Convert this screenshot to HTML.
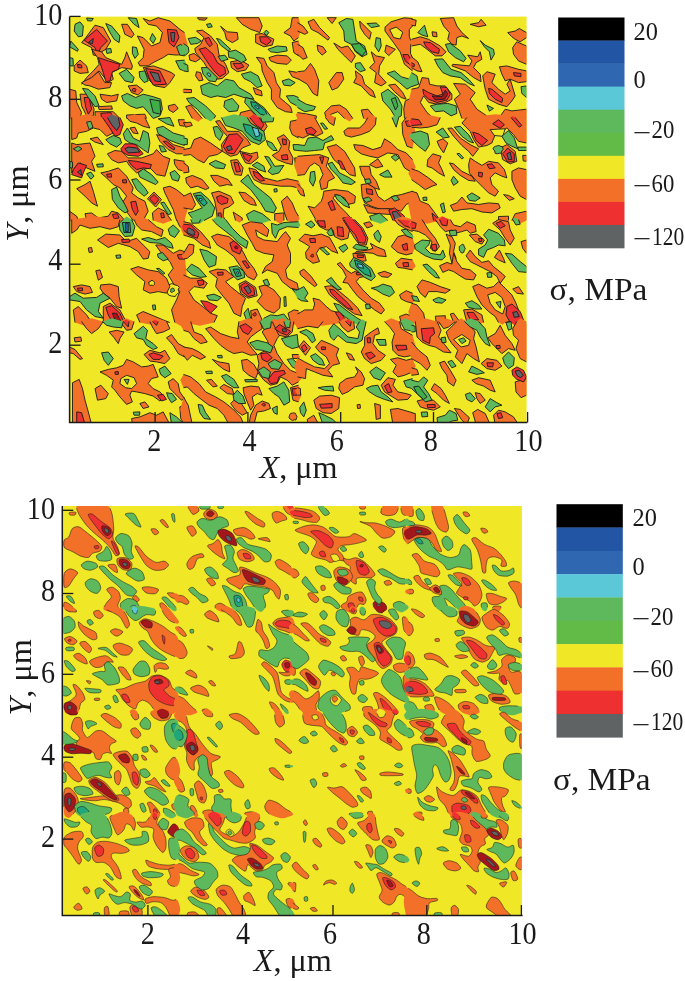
<!DOCTYPE html>
<html><head><meta charset="utf-8"><title>Stress maps</title>
<style>html,body{margin:0;padding:0;background:#fff}</style></head>
<body>
<svg width="685" height="981" viewBox="0 0 685 981" style="display:block">
<rect width="685" height="981" fill="#fff"/>
<clipPath id="c1"><rect x="69.6" y="16.6" width="457.0" height="405.9"/></clipPath>
<rect x="69.6" y="16.6" width="457.0" height="405.9" fill="#f0e826"/>
<g clip-path="url(#c1)" stroke="#1a1a1a" stroke-width="0.90" stroke-linejoin="round">
<path d="M85.8 37.6 95 25.2 103.3 27.6 110.8 41 105.8 49.3 101.6 51.8 99.1 55.9 93.3 55.1 91.6 47.6 81.6 42.6Z" fill="#f37028"/>
<path d="M84.1 40.1 96.6 29.3 107.4 41 100.8 47.6 97.5 54.3 95 47.6Z" fill="#ee3030"/>
<path d="M88.3 42.6 93.3 38.5 92.5 43.5Z" fill="#5f6364"/>
<path d="M91.6 49.3 101.6 51.8 105.8 57.6 121.6 64.3 124.9 57.6 126.6 51.8 132.4 65.9 131.6 69.3 121.6 67.6 111.6 72.6 113.3 79.2 108.3 82.6 99.1 70.9 91.6 77.6 85 81.7 81.6 84.2 86.6 77.6 93.3 70.9 99.1 64.3 97.5 57.6Z" fill="#f37028"/>
<path d="M98.3 57.6 108.3 60.9 119.9 64.3 118.3 69.3 112.4 71.7 109.9 80.9 105.8 81.7 103.3 72.6Z" fill="#ee3030"/>
<path d="M74.2 65.9 80 60.1 86.6 65.9 88.3 72.6 80 73.4 74.2 70.9Z" fill="#f37028"/>
<path d="M77.5 64.3 81.6 65.1 82 67.9 78 67.6Z" fill="#ee3030"/>
<path d="M81.6 82.6 91.6 77.6 98.3 71.7 104.9 82.6 111.6 82.6 109.9 87.6 98.3 89.2 90 85.9 85 85.1Z" fill="#f37028"/>
<path d="M121.6 24.3 127.4 24.3 134.1 34.3 131.6 37.6 124.9 34.3Z" fill="#f37028"/>
<path d="M143.2 18.5 149.9 21 158.2 17.7 169.9 21 179.8 29.3 184.5 32.6 187.7 44.4 184.5 54.3 176.5 55.1 168.2 54.3 163.2 57.6 153.2 62.6 148.2 65.9 139.9 65.9 138.2 62.6 143.2 57.6 144.1 49.3 139.9 41 137.4 36 143.2 37.6 151.5 46 159.9 42.6 162.4 32.6 156.5 26 148.2 24.3Z" fill="#f37028" stroke="none"/>
<path d="M184.5 54.3L176.5 55.1L168.2 54.3L163.2 57.6L153.2 62.6L148.2 65.9L139.9 65.9L138.2 62.6L143.2 57.6L144.1 49.3L139.9 41L137.4 36L143.2 37.6L151.5 46L159.9 42.6L162.4 32.6L156.5 26L148.2 24.3L143.2 18.5L149.9 21L158.2 17.7L169.9 21L179.8 29.3L184.5 32.6" fill="none"/>
<path d="M167.4 29.3 176.5 30.1 179 37.6 174 46.8 169 42.6Z" fill="#ee3030"/>
<path d="M170.7 32.6 174.8 32.6 174 41.8 171.5 41Z" fill="#5f6364"/>
<path d="M143.2 67.6 153.2 65.9 163.2 69.3 171.5 72.6 174.8 75.1 169.9 82.6 164.9 87.6 154.9 85.9 149.9 80.9Z" fill="#f37028"/>
<path d="M145.7 68.4 159.9 70.9 166.5 84.2 153.2 85.1 149 77.6Z" fill="#ee3030"/>
<path d="M149.9 71.7 158.2 73.4 160.7 81.7 154.9 80.9Z" fill="#5f6364"/>
<path d="M128.2 85.9 136.6 85.1 143.2 90.1 138.2 95 131.6 92.6Z" fill="#f37028"/>
<path d="M136 89.9 135.5 90.8 135.3 91.8 133.8 91.6 133.4 91.3 132.2 90.8 131.9 89.9 132.7 89.3 133.1 88.4 134.2 88.7 135.1 88.3 135.8 89.3Z" fill="#ee3030"/>
<path d="M80 94.2 88.3 94.2 94.1 109.2 93.3 115.9 86.6 115.9 81.6 105.9Z" fill="#f37028"/>
<path d="M84.1 97.5 89.1 97.5 91.6 109.2 88.3 114.2 85.8 107.5Z" fill="#ee3030"/>
<path d="M69.5 89.2 75.8 90.9 76.7 102.5 81.6 112.5 80 118.5 76 121.7 69.5 118.5 66.3 102.7Z" fill="#f37028" stroke="none"/>
<path d="M69.5 89.2L75.8 90.9L76.7 102.5L81.6 112.5L80 118.5" fill="none"/>
<path d="M100 94.2 111.6 95.9 118.3 94.2 116.6 100.9 106.6 102.5 101.6 99.2Z" fill="#f37028"/>
<path d="M98.3 106.7 111.6 105.9 112.4 109.2 99.1 109.5Z" fill="#f37028"/>
<path d="M95 111.7 113.3 111.7 119.9 118.5 108.4 121.7 95 118.5Z" fill="#f37028" stroke="none"/>
<path d="M95 118.5L95 111.7L113.3 111.7L119.9 118.5" fill="none"/>
<path d="M100.8 113.4 110.8 112.5 113.3 118.5 108.4 121.7 101.6 118.5Z" fill="#ee3030" stroke="none"/>
<path d="M101.6 118.5L100.8 113.4L110.8 112.5L113.3 118.5" fill="none"/>
<path d="M168.2 105.9 174.8 104.2 178.2 108.4 173.2 112.5 169 110Z" fill="#f37028"/>
<path d="M126.6 115 144.9 114.2 146.6 118.5 137.5 121.7 126.6 118.5Z" fill="#f37028" stroke="none"/>
<path d="M126.6 118.5L126.6 115L144.9 114.2L146.6 118.5" fill="none"/>
<path d="M75 24.3 80 21.8 83.3 26 82.5 36 78.3 36.8 74.2 31Z" fill="#5eb95c"/>
<path d="M86.6 18 93.3 18.5 91.6 21 87.5 20.7Z" fill="#5eb95c"/>
<path d="M105.8 23.5 111.6 26 119.9 36 119.1 42.6 114.1 39.3 109.1 31Z" fill="#5eb95c"/>
<path d="M128.2 17.7 136.6 18.5 139.1 27.6 134.1 24.3Z" fill="#5eb95c"/>
<path d="M152.4 33.5 155.7 38.5 153.2 43.5 149.9 39.3Z" fill="#5eb95c"/>
<path d="M132.4 46.8 136.6 47.6 138.2 54.3 134.9 58.4 132.4 53.4Z" fill="#5eb95c"/>
<path d="M105.8 49 110.8 48.5 111.6 52.6 106.9 53.4Z" fill="#5eb95c"/>
<path d="M70.8 41 78.3 49.3 77.5 51.3 69.5 46.8Z" fill="#5eb95c"/>
<path d="M119.1 73.4 126.6 69.3 134.1 77.6 132.4 82.6 124.9 80.9Z" fill="#5eb95c"/>
<path d="M139.1 71.7 144.9 70.9 148.2 80.9 144.1 82.6 139.9 77.6Z" fill="#5eb95c"/>
<path d="M121.6 95.9 127.4 93.4 135.7 97.5 143.2 94.2 153.2 96.7 160.7 99.2 162.4 109.2 159.9 115.9 153.2 118.5 148.2 112.5 143.2 106.7 136.6 108.4 129.9 105.9 123.3 100.9Z" fill="#5eb95c"/>
<path d="M149.9 99.2 159.9 100.9 160.7 114.2 153.2 112.5Z" fill="#3fae49"/>
<path d="M82.5 88.4 88.3 89.2 95 95.9 99.1 105.9 95 106.7 88.3 97.5Z" fill="#5eb95c"/>
<path d="M175.7 60.9 184.5 60.1 187.7 66.5 184.5 70.9 179.8 69.3Z" fill="#5eb95c" stroke="none"/>
<path d="M184.5 70.9L179.8 69.3L175.7 60.9L184.5 60.1" fill="none"/>
<path d="M176.5 46.8 180.7 44.3 184.5 47.6 187.4 52.7 184.5 55.9 179.8 55.1Z" fill="#5eb95c" stroke="none"/>
<path d="M184.5 55.9L179.8 55.1L176.5 46.8L180.7 44.3L184.5 47.6" fill="none"/>
<path d="M183.7 50 183.6 50.8 182.9 51.1 182.3 51 182 50.5 181.8 49.7 182.4 49.1 183.2 49 183.4 49.5Z" fill="#5bc8d8"/>
<path d="M69.5 57.6 73 58.4 73.3 65.9 69.5 65.9 66.6 60.9Z" fill="#5eb95c" stroke="none"/>
<path d="M69.5 57.6L73 58.4L73.3 65.9L69.5 65.9" fill="none"/>
<path d="M236.4 17.7 258.9 17.7 262.2 26 259.7 32.6 255.6 31 250.6 29.3 242.2 24.3Z" fill="#f37028"/>
<path d="M255.6 34.3 262.2 33.5 273.9 39.3 272.2 45.1 263.9 46.8 255.6 42.6Z" fill="#f37028"/>
<path d="M259.7 36.8 267.2 36.8 271.4 41 266.4 45.1 260.6 41.8Z" fill="#ee3030"/>
<path d="M220.6 26.3 227.3 31.8 237.3 32.6 238.1 39.3 232.3 42.6 226.4 39.3 224.8 32.6Z" fill="#f37028"/>
<path d="M196.5 31 202.3 30.1 210.6 36 217.3 44.3 218.9 54.3 225.6 64.3 228.9 72.6 222.3 78.4 217.3 79.2 209 70.9 204 62.6 195.6 52.6 194.8 48.5 200.6 44.3 204 37.6Z" fill="#f37028"/>
<path d="M199 49.3 205.6 47.6 213.1 54.3 217.3 62.6 224.8 67.6 225.6 73.4 219.8 76.7 214 70.9 209 64.3 205.6 59.3Z" fill="#ee3030"/>
<path d="M204.8 38.5 209 37.6 212.3 44.3 209.8 46.8 206.5 42.6Z" fill="#ee3030"/>
<path d="M189 55.1 194 53.4 200.6 58.4 195.6 61.8 189.8 60.1Z" fill="#f37028"/>
<path d="M196.5 71.7 200.6 72.6 203.1 80.1 199 80.9 195.6 75.9Z" fill="#f37028"/>
<path d="M230.6 61.8 240.6 60.1 248.9 65.1 245.6 70.1 237.3 71.7 231.4 67.6Z" fill="#f37028"/>
<path d="M233.1 63.4 241.4 63.4 243.9 66.8 237.3 69.3Z" fill="#ee3030"/>
<path d="M256.4 57.3 263.9 58.4 267.2 65.9 273.9 72.6 276.4 82.6 280.5 89.2 279.7 97.5 285.5 102.5 290.5 106.7 292.2 112.5 285.5 111.7 277.2 107.5 271.4 99.2 271.4 89.2 267.2 82.6 262.2 70.9 261.4 64.3Z" fill="#f37028"/>
<path d="M268.9 57.6 277.2 55.1 287.2 55.9 291.3 60.1 287.2 64.3 277.2 63.4 270.5 60.9Z" fill="#f37028"/>
<path d="M292.2 17.7 298.5 17.7 301.7 28.6 298.5 37.6 293.8 41 290.5 36 283.9 32.6 290.5 27.6Z" fill="#f37028" stroke="none"/>
<path d="M298.5 37.6L293.8 41L290.5 36L283.9 32.6L290.5 27.6L292.2 17.7L298.5 17.7" fill="none"/>
<path d="M292.2 42.6 298.5 41 301.7 49.4 298.5 55.9 293.8 52.6Z" fill="#f37028" stroke="none"/>
<path d="M298.5 55.9L293.8 52.6L292.2 42.6L298.5 41" fill="none"/>
<path d="M288.8 70.9 298.5 72.6 300.8 76.6 298.5 79.2 292.2 76.7Z" fill="#f37028" stroke="none"/>
<path d="M298.5 79.2L292.2 76.7L288.8 70.9L298.5 72.6" fill="none"/>
<path d="M253.1 87.6 261.4 90.9 262.2 95.9 255.6 94.2Z" fill="#f37028"/>
<path d="M185.7 106.7 190.7 105 202.3 118.5 198.3 121.7 192.3 118.5Z" fill="#f37028" stroke="none"/>
<path d="M192.3 118.5L185.7 106.7L190.7 105L202.3 118.5" fill="none"/>
<path d="M240.6 112.5 250.6 110 258.9 118.5 249.9 121.7 238.9 118.5Z" fill="#f37028" stroke="none"/>
<path d="M238.9 118.5L240.6 112.5L250.6 110L258.9 118.5" fill="none"/>
<path d="M197.3 17.7 207.3 18 204.8 20.2 199 19.7Z" fill="#f37028"/>
<path d="M183.5 89.2 191.5 89.6 191.5 92.6 183.5 92.6 182.3 90.5Z" fill="#f37028" stroke="none"/>
<path d="M183.5 89.2L191.5 89.6L191.5 92.6L183.5 92.6" fill="none"/>
<path d="M206.5 24.3 210.6 23.5 212.3 26.8 208.1 27.6Z" fill="#5eb95c"/>
<path d="M188.2 38.5 195.6 37.3 201.5 41 197.3 43.5 190.7 44.3Z" fill="#5eb95c"/>
<path d="M183.5 43.5 188.2 46.8 189 51.8 185.7 55.1 183.5 55.1 180.3 48.3Z" fill="#5eb95c" stroke="none"/>
<path d="M183.5 43.5L188.2 46.8L189 51.8L185.7 55.1L183.5 55.1" fill="none"/>
<path d="M183.5 63.4 187.7 65.1 188.2 71.7 183.5 70.9 180.9 66.4Z" fill="#5eb95c" stroke="none"/>
<path d="M183.5 63.4L187.7 65.1L188.2 71.7L183.5 70.9" fill="none"/>
<path d="M216.5 38.5 219.8 39.3 230.6 49.3 228.1 50.9 220.6 45.1Z" fill="#5eb95c"/>
<path d="M228.1 51.8 235.6 50.1 243.9 55.1 246.4 60.1 241.4 62.6 233.9 58.4 228.9 57.6Z" fill="#5eb95c"/>
<path d="M218.1 56.3 224.8 55.1 228.1 59.3 221.4 61.3Z" fill="#5eb95c"/>
<path d="M266.4 30.1 268.9 32.6 266.4 35.6 263.9 32.6Z" fill="#5eb95c"/>
<path d="M268 49.3 277.2 46 286.3 46.8 287.2 50.9 277.2 52.6 270.5 51.8Z" fill="#5eb95c"/>
<path d="M241.4 74.2 250.6 71.7 258.1 75.9 262.2 85.9 257.2 87.6 250.6 81.7 243.9 78.4Z" fill="#5eb95c"/>
<path d="M282.2 80.9 288.8 78.9 295.2 82.6 290.5 85.9 283.9 85.1Z" fill="#5eb95c"/>
<path d="M286.3 95.9 293.8 95.5 298.5 97.5 301.7 103.1 298.5 106.7 290.5 102.5Z" fill="#5eb95c" stroke="none"/>
<path d="M298.5 106.7L290.5 102.5L286.3 95.9L293.8 95.5L298.5 97.5" fill="none"/>
<path d="M200.6 85.9 209 82.6 217.3 85.9 225.6 79.2 233.9 80.9 238.9 87.6 250.6 94.2 253.9 99.2 243.9 97.5 233.9 94.2 225.6 97.5 217.3 95.9 210.6 97.5 202.3 94.2Z" fill="#5eb95c"/>
<path d="M201.5 67.6 207.3 67.6 217.3 77.6 215.6 81.7 209 80.9 203.1 74.2Z" fill="#5eb95c"/>
<path d="M210.8 76 210.2 76.3 209 76.2 208 75.5 207.1 74.2 207.2 73.7 207.7 72.8 208.7 73 209.3 73.1 210.6 74.5 210.5 75.2Z" fill="#5bc8d8"/>
<path d="M186.5 98.4 194 97.5 205.6 105.9 215.6 115.9 214 118.5 210.7 121.4 205.6 118.5 197.3 109.2 189 102.5Z" fill="#5eb95c" stroke="none"/>
<path d="M205.6 118.5L197.3 109.2L189 102.5L186.5 98.4L194 97.5L205.6 105.9L215.6 115.9L214 118.5" fill="none"/>
<path d="M224.8 100.9 232.3 98.4 238.9 105.9 237.3 110.9 228.9 111.7 223.9 106.7Z" fill="#5eb95c"/>
<path d="M245.6 97.5 252.2 99.2 263.9 107.5 270.5 115.9 268.9 118.5 264.8 121.7 258.9 118.5 250.6 109.2 244.7 102.5Z" fill="#5eb95c" stroke="none"/>
<path d="M258.9 118.5L250.6 109.2L244.7 102.5L245.6 97.5L252.2 99.2L263.9 107.5L270.5 115.9L268.9 118.5" fill="none"/>
<path d="M250.6 101.7 255.6 102.5 265.5 110.9 267.2 115.9 260.6 114.2 252.2 106.7Z" fill="#1fa77a"/>
<path d="M259.1 108.7 258.6 108.8 257.5 108.6 256.4 107.9 255.4 106.8 254.8 106.1 255.3 105.4 255.5 105.1 256.7 105.9 257.8 106.4 258.8 107.2 259.2 108.2Z" fill="#5bc8d8"/>
<path d="M297.5 22.7 303 26 308 32.6 304.7 34.3 297.5 31 294.6 25.9Z" fill="#f37028" stroke="none"/>
<path d="M297.5 22.7L303 26L308 32.6L304.7 34.3L297.5 31" fill="none"/>
<path d="M308 21.8 313.8 19.3 319.6 27.6 329.6 37.6 328 40.1 318 32.6 311.3 29.3Z" fill="#f37028"/>
<path d="M327.1 17.7 336.3 17.7 332.1 23.5Z" fill="#f37028"/>
<path d="M297.5 44.3 303 47.6 307.2 57.6 303 59.3 297.5 54.3 294.3 48.3Z" fill="#f37028" stroke="none"/>
<path d="M297.5 44.3L303 47.6L307.2 57.6L303 59.3L297.5 54.3" fill="none"/>
<path d="M317.1 45.1 323 46.8 326.3 51.8 322.1 55.1 318 50.9Z" fill="#f37028"/>
<path d="M333.8 43 341.3 47.6 347.9 46 355.4 55.9 351.3 62.6 344.6 55.9 337.9 49.3Z" fill="#f37028"/>
<path d="M297.5 71.7 304.7 70.9 310.5 63.4 314.6 69.3 318.8 80.9 317.6 95.9 313 93.4 307.2 84.2 297.5 78.4 295.2 74.4Z" fill="#f37028" stroke="none"/>
<path d="M297.5 71.7L304.7 70.9L310.5 63.4L314.6 69.3L318.8 80.9L317.6 95.9L313 93.4L307.2 84.2L297.5 78.4" fill="none"/>
<path d="M328.8 82.6 336.3 72.6 342.1 72.6 343.8 79.2 337.9 87.6 332.1 90.1Z" fill="#f37028"/>
<path d="M355.4 70.9 362.1 75.9 364.6 84.2 372.9 90.9 375.4 97.5 369.6 95 361.2 85.9 353.7 82.6 356.2 77.6Z" fill="#f37028"/>
<path d="M371.2 51.8 376.2 55.9 384.5 57.6 379.5 65.9 378.7 74.2 386.2 82.6 381.2 85.9 374.6 82.6 376.2 72.6 369.6 67.6 374.6 62.6Z" fill="#f37028"/>
<path d="M359.6 21 364.6 26 371.2 32.6 369.6 39.3 364.6 34.3 360.4 27.6Z" fill="#f37028"/>
<path d="M386.2 45.1 395.4 49.3 388.7 55.6 384.9 51.8Z" fill="#f37028"/>
<path d="M385 27.1 391 21.8 404.2 17.8 412.5 18.5 415.1 23 412.5 26 409.3 29.6 409.3 36.3 410.8 41 410.5 53.4 412.5 57.6 415.7 65.2 412.5 70.9 404.5 64.3 400.2 52.1 393.7 42.8 385 31Z" fill="#f37028" stroke="none"/>
<path d="M412.5 26L409.3 29.6L409.3 36.3L410.8 41L410.5 53.4L412.5 57.6M412.5 70.9L404.5 64.3L400.2 52.1L393.7 42.8L385 31L385 27.1L391 21.8L404.2 17.8L412.5 18.5" fill="none"/>
<path d="M389.7 29.6 396.2 27.1 402.8 32.3 400.2 39 393.7 37.6Z" fill="#f0e826"/>
<path d="M402.8 54.6 408 54.6 412.5 61.8 414.1 64.6 412.5 66.4 405.5 61.3Z" fill="#ee3030" stroke="none"/>
<path d="M412.5 66.4L405.5 61.3L402.8 54.6L408 54.6L412.5 61.8" fill="none"/>
<path d="M388.7 85.1 395.4 84.2 402.8 92.6 406.2 99.2 401.2 97.5 394.5 91.7Z" fill="#f37028"/>
<path d="M405.3 100.9 412.5 97.5 415.7 108.7 412.5 118.5 409 121.1 404.5 118.5 403.7 109.2Z" fill="#f37028" stroke="none"/>
<path d="M404.5 118.5L403.7 109.2L405.3 100.9L412.5 97.5" fill="none"/>
<path d="M324.6 112.5 331.3 105.9 339.6 105 346.3 109.2 352.9 118.5 349.6 121.4 344.6 118.5 337.9 111.7 331.3 114.2 326.3 118.5Z" fill="#f37028" stroke="none"/>
<path d="M344.6 118.5L337.9 111.7L331.3 114.2L326.3 118.5L324.6 112.5L331.3 105.9L339.6 105L346.3 109.2L352.9 118.5" fill="none"/>
<path d="M361.2 110 367.9 109.2 375.4 118.5 370.5 121.7 363.7 118.5Z" fill="#f37028" stroke="none"/>
<path d="M363.7 118.5L361.2 110L367.9 109.2L375.4 118.5" fill="none"/>
<path d="M297.5 112.5 308 114.2 316.3 115.9 316.3 118.5 308.1 121.7 297.5 118.5 295.6 114.7Z" fill="#f37028" stroke="none"/>
<path d="M297.5 112.5L308 114.2L316.3 115.9L316.3 118.5" fill="none"/>
<path d="M338.8 22.7 346.3 18.5 352.9 19.3 356.2 41 364.6 46 367.1 54.3 362.1 56.8 355.4 51.8 351.3 44.3 344.6 41 343.8 31Z" fill="#5eb95c"/>
<path d="M351.3 44.3 359.6 43.5 366.2 50.9 362.1 55.9 355.4 50.9Z" fill="#3fae49"/>
<path d="M367.1 23.5 376.2 23 379.5 26 371.2 27.6Z" fill="#5eb95c"/>
<path d="M376.2 37.6 380.4 38.5 381.2 46 378.7 51.8 374.9 46Z" fill="#5eb95c"/>
<path d="M355.4 63.4 360.4 62.6 365.4 70.1 360.4 71.7 355.4 67.6Z" fill="#5eb95c"/>
<path d="M387 73.4 394.5 70.9 401.2 76.7 412.5 80.1 414.5 83.6 412.5 85.9 407 89.2 399.5 82.6 392.9 77.6Z" fill="#5eb95c" stroke="none"/>
<path d="M412.5 85.9L407 89.2L399.5 82.6L392.9 77.6L387 73.4L394.5 70.9L401.2 76.7L412.5 80.1" fill="none"/>
<path d="M381.2 93.4 387.9 89.2 397.9 97.5 402 105.9 401.2 115.9 396.2 118.5 390.4 109.2 382.9 100.9Z" fill="#5eb95c"/>
<path d="M391.2 99.2 395.4 97.5 397.9 105.9 395.4 110Z" fill="#3fae49"/>
<path d="M297.5 99.2 306.3 104.2 315.5 106.7 313.8 110 304.7 111.7 297.5 107.5 294.6 102.5Z" fill="#5eb95c" stroke="none"/>
<path d="M297.5 99.2L306.3 104.2L315.5 106.7L313.8 110L304.7 111.7L297.5 107.5" fill="none"/>
<path d="M411.5 19.3 416.2 20.2 415.3 26 411.5 25.2 409.5 21.6Z" fill="#f37028" stroke="none"/>
<path d="M411.5 19.3L416.2 20.2L415.3 26L411.5 25.2" fill="none"/>
<path d="M440.3 18.5 453.6 17.7 456.9 26 461.9 32.6 468.6 38.5 461.9 36 456.9 37.6 456.1 45.1 451.9 44.3 447.8 39.3 449.4 32.6 443.6 26Z" fill="#f37028"/>
<path d="M470.2 24.3 478.6 22.7 481.1 19.3 486.1 25.2 478.6 26.8Z" fill="#f37028"/>
<path d="M432 31.8 436.6 32.3 437 36.8 432.8 36.3Z" fill="#f37028"/>
<path d="M507.7 32.6 515.2 31 519.3 28.5 526.5 32.6 528.2 35.7 526.5 37.6 520.2 41.8 515.2 39.3 511.9 36.8Z" fill="#f37028" stroke="none"/>
<path d="M526.5 37.6L520.2 41.8L515.2 39.3L511.9 36.8L507.7 32.6L515.2 31L519.3 28.5L526.5 32.6" fill="none"/>
<path d="M512.7 47.6 516.8 41.8 526.5 46 529.7 56.1 526.5 64.3 518.5 60.9 513.5 54.3Z" fill="#f37028" stroke="none"/>
<path d="M526.5 64.3L518.5 60.9L513.5 54.3L512.7 47.6L516.8 41.8L526.5 46" fill="none"/>
<path d="M411.5 39.3 420.3 36.8 428.6 39.3 440.3 46 446.1 51.8 442 55.9 435.3 55.9 427 49.3 420.3 44.3 411.5 46 409.2 41.9Z" fill="#f37028" stroke="none"/>
<path d="M411.5 39.3L420.3 36.8L428.6 39.3L440.3 46L446.1 51.8L442 55.9L435.3 55.9L427 49.3L420.3 44.3L411.5 46" fill="none"/>
<path d="M423.6 41.8 430.3 42.6 439.5 49.3 438.6 53.4 432 51.8 426.1 46.8Z" fill="#ee3030"/>
<path d="M411.5 56.8 417.8 61.8 422 71.7 417 70.9 411.5 67.6 408.3 61.2Z" fill="#f37028" stroke="none"/>
<path d="M411.5 56.8L417.8 61.8L422 71.7L417 70.9L411.5 67.6" fill="none"/>
<path d="M411.5 62.6 414.5 64.3 414 66.8 411.5 65.9 410.3 63.9Z" fill="#ee3030" stroke="none"/>
<path d="M411.5 62.6L414.5 64.3L414 66.8L411.5 65.9" fill="none"/>
<path d="M467.7 55.1 477.7 56.8 480.2 51.8 481.9 59.3 476.1 62.6 473.6 67.6 480.2 74.2 481.1 81.7 473.6 77.6 465.3 70.9 451.9 65.9 452.8 64.3 469.4 65.9 471.9 60.9Z" fill="#f37028"/>
<path d="M482.7 75.9 486.9 71.7 495.2 74.2 491.9 82.6 498.5 89.2 505.2 94.2 510.2 90.9 506.9 84.2 510.2 79.2 515.2 95.9 511.9 100.9 506.9 106.7 498.5 104.2 488.6 99.2 485.2 89.2Z" fill="#f37028"/>
<path d="M488.6 88.4 491.9 89.2 502.7 98.4 501.9 102.5 495.2 99.2 489.4 93.4Z" fill="#ee3030"/>
<path d="M499.4 66.8 506.9 65.9 518.5 69.3 526.5 70.9 529.7 77.3 526.5 81.7 518.5 82.6 510.2 79.2 505.2 80.9 501.9 74.2Z" fill="#f37028" stroke="none"/>
<path d="M526.5 81.7L518.5 82.6L510.2 79.2L505.2 80.9L501.9 74.2L499.4 66.8L506.9 65.9L518.5 69.3L526.5 70.9" fill="none"/>
<path d="M513.5 72.6 521 73.4 521 76.7 514.3 75.9Z" fill="#ee3030"/>
<path d="M411.5 89.2 418.7 87.6 422 77.6 428.6 78.4 429.5 84.2 437 85.9 445.3 85.9 451.9 94.2 451.9 99.2 445.3 102.5 437 104.2 428.6 102.5 423.6 95.9 420.3 102.5 427 112.5 433.6 118.5 423.8 121.7 411.5 118.5 408.3 102.7Z" fill="#f37028" stroke="none"/>
<path d="M411.5 89.2L418.7 87.6L422 77.6L428.6 78.4L429.5 84.2L437 85.9L445.3 85.9L451.9 94.2L451.9 99.2L445.3 102.5L437 104.2L428.6 102.5L423.6 95.9L420.3 102.5L427 112.5L433.6 118.5" fill="none"/>
<path d="M422.8 89.2 428.6 92.6 437 95.9 442.8 94.2 440.3 86.7 446.9 87.6 450.3 94.2 446.9 100 437 102.5 428.6 99.2 423.6 94.2Z" fill="#ee3030"/>
<path d="M432 95.9 442 96.7 445.3 90.1 447.8 94.2 444.5 99.2 435.3 100Z" fill="#a3161b"/>
<path d="M453.6 83.4 465.3 84.2 475.2 92.6 470.2 99.2 476.9 109.2 486.9 115.9 486.9 118.5 475.4 121.7 461.9 118.5 458.6 109.2 454.4 99.2 460.3 94.2Z" fill="#f37028" stroke="none"/>
<path d="M461.9 118.5L458.6 109.2L454.4 99.2L460.3 94.2L453.6 83.4L465.3 84.2L475.2 92.6L470.2 99.2L476.9 109.2L486.9 115.9L486.9 118.5" fill="none"/>
<path d="M498.5 118.5 505.2 109.2 511.9 110.9 526.5 109.2 529.6 114.5 526.5 118.5 513.2 121.7Z" fill="#f37028" stroke="none"/>
<path d="M498.5 118.5L505.2 109.2L511.9 110.9L526.5 109.2" fill="none"/>
<path d="M417.8 32.6 424.5 25.2 427.8 36.8 422 35.1Z" fill="#5eb95c"/>
<path d="M445.3 44.3 450.3 43.5 460.3 50.9 466.1 58.4 463.6 61.8 455.3 57.6 448.6 51.8Z" fill="#5eb95c"/>
<path d="M480.2 40.6 485.2 45.1 493.5 49.3 494.4 54.3 491 60.1 489.4 51.8 484.4 46.8Z" fill="#5eb95c"/>
<path d="M434.5 59.3 442.8 58.9 451.1 69.3 461.1 72.6 469.4 80.1 474.4 85.9 468.6 83.4 460.3 77.6 450.3 75.9 442.8 72.6 437.8 65.9Z" fill="#5eb95c"/>
<path d="M411.5 72.6 417 75.9 418.7 84.2 411.5 86.7 408.3 78.7Z" fill="#5eb95c" stroke="none"/>
<path d="M411.5 72.6L417 75.9L418.7 84.2L411.5 86.7" fill="none"/>
<path d="M430.3 105.9 437 104.2 447.8 103.4 456.1 105.9 456.9 113.4 451.1 115.9 443.6 110.9 435.3 111.7Z" fill="#5eb95c"/>
<path d="M521 86.7 526.5 85.9 529.7 92.7 526.5 97.5 521.8 93.4Z" fill="#5eb95c" stroke="none"/>
<path d="M526.5 97.5L521.8 93.4L521 86.7L526.5 85.9" fill="none"/>
<path d="M486.9 105 493.5 108.4 489.4 111.2Z" fill="#5eb95c"/>
<path d="M71.7 117.5 86.5 114.3 103.3 117.5 113.3 133 106.6 136.3 100 129.6 93.3 128 86.6 131.3 78.3 133 76.7 138 71.7 139.6Z" fill="#f37028" stroke="none"/>
<path d="M103.3 117.5L113.3 133L106.6 136.3L100 129.6L93.3 128L86.6 131.3L78.3 133L76.7 138L71.7 139.6L71.7 117.5" fill="none"/>
<path d="M90 138.8 97.5 137.1 103.3 144.6 95 142.1Z" fill="#f37028"/>
<path d="M102.5 117.5 110.2 114.3 119.9 117.5 123.3 124.7 119.9 134.6 114.9 136.3 109.9 128Z" fill="#ee3030" stroke="none"/>
<path d="M119.9 117.5L123.3 124.7L119.9 134.6L114.9 136.3L109.9 128L102.5 117.5" fill="none"/>
<path d="M107.4 117.5 111.9 114.3 118.3 117.5 119.9 125.5 116.6 130.5 111.6 124.7Z" fill="#5f6364" stroke="none"/>
<path d="M118.3 117.5L119.9 125.5L116.6 130.5L111.6 124.7L107.4 117.5" fill="none"/>
<path d="M71.7 143 76.7 144.6 90 143 95 156.3 91.6 161.3 95 171.3 86.6 167.9 80 162.9 75 167.9 71.7 172.9Z" fill="#f37028"/>
<path d="M73.3 169.6 78.3 162.9 86.6 165.4 83.3 172.9 81.6 177.9 71.7 174.6Z" fill="#ee3030"/>
<path d="M77.5 172.1 80.8 169.6 81.6 175.4Z" fill="#5f6364"/>
<path d="M107.4 153.8 114.9 150.5 121.6 151.3 128.2 157.9 141.6 157.9 153.2 153.8 156.5 149.6 163.2 156.3 169.9 158.8 167.4 167.9 164.9 176.2 156.5 174.6 149.9 167.9 143.2 169.6 136.6 172.9 129.9 166.3 126.6 161.3 118.3 162.9 111.6 159.6Z" fill="#f37028"/>
<path d="M128.2 160.4 136.6 161.3 151.5 164.6 149.9 168.8 143.2 167.9 136.6 169.6 131.6 165.4Z" fill="#ee3030"/>
<path d="M120.8 148.8 124.9 143.8 134.9 143.8 143.2 153.8 138.2 156.3 128.2 155.4 122.4 152.1Z" fill="#ee3030"/>
<path d="M124.9 148.8 128.2 147.1 136.6 148 139.9 152.1 128.2 152.9Z" fill="#5f6364"/>
<path d="M100.8 172.9 108.3 171.3 118.3 167.9 126.6 176.2 133.2 187.9 131.6 192.9 138.2 197.9 144.9 201.2 148.2 211.2 143.2 220.5 139.2 223.7 133.2 220.5 124.9 209.5 123.3 201.2 126.6 196.2 119.9 187.9 113.3 184.6 106.6 177.9Z" fill="#f37028" stroke="none"/>
<path d="M133.2 220.5L124.9 209.5L123.3 201.2L126.6 196.2L119.9 187.9L113.3 184.6L106.6 177.9L100.8 172.9L108.3 171.3L118.3 167.9L126.6 176.2L133.2 187.9L131.6 192.9L138.2 197.9L144.9 201.2L148.2 211.2L143.2 220.5" fill="none"/>
<path d="M106.6 174.2 111.3 173.7 111.6 177.1 107.4 177.1Z" fill="#ee3030"/>
<path d="M122.4 179.9 126.2 179.6 126.6 182.9 122.9 182.9Z" fill="#ee3030"/>
<path d="M130.7 202 135.7 201.2 138.2 211.2 135.7 215.4 132.4 209.5Z" fill="#ee3030"/>
<path d="M76.7 188.7 85 184.6 90 181.2 93.3 191.2 97.5 206.2 91.6 202.9 85 196.2Z" fill="#f37028"/>
<path d="M174 159.6 184.5 161.3 187.7 167.2 184.5 171.3 178.2 169.6 174.8 164.6Z" fill="#f37028" stroke="none"/>
<path d="M184.5 171.3L178.2 169.6L174.8 164.6L174 159.6L184.5 161.3" fill="none"/>
<path d="M163.2 187.9 169.9 186.2 176.5 189.6 184.5 196.2 187.7 209.1 184.5 220.5 181 223.1 176.5 220.5 173.2 209.5 168.2 199.5 164.9 192.9Z" fill="#f37028" stroke="none"/>
<path d="M176.5 220.5L173.2 209.5L168.2 199.5L164.9 192.9L163.2 187.9L169.9 186.2L176.5 189.6L184.5 196.2" fill="none"/>
<path d="M156.5 134.6 163.2 136.3 173.2 144.6 184.5 148 186.5 151.5 184.5 153.8 176.5 153.8 168.2 149.6 159.9 141.3Z" fill="#f37028" stroke="none"/>
<path d="M184.5 153.8L176.5 153.8L168.2 149.6L159.9 141.3L156.5 134.6L163.2 136.3L173.2 144.6L184.5 148" fill="none"/>
<path d="M163.2 141.3 166.5 141.3 174.8 148 174 150 168.2 146.3Z" fill="#ee3030"/>
<path d="M126.6 117.5 134.8 114.3 144.9 117.5 149.9 128 143.2 126.3 136.6 123 129.9 121.3Z" fill="#f37028" stroke="none"/>
<path d="M144.9 117.5L149.9 128L143.2 126.3L136.6 123L129.9 121.3L126.6 117.5" fill="none"/>
<path d="M129.9 128 134.9 127.2 138.2 133.8 133.2 133Z" fill="#f37028"/>
<path d="M178.2 119.7 184.5 119.7 186.8 123.7 184.5 126.3 179.8 125.5Z" fill="#f37028" stroke="none"/>
<path d="M184.5 126.3L179.8 125.5L178.2 119.7L184.5 119.7" fill="none"/>
<path d="M147.4 198.7 154 192.1 161.5 199.5 155.7 207Z" fill="#f37028"/>
<path d="M149.5 198.7 154 194.6 159 199.5 154.9 204.5Z" fill="#ee3030"/>
<path d="M152.4 212.9 158.2 207.9 164.9 211.2 171.5 220.5 163.3 223.7 153.2 220.5Z" fill="#f37028" stroke="none"/>
<path d="M153.2 220.5L152.4 212.9L158.2 207.9L164.9 211.2L171.5 220.5" fill="none"/>
<path d="M160.7 213.2 163.5 212.9 164.5 217.5 161.5 217.9Z" fill="#ee3030"/>
<path d="M85 213.7 91.6 212.9 98.3 217.9 108.3 216.2 111.6 211.2 118.3 212.9 124.9 220.5 106.7 223.7 86.6 220.5Z" fill="#f37028" stroke="none"/>
<path d="M86.6 220.5L85 213.7L91.6 212.9L98.3 217.9L108.3 216.2L111.6 211.2L118.3 212.9L124.9 220.5" fill="none"/>
<path d="M112.4 214.5 117.4 213.7 119.1 217.9 114.1 218.8Z" fill="#ee3030"/>
<path d="M69.5 211.2 76.7 216.2 78.3 220.5 75 223.4 69.5 220.5 66.4 214.7Z" fill="#f37028" stroke="none"/>
<path d="M69.5 211.2L76.7 216.2L78.3 220.5" fill="none"/>
<path d="M86.6 122.2 90.8 121.3 93 127.2 89.1 129.6Z" fill="#5eb95c"/>
<path d="M73.3 148.8 78.3 146.3 82 148.8 77.5 151.6Z" fill="#5eb95c"/>
<path d="M105.8 139.6 113.3 135.5 119.9 138 121.6 143 116.6 147.1 109.9 143.8Z" fill="#5eb95c"/>
<path d="M123.3 133.8 127.4 128 133.2 138 139.9 141.3 143.2 130.5 148.2 133 149.9 143 148.2 152.9 143.2 149.6 136.6 144.6 129.9 143 124.9 139.6Z" fill="#5eb95c"/>
<path d="M156.5 128 163.2 126.3 173.2 133 184.5 136.3 187.7 141.8 184.5 145.5 176.5 143 168.2 139.6 158.2 133.8Z" fill="#5eb95c" stroke="none"/>
<path d="M184.5 145.5L176.5 143L168.2 139.6L158.2 133.8L156.5 128L163.2 126.3L173.2 133L184.5 136.3" fill="none"/>
<path d="M158.2 118.8 169.9 117.5 174 126.3 166.5 123.8Z" fill="#5eb95c"/>
<path d="M159 145.5 163.2 146.3 166.5 151.3 161.5 152.1Z" fill="#5eb95c"/>
<path d="M138.2 172.9 143.2 168.8 151.5 174.6 158.2 182.1 155.7 184.6 146.6 180.4 139.9 177.1Z" fill="#5eb95c"/>
<path d="M131.6 179.6 136.6 178.7 144.9 187.9 148.2 192.9 144.1 196.2 136.6 189.6Z" fill="#5eb95c"/>
<path d="M169.9 172.9 174.8 170.4 179.8 176.2 178.2 181.2 172.3 179.6Z" fill="#5eb95c"/>
<path d="M86.6 173.7 90.8 172.1 94.1 176.2 90.8 179.2Z" fill="#5eb95c"/>
<path d="M96.6 164.3 103 163.8 103.3 166.8 97.5 167.1Z" fill="#5eb95c"/>
<path d="M111.6 189.6 116.6 187.1 119.9 196.2 124.9 204.5 128.2 211.2 124.9 212.9 118.3 207.9 112.4 199.5Z" fill="#5eb95c"/>
<path d="M160.7 202.9 164 202 171.5 213.7 168.2 214.5Z" fill="#5eb95c"/>
<path d="M69.5 161.3 72.5 162.1 72.5 167.9 69.5 167.9 67.2 163.9Z" fill="#5eb95c" stroke="none"/>
<path d="M69.5 161.3L72.5 162.1L72.5 167.9L69.5 167.9" fill="none"/>
<path d="M183.5 149.6 190.7 148 194 139.6 200.6 137.1 210.6 143 222.3 151.3 217.3 154.6 209 156.3 204 162.9 197.3 159.6 190.7 154.6 183.5 155.4 181.5 151.9Z" fill="#f37028" stroke="none"/>
<path d="M183.5 149.6L190.7 148L194 139.6L200.6 137.1L210.6 143L222.3 151.3L217.3 154.6L209 156.3L204 162.9L197.3 159.6L190.7 154.6L183.5 155.4" fill="none"/>
<path d="M183.5 122.7 190.7 122.2 192.3 125.5 185.7 127.2Z" fill="#f37028"/>
<path d="M221.4 117.5 234.2 114.3 248.9 117.5 253.9 124.7 263.9 131.3 265.5 139.6 258.9 144.6 250.6 141.3 242.2 131.3 233.9 128 225.6 125.5Z" fill="#5eb95c" stroke="none"/>
<path d="M248.9 117.5L253.9 124.7L263.9 131.3L265.5 139.6L258.9 144.6L250.6 141.3L242.2 131.3L233.9 128L225.6 125.5L221.4 117.5" fill="none"/>
<path d="M243.1 123.8 250.6 125.5 262.2 134.6 260.6 141.3 253.9 138.8 245.6 131.3Z" fill="#1fa77a"/>
<path d="M252.2 127.2 258.1 128.8 259.7 135.5 255.6 137.1Z" fill="#5bc8d8"/>
<path d="M215.6 121.3 219.8 120.5 227.3 131.3 238.9 131.3 247.2 139.6 250.6 144.6 242.2 148 237.3 154.6 230.6 156.3 222.3 151.3 221.4 144.6 227.3 136.3 221.4 129.6Z" fill="#f37028"/>
<path d="M223.1 146.3 228.9 134.6 237.3 133.8 243.1 139.6 238.9 146.3 233.9 153.8 227.3 152.9Z" fill="#ee3030"/>
<path d="M226.4 147.1 230.6 145.5 232.3 149.6 228.1 150.5Z" fill="#5f6364"/>
<path d="M247.2 117.5 253.8 114.3 262.2 117.5 267.2 126.3 263.9 131.3 257.2 127.2 250.6 123Z" fill="#f37028" stroke="none"/>
<path d="M262.2 117.5L267.2 126.3L263.9 131.3L257.2 127.2L250.6 123L247.2 117.5" fill="none"/>
<path d="M249.7 117.5 253.4 114.3 258.9 117.5 263.9 124.7 261.4 128.8 255.6 124.7Z" fill="#ee3030" stroke="none"/>
<path d="M258.9 117.5L263.9 124.7L261.4 128.8L255.6 124.7L249.7 117.5" fill="none"/>
<path d="M239.7 151.3 250.6 153.8 257.2 152.1 258.1 157.9 250.6 163.8 245.6 162.9 242.2 157.1Z" fill="#f37028"/>
<path d="M242.2 152.9 252.2 156.3 248.9 161.6 244.7 158.8Z" fill="#ee3030"/>
<path d="M230.6 160.4 237.3 159.6 243.1 167.9 241.4 175.4 234.8 174.6 232.3 167.9Z" fill="#f37028"/>
<path d="M233.9 162.1 238.1 162.9 240.6 171.3 236.4 172.1Z" fill="#ee3030"/>
<path d="M248.9 167.9 255.6 169.6 263.9 177.9 277.2 181.2 287.2 178.7 298.5 181.2 300.8 185.3 298.5 187.9 290.5 186.2 280.5 186.2 270.5 184.6 262.2 183.7 253.9 179.6 250.6 173.7Z" fill="#f37028" stroke="none"/>
<path d="M298.5 187.9L290.5 186.2L280.5 186.2L270.5 184.6L262.2 183.7L253.9 179.6L250.6 173.7L248.9 167.9L255.6 169.6L263.9 177.9L277.2 181.2L287.2 178.7L298.5 181.2" fill="none"/>
<path d="M253.1 171.3 258.1 172.9 264.7 180.4 260.6 181.2 254.7 176.2Z" fill="#ee3030"/>
<path d="M277.2 138 283.9 134.6 289.7 141.3 288.8 149.6 293 157.9 292.2 164.6 285.5 162.9 277.2 159.6 272.2 155.4 278.9 151.3 281.4 146.3Z" fill="#f37028"/>
<path d="M282.2 138.8 286.3 139.6 286.3 144.6 283 144.6Z" fill="#ee3030"/>
<path d="M281.4 155.4 287.2 154.6 288 159.6 282.2 159.6Z" fill="#ee3030"/>
<path d="M290.5 121.3 298.5 119.7 301.7 129.8 298.5 138 292.2 134.6 289.7 128Z" fill="#f37028" stroke="none"/>
<path d="M298.5 138L292.2 134.6L289.7 128L290.5 121.3L298.5 119.7" fill="none"/>
<path d="M294.7 157.9 298.5 157.9 301.7 164.7 298.5 169.6 295.5 167.9Z" fill="#f37028" stroke="none"/>
<path d="M298.5 169.6L295.5 167.9L294.7 157.9L298.5 157.9" fill="none"/>
<path d="M183.5 162.9 188.2 166.3 189 172.1 183.5 172.9 180.3 167Z" fill="#f37028" stroke="none"/>
<path d="M183.5 162.9L188.2 166.3L189 172.1L183.5 172.9" fill="none"/>
<path d="M185.7 177.9 192.3 175.4 202.3 179.6 209 187.9 205.6 189.6 197.3 186.2 190.7 187.9 186.5 182.9Z" fill="#f37028"/>
<path d="M210.6 175.4 217.3 175.4 228.1 179.6 232.3 185.4 227.3 184.6 219.8 186.2 214 181.2Z" fill="#f37028"/>
<path d="M211.5 192.9 218.9 191.2 230.6 196.2 233.9 202.9 228.9 207 223.9 208.7 223.1 216.2 225.6 220.5 222.3 223.4 217.3 220.5 216.5 211.2 214.8 201.2Z" fill="#f37028" stroke="none"/>
<path d="M217.3 220.5L216.5 211.2L214.8 201.2L211.5 192.9L218.9 191.2L230.6 196.2L233.9 202.9L228.9 207L223.9 208.7L223.1 216.2L225.6 220.5" fill="none"/>
<path d="M216.5 197 220.6 195.4 228.1 198.7 227.3 202.9 221.4 204.5 218.1 202Z" fill="#ee3030"/>
<path d="M218.1 213.2 220.9 212.9 221.6 217.5 218.9 217.9Z" fill="#ee3030"/>
<path d="M238.9 192.1 245.6 192.9 253.9 199.5 256.4 205.4 250.6 204.5 243.9 200.4Z" fill="#f37028"/>
<path d="M183.5 196.2 190.7 192.9 195.6 204.5 192.3 209.5 183.5 207.9 180.3 201.1Z" fill="#f37028" stroke="none"/>
<path d="M183.5 196.2L190.7 192.9L195.6 204.5L192.3 209.5L183.5 207.9" fill="none"/>
<path d="M281.4 201.2 287.2 196.2 292.2 202.9 295.5 211.2 298.5 216.2 299.8 218.5 298.5 220.5 293.5 223.7 287.2 220.5 283.9 211.2Z" fill="#f37028" stroke="none"/>
<path d="M287.2 220.5L283.9 211.2L281.4 201.2L287.2 196.2L292.2 202.9L295.5 211.2L298.5 216.2" fill="none"/>
<path d="M233.1 212 242.2 217.9 242.2 220.5 239.6 222.8 235.6 220.5Z" fill="#f37028" stroke="none"/>
<path d="M235.6 220.5L233.1 212L242.2 217.9L242.2 220.5" fill="none"/>
<path d="M274.7 213.7 283.9 212.9 283.9 220.5 280.2 223.7 274.7 220.5Z" fill="#f37028" stroke="none"/>
<path d="M274.7 220.5L274.7 213.7L283.9 212.9L283.9 220.5" fill="none"/>
<path d="M213.1 127.2 217.3 126.3 223.1 133.8 219.8 140.5 215.6 136.3Z" fill="#5eb95c"/>
<path d="M266.4 140.5 272.2 143 277.2 150.5 273 150.5 268 145.5Z" fill="#5eb95c"/>
<path d="M260.6 117.5 266.2 114.3 273.9 117.5 273 121.7 262.2 122.2Z" fill="#5eb95c" stroke="none"/>
<path d="M273.9 117.5L273 121.7L262.2 122.2L260.6 117.5" fill="none"/>
<path d="M183.5 138 187.3 138.8 187.3 144.6 183.5 144.6 181.2 140.6Z" fill="#5eb95c" stroke="none"/>
<path d="M183.5 138L187.3 138.8L187.3 144.6L183.5 144.6" fill="none"/>
<path d="M209 163.8 215.6 160.4 225.6 164.6 223.9 168.8 215.6 167.9Z" fill="#5eb95c"/>
<path d="M264.7 156.3 268.9 157.1 274.7 166.3 283.9 165.4 278.9 172.9 272.2 174.6 268 171.3 271.4 167.1Z" fill="#5eb95c"/>
<path d="M252.2 165.4 257.2 162.1 263.9 166.3 265.5 172.1 258.9 169.6Z" fill="#5eb95c"/>
<path d="M240.6 181.2 248.1 174.6 253.9 184.6 262.2 191.2 270.5 197.9 276.4 207.9 273.9 212.9 265.5 211.2 260.6 202.9 255.6 196.2 250.6 189.6 244.7 184.6Z" fill="#5eb95c"/>
<path d="M193.2 193.7 200.6 192.1 209 199.5 214.8 207.9 212.3 216.2 204 220.5 199.9 223.7 194 220.5 188.2 212.9 194 211.2 202.3 207.9 197.3 201.2Z" fill="#5eb95c" stroke="none"/>
<path d="M194 220.5L188.2 212.9L194 211.2L202.3 207.9L197.3 201.2L193.2 193.7L200.6 192.1L209 199.5L214.8 207.9L212.3 216.2L204 220.5" fill="none"/>
<path d="M195.6 195.4 201.5 195.4 207.3 202.9 204 206.2 199 201.2Z" fill="#1fa77a"/>
<path d="M201.8 200.5 201.1 200.8 200.2 200.9 199.4 200.2 199.4 199.2 199.3 198.3 200.1 198.3 201.1 198.6 202 198.9 202.2 199.8Z" fill="#5bc8d8"/>
<path d="M246.4 214.5 253.9 210.4 262.2 213.7 270.5 220.5 260.7 223.7 248.9 220.5Z" fill="#5eb95c" stroke="none"/>
<path d="M248.9 220.5L246.4 214.5L253.9 210.4L262.2 213.7L270.5 220.5" fill="none"/>
<path d="M273.9 189.1 276.9 188.7 277.2 191.7 274.4 192.1Z" fill="#5eb95c"/>
<path d="M293 144.6 298.5 144.6 300.5 148.2 298.5 150.5 293.8 150Z" fill="#5eb95c" stroke="none"/>
<path d="M298.5 150.5L293.8 150L293 144.6L298.5 144.6" fill="none"/>
<path d="M297.5 117.5 305.4 114.3 314.6 117.5 319.6 126.3 323 133 316.3 136.3 309.6 134.6 303 138 297.5 136.3 294.3 126.2Z" fill="#f37028" stroke="none"/>
<path d="M314.6 117.5L319.6 126.3L323 133L316.3 136.3L309.6 134.6L303 138L297.5 136.3" fill="none"/>
<path d="M305.5 128.8 311.3 127.2 316.3 131.3 313.8 134.6 307.2 133.8Z" fill="#ee3030"/>
<path d="M325.5 117.5 329.5 114.3 335.4 117.5 333.8 125.5 329.6 123Z" fill="#f37028" stroke="none"/>
<path d="M335.4 117.5L333.8 125.5L329.6 123L325.5 117.5" fill="none"/>
<path d="M343.8 131.3 347.9 128 359.6 128 364.6 123 367.9 117.5 371.2 114.6 376.2 117.5 375.4 124.7 369.6 131.3 361.2 134.6 351.3 137.1 345.4 135.5Z" fill="#f37028" stroke="none"/>
<path d="M376.2 117.5L375.4 124.7L369.6 131.3L361.2 134.6L351.3 137.1L345.4 135.5L343.8 131.3L347.9 128L359.6 128L364.6 123L367.9 117.5" fill="none"/>
<path d="M402 123 406.2 117.5 408.5 115.5 412.5 117.5 415.7 133.9 412.5 148 407 146.3 402.8 134.6Z" fill="#f37028" stroke="none"/>
<path d="M412.5 148L407 146.3L402.8 134.6L402 123L406.2 117.5" fill="none"/>
<path d="M405.3 121.3 412.5 120.5 414.5 124 412.5 126.3 407 126.3Z" fill="#ee3030" stroke="none"/>
<path d="M412.5 126.3L407 126.3L405.3 121.3L412.5 120.5" fill="none"/>
<path d="M353.7 144.6 362.9 145.5 372.9 149.6 381.2 147.1 384.5 138.8 391.2 143 397.9 149.6 406.2 152.9 412.5 159.6 415.7 167.2 412.5 172.9 404.5 167.9 401.2 161.3 397.9 154.6 387.9 152.9 377.9 157.9 369.6 156.3 361.2 153.8 355.4 149.6Z" fill="#f37028" stroke="none"/>
<path d="M412.5 172.9L404.5 167.9L401.2 161.3L397.9 154.6L387.9 152.9L377.9 157.9L369.6 156.3L361.2 153.8L355.4 149.6L353.7 144.6L362.9 145.5L372.9 149.6L381.2 147.1L384.5 138.8L391.2 143L397.9 149.6L406.2 152.9L412.5 159.6" fill="none"/>
<path d="M369.6 164.6 377.9 158.8 382.9 166.3 376.2 167.9Z" fill="#f37028"/>
<path d="M327.1 147.1 336.3 144.6 344.6 151.3 349.6 159.6 354.6 167.9 355.4 176.2 349.6 174.6 344.6 169.6 339.6 164.6 333.8 159.6 330.5 153.8Z" fill="#f37028"/>
<path d="M337.9 160.4 341.3 161.3 345.4 169.6 341.3 168.8Z" fill="#ee3030"/>
<path d="M297.5 156.3 308 155.4 319.6 154.6 328.8 157.9 326.3 166.3 331.3 172.9 334.6 177.9 328 181.2 327.1 187.9 321.3 189.6 319.6 181.2 323 174.6 319.6 166.3 314.6 162.9 309.6 166.3 304.7 174.6 297.5 175.4 294.3 164.9Z" fill="#f37028" stroke="none"/>
<path d="M297.5 156.3L308 155.4L319.6 154.6L328.8 157.9L326.3 166.3L331.3 172.9L334.6 177.9L328 181.2L327.1 187.9L321.3 189.6L319.6 181.2L323 174.6L319.6 166.3L314.6 162.9L309.6 166.3L304.7 174.6L297.5 175.4" fill="none"/>
<path d="M319.6 157.1 323.8 157.1 322.1 163.8Z" fill="#ee3030"/>
<path d="M297.5 183.7 303 189.6 304.7 196.2 300.5 194.6 297.5 189.6 295.5 186Z" fill="#f37028" stroke="none"/>
<path d="M297.5 183.7L303 189.6L304.7 196.2L300.5 194.6L297.5 189.6" fill="none"/>
<path d="M323.8 191.2 334.6 189.6 347.9 191.2 355.4 196.2 354.6 202.9 347.9 204.5 344.6 197.9 336.3 194.6 332.9 197.9 339.6 206.2 346.3 212.9 352.9 220.5 335.6 223.7 316.3 220.5 308 206.2 314.6 207.9 321.3 201.2 323 196.2Z" fill="#f37028" stroke="none"/>
<path d="M316.3 220.5L308 206.2L314.6 207.9L321.3 201.2L323 196.2L323.8 191.2L334.6 189.6L347.9 191.2L355.4 196.2L354.6 202.9L347.9 204.5L344.6 197.9L336.3 194.6L332.9 197.9L339.6 206.2L346.3 212.9L352.9 220.5" fill="none"/>
<path d="M328 202.9 332.1 200.4 335.4 209.5 331.3 210.4Z" fill="#ee3030"/>
<path d="M342.9 217.9 351.3 217.5 352.1 220.5 348.5 223.7 342.9 220.5Z" fill="#ee3030" stroke="none"/>
<path d="M342.9 220.5L342.9 217.9L351.3 217.5L352.1 220.5" fill="none"/>
<path d="M361.2 184.6 367.9 183.7 374.6 187.9 377.9 196.2 384.5 201.2 392.9 196.2 401.2 194.6 412.5 191.2 415.7 197.2 412.5 201.2 406.2 204.5 401.2 211.2 391.2 208.7 381.2 209.5 371.2 206.2 364.6 202.9 362.1 196.2Z" fill="#f37028" stroke="none"/>
<path d="M412.5 201.2L406.2 204.5L401.2 211.2L391.2 208.7L381.2 209.5L371.2 206.2L364.6 202.9L362.1 196.2L361.2 184.6L367.9 183.7L374.6 187.9L377.9 196.2L384.5 201.2L392.9 196.2L401.2 194.6L412.5 191.2" fill="none"/>
<path d="M366.2 188.7 372.1 189.6 372.9 194.6 367.1 193.7Z" fill="#ee3030"/>
<path d="M363.7 204.5 376.2 208.7 389.5 208.7 391.2 214.5 377.9 213.7 367.9 212.9Z" fill="#f37028"/>
<path d="M388.7 210.4 394.5 207.9 404.5 216.2 404.5 220.5 399.6 223.7 392.9 220.5Z" fill="#ee3030" stroke="none"/>
<path d="M392.9 220.5L388.7 210.4L394.5 207.9L404.5 216.2L404.5 220.5" fill="none"/>
<path d="M392 212 396.2 211.2 402 217.9 401.2 220.5 398.9 222.6 395.4 220.5Z" fill="#5f6364" stroke="none"/>
<path d="M395.4 220.5L392 212L396.2 211.2L402 217.9L401.2 220.5" fill="none"/>
<path d="M359.6 166.3 369.6 166.3 371.2 174.6 376.2 181.2 379.5 189.6 374.6 187.9 367.9 183.7 362.1 174.6Z" fill="#f37028"/>
<path d="M297.5 144.6 304.7 145.5 308 138 316.3 137.1 323 140.5 331.3 135.5 333.8 139.6 324.6 143 323 149.6 314.6 150.5 306.3 151.3 297.5 150.5 295.5 146.9Z" fill="#5eb95c" stroke="none"/>
<path d="M297.5 144.6L304.7 145.5L308 138L316.3 137.1L323 140.5L331.3 135.5L333.8 139.6L324.6 143L323 149.6L314.6 150.5L306.3 151.3L297.5 150.5" fill="none"/>
<path d="M320.5 123.3 323 123 327.6 128.8 324.6 129.3Z" fill="#5eb95c"/>
<path d="M392 117.5 394.7 115.2 398.7 117.5 396.2 127.2Z" fill="#5eb95c" stroke="none"/>
<path d="M398.7 117.5L396.2 127.2L392 117.5" fill="none"/>
<path d="M328 163.8 332.1 162.1 339.6 172.9 349.6 177.9 355.4 182.1 351.3 184.6 342.9 182.9 337.9 176.2 331.3 169.6Z" fill="#5eb95c"/>
<path d="M310.5 172.1 314.6 171.3 315.5 179.6 313 186.2 309.6 181.2Z" fill="#5eb95c"/>
<path d="M391.2 157.1 395.4 154.6 399.5 157.9 395.4 160.9Z" fill="#5eb95c"/>
<path d="M379.5 174.6 387.9 169.9 392 177.1 384.5 177.1Z" fill="#5eb95c"/>
<path d="M364.6 179.6 369.6 178.7 371.2 182.9 366.2 183.7Z" fill="#5eb95c"/>
<path d="M334.6 194.6 340.4 195.4 347.9 202.9 349.6 207.9 343.8 205.4 337.1 199.5Z" fill="#5eb95c"/>
<path d="M362.9 198.7 368.7 197 372.1 200.4 366.2 202.4Z" fill="#5eb95c"/>
<path d="M391.2 197 396.2 195.4 399.5 199.5 394.5 201.2Z" fill="#5eb95c"/>
<path d="M369.6 216.2 379.5 213.2 387.9 220.5 380.5 223.7 371.2 220.5Z" fill="#5eb95c" stroke="none"/>
<path d="M371.2 220.5L369.6 216.2L379.5 213.2L387.9 220.5" fill="none"/>
<path d="M411.5 117.5 425.2 114.3 440.3 117.5 437 124.7 428.6 127.2 420.3 128 411.5 127.2 408.3 121.6Z" fill="#f37028" stroke="none"/>
<path d="M440.3 117.5L437 124.7L428.6 127.2L420.3 128L411.5 127.2" fill="none"/>
<path d="M411.5 118.8 418.7 119.7 422 124.7 411.5 125.5 409.2 121.5Z" fill="#ee3030" stroke="none"/>
<path d="M411.5 118.8L418.7 119.7L422 124.7L411.5 125.5" fill="none"/>
<path d="M461.9 123 466.9 117.5 495.5 114.3 526.5 117.5 529.7 131.4 526.5 143 518.5 141.3 513.5 134.6 506.9 128 501.9 131.3 495.2 134.6 491.9 143 486.9 145.5 478.6 147.1 473.6 139.6 470.2 131.3Z" fill="#f37028" stroke="none"/>
<path d="M526.5 143L518.5 141.3L513.5 134.6L506.9 128L501.9 131.3L495.2 134.6L491.9 143L486.9 145.5L478.6 147.1L473.6 139.6L470.2 131.3L461.9 123L466.9 117.5" fill="none"/>
<path d="M490.2 129.6 505.2 128.8 502.7 136.3 494.4 135.5Z" fill="#f0e826"/>
<path d="M472.7 132.1 478.6 133.8 487.7 140.5 481.9 145.5 476.1 140.5Z" fill="#ee3030"/>
<path d="M492.7 123.8 498.5 119.7 504.4 124.7 500.2 128.3Z" fill="#ee3030"/>
<path d="M511 117.5 512.7 116 515.2 117.5 521.8 125.5 519.3 127.2Z" fill="#ee3030" stroke="none"/>
<path d="M515.2 117.5L521.8 125.5L519.3 127.2L511 117.5" fill="none"/>
<path d="M447.8 128.3 451.9 128 460.3 138 470.2 144.6 478.6 148.8 472.7 156.3 468.6 151.3 461.9 145.5 453.6 136.3Z" fill="#f37028"/>
<path d="M437 141.3 442.8 138.8 447.8 143 443.6 152.9 439.5 147.1Z" fill="#f37028"/>
<path d="M500.2 148 506.9 144.6 515.2 151.3 516.8 161.3 510.2 163.8 502.7 159.6Z" fill="#f37028"/>
<path d="M502.7 153.8 507.7 148 514.3 153.8 514.3 161.3 507.7 162.1Z" fill="#ee3030"/>
<path d="M506.9 153.8 510.2 152.1 511.9 159.6 508.5 159.6Z" fill="#5f6364"/>
<path d="M522.7 155.4 526.5 155.4 528.5 159 526.5 161.3 523.2 160.9Z" fill="#f37028" stroke="none"/>
<path d="M526.5 161.3L523.2 160.9L522.7 155.4L526.5 155.4" fill="none"/>
<path d="M511.9 171.3 518.5 167.9 526.5 169.6 529.7 185.5 526.5 199.5 520.2 196.2 515.2 187.9 511.9 179.6Z" fill="#f37028" stroke="none"/>
<path d="M526.5 199.5L520.2 196.2L515.2 187.9L511.9 179.6L511.9 171.3L518.5 167.9L526.5 169.6" fill="none"/>
<path d="M470.2 157.9 475.2 161.3 481.9 165.4 488.6 161.3 498.5 162.9 504.4 169.6 506.9 177.9 501.9 176.2 495.2 172.9 490.2 177.9 491.9 184.6 498.5 191.2 495.2 196.2 488.6 192.9 481.9 186.2 475.2 179.6 469.4 172.9 468.6 164.6Z" fill="#f37028"/>
<path d="M486.9 164.6 491.9 163.8 495.2 167.9 489.4 168.8Z" fill="#ee3030"/>
<path d="M478.6 172.1 482.7 172.9 481.9 177.1 478.6 176.2Z" fill="#ee3030"/>
<path d="M449.4 162.9 453.6 163.8 461.9 171.3 471.9 176.2 475.2 181.2 468.6 180.4 460.3 175.4 453.6 169.6Z" fill="#f37028"/>
<path d="M427.8 159.6 432.8 153.8 441.1 156.3 438.6 162.9 442 169.6 444.5 176.2 438.6 172.9 432 167.9 427 166.3Z" fill="#f37028"/>
<path d="M411.5 168.8 418.7 171.3 428.6 177.9 437 184.6 432 186.2 425.3 189.6 418.7 184.6 411.5 179.6 408.3 173.2Z" fill="#f37028" stroke="none"/>
<path d="M411.5 168.8L418.7 171.3L428.6 177.9L437 184.6L432 186.2L425.3 189.6L418.7 184.6L411.5 179.6" fill="none"/>
<path d="M411.5 191.2 417 192.9 420.3 201.2 428.6 204.5 433.6 211.2 440.3 220.5 427.1 223.7 411.5 220.5 408.3 204.7Z" fill="#f37028" stroke="none"/>
<path d="M411.5 191.2L417 192.9L420.3 201.2L428.6 204.5L433.6 211.2L440.3 220.5" fill="none"/>
<path d="M432 213.2 440.3 220.5 437.7 222.8 433.6 220.5Z" fill="#ee3030" stroke="none"/>
<path d="M433.6 220.5L432 213.2L440.3 220.5" fill="none"/>
<path d="M450.3 205.4 456.9 202.9 461.9 197 466.9 202.9 478.6 204.5 488.6 202.9 498.5 203.7 500.2 207.9 491.9 212.9 481.9 212 471.9 208.7 461.9 209.5 453.6 211.2Z" fill="#f37028"/>
<path d="M503.5 194.6 508.5 195.4 514.3 198.7 509.4 200.4Z" fill="#f37028"/>
<path d="M515.2 213.7 526.5 211.2 529.6 216.5 526.5 220.5 519.9 223.7 511.9 220.5Z" fill="#f37028" stroke="none"/>
<path d="M511.9 220.5L515.2 213.7L526.5 211.2" fill="none"/>
<path d="M498.5 216.5 508.5 216.2 508.5 220.5 504.5 223.7 498.5 220.5Z" fill="#f37028" stroke="none"/>
<path d="M498.5 220.5L498.5 216.5L508.5 216.2L508.5 220.5" fill="none"/>
<path d="M411.5 133 420.3 131 427.8 133.8 429.5 144.6 425.3 151.3 418.7 146.3 411.5 139.6 409.2 135.6Z" fill="#5eb95c" stroke="none"/>
<path d="M411.5 133L420.3 131L427.8 133.8L429.5 144.6L425.3 151.3L418.7 146.3L411.5 139.6" fill="none"/>
<path d="M436.1 132.1 442.8 128 449.4 137.1 443.6 138Z" fill="#5eb95c"/>
<path d="M454.4 127.2 460.3 126.3 468.6 134.6 473.6 143 468.6 141.3 461.9 136.3Z" fill="#5eb95c"/>
<path d="M501.9 136.3 508.5 130.5 514.3 138 517.7 148.8 511.9 146.3 506 143Z" fill="#5eb95c"/>
<path d="M503.2 149.2 502.1 150.7 500.6 153.4 499.4 153.3 497.3 153.8 495.2 153.4 494.7 150.9 492.9 148.8 493.7 147.3 495.4 146.4 497.5 145.7 499.5 145.5 499.9 146.2 502.4 146.6Z" fill="#5eb95c"/>
<path d="M517.7 147.1 526.5 147.1 527.7 149.1 526.5 150.5 518.5 150.5Z" fill="#5eb95c" stroke="none"/>
<path d="M526.5 150.5L518.5 150.5L517.7 147.1L526.5 147.1" fill="none"/>
<path d="M451.1 180.4 453.6 176.2 458.3 182.1 453.6 185.4Z" fill="#5eb95c"/>
<path d="M466.9 196.2 471.9 192.9 480.2 197.9 475.2 201.2 469.4 200.4Z" fill="#5eb95c"/>
<path d="M440.3 204.5 443.6 202.9 445.3 212 442.8 212.9Z" fill="#5eb95c"/>
<path d="M456.9 153.8 459.4 153.4 463.6 157.9 461.6 158.8Z" fill="#5eb95c"/>
<path d="M422.8 197.5 426.6 197 427 200.4 423.3 200.4Z" fill="#5eb95c"/>
<path d="M71.7 219.5 94.8 216.3 119.9 219.5 118.3 226.7 109.9 229.2 100 226.7 90 228.3 80 225 76.7 230 71.7 233.3Z" fill="#f37028" stroke="none"/>
<path d="M119.9 219.5L118.3 226.7L109.9 229.2L100 226.7L90 228.3L80 225L76.7 230L71.7 233.3L71.7 219.5" fill="none"/>
<path d="M97.5 240 105.8 234.1 119.9 235 126.6 241.6 136.6 238.3 143.2 245 149.9 251.6 148.2 258.3 143.2 259.1 138.2 251.6 129.9 246.6 118.3 243.3 108.3 247.5Z" fill="#f37028"/>
<path d="M121.6 239.6 129.1 239.1 129.9 242 122.4 242.5Z" fill="#ee3030"/>
<path d="M134.1 219.5 140.2 216.3 148.2 219.5 156.5 226.7 163.2 230 161.5 236.6 151.5 231.6 141.6 230 136.6 225Z" fill="#f37028" stroke="none"/>
<path d="M148.2 219.5L156.5 226.7L163.2 230L161.5 236.6L151.5 231.6L141.6 230L136.6 225L134.1 219.5" fill="none"/>
<path d="M155.7 245 163.2 245 173.2 253.3 179.8 250 184.5 251.6 187.7 287.8 184.5 322.5 180.4 325.7 174.8 322.5 171.5 309.9 176.5 299.9 179.8 291.6 173.2 283.2 168.2 274.9 173.2 268.3 169.9 261.6 161.5 253.3Z" fill="#f37028" stroke="none"/>
<path d="M174.8 322.5L171.5 309.9L176.5 299.9L179.8 291.6L173.2 283.2L168.2 274.9L173.2 268.3L169.9 261.6L161.5 253.3L155.7 245L163.2 245L173.2 253.3L179.8 250L184.5 251.6" fill="none"/>
<path d="M178.2 289.3 179.2 292.5 176.3 294.6 175.3 296.5 171.3 296 168.5 295 166.9 291.9 167.4 290.5 167.1 286.7 168.1 285.1 172 283.6 174.3 284.7 177.6 285.6 179.4 287.4Z" fill="#f0e826"/>
<path d="M174.4 290.3 174.5 291.1 173.3 291.5 172.3 292.2 171.8 292.4 170.5 291.7 170.8 290.7 170.7 290 171 288.7 171.7 288.7 172.8 288 173.8 288.5 174.2 289.5Z" fill="#5eb95c"/>
<path d="M177.3 254.9 184.5 254.1 186.2 257.1 184.5 259.1 179 259.1Z" fill="#ee3030" stroke="none"/>
<path d="M184.5 259.1L179 259.1L177.3 254.9L184.5 254.1" fill="none"/>
<path d="M130.7 269.1 138.2 266.6 148.2 269.9 158.2 271.6 166.5 278.2 169.9 286.6 166.5 293.2 158.2 291.6 149.9 293.2 143.2 289.9 144.9 281.6 136.6 274.9Z" fill="#f37028"/>
<path d="M154.3 283.5 154.5 284.4 153.5 285.4 152.6 285.3 151 285.1 150.2 285.5 148.7 284.3 149.1 283.2 148.6 282.2 150.2 281.8 150.9 280.6 152.9 280.6 153.6 281.5 154.5 282.2Z" fill="#f0e826"/>
<path d="M95.8 270.8 100 269.9 102.5 277.4 98.3 280.2Z" fill="#f37028"/>
<path d="M73.3 286.6 81.6 284.9 90 286.6 92.5 292.4 85 294.1 76.7 291.6Z" fill="#f37028"/>
<path d="M77.5 288.2 82.5 287.9 82.5 290.7 78 290.7Z" fill="#ee3030"/>
<path d="M100.8 284.9 109.9 284.1 118.3 286.6 119.1 296.6 121.6 308.2 116.6 306.5 109.9 298.2 103.3 293.2 100 288.2Z" fill="#f37028"/>
<path d="M103.3 306.5 109.9 303.2 119.9 309.9 126.6 322.5 115.9 325.7 103.3 322.5Z" fill="#f37028" stroke="none"/>
<path d="M103.3 322.5L103.3 306.5L109.9 303.2L119.9 309.9L126.6 322.5" fill="none"/>
<path d="M105.8 307.4 111.6 305.7 119.9 313.2 124.1 322.5 119.2 325.7 112.4 322.5 108.3 314.9Z" fill="#ee3030" stroke="none"/>
<path d="M112.4 322.5L108.3 314.9L105.8 307.4L111.6 305.7L119.9 313.2L124.1 322.5" fill="none"/>
<path d="M112.4 313.2 116.6 313.2 121.6 322.5 119.3 324.6 115.8 322.5Z" fill="#a3161b" stroke="none"/>
<path d="M115.8 322.5L112.4 313.2L116.6 313.2L121.6 322.5" fill="none"/>
<path d="M73.3 309.9 78.3 306.5 86.6 314.9 91.6 322.5 84.3 325.7 75 322.5Z" fill="#f37028" stroke="none"/>
<path d="M75 322.5L73.3 309.9L78.3 306.5L86.6 314.9L91.6 322.5" fill="none"/>
<path d="M136.6 314.9 143.2 311.5 153.2 315.7 163.2 319.9 169.9 322.5 155.8 325.7 139.9 322.5Z" fill="#f37028" stroke="none"/>
<path d="M139.9 322.5L136.6 314.9L143.2 311.5L153.2 315.7L163.2 319.9L169.9 322.5" fill="none"/>
<path d="M176.5 219.5 179.5 216.9 184.5 219.5 187.7 226 184.5 230 179.8 226.7Z" fill="#f37028" stroke="none"/>
<path d="M184.5 230L179.8 226.7L176.5 219.5" fill="none"/>
<path d="M88.3 248 91.6 247.5 92.5 252 89.1 252.5Z" fill="#f37028"/>
<path d="M119.1 223.3 123.3 219.5 126.5 216.6 131.6 219.5 134.9 226.7 132.4 235.8 124.9 236.6 119.9 230Z" fill="#5eb95c" stroke="none"/>
<path d="M131.6 219.5L134.9 226.7L132.4 235.8L124.9 236.6L119.9 230L119.1 223.3L123.3 219.5" fill="none"/>
<path d="M122.4 222.5 129.9 222.5 130.7 232.5 124.1 232.5Z" fill="#1fa77a"/>
<path d="M125.7 223.3 128.2 223.3 128.2 231.6 125.7 231.6Z" fill="#2f67b1"/>
<path d="M168.2 229.2 173.2 225 179.5 230.8 174.8 237.5 169.9 235Z" fill="#5eb95c"/>
<path d="M141.6 239.1 148.2 237.5 156.5 240 164.9 237.5 171.5 243.3 173.2 248.3 166.5 246.6 159.9 243.3 149.9 242.5Z" fill="#5eb95c"/>
<path d="M157.4 254.1 162.4 252.5 168.2 259.1 163.2 260.8 158.2 257.4Z" fill="#5eb95c"/>
<path d="M115.8 255.3 120.4 254.9 120.8 257.9 116.6 258.3Z" fill="#5eb95c"/>
<path d="M156.5 268.6 159 268.3 164.9 273.3 163.2 274.3Z" fill="#5eb95c"/>
<path d="M69.5 296.6 75 293.2 83.3 298.2 96.6 297.4 103.3 293.2 109.9 298.2 100 303.2 98.3 311.5 103.3 318.2 95 316.5 86.6 309.9 80 301.5 69.5 299.9 68.3 297.9Z" fill="#5eb95c" stroke="none"/>
<path d="M69.5 296.6L75 293.2L83.3 298.2L96.6 297.4L103.3 293.2L109.9 298.2L100 303.2L98.3 311.5L103.3 318.2L95 316.5L86.6 309.9L80 301.5L69.5 299.9" fill="none"/>
<path d="M152.4 305.2 155.2 304.9 155.7 309.5 153.2 309.9Z" fill="#5eb95c"/>
<path d="M183.5 221.7 190.7 223.3 200.6 231.6 209 241.6 210.6 248.3 202.3 245 194 238.3 183.5 235 180.3 227.4Z" fill="#f37028" stroke="none"/>
<path d="M183.5 221.7L190.7 223.3L200.6 231.6L209 241.6L210.6 248.3L202.3 245L194 238.3L183.5 235" fill="none"/>
<path d="M183.5 224.2 190.7 225 199 233.3 197.3 238.3 189 235 183.5 230 181.5 226.5Z" fill="#ee3030" stroke="none"/>
<path d="M183.5 224.2L190.7 225L199 233.3L197.3 238.3L189 235L183.5 230" fill="none"/>
<path d="M194.9 234.9 193.2 235.1 192.1 235.2 189.8 233.7 188.2 233.5 186.9 231.1 187.1 229.8 187.7 228.8 188.3 228 190 228.1 191.6 229.7 192.9 229.6 194.9 232.5 194.1 233.3Z" fill="#5f6364"/>
<path d="M183.5 253.3 189 244.1 194 245 193.2 253.3 187.3 258.3 183.5 259.1 181.5 255.6Z" fill="#f37028" stroke="none"/>
<path d="M183.5 253.3L189 244.1L194 245L193.2 253.3L187.3 258.3L183.5 259.1" fill="none"/>
<path d="M211.5 236.6 217.3 234.1 228.9 236.6 238.9 245 243.9 253.3 247.2 259.9 253.9 268.3 257.2 274.9 253.9 279.9 247.2 276.6 240.6 266.6 233.9 256.6 225.6 250 217.3 245Z" fill="#f37028"/>
<path d="M229.8 243.3 233.9 240.8 242.2 248.3 239.7 254.1 232.3 250.8Z" fill="#ee3030"/>
<path d="M237.6 248.3 237.2 248.9 236.5 248.6 235.3 248.6 235.1 247.9 234.5 246.9 235.1 246.3 236.2 245.9 236.7 246.2 237.5 247 237.9 247.5Z" fill="#a3161b"/>
<path d="M242.2 261.3 245.6 260.8 249.7 267.4 246.9 268.3Z" fill="#ee3030"/>
<path d="M242.2 225 250.6 221.7 262.2 223.3 268.9 230 267.2 236.6 260.6 233.3 255.6 230 257.2 236.6 263.9 240 277.2 241.6 282.2 235 285.5 231.6 290.5 238.3 287.2 245 290.5 253.3 290.5 263.3 285.5 269.9 287.2 278.2 297.2 283.2 298.5 289.9 290.5 288.2 282.2 281.6 277.2 273.3 267.2 269.9 262.2 273.3 265.5 266.6 272.2 261.6 273.9 254.9 263.9 253.3 255.6 250 252.2 243.3 247.2 235Z" fill="#f37028"/>
<path d="M209 271.6 217.3 269.1 225.6 269.9 233.9 276.6 225.6 281.6 230.6 286.6 238.9 293.2 245.6 298.2 242.2 306.5 240.6 316.5 233.9 313.2 228.9 303.2 220.6 293.2 215.6 286.6 217.3 278.2Z" fill="#f37028"/>
<path d="M217.3 272.4 223.1 272.1 223.1 274.9 218.1 275.3Z" fill="#ee3030"/>
<path d="M183.5 274.9 190.7 278.2 200.6 278.2 207.3 283.2 204 288.2 194 286.6 189 291.6 194 299.9 200.6 304.9 210.6 313.2 217.3 315.7 214 322.5 199.9 325.7 183.5 322.5 180.3 297.5Z" fill="#f37028" stroke="none"/>
<path d="M183.5 274.9L190.7 278.2L200.6 278.2L207.3 283.2L204 288.2L194 286.6L189 291.6L194 299.9L200.6 304.9L210.6 313.2L217.3 315.7L214 322.5" fill="none"/>
<path d="M197.3 280.7 203.1 279.9 204 284.1 199 285.7Z" fill="#ee3030"/>
<path d="M200.6 300.7 207.3 301.5 217.3 306.5 210.6 313.2 205.6 308.2Z" fill="#ee3030"/>
<path d="M238.9 284.1 245.6 280.7 255.6 287.4 257.2 295.7 248.1 298.2 240.6 293.2Z" fill="#f37028"/>
<path d="M240.6 285.7 245.6 282.4 253.9 288.2 254.7 294.9 248.1 296.6 242.2 291.6Z" fill="#ee3030"/>
<path d="M243.9 287.4 248.1 285.7 251.4 291.6 248.1 294.1Z" fill="#5f6364"/>
<path d="M258.9 286.6 265.5 284.9 273.9 289.9 280.5 298.2 279.7 308.2 273.9 313.2 265.5 309.9 257.2 301.5 262.2 294.9Z" fill="#f37028"/>
<path d="M250.6 310.7 257.2 309 262.2 319.9 258.9 322.5 256.3 324.8 252.2 322.5Z" fill="#f37028" stroke="none"/>
<path d="M252.2 322.5L250.6 310.7L257.2 309L262.2 319.9L258.9 322.5" fill="none"/>
<path d="M256.3 314.7 256.1 315.2 255.4 315.9 254.7 315.9 253.8 315.8 253 315.1 252.8 314.2 253.8 313.4 254.6 312.8 255.5 312.6 256 313.9Z" fill="#ee3030"/>
<path d="M288 313.2 293.8 309.9 298.5 310.7 301.7 317.3 298.5 322.5 295 325.1 290.5 322.5Z" fill="#f37028" stroke="none"/>
<path d="M290.5 322.5L288 313.2L293.8 309.9L298.5 310.7" fill="none"/>
<path d="M212.3 219.5 218 216.3 225.6 219.5 232.3 228.3 240.6 236.6 248.1 241.6 246.4 248.3 238.9 243.3 232.3 236.6 223.9 230 217.3 225Z" fill="#5eb95c" stroke="none"/>
<path d="M225.6 219.5L232.3 228.3L240.6 236.6L248.1 241.6L246.4 248.3L238.9 243.3L232.3 236.6L223.9 230L217.3 225L212.3 219.5" fill="none"/>
<path d="M190.7 219.5 194.7 216.3 200.6 219.5 199 223 192.3 223.3Z" fill="#5eb95c" stroke="none"/>
<path d="M200.6 219.5L199 223L192.3 223.3L190.7 219.5" fill="none"/>
<path d="M271.4 223.3 277.2 225 283.9 222.5 298.5 221.7 300.5 225.2 298.5 227.5 287.2 226.7 278.9 230 275.5 238.3 272.2 233.3Z" fill="#5eb95c" stroke="none"/>
<path d="M298.5 227.5L287.2 226.7L278.9 230L275.5 238.3L272.2 233.3L271.4 223.3L277.2 225L283.9 222.5L298.5 221.7" fill="none"/>
<path d="M199.8 249.1 207.3 250.8 216.5 256.6 215.6 264.9 209 267.4 204 259.9Z" fill="#5eb95c"/>
<path d="M186.5 269.9 191.5 264.1 199 268.3 206.5 276.6 200.6 277.4 192.3 274.9Z" fill="#5eb95c"/>
<path d="M228.9 267.4 237.3 265.8 243.9 271.6 244.7 277.4 237.3 279.9 232.3 274.9Z" fill="#5eb95c"/>
<path d="M233.1 269.1 238.9 269.1 241.4 275.7 236.4 276.6Z" fill="#1fa77a"/>
<path d="M238.8 273.1 238.4 273.6 237.8 274.2 237.1 273.7 236.6 273.2 236.5 272.5 236.9 271.7 237.7 271.9 238.4 272.2Z" fill="#5bc8d8"/>
<path d="M263 280.7 267.2 279.1 269.7 284.9 265.5 285.7Z" fill="#5eb95c"/>
<path d="M206.5 295.7 214 294.1 221.4 297.4 217.3 300.7 209 299.9Z" fill="#5eb95c"/>
<path d="M292.2 289.1 298.5 290.7 300.5 294.3 298.5 296.6Z" fill="#5eb95c" stroke="none"/>
<path d="M298.5 296.6L292.2 289.1L298.5 290.7" fill="none"/>
<path d="M243.9 313.2 248.1 308.2 250.6 318.2 246.4 319.9Z" fill="#5eb95c"/>
<path d="M263.9 318.2 270.5 314.9 277.2 315.7 283.9 314 290.5 322.5 278.2 325.7 263.9 322.5Z" fill="#5eb95c" stroke="none"/>
<path d="M263.9 322.5L263.9 318.2L270.5 314.9L277.2 315.7L283.9 314L290.5 322.5" fill="none"/>
<path d="M283.9 296.9 285.8 296.6 286.3 306.2 284.3 306.5Z" fill="#5eb95c"/>
<path d="M314.6 219.5 328.7 216.3 344.6 219.5 349.6 230 347.9 238.3 341.3 240 334.6 236.6 332.9 230 326.3 230 319.6 226.7Z" fill="#f37028" stroke="none"/>
<path d="M344.6 219.5L349.6 230L347.9 238.3L341.3 240L334.6 236.6L332.9 230L326.3 230L319.6 226.7L314.6 219.5" fill="none"/>
<path d="M317.1 220.8 324.6 220.8 325.5 227.5 319.6 225.8Z" fill="#ee3030"/>
<path d="M337.1 226.7 342.9 227.5 343.8 236.6 337.9 235.8Z" fill="#ee3030"/>
<path d="M342.9 219.5 347.8 216.3 354.6 219.5 362.9 228.3 367.9 238.3 366.2 245 359.6 245 354.6 238.3 349.6 230Z" fill="#f37028" stroke="none"/>
<path d="M354.6 219.5L362.9 228.3L367.9 238.3L366.2 245L359.6 245L354.6 238.3L349.6 230L342.9 219.5" fill="none"/>
<path d="M343.8 219.5 347.4 216.3 352.9 219.5 361.2 228.3 366.2 238.3 364.6 243.3 358.7 242.5 355.4 235 349.6 228.3Z" fill="#ee3030" stroke="none"/>
<path d="M352.9 219.5L361.2 228.3L366.2 238.3L364.6 243.3L358.7 242.5L355.4 235L349.6 228.3L343.8 219.5" fill="none"/>
<path d="M363.7 223.3 369.6 221.7 372.9 225.8 367.1 228Z" fill="#f37028"/>
<path d="M394.5 219.5 402.3 216.3 412.5 219.5 415.7 226.8 412.5 231.6 404.5 228.3 397.9 224.2Z" fill="#f37028" stroke="none"/>
<path d="M412.5 231.6L404.5 228.3L397.9 224.2L394.5 219.5" fill="none"/>
<path d="M397.9 219.5 412.5 220.8 415.1 225.4 412.5 228.3 404.5 225.8Z" fill="#ee3030" stroke="none"/>
<path d="M412.5 228.3L404.5 225.8L397.9 219.5" fill="none"/>
<path d="M391.2 246.6 397.9 236.6 404.5 235 412.5 238.3 415.7 246.8 412.5 253.3 406.2 254.9 397.9 252.5Z" fill="#f37028" stroke="none"/>
<path d="M412.5 253.3L406.2 254.9L397.9 252.5L391.2 246.6L397.9 236.6L404.5 235L412.5 238.3" fill="none"/>
<path d="M402 245 407 243.3 407.8 250 403.7 250Z" fill="#ee3030"/>
<path d="M395.4 263.3 401.2 258.3 412.5 259.9 415.7 265.9 412.5 269.9 404.5 268.3 397.9 267.4Z" fill="#f37028" stroke="none"/>
<path d="M412.5 269.9L404.5 268.3L397.9 267.4L395.4 263.3L401.2 258.3L412.5 259.9" fill="none"/>
<path d="M402.8 262.9 408.2 262.4 408.7 266.6 403.7 266.6Z" fill="#ee3030"/>
<path d="M298.8 240 304.7 234.1 313 235.8 321.3 234.1 329.6 237.5 333.8 245 337.9 253.3 331.3 250.8 326.3 246.6 319.6 248.3 316.3 253.3 319.6 261.6 313 263.3 306.3 258.3 305.5 252.5 309.6 246.6 304.7 243.3Z" fill="#f37028"/>
<path d="M309.6 238.6 315.1 238.3 315.5 242.5 310.5 242.5Z" fill="#ee3030"/>
<path d="M313.4 255.6 313.5 256.6 312.7 256.9 311.8 256.9 310.8 256.5 310.8 255.8 311.2 255.2 311.6 254.5 312.5 254.3 313.4 254.7Z" fill="#ee3030"/>
<path d="M370.4 243.3 376.2 246.6 384.5 250 386.2 256.6 377.9 255.8 372.9 253.3 364.6 252.5 354.6 253.3 356.2 251.6 367.9 250 372.9 248.3Z" fill="#f37028"/>
<path d="M352.9 253.3 364.6 254.1 366.2 260.8 359.6 261.6 353.7 258.3Z" fill="#f37028"/>
<path d="M357.1 254.9 363.7 255.3 363.4 257.6 357.6 257.4Z" fill="#ee3030"/>
<path d="M337.1 264.1 340.4 262.4 346.3 269.9 351.3 273.3 356.2 270.8 363.7 272.4 364.6 276.6 359.6 277.4 356.2 281.6 362.9 289.9 371.2 298.2 379.5 303.2 384.5 309.9 381.2 314 374.6 309.9 366.2 303.2 357.9 296.6 351.3 288.2 347.9 283.2 342.9 282.4 346.3 276.6 342.9 269.9Z" fill="#f37028"/>
<path d="M356.2 272.6 361.2 272.4 361.2 274.9 356.6 274.9Z" fill="#ee3030"/>
<path d="M377.9 273.3 384.5 271.3 392 274.1 387.9 277.4 381.2 276.6Z" fill="#f37028"/>
<path d="M299.7 271.6 303.8 269.1 311.3 276.6 317.1 284.9 314.6 286.6 306.3 279.9 300.5 274.9Z" fill="#f37028"/>
<path d="M324.6 286.6 331.3 285.7 339.6 291.6 349.6 299.9 357.9 308.2 362.1 315.7 354.6 314 346.3 308.2 337.9 301.5 329.6 294.9Z" fill="#f37028"/>
<path d="M329.6 289.1 333.8 289.9 347.9 303.2 352.9 309.9 347.9 308.2 337.9 299.9 331.3 293.2Z" fill="#ee3030"/>
<path d="M313 298.2 319.6 299.9 326.3 306.5 331.3 310.7 337.9 312.4 344.6 322.5 322.3 325.7 297.5 322.5 294.7 317.2 297.5 314 304.7 309.9 313 309.9 314.6 304Z" fill="#f37028" stroke="none"/>
<path d="M297.5 314L304.7 309.9L313 309.9L314.6 304L313 298.2L319.6 299.9L326.3 306.5L331.3 310.7L337.9 312.4L344.6 322.5" fill="none"/>
<path d="M335.4 312.4 339.6 311.5 347.9 322.5 345.3 324.8 341.3 322.5Z" fill="#ee3030" stroke="none"/>
<path d="M341.3 322.5L335.4 312.4L339.6 311.5L347.9 322.5" fill="none"/>
<path d="M399.5 294.9 406.2 290.7 412.5 293.2 415.7 299.2 412.5 303.2 406.2 301.5 401.2 299Z" fill="#f37028" stroke="none"/>
<path d="M412.5 303.2L406.2 301.5L401.2 299L399.5 294.9L406.2 290.7L412.5 293.2" fill="none"/>
<path d="M399.5 316.5 406.2 314 412.5 316.5 414.4 319.8 412.5 322.5 407.5 325.7 401.2 322.5Z" fill="#f37028" stroke="none"/>
<path d="M401.2 322.5L399.5 316.5L406.2 314L412.5 316.5" fill="none"/>
<path d="M305.5 224.2 311.3 220.8 315 225 311.3 228Z" fill="#5eb95c"/>
<path d="M327.1 232.5 331.3 227.5 333.8 235 329.6 235.8Z" fill="#5eb95c"/>
<path d="M373.7 234.1 377.9 230 381.2 236.6 379.5 242.5 375.4 239.1Z" fill="#5eb95c"/>
<path d="M401.2 230 406.2 229.2 412.5 235 413.7 237 412.5 238.3 406.2 235.8Z" fill="#5eb95c" stroke="none"/>
<path d="M412.5 238.3L406.2 235.8L401.2 230L406.2 229.2L412.5 235" fill="none"/>
<path d="M338.8 247.5 345.4 244.1 347.9 248.3 342.9 252.5Z" fill="#5eb95c"/>
<path d="M352.9 247.5 356.2 244.1 367.9 247.5 367.1 249.6 357.9 250Z" fill="#5eb95c"/>
<path d="M319.6 248.3 323 247.5 329.6 254.1 327.1 254.9Z" fill="#5eb95c"/>
<path d="M349.6 263.3 353.7 257.4 361.2 260.8 371.2 268.3 375.4 276.6 371.2 280.7 364.6 277.4 356.2 269.9 350.4 266.6Z" fill="#5eb95c"/>
<path d="M354.6 259.9 361.2 262.4 369.6 269.9 371.2 276.6 364.6 274.1 356.2 266.6Z" fill="#1fa77a"/>
<path d="M357.1 263.6 362.1 264.6 363.7 268.3 358.7 267.4Z" fill="#5bc8d8"/>
<path d="M371.2 288.2 377.9 286.6 382.9 284.1 391.2 286.6 394.5 292.4 389.5 296.6 382.9 294.1 376.2 289.9Z" fill="#5eb95c"/>
<path d="M297.5 289.9 303.8 286.6 308 293.2 304.7 298.2 308 301.5 301.3 300.7 297.5 298.2 294.6 293.2Z" fill="#5eb95c" stroke="none"/>
<path d="M297.5 289.9L303.8 286.6L308 293.2L304.7 298.2L308 301.5L301.3 300.7L297.5 298.2" fill="none"/>
<path d="M326.3 280.7 331.3 277.4 336.3 284.1 341.6 289.1 337.9 289.9 331.3 284.9Z" fill="#5eb95c"/>
<path d="M333.8 303.2 339.6 304.9 347.9 311.5 356.2 317.4 364.6 322.5 359.7 325.7 352.9 322.5 344.6 316.5 337.9 310.7Z" fill="#5eb95c" stroke="none"/>
<path d="M352.9 322.5L344.6 316.5L337.9 310.7L333.8 303.2L339.6 304.9L347.9 311.5L356.2 317.4L364.6 322.5" fill="none"/>
<path d="M365.4 304.5 369.6 304 370.4 308.5 366.2 309Z" fill="#5eb95c"/>
<path d="M411.5 219.5 416 216.3 422 219.5 428.6 230 435.3 238.3 439.5 246.6 435.3 251.6 430.3 248.3 432 241.6 425.3 235 418.7 231.6 411.5 230 408.3 224Z" fill="#f37028" stroke="none"/>
<path d="M422 219.5L428.6 230L435.3 238.3L439.5 246.6L435.3 251.6L430.3 248.3L432 241.6L425.3 235L418.7 231.6L411.5 230" fill="none"/>
<path d="M411.5 221.7 416.2 223.3 415.3 228.3 411.5 228.3 409.2 224.3Z" fill="#ee3030" stroke="none"/>
<path d="M411.5 221.7L416.2 223.3L415.3 228.3L411.5 228.3" fill="none"/>
<path d="M435.3 219.5 441.8 216.3 450.3 219.5 453.6 225 460.3 226.7 466.9 221.7 475.2 225 476.1 231.6 470.2 233.3 466.9 230 461.9 231.6 455.3 233.3 451.9 230 445.3 231.6 440.3 226.7Z" fill="#f37028" stroke="none"/>
<path d="M450.3 219.5L453.6 225L460.3 226.7L466.9 221.7L475.2 225L476.1 231.6L470.2 233.3L466.9 230L461.9 231.6L455.3 233.3L451.9 230L445.3 231.6L440.3 226.7L435.3 219.5" fill="none"/>
<path d="M439.5 219.5 442.7 216.6 447.8 219.5 446.9 225.8 442 225Z" fill="#ee3030" stroke="none"/>
<path d="M447.8 219.5L446.9 225.8L442 225L439.5 219.5" fill="none"/>
<path d="M469.4 235 476.9 234.1 484.4 240 481.9 244.1 475.2 241.6Z" fill="#f37028"/>
<path d="M478.6 238.3 481.9 238.6 481.9 241.6 479.1 241.3Z" fill="#ee3030"/>
<path d="M446.1 234.1 451.9 236.6 455.3 243.3 453.6 251.6 456.1 258.3 451.9 263.3 449.4 253.3 450.3 245Z" fill="#f37028"/>
<path d="M492.7 223.3 498.5 219.5 508.5 221.7 510.2 230 514.3 238.3 510.2 245 505.2 238.3 500.2 230Z" fill="#f37028"/>
<path d="M496 223.3 501 221.3 505.2 225.8 500.2 228.3Z" fill="#ee3030"/>
<path d="M521 241.6 526.5 240 529.7 247.6 526.5 253.3 522.7 248.3Z" fill="#f37028" stroke="none"/>
<path d="M526.5 253.3L522.7 248.3L521 241.6L526.5 240" fill="none"/>
<path d="M439.5 265.8 446.9 262.4 451.9 264.1 453.6 253.3 456.9 261.6 461.9 268.3 470.2 269.9 476.1 274.9 473.6 279.9 465.3 279.1 458.6 274.9 453.6 271.6 448.6 269.9 442.8 272.4Z" fill="#f37028"/>
<path d="M466.1 255.8 470.2 250 475.2 256.6 481.9 262.4 488.6 260.8 493.5 266.6 501.9 273.3 505.2 276.6 500.2 283.2 496.9 276.6 490.2 271.6 483.6 268.3 476.9 264.9 470.2 261.6Z" fill="#f37028"/>
<path d="M494.4 257.4 499.4 250 503.5 258.3 505.2 262.9 498.5 259.9Z" fill="#f37028"/>
<path d="M417 286.6 422 279.9 430.3 282.4 440.3 286.6 450.3 289.9 445.3 293.2 437 291.6 428.6 291.6 425.3 297.4 420.3 293.2Z" fill="#f37028"/>
<path d="M472.7 286.6 478.6 284.1 486.9 288.2 493.5 286.6 498.5 281.6 505.2 288.2 511.9 294.9 516 303.2 518.5 309.9 515.2 319.9 505.2 322.5 502.6 324.8 498.5 322.5 495.2 316.5 488.6 311.5 481.9 304.9 476.9 296.6Z" fill="#f37028" stroke="none"/>
<path d="M498.5 322.5L495.2 316.5L488.6 311.5L481.9 304.9L476.9 296.6L472.7 286.6L478.6 284.1L486.9 288.2L493.5 286.6L498.5 281.6L505.2 288.2L511.9 294.9L516 303.2L518.5 309.9L515.2 319.9L505.2 322.5" fill="none"/>
<path d="M487.7 294.9 495.2 292.4 501.9 297.4 505.2 306.5 502.7 314 495.2 309.9 490.2 303.2Z" fill="#f0e826"/>
<path d="M496 302.4 501 301.5 500.2 308.2Z" fill="#5eb95c"/>
<path d="M506.9 306.5 511.9 304 520.2 311.5 523.5 319.9 518.5 322.5 515.2 325.4 510.2 322.5 506 314.9Z" fill="#ee3030" stroke="none"/>
<path d="M510.2 322.5L506 314.9L506.9 306.5L511.9 304L520.2 311.5L523.5 319.9L518.5 322.5" fill="none"/>
<path d="M512.7 312.4 516.8 311.5 519.3 316.5 514.3 317.4Z" fill="#5f6364"/>
<path d="M411.5 303.2 417 304.9 423.6 313.2 425.3 322.5 419.6 325.7 411.5 322.5 408.3 311.7Z" fill="#f37028" stroke="none"/>
<path d="M411.5 303.2L417 304.9L423.6 313.2L425.3 322.5" fill="none"/>
<path d="M435.3 316.2 445.3 315.7 445.3 322.5 441.7 325.7 436.1 322.5Z" fill="#f37028" stroke="none"/>
<path d="M436.1 322.5L435.3 316.2L445.3 315.7L445.3 322.5" fill="none"/>
<path d="M450.3 314 453.6 313.2 460.3 322.5 457.6 324.8 453.6 322.5Z" fill="#f37028" stroke="none"/>
<path d="M453.6 322.5L450.3 314L453.6 313.2L460.3 322.5" fill="none"/>
<path d="M463.6 309.9 471.9 309 481.9 314.9 483.6 322.5 476.2 325.7 466.9 322.5Z" fill="#f37028" stroke="none"/>
<path d="M466.9 322.5L463.6 309.9L471.9 309L481.9 314.9L483.6 322.5" fill="none"/>
<path d="M466.9 312.4 473.6 312.4 478.6 319.9 470.2 319.9Z" fill="#ee3030"/>
<path d="M512.7 289.1 518.5 286.6 523.5 294.1 516.8 293.2Z" fill="#f37028"/>
<path d="M414.5 245 422 240 430.3 240.8 428.6 245 425.3 248.3 430.3 253.3 440.3 254.9 442.8 250 445.3 256.6 442 259.9 433.6 259.1 425.3 255.8 418.7 251.6 415.3 249.1Z" fill="#5eb95c"/>
<path d="M431.1 245 436.1 244.1 437 250 432.8 250.8Z" fill="#ee3030"/>
<path d="M449.4 230.8 456.1 230 456.9 235.3 450.3 235.8Z" fill="#5eb95c"/>
<path d="M465.4 248.8 464.4 249.9 463.8 252.3 462.3 253 460.8 252.5 460.4 251.5 459.3 250 459.3 248.3 459.2 246.6 460.4 245.7 461.7 244.7 462.9 244.2 463.9 245.1 464.3 246.8Z" fill="#5eb95c"/>
<path d="M483.6 235 488.6 229.2 498.5 233.3 504.4 240 505.2 245.8 498.5 245 493.5 247.5 486.9 250 483.6 257.4 478.6 254.9 478.6 249.1 485.2 245 487.7 240Z" fill="#5eb95c"/>
<path d="M505.2 253.3 511.9 254.1 520.2 261.6 526.5 266.6 528.5 270.1 526.5 272.4 518.5 271.6 511.9 263.3Z" fill="#5eb95c" stroke="none"/>
<path d="M526.5 272.4L518.5 271.6L511.9 263.3L505.2 253.3L511.9 254.1L520.2 261.6L526.5 266.6" fill="none"/>
<path d="M422.8 264.9 427 264.1 435.3 271.6 439.5 278.2 435.3 277.4 428.6 271.6Z" fill="#5eb95c"/>
<path d="M486.9 272.9 491.5 272.4 491.9 277.1 487.7 277.4Z" fill="#5eb95c"/>
<path d="M432.8 299.9 438.6 297.4 446.1 299.9 442 303.2 435.3 302.4Z" fill="#5eb95c"/>
<path d="M411.5 295.7 417 296.6 419.5 301.5 413.7 300.7Z" fill="#5eb95c"/>
<path d="M465.3 303.2 471.9 300.7 478.6 304.9 481.9 309 475.2 309 468.6 307.4Z" fill="#5eb95c"/>
<path d="M512.7 219.5 515 217.5 518.5 219.5 520.2 224.2 516 225Z" fill="#5eb95c" stroke="none"/>
<path d="M518.5 219.5L520.2 224.2L516 225L512.7 219.5" fill="none"/>
<path d="M81.6 321.5 91.5 318.3 103.3 321.5 98.3 328.7 91.6 333.6 86.6 328.7Z" fill="#f37028" stroke="none"/>
<path d="M103.3 321.5L98.3 328.7L91.6 333.6L86.6 328.7L81.6 321.5" fill="none"/>
<path d="M119.9 321.5 126 318.3 134.1 321.5 131.6 329.5 126.6 330.3Z" fill="#f37028" stroke="none"/>
<path d="M134.1 321.5L131.6 329.5L126.6 330.3L119.9 321.5" fill="none"/>
<path d="M123.3 321.5 125.6 319.5 129.1 321.5 128.2 327Z" fill="#ee3030" stroke="none"/>
<path d="M129.1 321.5L128.2 327L123.3 321.5" fill="none"/>
<path d="M109.1 332 116.6 330.3 124.1 332 119.9 338.6 118.3 343.6 114.1 337.8Z" fill="#f37028"/>
<path d="M149.9 321.5 157.2 318.3 166.5 321.5 169.9 328.7 163.2 332 156.5 333.6 152.4 327Z" fill="#f37028" stroke="none"/>
<path d="M166.5 321.5L169.9 328.7L163.2 332L156.5 333.6L152.4 327L149.9 321.5" fill="none"/>
<path d="M152.4 321.5 154.7 319.5 158.2 321.5 156.5 325.3Z" fill="#ee3030" stroke="none"/>
<path d="M158.2 321.5L156.5 325.3L152.4 321.5" fill="none"/>
<path d="M178.2 321.5 180.5 319.5 184.5 321.5 186.8 326 184.5 328.7Z" fill="#f37028" stroke="none"/>
<path d="M166.5 337.8 171.5 334.5 178.2 343.6 184.5 347 187.7 352.9 184.5 356.9 178.2 353.6 173.2 345.3Z" fill="#f37028" stroke="none"/>
<path d="M184.5 356.9L178.2 353.6L173.2 345.3L166.5 337.8L171.5 334.5L178.2 343.6L184.5 347" fill="none"/>
<path d="M144.1 354.5 149.9 350.3 159.9 352.8 164.9 350.3 169.9 358.6 164.9 363.6 156.5 361.9 149.9 361.1Z" fill="#f37028"/>
<path d="M149 354.5 153.2 352.8 163.2 356.1 159.9 359.4 153.2 359.4Z" fill="#ee3030"/>
<path d="M69.5 347 75 349.5 82.5 358.6 80 359.4 73.3 353.6 69.5 352.8 67.5 349.3Z" fill="#f37028" stroke="none"/>
<path d="M69.5 347L75 349.5L82.5 358.6L80 359.4L73.3 353.6L69.5 352.8" fill="none"/>
<path d="M74.2 337.8 80.8 337 81.6 341.1 75 342Z" fill="#f37028"/>
<path d="M100 371.9 108.3 369.4 116.6 367.8 123.3 365.3 126.6 359.4 133.2 361.9 141.6 366.9 148.2 366.1 153.2 364.4 158.2 376.9 151.5 378.6 148.2 383.6 153.2 388.6 159.9 391.9 164.9 396.9 159.9 401 153.2 396.1 144.9 393.6 136.6 391.9 131.6 391.1 129.9 395.2 132.4 401.9 126.6 404.4 119.9 396.9 114.9 390.2 111.6 386.9 113.3 380.2 106.6 375.3Z" fill="#f37028"/>
<path d="M120.8 378.6 126.6 375.3 134.1 377.7 136.6 383.6 131.6 388.6 125.7 387.7 119.9 383.6Z" fill="#f0e826"/>
<path d="M124.1 379.4 129.1 379.4 127.4 384.4Z" fill="#5eb95c"/>
<path d="M114.9 371.9 118.3 371.6 118.3 374.4 115.3 374.4Z" fill="#ee3030"/>
<path d="M157.4 395.2 163.2 394.4 166.5 399.4 161.5 401Z" fill="#ee3030"/>
<path d="M95 388.6 100.8 385.2 108.3 393.6 105.8 398.6 97.5 400.2Z" fill="#f37028"/>
<path d="M72.5 382.7 79.2 379.4 82.5 388.6 85 400.2 88.3 411.9 91.6 424.5 83 427.7 72.5 424.5Z" fill="#f37028" stroke="none"/>
<path d="M72.5 424.5L72.5 382.7L79.2 379.4L82.5 388.6L85 400.2L88.3 411.9L91.6 424.5" fill="none"/>
<path d="M76.7 411.9 81.6 412.7 85 424.5 81.7 427.4 76.7 424.5Z" fill="#ee3030" stroke="none"/>
<path d="M76.7 424.5L76.7 411.9L81.6 412.7L85 424.5" fill="none"/>
<path d="M168.2 381.9 173.2 378.6 178.2 383.6 179.8 391.9 184.5 398.6 181.5 400.2 174.8 393.6 169.9 388.6Z" fill="#f37028"/>
<path d="M139.9 403.5 144.9 401.9 149 406.9 143.2 408.5Z" fill="#f37028"/>
<path d="M131.6 418.5 139.9 416.9 149.9 412.7 156.5 415.2 163.2 411.9 169.9 424.5 152.1 427.7 132.4 424.5Z" fill="#f37028" stroke="none"/>
<path d="M132.4 424.5L131.6 418.5L139.9 416.9L149.9 412.7L156.5 415.2L163.2 411.9L169.9 424.5" fill="none"/>
<path d="M179.8 406.9 184.5 405.2 187.7 415.6 184.5 424.5 180.7 418.5Z" fill="#f37028" stroke="none"/>
<path d="M184.5 424.5L180.7 418.5L179.8 406.9L184.5 405.2" fill="none"/>
<path d="M102.5 321.5 111.9 318.3 123.3 321.5 121.6 327.8 113.3 327 106.6 325.3Z" fill="#5eb95c" stroke="none"/>
<path d="M123.3 321.5L121.6 327.8L113.3 327L106.6 325.3L102.5 321.5" fill="none"/>
<path d="M134.1 333.6 143.2 326.2 147.4 330.3 145.7 338.6 153.2 343.6 157.4 347.8 153.2 349.5 146.6 345.3 143.2 339.5 136.6 337.8Z" fill="#5eb95c"/>
<path d="M101.6 352.8 108.3 352 113.3 358.6 108.3 365.3 104.1 360.3Z" fill="#5eb95c"/>
<path d="M159 369.4 164.9 366.1 171.2 373.6 164.9 377.7 160.7 374.4Z" fill="#5eb95c"/>
<path d="M166.5 392.7 172.3 393.6 176.5 399.4 171.5 402.7 168.2 397.7Z" fill="#5eb95c"/>
<path d="M169.9 412.7 176.5 416.9 184.5 424.5 178.7 427.7 171.5 424.5Z" fill="#5eb95c" stroke="none"/>
<path d="M171.5 424.5L169.9 412.7L176.5 416.9L184.5 424.5" fill="none"/>
<path d="M133.2 412.2 139.9 411.9 139.6 415.2 134.1 415.2Z" fill="#5eb95c"/>
<path d="M183.5 321.5 186.6 319.2 190.7 321.5 194 332 202.3 335.3 207.3 342 200.6 343.6 194 338.6 189 332 183.5 330.3 180.6 325.3Z" fill="#f37028" stroke="none"/>
<path d="M190.7 321.5L194 332L202.3 335.3L207.3 342L200.6 343.6L194 338.6L189 332L183.5 330.3" fill="none"/>
<path d="M183.5 347 192.3 348.6 199 352 205.6 356.9 200.6 359.4 192.3 355.3 187.3 360.3 183.5 355.3 180.6 350.2Z" fill="#f37028" stroke="none"/>
<path d="M183.5 347L192.3 348.6L199 352L205.6 356.9L200.6 359.4L192.3 355.3L187.3 360.3L183.5 355.3" fill="none"/>
<path d="M205.6 328.7 210.6 327 220.6 333.6 230.6 337 238.9 338.6 237.3 332 238.9 321.5 248.8 318.3 260.6 321.5 262.2 328.7 257.2 332 250.6 337 247.2 342 252.2 348.6 257.2 354.5 250.6 355.3 242.2 352 233.9 353.6 227.3 350.3 220.6 345.3 214 338.6Z" fill="#f37028" stroke="none"/>
<path d="M260.6 321.5L262.2 328.7L257.2 332L250.6 337L247.2 342L252.2 348.6L257.2 354.5L250.6 355.3L242.2 352L233.9 353.6L227.3 350.3L220.6 345.3L214 338.6L205.6 328.7L210.6 327L220.6 333.6L230.6 337L238.9 338.6L237.3 332L238.9 321.5" fill="none"/>
<path d="M239.7 326.2 245.6 323.7 252.2 328.7 248.1 334.5 243.1 332Z" fill="#ee3030"/>
<path d="M270.5 321.5 273.8 318.6 278.9 321.5 282.2 332 277.2 338.6 273.9 345.3 277.2 353.6 283.9 363.6 290.5 370.3 298.5 373.6 301.4 378.6 298.5 381.9 292.2 385.2 287.2 380.2 280.5 376.9 277.2 383.6 270.5 385.2 263.9 380.2 257.2 371.9 258.9 363.6 257.2 355.3 262.2 352 270.5 348.6 267.2 340.3 262.2 332Z" fill="#f37028" stroke="none"/>
<path d="M278.9 321.5L282.2 332L277.2 338.6L273.9 345.3L277.2 353.6L283.9 363.6L290.5 370.3L298.5 373.6M298.5 381.9L292.2 385.2L287.2 380.2L280.5 376.9L277.2 383.6L270.5 385.2L263.9 380.2L257.2 371.9L258.9 363.6L257.2 355.3L262.2 352L270.5 348.6L267.2 340.3L262.2 332L270.5 321.5" fill="none"/>
<path d="M272.2 321.5 282.1 318.3 293.8 321.5 292.2 332 287.2 337 278.9 335.3Z" fill="#f37028" stroke="none"/>
<path d="M293.8 321.5L292.2 332L287.2 337L278.9 335.3L272.2 321.5" fill="none"/>
<path d="M274.7 328.7 279.7 324.5 290.5 331.2 287.2 335.3 280.5 332.8Z" fill="#ee3030"/>
<path d="M282.2 329 285.8 328.7 286.3 331.7 283 332Z" fill="#5f6364"/>
<path d="M260.6 353.6 267.2 352.8 272.2 357.8 267.2 361.9 262.2 359.4Z" fill="#ee3030"/>
<path d="M268 379.4 273.9 371.9 283.9 370.3 285.5 373.6 278.9 376.9 277.2 382.7 270.5 383.6Z" fill="#ee3030"/>
<path d="M212.3 359.4 218.9 361.9 228.9 363.6 229.8 371.9 223.9 369.4 217.3 364.4Z" fill="#f37028"/>
<path d="M241.4 360.3 247.2 359.4 253.9 364.4 258.1 371.9 255.6 378.6 248.9 375.3 243.1 370.3Z" fill="#f37028"/>
<path d="M183.5 374.4 190.7 376.9 199 383.6 205.6 391.9 215.6 396.9 223.9 401.9 232.3 408.5 240.6 416.9 243.9 424.5 237.4 427.7 228.9 424.5 223.9 415.2 217.3 408.5 209 405.2 202.3 400.2 194 393.6 187.3 386.9 183.5 387.7 180.3 380.1Z" fill="#f37028" stroke="none"/>
<path d="M228.9 424.5L223.9 415.2L217.3 408.5L209 405.2L202.3 400.2L194 393.6L187.3 386.9L183.5 387.7M183.5 374.4L190.7 376.9L199 383.6L205.6 391.9L215.6 396.9L223.9 401.9L232.3 408.5L240.6 416.9L243.9 424.5" fill="none"/>
<path d="M183.5 396.9 188.2 405.2 192.3 424.5 189 427.4 183.5 424.5 180.3 409.5Z" fill="#f37028" stroke="none"/>
<path d="M183.5 396.9L188.2 405.2L192.3 424.5" fill="none"/>
<path d="M206.5 380.2 211.5 379.4 217.3 386.1 213.1 386.9Z" fill="#f37028"/>
<path d="M219.8 387.7 223.9 384.4 232.3 388.6 233.9 394.4 227.3 393.6Z" fill="#f37028"/>
<path d="M230.6 403.5 233.9 400.2 241.4 403.5 247.2 412.7 242.2 415.2 235.6 410.2Z" fill="#f37028"/>
<path d="M243.1 387.7 250.6 386.1 258.9 386.9 262.2 395.2 257.2 393.6 252.2 396.9 253.9 405.2 250.6 410.2 247.2 401.9 243.9 393.6Z" fill="#f37028"/>
<path d="M250.6 415.2 255.6 405.2 262.2 401 268.9 403.5 270.5 408.5 263.9 411 257.2 411.9 253.9 424.5 251.9 426.3 248.9 424.5Z" fill="#f37028" stroke="none"/>
<path d="M248.9 424.5L250.6 415.2L255.6 405.2L262.2 401L268.9 403.5L270.5 408.5L263.9 411L257.2 411.9L253.9 424.5" fill="none"/>
<path d="M265.2 404.7 265.2 405.2 264.6 406.1 263.5 405.9 262.9 405.4 262.3 405.1 261.9 404.5 262.7 403.6 263.7 403.4 264.6 403.8 265.4 404Z" fill="#ee3030"/>
<path d="M290.5 387.7 298.5 385.2 301.7 394.5 298.5 401.9 293 400.2Z" fill="#f37028" stroke="none"/>
<path d="M298.5 401.9L293 400.2L290.5 387.7L298.5 385.2" fill="none"/>
<path d="M292.2 388.6 297.2 388.6 297.2 395.2 293 395.2Z" fill="#ee3030"/>
<path d="M297.1 416.8 296.7 417.7 295.9 420.1 294.3 419.7 292.5 420.6 290.2 419.1 289.1 418 289.1 417 289.6 415 290.6 413.4 292.3 413.2 293.7 412.8 295.6 413.4 295.9 414.7Z" fill="#f37028"/>
<path d="M292.2 354.5 298.5 354.5 300 357 298.5 358.6 293 358.6Z" fill="#f37028" stroke="none"/>
<path d="M298.5 358.6L293 358.6L292.2 354.5L298.5 354.5" fill="none"/>
<path d="M259.7 321.5 264.6 318.3 271.4 321.5 270.5 327.8 263.9 329.5Z" fill="#5eb95c" stroke="none"/>
<path d="M271.4 321.5L270.5 327.8L263.9 329.5L259.7 321.5" fill="none"/>
<path d="M283.9 321.5 286.5 319.2 290.5 321.5 289.7 327.8 285.5 327Z" fill="#5eb95c" stroke="none"/>
<path d="M290.5 321.5L289.7 327.8L285.5 327L283.9 321.5" fill="none"/>
<path d="M281.4 338.6 290.5 336.1 297.2 334.5 298.5 347 292.2 348.6 285.5 345.3Z" fill="#5eb95c"/>
<path d="M249.7 342.8 257.2 340.3 267.2 342.8 273 347 270.5 352.8 262.2 350.3 255.6 349.5Z" fill="#5eb95c"/>
<path d="M268 363.6 274.7 359.4 282.2 363.6 278.9 369.4 271.4 368.6Z" fill="#5eb95c"/>
<path d="M258.1 370.3 263.9 366.9 270.5 371.9 268.9 378.6 262.2 376.9Z" fill="#5eb95c"/>
<path d="M287.2 359.4 292.2 358.6 298.5 364.4 300.5 368 298.5 370.3 292.2 366.9Z" fill="#5eb95c" stroke="none"/>
<path d="M298.5 370.3L292.2 366.9L287.2 359.4L292.2 358.6L298.5 364.4" fill="none"/>
<path d="M221.4 376.1 226.4 374.4 233.9 379.4 238.9 387.7 233.9 387.7 226.4 382.7Z" fill="#5eb95c"/>
<path d="M233.1 395.2 237.3 390.2 243.1 396.1 245.6 403.5 238.9 403.5 233.9 400.2Z" fill="#5eb95c"/>
<path d="M268.9 388.6 277.2 386.1 283.9 381.9 288.8 390.2 289.7 401.9 283.9 405.2 278.9 396.9 273.9 393.6Z" fill="#5eb95c"/>
<path d="M198.1 404.4 202.3 405.2 205.6 412.7 210.6 419.4 204 418.5 199.8 412.7Z" fill="#5eb95c"/>
<path d="M205.6 371.4 212 371.1 212.3 373.6 206.5 373.6Z" fill="#5eb95c"/>
<path d="M217.3 355.6 221.9 355.3 222.3 357.8 218.1 357.8Z" fill="#5eb95c"/>
<path d="M244.7 379.7 257.2 379.4 257.2 381.6 245.6 381.9Z" fill="#5eb95c"/>
<path d="M272.2 408.5 277.2 406 277.2 414.4 273.9 412.7Z" fill="#5eb95c"/>
<path d="M297.5 321.5 309.5 318.3 323 321.5 318 327.8 308 326.2 297.5 328.7 295.2 324.6Z" fill="#f37028" stroke="none"/>
<path d="M323 321.5L318 327.8L308 326.2L297.5 328.7" fill="none"/>
<path d="M338.8 321.5 345.3 318.3 353.7 321.5 354.6 328.7 347.9 332 342.1 327Z" fill="#f37028" stroke="none"/>
<path d="M353.7 321.5L354.6 328.7L347.9 332L342.1 327L338.8 321.5" fill="none"/>
<path d="M345.4 321.5 347.7 319.5 351.3 321.5 350.4 326.2Z" fill="#ee3030" stroke="none"/>
<path d="M351.3 321.5L350.4 326.2L345.4 321.5" fill="none"/>
<path d="M298.8 347 303.8 340.6 310.5 347.8 305.5 355.3Z" fill="#f37028"/>
<path d="M301.3 347 304.7 344.5 307.2 348.6 303.8 352Z" fill="#ee3030"/>
<path d="M315.5 347 321.3 340.3 331.3 344.5 338.8 348.6 336.3 355.3 339.6 363.6 332.9 365.3 328 370.3 332.9 376.9 323 375.3 314.6 371.9 306.3 368.6 305.5 378.6 297.5 376.9 294.3 366.4 297.5 357.8 304.7 361.9 314.6 366.9 324.6 368.6 329.6 363.6 326.3 356.9 319.6 352Z" fill="#f37028" stroke="none"/>
<path d="M297.5 357.8L304.7 361.9L314.6 366.9L324.6 368.6L329.6 363.6L326.3 356.9L319.6 352L315.5 347L321.3 340.3L331.3 344.5L338.8 348.6L336.3 355.3L339.6 363.6L332.9 365.3L328 370.3L332.9 376.9L323 375.3L314.6 371.9L306.3 368.6L305.5 378.6L297.5 376.9" fill="none"/>
<path d="M321.3 347 325.5 347 325.5 349.6 321.6 349.6Z" fill="#ee3030"/>
<path d="M346.3 352.8 351.3 354.5 354.6 360.3 349.6 359.4Z" fill="#f37028"/>
<path d="M339.6 383.6 346.3 378.6 354.6 376.9 357.9 371.9 355.4 366.9 361.2 371.9 364.6 378.6 362.9 385.2 354.6 386.9 347.9 391.9 342.1 394.4 338.8 388.6Z" fill="#f37028"/>
<path d="M364.6 337 371.2 332 377.9 327.8 379.5 333.6 374.6 335.3 372.9 343.6 377.9 350.3 385.4 355.3 381.2 360.3 371.2 363.6 364.6 358.6 361.2 352 364.6 345.3Z" fill="#f37028"/>
<path d="M367.1 337.8 370.4 337.8 370.4 342.8 367.6 342.8Z" fill="#ee3030"/>
<path d="M365.4 353.6 371.2 352 375.4 356.1 369.6 359.4Z" fill="#ee3030"/>
<path d="M384.5 321.5 391.1 318.3 399.5 321.5 401.2 328.7 412.5 335.3 415.7 346.3 412.5 355.3 404.5 356.9 397.9 355.3 392.9 350.3 392 342 394.5 333.6 390.4 327.8Z" fill="#f37028" stroke="none"/>
<path d="M399.5 321.5L401.2 328.7L412.5 335.3M412.5 355.3L404.5 356.9L397.9 355.3L392.9 350.3L392 342L394.5 333.6L390.4 327.8L384.5 321.5" fill="none"/>
<path d="M395.4 345.3 406.2 345.3 407 349.5 397.9 350.3Z" fill="#ee3030"/>
<path d="M390.4 359.4 397.9 357.8 406.2 360.3 412.5 358.6 415.7 366.2 412.5 371.9 404.5 375.3 397.9 376.9 392.9 371.9 396.2 365.3Z" fill="#f37028" stroke="none"/>
<path d="M412.5 371.9L404.5 375.3L397.9 376.9L392.9 371.9L396.2 365.3L390.4 359.4L397.9 357.8L406.2 360.3L412.5 358.6" fill="none"/>
<path d="M381.2 385.2 387.9 377.7 395.4 379.4 392.9 385.2 397.9 391.9 406.2 393.6 411.2 395.2 407.8 399.4 397.9 400.2 391.2 396.1 384.5 391.9Z" fill="#f37028"/>
<path d="M384.5 386.1 388.7 383.6 392 391.9 387.9 392.7Z" fill="#ee3030"/>
<path d="M313.8 400.2 319.6 396.1 331.3 395.2 339.6 397.7 338.8 408.5 331.3 413.5 323 412.7 316.3 408.5Z" fill="#f37028"/>
<path d="M319.6 404.4 332.1 403.5 332.1 407.7 321.3 408.2Z" fill="#ee3030"/>
<path d="M374.6 403.5 380.4 405.2 380.4 418.5 376.2 419.4 375.4 410.2Z" fill="#f37028"/>
<path d="M390.4 409.4 397.9 408.5 412.5 412.7 415.7 419.3 412.5 424.5 403.4 427.7 392.9 424.5Z" fill="#f37028" stroke="none"/>
<path d="M392.9 424.5L390.4 409.4L397.9 408.5L412.5 412.7" fill="none"/>
<path d="M307.2 419.4 313.8 415.2 318.8 424.5 314.4 427.7 308 424.5Z" fill="#f37028" stroke="none"/>
<path d="M308 424.5L307.2 419.4L313.8 415.2L318.8 424.5" fill="none"/>
<path d="M297.5 387.7 300.5 388.6 300.5 395.2 297.5 395.2 294.9 390.7Z" fill="#f37028" stroke="none"/>
<path d="M297.5 387.7L300.5 388.6L300.5 395.2L297.5 395.2" fill="none"/>
<path d="M357.1 404.7 360.1 404.4 360.4 408.2 357.6 408.5Z" fill="#f37028"/>
<path d="M299.7 332 306.3 329.5 313 333.6 315.5 340.3 312.1 342.8 307.2 336.1Z" fill="#5eb95c"/>
<path d="M328.8 330.3 333.8 323.7 341.3 330.3 347.9 337 357.9 338.6 359.6 332 356.2 327 359.6 321.5 362.2 319.2 366.2 321.5 363.7 332 362.1 340.3 356.2 343.6 346.3 342 337.9 335.3 333.8 340.3 330.5 337Z" fill="#5eb95c" stroke="none"/>
<path d="M366.2 321.5L363.7 332L362.1 340.3L356.2 343.6L346.3 342L337.9 335.3L333.8 340.3L330.5 337L328.8 330.3L333.8 323.7L341.3 330.3L347.9 337L357.9 338.6L359.6 332L356.2 327L359.6 321.5" fill="none"/>
<path d="M400.3 321.5 405.2 318.3 412.5 321.5 415.7 327.5 412.5 331.2 404.5 329.5Z" fill="#5eb95c" stroke="none"/>
<path d="M412.5 331.2L404.5 329.5L400.3 321.5" fill="none"/>
<path d="M376.2 339.5 385.4 339.5 386.2 345.3 379.5 345.3Z" fill="#5eb95c"/>
<path d="M310.5 356.1 315.5 353.6 322.1 359.4 324.6 365.3 318.8 364.4 313 360.3Z" fill="#5eb95c"/>
<path d="M369.6 371.9 376.2 366.9 385.4 372.8 380.4 380.2 373.7 377.7Z" fill="#5eb95c"/>
<path d="M366.2 388.6 371.2 386.1 377.9 385.2 381.2 391.9 387.9 396.9 392.9 401.9 384.5 399.4 376.2 396.1 369.6 391.9Z" fill="#5eb95c"/>
<path d="M403.7 381.1 412.5 378.6 415.7 384.5 412.5 388.6 406.2 386.9Z" fill="#5eb95c" stroke="none"/>
<path d="M412.5 388.6L406.2 386.9L403.7 381.1L412.5 378.6" fill="none"/>
<path d="M318 387.7 324.6 386.6 332.9 386.1 333.8 391.1 324.6 390.2Z" fill="#5eb95c"/>
<path d="M299.7 407.7 303.8 401.9 306.3 410.2 303.8 416.9 300.5 412.7Z" fill="#5eb95c"/>
<path d="M318.8 412.7 324.6 415.2 332.9 419.4 337.9 424.5 331.4 427.7 323 424.5Z" fill="#5eb95c" stroke="none"/>
<path d="M323 424.5L318.8 412.7L324.6 415.2L332.9 419.4L337.9 424.5" fill="none"/>
<path d="M415.3 321.5 425.2 318.3 437 321.5 441.1 330.3 438.6 337 445.3 345.3 451.1 352.8 443.6 352 435.3 347 428.6 345.3 422 342 417 337Z" fill="#f37028" stroke="none"/>
<path d="M437 321.5L441.1 330.3L438.6 337L445.3 345.3L451.1 352.8L443.6 352L435.3 347L428.6 345.3L422 342L417 337L415.3 321.5" fill="none"/>
<path d="M421.2 328.7 433.6 327.8 434.5 333.6 430.3 337 429.5 343.6 422.8 340.3Z" fill="#ee3030"/>
<path d="M411.5 342 418.7 350.3 427 356.9 430.3 365.3 427 370.3 420.3 363.6 411.5 358.6 408.3 349.3Z" fill="#f37028" stroke="none"/>
<path d="M411.5 342L418.7 350.3L427 356.9L430.3 365.3L427 370.3L420.3 363.6L411.5 358.6" fill="none"/>
<path d="M438.6 321.5 446 318.3 455.3 321.5 448.6 327 443.6 328.7Z" fill="#f37028" stroke="none"/>
<path d="M455.3 321.5L448.6 327L443.6 328.7L438.6 321.5" fill="none"/>
<path d="M446.1 332 456.9 321.5 461 318.3 466.9 321.5 475.2 332 473.6 338.6 476.1 347 479.4 361.9 473.6 358.6 466.9 353.6 461.9 363.6 455.3 356.9 457.8 350.3 451.9 343.6 448.6 338.6Z" fill="#f37028" stroke="none"/>
<path d="M466.9 321.5L475.2 332L473.6 338.6L476.1 347L479.4 361.9L473.6 358.6L466.9 353.6L461.9 363.6L455.3 356.9L457.8 350.3L451.9 343.6L448.6 338.6L446.1 332L456.9 321.5" fill="none"/>
<path d="M453.6 339.5 461.9 334.5 470.2 340.3 468.6 345.3 461.1 347Z" fill="#f0e826"/>
<path d="M458.6 339.5 463.6 337.8 466.1 341.1 461.9 343.6Z" fill="#5eb95c"/>
<path d="M487.7 337.8 495.2 333.6 500.2 325.3 505.2 335.3 511.9 343.6 515.2 350.3 508.5 348.6 501.9 353.6 496.9 348.6 491.9 343.6Z" fill="#f37028"/>
<path d="M496 345.6 499.9 345.3 500.2 348.3 496.5 348.6Z" fill="#ee3030"/>
<path d="M516.8 321.5 520.5 318.3 526.5 321.5 529.7 342.9 526.5 361.9 520.2 358.6 516 348.6 518.5 340.3 513.5 335.3 512.7 328.7Z" fill="#f37028" stroke="none"/>
<path d="M526.5 361.9L520.2 358.6L516 348.6L518.5 340.3L513.5 335.3L512.7 328.7L516.8 321.5" fill="none"/>
<path d="M515.2 381.9 526.5 378.6 529.7 387.9 526.5 395.2 521 397.7 516 391.9Z" fill="#f37028" stroke="none"/>
<path d="M526.5 395.2L521 397.7L516 391.9L515.2 381.9L526.5 378.6" fill="none"/>
<path d="M511.9 370.3 516.8 366.9 523.5 370.3 526.5 376.9 523.5 381.9 516.8 379.4 512.7 375.3Z" fill="#ee3030"/>
<path d="M515.2 371.1 519.3 370.3 523.5 375.3 520.2 377.7 516.8 375.3Z" fill="#5f6364"/>
<path d="M481.1 363.6 486.9 358.6 496.9 360.3 501.9 366.1 495.2 370.3 486.9 368.6Z" fill="#f37028"/>
<path d="M486.9 362.8 493.5 362.8 492.7 366.9 487.7 366.6Z" fill="#ee3030"/>
<path d="M439.5 362.8 444.5 361.1 450.3 370.3 456.1 380.2 453.6 386.1 447.8 381.9 446.9 375.3 442 368.6Z" fill="#f37028"/>
<path d="M471.9 380.2 478.6 377.7 490.2 380.2 495.2 391.9 490.2 390.2 483.6 386.1 476.1 383.6Z" fill="#f37028"/>
<path d="M431.1 389.4 434.5 383.6 441.1 388.6 445.3 395.2 449.4 403.5 443.6 400.2 437 393.6Z" fill="#f37028"/>
<path d="M475.2 392.7 480.2 393.6 485.2 400.2 480.2 403.5 476.9 398.6Z" fill="#f37028"/>
<path d="M417 401 423.6 399.4 433.6 400.2 440.3 406.9 433.6 410.2 425.3 408.5 420.3 406.9Z" fill="#f37028"/>
<path d="M427 404.7 435 404.4 435.3 407.4 427.8 407.7Z" fill="#ee3030"/>
<path d="M454.4 408.5 460.3 409.4 469.4 417.7 466.9 424.5 461.9 420.2 458.6 415.2Z" fill="#f37028"/>
<path d="M472.7 412.7 477.7 409.4 485.2 413.5 490.2 424.5 484.1 427.7 476.1 424.5Z" fill="#f37028" stroke="none"/>
<path d="M476.1 424.5L472.7 412.7L477.7 409.4L485.2 413.5L490.2 424.5" fill="none"/>
<path d="M493.5 415.2 498.5 410.2 505.2 411.9 513.5 416.9 518.5 424.5 507.8 427.7 495.2 424.5Z" fill="#f37028" stroke="none"/>
<path d="M495.2 424.5L493.5 415.2L498.5 410.2L505.2 411.9L513.5 416.9L518.5 424.5" fill="none"/>
<path d="M496.9 413.5 501 412.7 502.7 417.7 498.5 418.5Z" fill="#ee3030"/>
<path d="M411.5 367.8 417 369.4 418.7 374.4 411.5 375.3 408.9 370.7Z" fill="#f37028" stroke="none"/>
<path d="M411.5 367.8L417 369.4L418.7 374.4L411.5 375.3" fill="none"/>
<path d="M411.5 412.7 415.3 413.5 415.3 424.5 414 425.7 411.5 424.5 408.3 417.4Z" fill="#f37028" stroke="none"/>
<path d="M411.5 412.7L415.3 413.5L415.3 424.5" fill="none"/>
<path d="M464.4 321.5 470.5 318.3 478.6 321.5 485.2 328.7 486.9 337 490.2 346.1 485.2 343.6 480.2 337 476.9 330.3 470.2 327Z" fill="#5eb95c" stroke="none"/>
<path d="M478.6 321.5L485.2 328.7L486.9 337L490.2 346.1L485.2 343.6L480.2 337L476.9 330.3L470.2 327L464.4 321.5" fill="none"/>
<path d="M506 322.8 511 321.5 511.9 328.7 508.5 330.3Z" fill="#5eb95c"/>
<path d="M411.5 325.3 415 326.2 415.3 331.7 411.5 332 409.2 328Z" fill="#5eb95c" stroke="none"/>
<path d="M411.5 325.3L415 326.2L415.3 331.7L411.5 332" fill="none"/>
<path d="M441.1 337.8 445.3 337 446.1 342.3 442 342.8Z" fill="#5eb95c"/>
<path d="M502.7 357.8 508.5 352 514.3 357.8 513.5 365.3 508.5 368.6 504.4 363.6Z" fill="#5eb95c"/>
<path d="M468.6 371.9 471.9 366.1 478.6 369.4 484.4 372.8 476.9 374.4Z" fill="#5eb95c"/>
<path d="M447.8 361.9 451.9 360.3 456.1 366.1 451.9 367.8Z" fill="#5eb95c"/>
<path d="M411.5 380.2 418.7 381.9 423.6 376.9 427.8 380.2 423.6 386.9 428.6 393.6 432 400.2 425.3 401.9 418.7 395.2 411.5 388.6 408.6 383.5Z" fill="#5eb95c" stroke="none"/>
<path d="M411.5 380.2L418.7 381.9L423.6 376.9L427.8 380.2L423.6 386.9L428.6 393.6L432 400.2L425.3 401.9L418.7 395.2L411.5 388.6" fill="none"/>
<path d="M413.7 386.9 418.7 386.1 427 396.9 423.6 399.4 417 393.6Z" fill="#3fae49"/>
<path d="M465.3 394.4 470.2 392.7 475.2 398.6 471.9 401.9 466.9 399.4Z" fill="#5eb95c"/>
<path d="M485.2 406.9 490.2 398.6 496.9 402.7 501.9 405.2 495.2 406.9 490.2 411.9Z" fill="#5eb95c"/>
<path d="M437 417.7 445.3 415.2 449.4 410.2 456.1 413.5 457.8 420.2 451.9 421 445.3 424.5 442.3 427.1 437.8 424.5Z" fill="#5eb95c" stroke="none"/>
<path d="M437.8 424.5L437 417.7L445.3 415.2L449.4 410.2L456.1 413.5L457.8 420.2L451.9 421L445.3 424.5" fill="none"/>
<path d="M421.2 412.2 427.3 411.9 427.8 416.5 422 416.9Z" fill="#5eb95c"/>
</g>
<g stroke="#1a1a1a" stroke-width="1.5" fill="none">
<path d="M69.6 16.6 V422.5 H527.3"/>
<path d="M155.1 422.5 v-10.5" stroke-width="1.3"/>
<path d="M247.9 422.5 v-10.5" stroke-width="1.3"/>
<path d="M340.7 422.5 v-10.5" stroke-width="1.3"/>
<path d="M433.5 422.5 v-10.5" stroke-width="1.3"/>
<path d="M527.6 422.5 v-10.5" stroke-width="1.3"/>
<path d="M69.6 345.2 h11" stroke-width="1.3"/>
<path d="M69.6 264.2 h11" stroke-width="1.3"/>
<path d="M69.6 180.0 h11" stroke-width="1.3"/>
<path d="M69.6 99.3 h11" stroke-width="1.3"/>
<path d="M69.6 16.4 h11" stroke-width="1.3"/>
</g>
<clipPath id="c2"><rect x="62.3" y="506.0" width="459.6" height="409.6"/></clipPath>
<rect x="62.3" y="506.0" width="459.6" height="409.6" fill="#f0e826"/>
<g clip-path="url(#c2)" stroke="#1a1a1a" stroke-width="0.55" stroke-linejoin="round">
<path d="M76.5 508.3Q75.4 505.5 80.5 504.5L86.2 503.3Q91.3 502.3 96.9 503.3L103.3 504.5Q109 505.5 110.1 508.3L111.3 511.5Q112.4 514.4 112.9 519.2L113.5 524.7Q114 529.5 113.5 532.2L112.9 535.2Q112.4 537.9 114 540.6L115.8 543.6Q117.4 546.3 118.2 549L119.1 552Q119.9 554.7 118.6 555.2L117.1 555.8Q115.7 556.4 114.1 553.7L112.3 550.7Q110.7 548 108 545.3L105 542.3Q102.3 539.6 99.6 537.4L96.6 535Q93.9 532.9 91.2 530.2L88.2 527.2Q85.5 524.5 83.4 521.2L80.9 517.6Q78.8 514.4 77.7 511.5Z" fill="#f37028" stroke="none"/>
<path d="M110.1 508.3L111.3 511.5Q112.4 514.4 112.9 519.2M112.9 519.2L113.5 524.7Q114 529.5 113.5 532.2M113.5 532.2L112.9 535.2Q112.4 537.9 114 540.6M114 540.6L115.8 543.6Q117.4 546.3 118.2 549M118.2 549L119.1 552Q119.9 554.7 118.6 555.2M118.6 555.2L117.1 555.8Q115.7 556.4 114.1 553.7M114.1 553.7L112.3 550.7Q110.7 548 108 545.3M108 545.3L105 542.3Q102.3 539.6 99.6 537.4M99.6 537.4L96.6 535Q93.9 532.9 91.2 530.2M91.2 530.2L88.2 527.2Q85.5 524.5 83.4 521.2M83.4 521.2L80.9 517.6Q78.8 514.4 77.7 511.5M77.7 511.5L76.5 508.3" fill="none"/>
<path d="M89.9 518.2Q87.2 514.4 88.8 514.1L90.6 513.8Q92.2 513.6 94.9 516L97.9 518.7Q100.6 521.1 103.8 523.3L107.5 525.7Q110.7 527.8 111.5 530L112.4 532.4Q113.2 534.5 111.9 536.1L110.3 538Q109 539.6 106.9 538L104.4 536.1Q102.3 534.5 100.1 531.9L97.7 528.8Q95.6 526.1 92.9 522.4Z" fill="#ee3030"/>
<path d="M101.7 527.2Q101.4 525.3 103.9 525.8L106.6 526.4Q109 527 109.8 529.1L110.7 531.5Q111.5 533.7 109.9 534.5L108.1 535.4Q106.5 536.2 105.1 534.6L103.6 532.8Q102.3 531.2 102 529.3Z" fill="#a3161b"/>
<path d="M104.4 529.4Q104 527.8 105.3 528.1L106.8 528.4Q108.2 528.7 108.4 530L108.7 531.5Q109 532.9 107.8 532.9L106.5 532.9Q105.3 532.9 104.9 531.2Z" fill="#5f6364"/>
<path d="M112.6 545Q110.7 540.4 111.8 541L113 541.6Q114 542.1 115.9 545.9L118 550.1Q119.9 553.8 118.8 554.1L117.6 554.4Q116.6 554.7 114.7 550.1Z" fill="#ee3030"/>
<path d="M63.7 542.3Q63.7 539.6 65.3 539L67.1 538.4Q68.7 537.9 69.8 534.7L71 531Q72.1 527.8 74.2 527.3L76.6 526.7Q78.8 526.1 81.5 528.3L84.5 530.7Q87.2 532.9 89.9 535L92.9 537.4Q95.6 539.6 97.7 541.7L100.1 544.1Q102.3 546.3 101.8 547.9L101.1 549.7Q100.6 551.3 97.9 551.9L94.9 552.5Q92.2 553 91.1 554.6L89.9 556.4Q88.9 558 86.2 557.5L83.2 556.9Q80.5 556.4 77.8 554.7L74.8 552.9Q72.1 551.3 69.4 550.3L66.4 549Q63.7 548 63.7 545.3Z" fill="#f37028"/>
<path d="M94.2 546.8Q93.9 545.8 95.4 545.7L97.1 545.6Q98.6 545.4 98.7 546.4L98.8 547.5Q98.9 548.5 97.6 548.6L96.1 548.7Q94.7 548.8 94.5 547.8Z" fill="#ee3030"/>
<path d="M116.8 560.2Q116.6 558 119.5 557.8L122.8 557.5Q125.8 557.2 127.9 559.1L130.4 561.2Q132.5 563.1 132 565.5L131.4 568.2Q130.8 570.6 128.1 570.4L125.1 570.1Q122.4 569.8 120.8 568.2L119 566.4Q117.4 564.8 117.1 562.6Z" fill="#f37028"/>
<path d="M119.1 560.5Q119.1 558.9 121.2 558.9L123.6 558.9Q125.8 558.9 127.4 560.5L129.2 562.3Q130.8 563.9 130.3 565.5L129.7 567.3Q129.1 569 127 568.7L124.6 568.4Q122.4 568.1 121.4 566.8L120.2 565.3Q119.1 563.9 119.1 562.3Z" fill="#a3161b"/>
<path d="M122.7 563.3Q122.4 562.2 124 562.5L125.9 562.8Q127.5 563.1 127.2 564.2L126.9 565.4Q126.6 566.4 125.6 566.2L124.3 565.9Q123.3 565.6 123 564.5Z" fill="#5f6364"/>
<path d="M108.9 566.9Q106.5 564.8 109.4 564.5L112.8 564.2Q115.7 563.9 116.5 566.9L117.4 570.2Q118.2 573.1 116.9 572.6L115.4 572Q114 571.5 111.6 569.3Z" fill="#f37028"/>
<path d="M135.8 548.4Q134.2 545.4 135.5 545.7L137 546Q138.4 546.3 140.8 549.5L143.5 553.1Q145.9 556.4 149.2 558.5L152.8 560.9Q156 563.1 158.7 562.3L161.7 561.4Q164.4 560.6 166 561.9L167.8 563.4Q169.4 564.8 167.8 566.4L166 568.2Q164.4 569.8 161.2 570.1L157.6 570.4Q154.3 570.6 151.6 569L148.6 567.2Q145.9 565.6 143.8 562.1L141.4 558.2Q139.2 554.7 137.6 551.7Z" fill="#f37028"/>
<path d="M151.5 530.8Q150.1 528.7 152 528.7L154.1 528.7Q156 528.7 157.1 530L158.3 531.5Q159.4 532.9 157.8 533.7L155.9 534.6Q154.3 535.4 153 533.2Z" fill="#f37028"/>
<path d="M161.2 522.4Q159.4 520.3 160.7 519.9L162.2 519.5Q163.6 519.1 165.4 521.9L167.6 525Q169.4 527.8 168.1 527.6L166.6 527.3Q165.2 527 163.4 524.8Z" fill="#f37028"/>
<path d="M63.7 577.4Q63.7 572.3 65.8 571L68.2 569.5Q70.4 568.1 73.1 569.5L76.1 571Q78.8 572.3 77.2 574.2L75.4 576.3Q73.8 578.2 72.1 580.9L70.3 583.9Q68.7 586.6 67.1 587.1L65.3 587.7Q63.7 588.3 63.7 583.2Z" fill="#f37028"/>
<path d="M107.8 591.5Q105.6 589.1 107.8 588.3L110.2 587.4Q112.4 586.6 114.5 588.2L116.9 590Q119.1 591.6 119.6 593.8L120.2 596.2Q120.8 598.3 119.7 600.5L118.5 602.9Q117.4 605 117.9 606.5L118.5 608.1Q119.1 609.5 116.7 610.5L114 611.7Q111.6 612.7 108.6 611.7L105.3 610.5Q102.3 609.5 103.9 607L105.7 604.2Q107.3 601.7 108.9 600.1L110.7 598.3Q112.4 596.6 110.2 594.2Z" fill="#f37028" stroke="none"/>
<path d="M107.8 588.3L110.2 587.4Q112.4 586.6 114.5 588.2M114.5 588.2L116.9 590Q119.1 591.6 119.6 593.8M119.6 593.8L120.2 596.2Q120.8 598.3 119.7 600.5M119.7 600.5L118.5 602.9Q117.4 605 117.9 606.5M117.9 606.5L118.5 608.1M103.9 607L105.7 604.2Q107.3 601.7 108.9 600.1M108.9 600.1L110.7 598.3Q112.4 596.6 110.2 594.2M110.2 594.2L107.8 591.5Q105.6 589.1 107.8 588.3" fill="none"/>
<path d="M63.7 604.2Q63.7 601.7 65.3 602.2L67.1 602.8Q68.7 603.4 70.9 605.3L73.3 607.5Q75.4 609.5 73.9 610.5L72.1 611.7Q70.5 612.7 68.3 611.7L65.9 610.5Q63.7 609.5 63.7 607Z" fill="#f37028" stroke="none"/>
<path d="M65.3 602.2L67.1 602.8Q68.7 603.4 70.9 605.3M70.9 605.3L73.3 607.5M63.7 607L63.7 604.2Q63.7 601.7 65.3 602.2" fill="none"/>
<path d="M142.5 589.3Q140.9 587.4 143.6 587.1L146.6 586.8Q149.3 586.6 152.5 587.4L156.1 588.3Q159.4 589.1 158.3 590.7L157.1 592.5Q156 594.1 152.8 593.9L149.2 593.6Q145.9 593.3 144.3 591.4Z" fill="#f37028"/>
<path d="M133 599.1Q131.7 597.5 133 596.7L134.5 595.8Q135.9 595 137.2 596.6L138.7 598.4Q140.1 600 138.7 600.8L137.2 601.7Q135.9 602.5 134.5 600.9Z" fill="#f37028"/>
<path d="M167.7 594.1Q166.1 592.5 169.7 592.7L173.8 593Q177.5 593.3 178.2 594.6L179.1 596.1Q179.8 597.4 179.1 598.2L178.2 599.2Q177.5 600 175.5 599.2L173.2 598.3Q171.1 597.5 169.5 595.9Z" fill="#f37028" stroke="none"/>
<path d="M169.7 592.7L173.8 593M175.5 599.2L173.2 598.3Q171.1 597.5 169.5 595.9M169.5 595.9L167.7 594.1Q166.1 592.5 169.7 592.7" fill="none"/>
<path d="M159.9 605.3Q159.4 603.4 160.4 603.1L161.6 602.8Q162.7 602.5 164.9 604.8L167.3 607.3Q169.4 609.5 168.4 610.4L167.2 611.5Q166.1 612.4 164.5 611.5L162.7 610.4Q161 609.5 160.5 607.5Z" fill="#f37028" stroke="none"/>
<path d="M160.4 603.1L161.6 602.8Q162.7 602.5 164.9 604.8M164.9 604.8L167.3 607.3M160.5 607.5L159.9 605.3Q159.4 603.4 160.4 603.1" fill="none"/>
<path d="M69 513.3Q68.7 512.4 71.1 512.2L73.9 512Q76.3 511.9 76 512.9L75.7 514.2Q75.4 515.2 73.5 515.2L71.4 515.2Q69.6 515.2 69.3 514.3Z" fill="#f37028"/>
<path d="M125.7 515.2Q124.1 513.6 127.3 513.3L131 513Q134.2 512.7 135.5 515.4L137 518.4Q138.4 521.1 139.5 523.3L140.7 525.7Q141.7 527.8 139.9 527L137.7 526.1Q135.9 525.3 133.7 523.2L131.3 520.7Q129.1 518.6 127.5 517Z" fill="#5eb95c"/>
<path d="M115.7 539.5Q114.9 537.9 116.8 536.3L118.9 534.5Q120.8 532.9 123.4 533.7L126.5 534.6Q129.1 535.4 130.2 537.8L131.4 540.5Q132.5 542.9 132 545.6L131.4 548.6Q130.8 551.3 131.9 553.5L133.1 555.9Q134.2 558 132.6 558.6L130.8 559.2Q129.1 559.7 127.5 558.1L125.7 556.3Q124.1 554.7 123.6 552L123 549Q122.4 546.3 120.8 545.2L119 544Q117.4 542.9 116.6 541.3Z" fill="#5eb95c"/>
<path d="M96.4 557.1Q95.6 555.5 98.3 554.2L101.3 552.7Q104 551.3 104.8 549.4L105.7 547.3Q106.5 545.4 107.8 547.3L109.3 549.4Q110.7 551.3 111.2 554L111.8 557Q112.4 559.7 110.2 560.3L107.8 560.9Q105.6 561.4 103.2 561.1L100.5 560.8Q98.1 560.6 97.3 558.9Z" fill="#5eb95c"/>
<path d="M81.5 566.1Q80.5 564.8 82.6 563.4L85 561.9Q87.2 560.6 90.1 561.4L93.5 562.3Q96.4 563.1 97 564.4L97.6 565.9Q98.1 567.3 95.7 568.3L93 569.6Q90.5 570.6 88.4 570.1L86 569.5Q83.8 569 82.7 567.6Z" fill="#5eb95c"/>
<path d="M100 568.6Q98.1 566.4 100 566.2L102.1 565.9Q104 565.6 106.7 568.5L109.7 571.9Q112.4 574.8 115.6 577L119.2 579.4Q122.4 581.5 125.7 583.2L129.3 585Q132.5 586.6 134.1 588.2L135.9 590Q137.5 591.6 135.9 593.2L134.1 595Q132.5 596.6 130.4 596.1L127.9 595.5Q125.8 595 123.6 592.3L121.2 589.3Q119.1 586.6 116.4 584.4L113.4 582Q110.7 579.9 108.5 577.7L106.1 575.3Q104 573.1 102.1 571Z" fill="#5eb95c"/>
<path d="M126.8 574.5Q125 573.1 127.9 571.3L131.2 569.2Q134.2 567.3 136.9 568.6L139.9 570.1Q142.6 571.5 143.4 574.2L144.3 577.2Q145.1 579.9 142.7 580.4L140 581Q137.5 581.5 135.4 580.2L133 578.7Q130.8 577.3 128.9 576Z" fill="#5eb95c"/>
<path d="M85.2 584Q84.7 582.4 86.5 581L88.7 579.5Q90.5 578.2 93 579L95.7 579.9Q98.1 580.7 99.2 583.1L100.4 585.8Q101.4 588.3 100.1 590.1L98.6 592.3Q97.3 594.1 95.1 593.3L92.7 592.4Q90.5 591.6 89.2 590.3L87.7 588.8Q86.3 587.4 85.8 585.8Z" fill="#5eb95c"/>
<path d="M120.2 605.3Q119.9 603.4 122.3 601.6L125.1 599.7Q127.5 598 130.2 598.6L133.2 599.4Q135.9 600 137.5 603L139.3 606.5Q140.9 609.5 138 610.5L134.7 611.7Q131.8 612.7 128.3 611.7L124.3 610.5Q120.8 609.5 120.5 607.5Z" fill="#5eb95c" stroke="none"/>
<path d="M122.3 601.6L125.1 599.7Q127.5 598 130.2 598.6M130.2 598.6L133.2 599.4Q135.9 600 137.5 603M137.5 603L139.3 606.5M120.5 607.5L120.2 605.3Q119.9 603.4 122.3 601.6" fill="none"/>
<path d="M130.6 607Q130.8 605.9 132.4 605.6L134.3 605.3Q135.9 605 136.4 606.5L137 608.1Q137.5 609.5 136.6 610.3L135.5 611.3Q134.6 612.1 133.1 611.3L131.4 610.3Q130 609.5 130.3 608.3Z" fill="#5bc8d8" stroke="none"/>
<path d="M132.4 605.6L134.3 605.3Q135.9 605 136.4 606.5M136.4 606.5L137 608.1M130.3 608.3L130.6 607Q130.8 605.9 132.4 605.6" fill="none"/>
<path d="M171.7 516Q171.1 513.6 172.2 513.6L173.4 513.6Q174.5 513.6 174.7 516.5L175 519.8Q175.3 522.8 174.5 522.2L173.6 521.6Q172.8 521.1 172.3 518.7Z" fill="#5eb95c"/>
<path d="M67 597.7Q65.4 595.8 67.2 595.8L69.4 595.8Q71.2 595.8 72.6 598.5L74.1 601.5Q75.4 604.2 73.8 603.4L72 602.5Q70.4 601.7 68.8 599.8Z" fill="#5eb95c"/>
<path d="M162.7 599.4Q161 597.5 162.7 597.2L164.5 596.9Q166.1 596.6 168.2 598.8L170.6 601.2Q172.8 603.4 174.3 605.3L176 607.5Q177.5 609.5 176.6 610.1L175.6 610.9Q174.7 611.5 173.5 610.9L172.3 610.1Q171.1 609.5 169.5 607.5L167.7 605.3Q166.1 603.4 164.5 601.5Z" fill="#5eb95c" stroke="none"/>
<path d="M162.7 597.2L164.5 596.9Q166.1 596.6 168.2 598.8M168.2 598.8L170.6 601.2Q172.8 603.4 174.3 605.3M174.3 605.3L176 607.5M169.5 607.5L167.7 605.3Q166.1 603.4 164.5 601.5M164.5 601.5L162.7 599.4Q161 597.5 162.7 597.2" fill="none"/>
<path d="M187.9 507Q187.1 505.5 188.4 504.5L189.8 503.3Q191.1 502.3 193.1 503.3L195.2 504.5Q197.1 505.5 198 507.3L198.9 509.3Q199.7 511 197.5 512.4L195.1 513.9Q192.9 515.2 191.9 513.6L190.7 511.8Q189.6 510.2 188.8 508.7Z" fill="#f37028" stroke="none"/>
<path d="M198 507.3L198.9 509.3Q199.7 511 197.5 512.4M197.5 512.4L195.1 513.9Q192.9 515.2 191.9 513.6M191.9 513.6L190.7 511.8Q189.6 510.2 188.8 508.7M188.8 508.7L187.9 507" fill="none"/>
<path d="M203.8 515.2Q203 513.6 204.6 511.9L206.4 510.1Q208.1 508.5 210.5 509.3L213.2 510.2Q215.6 511 216.4 512.6L217.3 514.5Q218.1 516.1 216.5 517.4L214.7 518.9Q213.1 520.3 210.7 519.7L208 519.1Q205.5 518.6 204.7 517Z" fill="#f37028"/>
<path d="M206.6 513.8Q206.4 512.7 207.7 511.9L209.2 511Q210.6 510.2 211.9 511.3L213.4 512.5Q214.8 513.6 213.7 514.6L212.5 515.8Q211.4 516.9 210.1 516.6L208.6 516.3Q207.2 516.1 206.9 515Z" fill="#a3161b"/>
<path d="M187 528.6Q186.2 527 188.4 526.4L190.8 525.8Q192.9 525.3 194.3 527.7L195.8 530.4Q197.1 532.9 195.5 534.2L193.7 535.7Q192.1 537.1 191 535.4L189.8 533.6Q188.8 532 187.9 530.4Z" fill="#f37028"/>
<path d="M245.8 513.5Q244.1 511 245.5 511.3L247 511.6Q248.3 511.9 251.3 514L254.6 516.4Q257.6 518.6 260 519.9L262.7 521.4Q265.1 522.8 264.9 524.4L264.6 526.2Q264.3 527.8 261.6 526.7L258.6 525.5Q255.9 524.5 253.8 522.6L251.3 520.5Q249.2 518.6 247.6 516.2Z" fill="#f37028"/>
<path d="M272.1 514.6Q271.8 512.7 273.7 512.2L275.8 511.6Q277.7 511 279.9 512.1L282.3 513.3Q284.4 514.4 285.5 516L286.7 517.8Q287.8 519.4 285.6 520L283.2 520.6Q281.1 521.1 279.5 521.9L277.7 522.8Q276 523.6 275 522L273.8 520.2Q272.7 518.6 272.4 516.7Z" fill="#f37028"/>
<path d="M283.3 507.8Q281.9 505.5 283.2 504.5L284.7 503.3Q286 502.3 288.1 503.3L290.4 504.5Q292.5 505.5 293.5 507.6L294.7 509.9Q295.7 512 294.7 513.3L293.5 514.8Q292.5 516.1 290.5 515L288.2 513.8Q286.1 512.7 284.8 510.4Z" fill="#f37028" stroke="none"/>
<path d="M290.5 515L288.2 513.8Q286.1 512.7 284.8 510.4M284.8 510.4L283.3 507.8" fill="none"/>
<path d="M288.2 507.8Q286.1 505.5 286.9 504.8L287.7 504.1Q288.4 503.4 289.7 504.1L291.2 504.8Q292.5 505.5 293.2 507L294.1 508.6Q294.8 510.1 294.1 510.9L293.2 511.9Q292.5 512.7 290.5 510.4Z" fill="#ee3030" stroke="none"/>
<path d="M197.1 523.6Q196.3 521.9 198.2 520.6L200.3 519.1Q202.2 517.8 204.9 518.8L207.9 520Q210.6 521.1 213.3 519.5L216.3 517.7Q219 516.1 221.7 517.1L224.7 518.4Q227.4 519.4 227.9 521.6L228.5 524Q229 526.1 226.9 526.7L224.5 527.3Q222.3 527.8 220.7 529.4L218.9 531.2Q217.3 532.9 216.2 535.3L215 538Q213.9 540.4 212.3 539.6L210.5 538.7Q208.9 537.9 207.3 535.7L205.5 533.3Q203.9 531.2 202.2 529.8L200.4 528.3Q198.8 527 198 525.4Z" fill="#5eb95c"/>
<path d="M233.5 531.4Q232.4 529.5 236.2 528.7L240.4 527.8Q244.1 527 246.3 528.3L248.7 529.8Q250.9 531.2 252.5 533.3L254.3 535.7Q255.9 537.9 254.3 538.4L252.5 539Q250.9 539.6 248.7 538.5L246.3 537.3Q244.1 536.2 241.5 535.9L238.4 535.6Q235.8 535.4 234.7 533.5Z" fill="#f37028"/>
<path d="M259.2 539.3Q256.7 538.7 260.2 538.2L264.2 537.6Q267.6 537.1 268.7 538.7L269.9 540.5Q271 542.1 268.9 541.6L266.4 541Q264.3 540.4 261.9 539.9Z" fill="#f37028"/>
<path d="M217.8 532.2Q217.3 530.3 219.4 529.8L221.9 529.2Q224 528.7 226.7 530L229.7 531.5Q232.4 532.9 233.5 535L234.7 537.4Q235.8 539.6 236.3 541.7L236.9 544.1Q237.4 546.3 235.3 545.8L232.9 545.1Q230.7 544.6 228.6 543.5L226.2 542.3Q224 541.3 222.4 539.6L220.6 537.8Q219 536.2 218.4 534.3Z" fill="#a3161b"/>
<path d="M225.9 537.8Q224.8 536.2 226.2 535.9L227.7 535.6Q229 535.4 230.1 537L231.3 538.8Q232.4 540.4 231.1 540.7L229.5 541Q228.2 541.3 227.1 539.6Z" fill="#5f6364"/>
<path d="M208.5 547.6Q206.4 545.4 208.5 544.9L210.9 544.3Q213.1 543.8 214.7 542.2L216.5 540.3Q218.1 538.7 219.2 540.6L220.4 542.7Q221.5 544.6 221.8 547.3L222.1 550.3Q222.3 553 223.4 555.2L224.6 557.6Q225.7 559.7 223.5 558.6L221.1 557.4Q219 556.4 217.1 555L215 553.5Q213.1 552.2 210.9 550Z" fill="#f37028"/>
<path d="M237.4 554.6Q236.6 552.2 238.5 551.1L240.6 549.9Q242.5 548.8 245.4 550.1L248.7 551.7Q251.7 553 252.8 555.2L254 557.6Q255.1 559.7 252.6 560.5L249.9 561.4Q247.5 562.2 244.8 561.4L241.8 560.5Q239.1 559.7 238.3 557.3Z" fill="#f37028"/>
<path d="M243.3 554.9Q242.5 553 244.6 553.3L247 553.6Q249.2 553.8 250 555.5L250.9 557.3Q251.7 558.9 249.6 558.9L247.1 558.9Q245 558.9 244.2 557Z" fill="#ee3030"/>
<path d="M187 565.8Q186.2 563.9 187.8 561.5L189.7 558.8Q191.3 556.4 194.8 555.3L198.7 554.1Q202.2 553 203 554.3L203.9 555.9Q204.7 557.2 202.3 557.5L199.6 557.8Q197.1 558 196.1 561.3L194.9 564.9Q193.8 568.1 192.2 568.6L190.4 569.3Q188.8 569.8 187.9 567.9Z" fill="#f37028"/>
<path d="M207.4 581.4Q205.5 579 207.4 578.5L209.5 577.9Q211.4 577.3 213 579.5L214.8 581.9Q216.4 584.1 214.8 584.9L213 585.8Q211.4 586.6 209.5 584.2Z" fill="#f37028"/>
<path d="M226.8 580.4Q225.7 579 228.4 578.2L231.4 577.3Q234.1 576.5 236.2 576L238.6 575.4Q240.8 574.8 240.3 572.1L239.6 569.1Q239.1 566.4 241.3 567L243.7 567.6Q245.8 568.1 249 569.7L252.7 571.5Q255.9 573.1 259.1 574.2L262.7 575.4Q266 576.5 268.7 578.1L271.7 579.9Q274.4 581.5 276.5 584.2L278.9 587.2Q281.1 589.9 280.5 593.2L279.9 596.8Q279.4 600 278.3 598.9L277.1 597.7Q276 596.6 275 594.5L273.8 592.1Q272.7 589.9 270 588.9L267 587.7Q264.3 586.6 261.1 586.3L257.4 586Q254.2 585.7 251 584.9L247.4 584Q244.1 583.2 243.1 585.4L241.9 587.8Q240.8 589.9 239.2 588.9L237.4 587.7Q235.8 586.6 233.6 585.5L231.2 584.3Q229 583.2 228 581.9Z" fill="#f37028"/>
<path d="M242.4 571.4Q241.6 569 243.5 569.5L245.6 570.1Q247.5 570.6 250.7 572.2L254.4 574.1Q257.6 575.7 260.3 577L263.3 578.5Q266 579.9 265.4 581.5L264.8 583.3Q264.3 584.9 261.6 584.6L258.6 584.3Q255.9 584.1 253.2 583.3L250.2 582.3Q247.5 581.5 246.4 579.9L245.2 578.1Q244.1 576.5 243.3 574.1Z" fill="#a3161b"/>
<path d="M251.9 578.4Q250.9 576.5 253 577L255.4 577.6Q257.6 578.2 258.7 579.5L259.9 581Q260.9 582.4 258.8 582.4L256.4 582.4Q254.2 582.4 253.1 580.5Z" fill="#5f6364"/>
<path d="M275.4 563.5Q274.4 561.4 276 560.6L277.8 559.7Q279.4 558.9 282.1 560.5L285.1 562.3Q287.8 563.9 289.3 565.3L291 566.8Q292.5 568.1 293.4 569.7L294.5 571.6Q295.4 573.2 294.5 574.3L293.4 575.4Q292.5 576.5 289.9 574.9L287 573.1Q284.4 571.5 282.3 570.4L279.9 569.2Q277.7 568.1 276.6 566Z" fill="#f37028" stroke="none"/>
<path d="M276 560.6L277.8 559.7Q279.4 558.9 282.1 560.5M282.1 560.5L285.1 562.3Q287.8 563.9 289.3 565.3M289.3 565.3L291 566.8M289.9 574.9L287 573.1Q284.4 571.5 282.3 570.4M282.3 570.4L279.9 569.2Q277.7 568.1 276.6 566M276.6 566L275.4 563.5Q274.4 561.4 276 560.6" fill="none"/>
<path d="M175.7 595.9Q176.5 595 178.8 595.2L181.4 595.5Q183.7 595.8 185.6 597.7L187.7 599.8Q189.6 601.7 188.8 602.8L187.9 604Q187.1 605 184.9 604L182.5 602.8Q180.4 601.7 179.1 602L177.7 602.3Q176.5 602.5 175.7 601.1L174.7 599.4Q173.9 598 174.7 597Z" fill="#f37028" stroke="none"/>
<path d="M178.8 595.2L181.4 595.5Q183.7 595.8 185.6 597.7M185.6 597.7L187.7 599.8Q189.6 601.7 188.8 602.8M188.8 602.8L187.9 604Q187.1 605 184.9 604M184.9 604L182.5 602.8Q180.4 601.7 179.1 602M179.1 602L177.7 602.3" fill="none"/>
<path d="M215 606.5Q214.8 605 216.7 604.2L218.8 603.3Q220.6 602.5 223.9 604.8L227.5 607.3Q230.7 609.5 228.6 610.5L226.2 611.7Q224.1 612.7 221.4 611.7L218.3 610.5Q215.6 609.5 215.3 608.1Z" fill="#f37028" stroke="none"/>
<path d="M216.7 604.2L218.8 603.3Q220.6 602.5 223.9 604.8M223.9 604.8L227.5 607.3M215.3 608.1L215 606.5Q214.8 605 216.7 604.2" fill="none"/>
<path d="M199.4 506.7Q198.8 505.5 200.4 504.5L202.2 503.3Q203.7 502.3 205.9 503.3L208.4 504.5Q210.6 505.5 210.3 506.6L210 507.9Q209.7 509 206.8 509.1L203.5 509.2Q200.5 509.4 200 508.1Z" fill="#5eb95c" stroke="none"/>
<path d="M210.3 506.6L210 507.9Q209.7 509 206.8 509.1M206.8 509.1L203.5 509.2Q200.5 509.4 200 508.1M200 508.1L199.4 506.7" fill="none"/>
<path d="M217.6 506.5Q217.3 505.5 218.1 504.7L219.1 503.9Q219.9 503.1 221.2 503.9L222.7 504.7Q224 505.5 223.7 506.5L223.4 507.6Q223.2 508.5 221.6 508.5L219.7 508.5Q218.1 508.5 217.9 507.6Z" fill="#5eb95c" stroke="none"/>
<path d="M223.7 506.5L223.4 507.6Q223.2 508.5 221.6 508.5M221.6 508.5L219.7 508.5Q218.1 508.5 217.9 507.6M217.9 507.6L217.6 506.5" fill="none"/>
<path d="M236.6 540.3Q235.8 538.7 237.6 538.2L239.7 537.6Q241.6 537.1 243.5 539.5L245.6 542.2Q247.5 544.6 250.2 545.1L253.2 545.8Q255.9 546.3 259.1 547.1L262.7 548Q266 548.8 267.9 550.7L270 552.8Q271.8 554.7 271.3 556.8L270.7 559.2Q270.2 561.4 268.3 561.7L266.2 562Q264.3 562.2 262.1 559.8L259.7 557.1Q257.6 554.7 255.4 553.3L253 551.8Q250.9 550.5 248.7 549.7L246.3 548.8Q244.1 548 242.3 546.6L240.2 545.1Q238.3 543.8 237.5 542.2Z" fill="#5eb95c"/>
<path d="M224.8 547.9Q224 545.4 226.2 545.2L228.6 544.9Q230.7 544.6 232.1 546.8L233.6 549.2Q234.9 551.3 234.1 553.5L233.2 555.9Q232.4 558 233.5 560.2L234.7 562.6Q235.8 564.8 236.8 566.9L238 569.3Q239.1 571.5 237.5 572L235.7 572.6Q234.1 573.1 231.9 571.5L229.5 569.7Q227.4 568.1 225.5 567L223.4 565.8Q221.5 564.8 223.4 563.1L225.5 561.3Q227.4 559.7 227.1 557.6L226.8 555.2Q226.5 553 225.7 550.6Z" fill="#5eb95c"/>
<path d="M204.9 570.8Q203.9 569 206 568.1L208.4 567.2Q210.6 566.4 212.7 568.3L215.1 570.4Q217.3 572.3 217.8 574.5L218.4 576.9Q219 579 217.1 578.8L215 578.5Q213.1 578.2 211.2 577.1L209.1 575.9Q207.2 574.8 206.1 572.9Z" fill="#5eb95c"/>
<path d="M189 590.4Q187.9 589.1 189.5 588.3L191.3 587.4Q192.9 586.6 194.8 588.7L196.9 591.1Q198.8 593.3 201.2 594.4L204 595.6Q206.4 596.6 207.2 598L208.1 599.5Q208.9 600.8 206.7 601.7L204.3 602.6Q202.2 603.4 200.6 601.5L198.8 599.4Q197.1 597.5 195.3 596.1L193.1 594.6Q191.3 593.3 190.2 591.9Z" fill="#5eb95c"/>
<path d="M222.8 587.6Q221.5 584.9 223.4 585.4L225.5 586Q227.4 586.6 229.5 588.2L231.9 590Q234.1 591.6 236.2 592.2L238.6 592.8Q240.8 593.3 242.4 595.4L244.2 597.9Q245.8 600 246.4 603L247 606.5Q247.5 609.5 245.4 610.5L243 611.7Q240.9 612.7 238.2 611.7L235.1 610.5Q232.4 609.5 231.3 606.5L230.1 603Q229 600 228 597.9L226.8 595.4Q225.7 593.3 224.3 590.6Z" fill="#5eb95c" stroke="none"/>
<path d="M223.4 585.4L225.5 586Q227.4 586.6 229.5 588.2M229.5 588.2L231.9 590Q234.1 591.6 236.2 592.2M236.2 592.2L238.6 592.8Q240.8 593.3 242.4 595.4M242.4 595.4L244.2 597.9Q245.8 600 246.4 603M246.4 603L247 606.5M231.3 606.5L230.1 603Q229 600 228 597.9M228 597.9L226.8 595.4Q225.7 593.3 224.3 590.6M224.3 590.6L222.8 587.6Q221.5 584.9 223.4 585.4" fill="none"/>
<path d="M234 598.7Q233.2 595 235.7 595.2L238.4 595.5Q240.8 595.8 241.6 599.3L242.5 603.2Q243.3 606.7 240.9 606.7L238.2 606.7Q235.8 606.7 234.9 603Z" fill="#1fa77a"/>
<path d="M236.8 598.9Q236.6 597.5 237.7 597.8L238.9 598.1Q240 598.3 240 599.7L240 601.2Q240 602.5 239 602.4L238 602.2Q237.1 602 236.9 600.6Z" fill="#5bc8d8"/>
<path d="M243.5 590.4Q242.5 588.3 244.6 587.5L247 586.5Q249.2 585.7 252.9 586.3L257.2 586.9Q260.9 587.4 263.9 588L267.2 588.6Q270.2 589.1 269.4 590.4L268.5 591.9Q267.6 593.3 266 593.8L264.2 594.4Q262.6 595 263.7 598.2L264.9 601.8Q266 605 265.4 606.5L264.8 608.1Q264.3 609.5 263.2 610.4L262 611.5Q261 612.4 259.4 611.5L257.5 610.4Q255.9 609.5 254.3 607L252.5 604.2Q250.9 601.7 249.3 599.5L247.4 597.1Q245.8 595 244.8 592.8Z" fill="#5eb95c" stroke="none"/>
<path d="M244.6 587.5L247 586.5Q249.2 585.7 252.9 586.3M252.9 586.3L257.2 586.9Q260.9 587.4 263.9 588M263.9 588L267.2 588.6Q270.2 589.1 269.4 590.4M269.4 590.4L268.5 591.9Q267.6 593.3 266 593.8M266 593.8L264.2 594.4Q262.6 595 263.7 598.2M263.7 598.2L264.9 601.8Q266 605 265.4 606.5M265.4 606.5L264.8 608.1M254.3 607L252.5 604.2Q250.9 601.7 249.3 599.5M249.3 599.5L247.4 597.1Q245.8 595 244.8 592.8M244.8 592.8L243.5 590.4Q242.5 588.3 244.6 587.5" fill="none"/>
<path d="M284.7 596.4Q284.4 594.6 285.6 594.5L286.9 594.3Q288.1 594.1 288.3 595.9L288.5 597.9Q288.6 599.7 287.6 599.8L286.4 599.9Q285.3 600 285 598.3Z" fill="#5eb95c"/>
<path d="M290.5 509Q291.5 507.7 294.9 507.9L298.7 508.2Q302.1 508.5 305.8 509.3L310.1 510.2Q313.8 511 316 513.2L318.4 515.6Q320.5 517.8 319.5 519.4L318.3 521.2Q317.2 522.8 314.5 522.5L311.5 522.2Q308.8 521.9 306.1 521.1L303.1 520.2Q300.4 519.4 297.5 518.9L294.3 518.3Q291.5 517.8 290.5 515.8L289.3 513.7Q288.3 511.8 289.3 510.5Z" fill="#f37028" stroke="none"/>
<path d="M294.9 507.9L298.7 508.2Q302.1 508.5 305.8 509.3M305.8 509.3L310.1 510.2Q313.8 511 316 513.2M316 513.2L318.4 515.6Q320.5 517.8 319.5 519.4M319.5 519.4L318.3 521.2Q317.2 522.8 314.5 522.5M314.5 522.5L311.5 522.2Q308.8 521.9 306.1 521.1M306.1 521.1L303.1 520.2Q300.4 519.4 297.5 518.9M297.5 518.9L294.3 518.3" fill="none"/>
<path d="M290.9 510.8Q291.5 510.2 294.3 510.5L297.5 510.8Q300.4 511 303.6 511.8L307.2 512.7Q310.5 513.6 311.3 514.6L312.2 515.8Q313 516.9 310.6 517.2L307.8 517.5Q305.4 517.8 302.7 517.2L299.7 516.6Q297 516.1 295.3 515.8L293.3 515.5Q291.5 515.2 290.9 514.3L290.3 513.2Q289.7 512.2 290.3 511.5Z" fill="#ee3030" stroke="none"/>
<path d="M294.3 510.5L297.5 510.8Q300.4 511 303.6 511.8M303.6 511.8L307.2 512.7Q310.5 513.6 311.3 514.6M311.3 514.6L312.2 515.8Q313 516.9 310.6 517.2M310.6 517.2L307.8 517.5Q305.4 517.8 302.7 517.2M302.7 517.2L299.7 516.6Q297 516.1 295.3 515.8M295.3 515.8L293.3 515.5" fill="none"/>
<path d="M295.8 531.1Q293.7 530.3 296.9 529L300.5 527.5Q303.8 526.1 307 525.6L310.6 525Q313.8 524.5 317 525.3L320.7 526.2Q323.9 527 326 528.9L328.5 531Q330.6 532.9 332.2 534.2L334 535.7Q335.6 537.1 339.9 537.1L344.8 537.1Q349.1 537.1 350.7 535.7L352.5 534.2Q354.1 532.9 356.8 534.2L359.8 535.7Q362.5 537.1 364.1 538.1L365.9 539.3Q367.5 540.4 364.9 541.2L361.8 542.1Q359.1 542.9 356.5 543.5L353.4 544.1Q350.8 544.6 347.5 544.9L343.9 545.2Q340.7 545.4 339.6 546.8L338.4 548.3Q337.3 549.6 338.9 551.3L340.7 553.1Q342.4 554.7 343.4 556.8L344.6 559.2Q345.7 561.4 343 560.9L340 560.3Q337.3 559.7 335.2 560.8L332.8 562Q330.6 563.1 329 562L327.2 560.8Q325.6 559.7 322.9 559.2L319.9 558.6Q317.2 558 315 557L312.6 555.8Q310.5 554.7 311.5 552.5L312.7 550.1Q313.8 548 314.9 545.8L316.1 543.4Q317.2 541.3 315 539.6L312.6 537.8Q310.5 536.2 307.2 535.1L303.6 533.9Q300.4 532.9 298.2 532.1Z" fill="#f37028"/>
<path d="M311 532.3Q309.6 531.2 312.6 530.9L315.9 530.6Q318.9 530.3 322.1 532L325.7 533.8Q328.9 535.4 330.5 537.5L332.4 539.9Q334 542.1 333.2 544.2L332.3 546.7Q331.4 548.8 329.3 547.7L326.9 546.5Q324.7 545.4 322.9 543.3L320.7 540.9Q318.9 538.7 317.2 537.4L315.4 535.9Q313.8 534.5 312.5 533.5Z" fill="#ee3030"/>
<path d="M319.4 553.5Q318.9 552.2 320.5 551.6L322.3 551Q323.9 550.5 324.7 552.6L325.6 555.1Q326.4 557.2 324.5 556.9L322.4 556.6Q320.5 556.4 320 555Z" fill="#ee3030"/>
<path d="M331.1 557.1Q329.8 554.7 331.9 554.4L334.3 554.1Q336.5 553.8 337.8 555.7L339.3 557.8Q340.7 559.7 338.5 560.5L336.1 561.4Q334 562.2 332.6 559.8Z" fill="#f0e826"/>
<path d="M343.4 559.9Q342.4 558 344.5 558.6L346.9 559.2Q349.1 559.7 351.2 558.9L353.6 558Q355.8 557.2 358.5 558.5L361.5 560.1Q364.2 561.4 366.3 563.5L368.8 566Q370.9 568.1 372.5 570.3L374.3 572.7Q375.9 574.8 374.3 575.9L372.5 577.1Q370.9 578.2 368.2 577.9L365.2 577.6Q362.5 577.3 360.4 577.6L357.9 577.9Q355.8 578.2 356.1 580.3L356.4 582.8Q356.6 584.9 354.7 583.8L352.6 582.6Q350.8 581.5 350.2 578.9L349.6 575.8Q349.1 573.1 349.6 571L350.2 568.6Q350.8 566.4 349.1 565.6L347.3 564.7Q345.7 563.9 344.6 562Z" fill="#f37028"/>
<path d="M356.1 561.9Q355.8 559.7 358.5 560.5L361.5 561.4Q364.2 562.2 366.1 565.2L368.2 568.5Q370.1 571.5 368.7 572.8L367.2 574.3Q365.9 575.7 363.7 575.1L361.3 574.5Q359.1 574 358.3 571.6L357.4 568.9Q356.6 566.4 356.4 564.3Z" fill="#ee3030"/>
<path d="M363.4 565.3Q363.6 565.6 363.5 565.9L363.3 566.1Q363.2 566.3 362.9 566.6L362.5 566.9Q362.2 567.1 362 567.1L361.7 567Q361.4 567 361 566.9L360.6 566.8Q360.2 566.7 360 566.4L359.9 566.2Q359.7 565.9 359.8 565.7L359.9 565.4Q359.9 565.2 360.1 565L360.3 564.9Q360.5 564.8 360.8 564.6L361.2 564.4Q361.6 564.3 361.8 564.4L362.1 564.4Q362.4 564.5 362.6 564.5L362.9 564.6Q363.1 564.7 363.3 565Z" fill="#a3161b"/>
<path d="M362.3 522.7Q358.3 521.1 360.7 521.6L363.4 522.2Q365.9 522.8 369.1 522.8L372.7 522.8Q375.9 522.8 379.2 523.9L382.8 525.1Q386 526.1 389.2 527.8L392.9 529.6Q396.1 531.2 394.5 533.1L392.7 535.2Q391 537.1 388.4 537.6L385.3 538.2Q382.6 538.7 380.5 536.9L378.1 534.7Q375.9 532.9 374.3 530.7L372.5 528.3Q370.9 526.1 366.9 524.5Z" fill="#f37028"/>
<path d="M381.8 508.1Q382.6 505.5 385 504.5L387.7 503.3Q390.1 502.3 393.1 503.3L396.4 504.5Q399.4 505.5 398.4 508.3L397.2 511.5Q396.1 514.4 393.4 514.9L390.4 515.5Q387.7 516.1 385.3 515.3L382.5 514.4Q380.1 513.6 380.9 511Z" fill="#f37028" stroke="none"/>
<path d="M398.4 508.3L397.2 511.5Q396.1 514.4 393.4 514.9M393.4 514.9L390.4 515.5Q387.7 516.1 385.3 515.3M385.3 515.3L382.5 514.4Q380.1 513.6 380.9 511M380.9 511L381.8 508.1" fill="none"/>
<path d="M400.8 508.3Q400.3 505.5 401.1 504.7L402.1 503.9Q402.9 503.1 404.4 503.9L406 504.7Q407.5 505.5 408.5 507.6L409.7 509.9Q410.7 512 409.7 513.3L408.5 514.8Q407.5 516.1 405.7 515.5L403.7 514.9Q402 514.4 401.4 511.5Z" fill="#f37028" stroke="none"/>
<path d="M405.7 515.5L403.7 514.9Q402 514.4 401.4 511.5M401.4 511.5L400.8 508.3" fill="none"/>
<path d="M402.5 531.6Q402 527.8 403.7 527.3L405.7 526.7Q407.5 526.1 408.5 529.1L409.7 532.5Q410.7 535.5 409.7 537.9L408.5 540.6Q407.5 542.9 406.3 541.9L404.9 540.6Q403.6 539.6 403.1 535.8Z" fill="#f37028" stroke="none"/>
<path d="M403.7 527.3L405.7 526.7M406.3 541.9L404.9 540.6Q403.6 539.6 403.1 535.8M403.1 535.8L402.5 531.6Q402 527.8 403.7 527.3" fill="none"/>
<path d="M405.4 532.2Q404.5 529.5 405.4 529.5L406.5 529.5Q407.5 529.5 408.4 531.1L409.5 533Q410.4 534.6 409.5 535.6L408.4 536.8Q407.5 537.9 406.5 535.2Z" fill="#ee3030" stroke="none"/>
<path d="M405.4 529.5L406.5 529.5M406.5 535.2L405.4 532.2Q404.5 529.5 405.4 529.5" fill="none"/>
<path d="M359.4 506.6Q359.1 505.5 360 504.7L361 503.9Q361.8 503.1 363.1 503.9L364.6 504.7Q365.9 505.5 365.6 506.7L365.3 508.1Q365 509.4 363.4 509.2L361.6 509.1Q360 509 359.7 507.9Z" fill="#f37028" stroke="none"/>
<path d="M365.6 506.7L365.3 508.1Q365 509.4 363.4 509.2M363.4 509.2L361.6 509.1Q360 509 359.7 507.9M359.7 507.9L359.4 506.6" fill="none"/>
<path d="M290.5 569.3Q291.5 568.1 293.3 568.6L295.3 569.3Q297 569.8 297.8 571.4L298.7 573.2Q299.6 574.8 298.2 575.9L296.7 577.1Q295.4 578.2 294.1 577.9L292.7 577.6Q291.5 577.3 290.5 575.6L289.3 573.6Q288.3 571.8 289.3 570.6Z" fill="#f37028" stroke="none"/>
<path d="M293.3 568.6L295.3 569.3Q297 569.8 297.8 571.4M297.8 571.4L298.7 573.2Q299.6 574.8 298.2 575.9M298.2 575.9L296.7 577.1Q295.4 578.2 294.1 577.9M294.1 577.9L292.7 577.6" fill="none"/>
<path d="M384.3 582.9Q383.5 581.5 385.4 581L387.5 580.4Q389.4 579.9 390.4 581.2L391.6 582.7Q392.7 584.1 390.6 584.6L388.2 585.2Q386 585.7 385.2 584.4Z" fill="#f37028"/>
<path d="M308.2 595.4Q307.1 593.3 308.7 593L310.5 592.7Q312.1 592.5 314.6 594.6L317.3 597Q319.7 599.2 318.6 600.5L317.4 602Q316.3 603.4 314.5 602.3L312.3 601.1Q310.5 600 309.4 597.9Z" fill="#f37028"/>
<path d="M320.8 587.3Q320.5 585.7 321.9 585.5L323.4 585.2Q324.7 584.9 325 586.5L325.3 588.3Q325.6 589.9 324.2 590.2L322.7 590.5Q321.4 590.8 321.1 589.2Z" fill="#f37028"/>
<path d="M347.4 598.3Q347.4 596.6 350.1 595.3L353.1 593.8Q355.8 592.5 357.9 592.2L360.4 591.9Q362.5 591.6 363.8 594.3L365.4 597.3Q366.7 600 365.9 601.6L365 603.4Q364.2 605 362.6 604.5L360.8 603.9Q359.1 603.4 358.1 605.3L356.9 607.5Q355.8 609.5 353.9 610.5L351.9 611.7Q350 612.7 347.6 611.7L344.8 610.5Q342.4 609.5 341.8 608.1L341.2 606.5Q340.7 605 342.8 604L345.2 602.8Q347.4 601.7 347.4 600.1Z" fill="#f37028" stroke="none"/>
<path d="M350.1 595.3L353.1 593.8Q355.8 592.5 357.9 592.2M357.9 592.2L360.4 591.9Q362.5 591.6 363.8 594.3M363.8 594.3L365.4 597.3Q366.7 600 365.9 601.6M365.9 601.6L365 603.4Q364.2 605 362.6 604.5M362.6 604.5L360.8 603.9Q359.1 603.4 358.1 605.3M358.1 605.3L356.9 607.5M341.8 608.1L341.2 606.5Q340.7 605 342.8 604M342.8 604L345.2 602.8Q347.4 601.7 347.4 600.1M347.4 600.1L347.4 598.3Q347.4 596.6 350.1 595.3" fill="none"/>
<path d="M358.6 598Q358.3 596.6 359.7 596.9L361.2 597.2Q362.5 597.5 362.8 598.8L363.1 600.3Q363.3 601.7 362 601.4L360.5 601.1Q359.1 600.8 358.9 599.5Z" fill="#ee3030"/>
<path d="M347.9 605.3Q347.4 603.4 349.3 603.1L351.4 602.8Q353.3 602.5 354.1 604.8L355 607.3Q355.8 609.5 354.9 610.2L354 611.1Q353.1 611.8 351.8 611.1L350.4 610.2Q349.1 609.5 348.5 607.5Z" fill="#ee3030" stroke="none"/>
<path d="M349.3 603.1L351.4 602.8Q353.3 602.5 354.1 604.8M354.1 604.8L355 607.3M348.5 607.5L347.9 605.3Q347.4 603.4 349.3 603.1" fill="none"/>
<path d="M373.1 604.8Q372.6 602.5 374.2 601.7L376 600.8Q377.6 600 380 601.1L382.8 602.3Q385.2 603.4 386 605.3L386.9 607.5Q387.7 609.5 385.8 610.5L383.8 611.7Q381.9 612.7 379.5 611.7L376.7 610.5Q374.3 609.5 373.7 607.3Z" fill="#a3161b" stroke="none"/>
<path d="M374.2 601.7L376 600.8Q377.6 600 380 601.1M380 601.1L382.8 602.3Q385.2 603.4 386 605.3M386 605.3L386.9 607.5M373.7 607.3L373.1 604.8Q372.6 602.5 374.2 601.7" fill="none"/>
<path d="M380.3 605.8Q380.1 605.9 379.9 606.1L379.7 606.3Q379.5 606.5 379.3 606.7L379.1 606.9Q378.9 607.2 378.6 607L378.1 606.8Q377.8 606.7 377.6 606.5L377.5 606.4Q377.4 606.3 377.2 606L377 605.7Q376.8 605.5 376.8 605.3L376.8 605.1Q376.8 604.9 376.9 604.6L377 604.3Q377.2 604.1 377.5 604.1L377.9 604.1Q378.2 604.1 378.5 604L378.8 603.9Q379.2 603.8 379.4 603.9L379.6 604Q379.9 604.2 380.1 604.6L380.4 605.1Q380.7 605.5 380.5 605.6Z" fill="#5f6364"/>
<path d="M333.9 573.6Q333.1 570.6 335 569.3L337.1 567.8Q339 566.4 342.2 567.2L345.9 568.1Q349.1 569 350.4 571.4L351.9 574.1Q353.3 576.5 351.9 578.7L350.4 581.1Q349.1 583.2 346.9 584.3L344.5 585.5Q342.4 586.6 340.2 584.4L337.8 582Q335.6 579.9 334.8 576.9Z" fill="#f37028"/>
<path d="M337.6 571.1Q337.3 569.8 340 569.5L343 569.2Q345.7 569 346.8 570.6L348 572.4Q349.1 574 346.9 574.8L344.5 575.7Q342.4 576.5 341 575.7L339.5 574.8Q338.2 574 337.9 572.6Z" fill="#5eb95c"/>
<path d="M337.3 578.7Q336.5 576.5 338.4 576.8L340.5 577.1Q342.4 577.3 344.5 578.4L346.9 579.6Q349.1 580.7 348 582L346.8 583.6Q345.7 584.9 343.6 584.4L341.2 583.8Q339 583.2 338.2 581.1Z" fill="#a3161b"/>
<path d="M318.3 507.3Q317.2 505.5 317.9 504.8L318.8 504.1Q319.5 503.4 320.6 504.1L321.9 504.8Q323.1 505.5 325.5 508.1L328.2 511Q330.6 513.6 328.7 514.4L326.6 515.3Q324.7 516.1 323.4 514.5L321.9 512.6Q320.5 511 319.5 509.3Z" fill="#5eb95c" stroke="none"/>
<path d="M325.5 508.1L328.2 511Q330.6 513.6 328.7 514.4M328.7 514.4L326.6 515.3Q324.7 516.1 323.4 514.5M323.4 514.5L321.9 512.6Q320.5 511 319.5 509.3M319.5 509.3L318.3 507.3" fill="none"/>
<path d="M293 521.9Q292.8 521.1 294.7 521.2L296.8 521.3Q298.7 521.4 298.6 522.1L298.5 522.9Q298.4 523.6 296.8 523.6L295 523.6Q293.3 523.6 293.2 522.8Z" fill="#5eb95c"/>
<path d="M330.2 529.7Q328.1 527.8 329.7 527.6L331.5 527.3Q333.1 527 335.3 528.6L337.7 530.4Q339.8 532 338.2 532.6L336.4 533.2Q334.8 533.7 332.7 531.8Z" fill="#5eb95c"/>
<path d="M298.9 545.3Q297.9 542.9 299.8 542.4L301.9 541.8Q303.8 541.3 305.6 543.4L307.7 545.8Q309.6 548 308.6 550.1L307.3 552.5Q306.3 554.7 304.7 553.3L302.8 551.8Q301.2 550.5 300.2 548.1Z" fill="#5eb95c"/>
<path d="M340.6 549.1Q339.8 548 341.2 547.3L342.7 546.5Q344 545.8 345.1 547.3L346.3 549Q347.4 550.5 345.8 550.9L344 551.3Q342.4 551.7 341.6 550.5Z" fill="#5eb95c"/>
<path d="M358.8 555.6Q358.3 554.7 359.4 553.3L360.6 551.8Q361.7 550.5 362.5 552.6L363.4 555.1Q364.2 557.2 362.8 557.4L361.3 557.5Q360 557.7 359.5 556.7Z" fill="#5eb95c"/>
<path d="M379.8 549Q377.6 547.1 379.2 546.6L381 546Q382.6 545.4 384 546.8L385.5 548.3Q386.8 549.6 386 550.7L385.1 551.9Q384.3 553 382.2 551.1Z" fill="#5eb95c"/>
<path d="M385.7 522.5Q385.2 521.1 387 520.3L389.2 519.4Q391 518.6 393.7 519.9L396.8 521.4Q399.4 522.8 402 521.2L404.9 519.4Q407.5 517.8 408.3 519.2L409.3 520.9Q410.1 522.3 409.3 523.3L408.3 524.4Q407.5 525.3 405.5 525.8L403.2 526.4Q401.1 527 398.4 527.3L395.4 527.6Q392.7 527.8 390.8 527L388.7 526.1Q386.8 525.3 386.3 524Z" fill="#5eb95c" stroke="none"/>
<path d="M387 520.3L389.2 519.4Q391 518.6 393.7 519.9M393.7 519.9L396.8 521.4Q399.4 522.8 402 521.2M402 521.2L404.9 519.4M405.5 525.8L403.2 526.4Q401.1 527 398.4 527.3M398.4 527.3L395.4 527.6Q392.7 527.8 390.8 527M390.8 527L388.7 526.1Q386.8 525.3 386.3 524M386.3 524L385.7 522.5Q385.2 521.1 387 520.3" fill="none"/>
<path d="M315.5 568.6Q314.7 566.4 316.8 566.2L319.2 565.9Q321.4 565.6 323.8 567.2L326.5 569Q328.9 570.6 330 573L331.2 575.8Q332.3 578.2 329.9 577.9L327.2 577.6Q324.7 577.3 322.3 576L319.6 574.5Q317.2 573.1 316.4 571Z" fill="#5eb95c"/>
<path d="M302.6 583.2Q301.2 581.5 302.6 579.7L304.1 577.5Q305.4 575.7 306.8 577.5L308.3 579.7Q309.6 581.5 311.5 584L313.6 586.7Q315.5 589.1 316.6 590.4L317.8 591.9Q318.9 593.3 316.7 593L314.3 592.7Q312.1 592.5 310 590.6L307.6 588.5Q305.4 586.6 304.1 585Z" fill="#5eb95c"/>
<path d="M334.2 586.5Q333.1 584.9 334.5 583.8L336 582.6Q337.3 581.5 339.5 583.2L341.9 585Q344 586.6 346.5 587.1L349.2 587.7Q351.6 588.3 351.3 590.1L351 592.3Q350.8 594.1 348.1 594.1L345 594.1Q342.4 594.1 340.5 592.8L338.4 591.3Q336.5 589.9 335.4 588.3Z" fill="#5eb95c"/>
<path d="M366.9 584.2Q365.9 581.5 367.5 580.5L369.3 579.3Q370.9 578.2 372.5 579.3L374.3 580.5Q375.9 581.5 375.4 583.7L374.8 586.1Q374.3 588.3 375.3 590.4L376.5 592.8Q377.6 595 379.2 596.6L381 598.4Q382.6 600 381.6 601.6L380.4 603.4Q379.3 605 377.1 602.9L374.7 600.5Q372.6 598.3 371.5 595.6L370.3 592.6Q369.2 589.9 368.1 587.2Z" fill="#5eb95c"/>
<path d="M378.7 572.2Q376.8 570.6 378.7 569.8L380.8 568.9Q382.6 568.1 385.3 569.7L388.4 571.5Q391 573.1 393.7 574.8L396.8 576.6Q399.4 578.2 402 578.5L404.9 578.8Q407.5 579 408.1 580L408.7 581.1Q409.3 582.1 408.7 582.7L408.1 583.4Q407.5 584.1 404.9 584.1L402 584.1Q399.4 584.1 396.8 582.2L393.7 580.1Q391 578.2 388.4 577.4L385.3 576.5Q382.6 575.7 380.8 574.1Z" fill="#5eb95c" stroke="none"/>
<path d="M378.7 569.8L380.8 568.9Q382.6 568.1 385.3 569.7M385.3 569.7L388.4 571.5Q391 573.1 393.7 574.8M393.7 574.8L396.8 576.6Q399.4 578.2 402 578.5M402 578.5L404.9 578.8M404.9 584.1L402 584.1Q399.4 584.1 396.8 582.2M396.8 582.2L393.7 580.1Q391 578.2 388.4 577.4M388.4 577.4L385.3 576.5Q382.6 575.7 380.8 574.1M380.8 574.1L378.7 572.2Q376.8 570.6 378.7 569.8" fill="none"/>
<path d="M322.8 599.7Q322.2 598.3 324.4 597.5L326.8 596.6Q328.9 595.8 331.1 597.2L333.5 598.7Q335.6 600 337.3 602.2L339.1 604.6Q340.7 606.7 339.6 607.6L338.4 608.6Q337.3 609.5 335.2 607.5L332.8 605.3Q330.6 603.4 328.5 603.1L326 602.8Q323.9 602.5 323.4 601.2Z" fill="#5eb95c"/>
<path d="M393.3 605.3Q392.7 603.4 394.9 602.6L397.3 601.7Q399.4 600.8 402 602.2L404.9 603.7Q407.5 605 407.9 605.8L408.4 606.7Q408.9 607.4 408.4 608.1L407.9 608.8Q407.5 609.5 405.6 610.5L403.5 611.7Q401.7 612.7 399.3 611.7L396.7 610.5Q394.4 609.5 393.9 607.5Z" fill="#5eb95c" stroke="none"/>
<path d="M394.9 602.6L397.3 601.7Q399.4 600.8 402 602.2M402 602.2L404.9 603.7M393.9 607.5L393.3 605.3Q392.7 603.4 394.9 602.6" fill="none"/>
<path d="M359.4 513.2Q359.1 512.2 361.2 512.1L363.5 512Q365.5 511.9 365.6 512.8L365.8 513.9Q365.9 514.9 364 515L361.9 515.1Q360 515.2 359.7 514.3Z" fill="#5eb95c"/>
<path d="M405.5 507Q406.5 505.5 407.4 504.8L408.4 504.1Q409.3 503.4 410.5 504.1L411.7 504.8Q412.9 505.5 413.1 509.1L413.4 513.3Q413.7 516.9 411.4 516.6L408.8 516.3Q406.5 516.1 405.5 514.2L404.3 512Q403.3 510.1 404.3 508.6Z" fill="#f37028" stroke="none"/>
<path d="M413.1 509.1L413.4 513.3Q413.7 516.9 411.4 516.6M411.4 516.6L408.8 516.3" fill="none"/>
<path d="M431.8 510.5Q430.5 505.5 432.2 504.5L434.1 503.3Q435.8 502.3 438.2 503.3L440.8 504.5Q443.1 505.5 444.2 509.4L445.4 513.8Q446.4 517.8 447.3 521L448.2 524.6Q449 527.8 448.2 529.4L447.3 531.2Q446.4 532.9 444 531.8L441.3 530.6Q438.9 529.5 437.6 526.8L436 523.8Q434.7 521.1 433.4 516.1Z" fill="#f37028" stroke="none"/>
<path d="M444.2 509.4L445.4 513.8Q446.4 517.8 447.3 521M447.3 521L448.2 524.6Q449 527.8 448.2 529.4M448.2 529.4L447.3 531.2Q446.4 532.9 444 531.8M444 531.8L441.3 530.6Q438.9 529.5 437.6 526.8M437.6 526.8L436 523.8Q434.7 521.1 433.4 516.1M433.4 516.1L431.8 510.5" fill="none"/>
<path d="M463.2 513.5Q462.4 511.9 464 511.9L465.8 511.9Q467.4 511.9 468.4 513.2L469.5 514.7Q470.5 516.1 468.7 516.3L466.7 516.6Q464.9 516.9 464.1 515.3Z" fill="#f37028"/>
<path d="M481.1 529.7Q480 527.8 481.9 528.1L484 528.4Q485.9 528.7 486.7 529.7L487.6 530.9Q488.4 532 486.8 532.6L485 533.2Q483.4 533.7 482.3 531.8Z" fill="#f37028"/>
<path d="M413.9 540Q412.9 537.9 415.3 537.6L418 537.3Q420.4 537.1 423.1 537.6L426.1 538.2Q428.8 538.7 429.9 541.2L431.1 543.9Q432.2 546.3 434.9 549L437.9 552Q440.6 554.7 443.8 555.8L447.4 557Q450.6 558 453.3 557.2L456.4 556.3Q459 555.5 459.6 553.1L460.2 550.4Q460.7 548 461.8 546.6L463 545.1Q464.1 543.8 466.2 545.7L468.6 547.8Q470.8 549.6 471.1 553.4L471.4 557.6Q471.6 561.4 471.9 564.1L472.2 567.1Q472.5 569.8 470.3 569.3L467.9 568.6Q465.8 568.1 463.1 567.6L460 567Q457.4 566.4 454.1 567.8L450.5 569.3Q447.3 570.6 446.2 568.7L445 566.6Q443.9 564.8 441.8 563.1L439.4 561.3Q437.2 559.7 434.5 558.6L431.5 557.4Q428.8 556.4 426.7 554.7L424.3 552.9Q422.1 551.3 420.2 549.2L418.1 546.8Q416.2 544.6 415.2 542.5Z" fill="#5eb95c"/>
<path d="M415.9 540.3Q414.6 538.7 416.4 538.7L418.5 538.7Q420.4 538.7 421.5 540.3L422.7 542.2Q423.8 543.8 422.2 543.8L420.4 543.8Q418.8 543.8 417.4 542.2Z" fill="#1fa77a"/>
<path d="M405.5 528.8Q406.5 526.1 409.9 525.6L413.7 525Q417.1 524.5 420.8 525.3L425.1 526.2Q428.8 527 430.7 528.9L432.8 531Q434.7 532.9 436 536.6L437.6 540.8Q438.9 544.6 440 547L441.2 549.7Q442.3 552.2 440.4 551.6L438.3 551Q436.4 550.5 435 548.1L433.5 545.3Q432.2 542.9 430.6 541.3L428.8 539.5Q427.1 537.9 423.9 537.6L420.3 537.3Q417.1 537.1 414.9 538.7L412.5 540.5Q410.4 542.1 409.1 542.9L407.7 543.8Q406.5 544.6 405.5 541.3L404.3 537.7Q403.3 534.4 404.3 531.8Z" fill="#f37028" stroke="none"/>
<path d="M409.9 525.6L413.7 525Q417.1 524.5 420.8 525.3M420.8 525.3L425.1 526.2Q428.8 527 430.7 528.9M430.7 528.9L432.8 531Q434.7 532.9 436 536.6M436 536.6L437.6 540.8Q438.9 544.6 440 547M440 547L441.2 549.7Q442.3 552.2 440.4 551.6M440.4 551.6L438.3 551Q436.4 550.5 435 548.1M435 548.1L433.5 545.3Q432.2 542.9 430.6 541.3M430.6 541.3L428.8 539.5Q427.1 537.9 423.9 537.6M423.9 537.6L420.3 537.3Q417.1 537.1 414.9 538.7M414.9 538.7L412.5 540.5Q410.4 542.1 409.1 542.9M409.1 542.9L407.7 543.8" fill="none"/>
<path d="M405.5 530.1Q406.5 528.7 409.3 527.9L412.5 527Q415.4 526.1 419.2 527L423.4 527.9Q427.1 528.7 428.8 530.3L430.6 532.1Q432.2 533.7 430 534.2L427.6 534.8Q425.5 535.4 422.8 535.1L419.8 534.8Q417.1 534.5 414.9 535.9L412.5 537.4Q410.4 538.7 409.1 539L407.7 539.3Q406.5 539.6 405.5 537.5L404.3 535.2Q403.3 533.2 404.3 531.7Z" fill="#a3161b" stroke="none"/>
<path d="M409.3 527.9L412.5 527Q415.4 526.1 419.2 527M419.2 527L423.4 527.9Q427.1 528.7 428.8 530.3M428.8 530.3L430.6 532.1Q432.2 533.7 430 534.2M430 534.2L427.6 534.8Q425.5 535.4 422.8 535.1M422.8 535.1L419.8 534.8Q417.1 534.5 414.9 535.9M414.9 535.9L412.5 537.4Q410.4 538.7 409.1 539M409.1 539L407.7 539.3" fill="none"/>
<path d="M415.7 531.1Q415.4 530.3 417.5 530.3L420 530.3Q422.1 530.3 421.8 531.1L421.5 532.1Q421.3 532.9 419.7 532.9L417.8 532.9Q416.2 532.9 416 532.1Z" fill="#5f6364"/>
<path d="M472.9 542.2Q470.8 538.7 472.4 538.2L474.2 537.6Q475.8 537.1 478.5 539.5L481.5 542.2Q484.2 544.6 487.4 545.7L491.1 546.9Q494.3 548 496.4 550.1L498.9 552.5Q501 554.7 502.6 556.8L504.4 559.2Q506 561.4 506.3 563L506.6 564.8Q506.9 566.4 504.7 566.4L502.3 566.4Q500.2 566.4 501 564.3L501.9 561.9Q502.7 559.7 500 558.6L497 557.4Q494.3 556.4 492.1 556.9L489.7 557.5Q487.6 558 487 560.7L486.4 563.7Q485.9 566.4 485.9 568.6L485.9 571Q485.9 573.1 484.8 573.1L483.6 573.1Q482.5 573.1 482 569.4L481.4 565.2Q480.9 561.4 479.8 557.6L478.6 553.4Q477.5 549.6 475.4 546.2Z" fill="#f37028"/>
<path d="M412.5 556.3Q411.2 554.7 413.3 554.1L415.8 553.5Q417.9 553 419.8 555.7L421.9 558.7Q423.8 561.4 427.5 562.2L431.8 563.1Q435.5 563.9 437.1 566.9L439 570.2Q440.6 573.1 439.5 574.5L438.3 576Q437.2 577.3 434 576.5L430.4 575.6Q427.1 574.8 425 574.3L422.6 573.7Q420.4 573.1 420.2 571L419.9 568.6Q419.6 566.4 418.2 564.3L416.7 561.9Q415.4 559.7 414.1 558.1Z" fill="#f37028"/>
<path d="M414.2 578.7Q412.9 576.5 414.8 576L416.9 575.4Q418.8 574.8 419.8 577L421 579.4Q422.1 581.5 424.3 583.2L426.7 585Q428.8 586.6 429.9 587.9L431.1 589.4Q432.2 590.8 429.5 590L426.5 589.1Q423.8 588.3 421.6 586.6L419.2 584.8Q417.1 583.2 415.7 581.1Z" fill="#f37028"/>
<path d="M453.9 574.8Q452.3 573.1 455 572.9L458 572.6Q460.7 572.3 463.9 573.7L467.6 575.2Q470.8 576.5 473.5 579.2L476.5 582.2Q479.2 584.9 480.3 588.1L481.5 591.7Q482.5 595 481.5 597.7L480.3 600.7Q479.2 603.4 477.6 604.4L475.8 605.6Q474.1 606.7 473.1 605.1L471.9 603.3Q470.8 601.7 468.1 600.3L465.1 598.8Q462.4 597.5 460.2 596.1L457.8 594.6Q455.7 593.3 456.8 591.7L458 589.9Q459 588.3 460.1 586.6L461.3 584.8Q462.4 583.2 460.8 581.6L459 579.8Q457.4 578.2 455.7 576.6Z" fill="#f37028"/>
<path d="M462.3 580Q460.7 577.3 462.9 577.6L465.3 577.9Q467.4 578.2 468.8 580.3L470.3 582.8Q471.6 584.9 469.7 585.2L467.6 585.5Q465.8 585.7 464.1 583.1Z" fill="#ee3030"/>
<path d="M463.4 597.6Q463.2 596.6 464.8 596.8L466.7 596.9Q468.3 597 468.2 598L468 599Q467.9 600 466.6 599.9L465.1 599.8Q463.7 599.7 463.6 598.7Z" fill="#ee3030"/>
<path d="M430.4 589.9Q428.8 588.3 431 586.9L433.4 585.4Q435.5 584.1 438 585.9L440.7 588.1Q443.1 589.9 442.8 591.5L442.5 593.4Q442.3 595 439.6 594.4L436.5 593.8Q433.9 593.3 432.2 591.7Z" fill="#f37028"/>
<path d="M433.8 589.6Q433 588.3 434.4 587.7L435.9 587.1Q437.2 586.6 438.3 588.5L439.5 590.6Q440.6 592.5 439 592.5L437.1 592.5Q435.5 592.5 434.7 591.1Z" fill="#a3161b"/>
<path d="M508.8 584.3Q507.7 582.4 509.9 581.8L512.3 581.2Q514.4 580.7 517 581.5L519.9 582.4Q522.5 583.2 523.5 587.7L524.7 592.6Q525.7 597.1 524.7 601L523.5 605.5Q522.5 609.5 521.3 608.1L519.9 606.5Q518.6 605 517.8 601.8L516.9 598.2Q516.1 595 514.5 592.8L512.7 590.4Q511.1 588.3 510 586.4Z" fill="#f37028" stroke="none"/>
<path d="M509.9 581.8L512.3 581.2Q514.4 580.7 517 581.5M517 581.5L519.9 582.4M521.3 608.1L519.9 606.5Q518.6 605 517.8 601.8M517.8 601.8L516.9 598.2Q516.1 595 514.5 592.8M514.5 592.8L512.7 590.4Q511.1 588.3 510 586.4M510 586.4L508.8 584.3Q507.7 582.4 509.9 581.8" fill="none"/>
<path d="M486.2 594.9Q485.9 593.3 488 593.3L490.5 593.3Q492.6 593.3 495.3 594.4L498.3 595.6Q501 596.6 503.2 597.2L505.6 597.8Q507.7 598.3 506.1 599.7L504.3 601.2Q502.7 602.5 500.5 603.3L498.1 604.2Q496 605 493.8 604.8L491.4 604.5Q489.3 604.2 488.5 602.3L487.5 600.2Q486.7 598.3 486.5 596.7Z" fill="#f37028"/>
<path d="M492.6 607.3Q492.6 606.2 495.3 606.1L498.3 606Q501 605.9 501 607L501 608.3Q501 609.5 499.9 610.4L498.8 611.5Q497.7 612.4 496.1 611.5L494.2 610.4Q492.6 609.5 492.6 608.4Z" fill="#f37028" stroke="none"/>
<path d="M495.3 606.1L498.3 606Q501 605.9 501 607M501 607L501 608.3M492.6 608.4L492.6 607.3Q492.6 606.2 495.3 606.1" fill="none"/>
<path d="M406 590Q406.5 589.4 408.7 589.3L411.2 589.2Q413.4 589.1 413.5 590.6L413.6 592.3Q413.7 593.8 411.4 593.9L408.8 594Q406.5 594.1 406 593.2L405.4 592.2Q404.9 591.3 405.4 590.7Z" fill="#f37028" stroke="none"/>
<path d="M408.7 589.3L411.2 589.2Q413.4 589.1 413.5 590.6M413.5 590.6L413.6 592.3Q413.7 593.8 411.4 593.9M411.4 593.9L408.8 594" fill="none"/>
<path d="M416.2 513.7Q415.4 511 416.7 510L418.2 508.8Q419.6 507.7 421.2 510.1L423 512.8Q424.6 515.2 424.4 517.1L424.1 519.2Q423.8 521.1 421.9 520.6L419.8 520Q417.9 519.4 417.1 516.7Z" fill="#5eb95c"/>
<path d="M405.8 521Q406.5 520.3 408.8 520.8L411.4 521.4Q413.7 521.9 414.3 523L414.9 524.2Q415.4 525.3 412.5 525.6L409.3 525.9Q406.5 526.1 405.8 525L405.1 523.7Q404.4 522.6 405.1 521.8Z" fill="#5eb95c" stroke="none"/>
<path d="M408.8 520.8L411.4 521.4Q413.7 521.9 414.3 523M414.3 523L414.9 524.2Q415.4 525.3 412.5 525.6M412.5 525.6L409.3 525.9" fill="none"/>
<path d="M453.7 519.6Q453.2 517.8 454.5 516.4L456 514.9Q457.4 513.6 459.5 516.5L461.9 519.8Q464.1 522.8 466.2 525.2L468.6 527.9Q470.8 530.3 469.4 531.7L467.9 533.2Q466.6 534.5 464.2 532.9L461.5 531.1Q459 529.5 457.7 527.6L456.2 525.5Q454.8 523.6 454.3 521.7Z" fill="#5eb95c"/>
<path d="M442 541.7Q441.4 539.6 443 538.2L444.8 536.7Q446.4 535.4 448.3 537L450.4 538.8Q452.3 540.4 452.6 542.6L452.9 545Q453.2 547.1 451.6 548.5L449.7 550Q448.1 551.3 446.5 549.7L444.7 547.9Q443.1 546.3 442.6 544.1Z" fill="#5eb95c"/>
<path d="M492.3 566.6Q491.8 564.8 493.1 565L494.6 565.3Q496 565.6 497.6 567.5L499.4 569.6Q501 571.5 503.7 571.2L506.7 570.9Q509.4 570.6 510.7 569.6L512.3 568.3Q513.6 567.3 513.9 569.2L514.2 571.3Q514.4 573.1 512.3 574.2L509.9 575.4Q507.7 576.5 504.8 576.2L501.4 575.9Q498.5 575.7 496.9 574.1L495.1 572.2Q493.5 570.6 492.9 568.7Z" fill="#5eb95c"/>
<path d="M448.4 576.4Q447.3 574.8 448.9 574.8L450.7 574.8Q452.3 574.8 454.5 577L456.9 579.4Q459 581.5 460.1 583.2L461.3 585Q462.4 586.6 460.2 586L457.8 585.4Q455.7 584.9 454.1 583.3L452.3 581.5Q450.6 579.9 449.6 578.3Z" fill="#5eb95c"/>
<path d="M482.2 581.7Q480.9 579.9 482.2 579.9L483.7 579.9Q485.1 579.9 487.5 581.5L490.2 583.3Q492.6 584.9 494.2 586.8L496 588.9Q497.6 590.8 495.5 590.5L493.1 590.2Q490.9 589.9 489.1 588.6L486.9 587.1Q485.1 585.7 483.7 583.9Z" fill="#5eb95c"/>
<path d="M424.9 580.9Q423.8 579 425.4 578.8L427.2 578.5Q428.8 578.2 429.9 580.1L431.1 582.2Q432.2 584.1 430.6 584.3L428.8 584.6Q427.1 584.9 426.1 583Z" fill="#5eb95c"/>
<path d="M440 588.2Q438.9 585.7 441 585.5L443.5 585.2Q445.6 584.9 447.8 586.5L450.2 588.3Q452.3 589.9 453.9 592.1L455.7 594.5Q457.4 596.6 459.5 598.8L461.9 601.2Q464.1 603.4 465.2 605.3L466.4 607.5Q467.4 609.5 466.1 610.5L464.7 611.7Q463.4 612.7 461.4 611.7L459.3 610.5Q457.4 609.5 455.2 607.3L452.8 604.8Q450.6 602.5 448.5 600.9L446.1 599.1Q443.9 597.5 444.7 599.4L445.6 601.5Q446.4 603.4 447.3 605.3L448.2 607.5Q449 609.5 447.4 610.5L445.6 611.7Q444.1 612.7 441.9 611.7L439.4 610.5Q437.2 609.5 435.6 607L433.8 604.2Q432.2 601.7 432.2 600.1L432.2 598.3Q432.2 596.6 434.3 596.6L436.7 596.6Q438.9 596.6 440 595.6L441.2 594.4Q442.3 593.3 441.2 590.9Z" fill="#5eb95c" stroke="none"/>
<path d="M441 585.5L443.5 585.2Q445.6 584.9 447.8 586.5M447.8 586.5L450.2 588.3Q452.3 589.9 453.9 592.1M453.9 592.1L455.7 594.5Q457.4 596.6 459.5 598.8M459.5 598.8L461.9 601.2Q464.1 603.4 465.2 605.3M465.2 605.3L466.4 607.5M455.2 607.3L452.8 604.8Q450.6 602.5 448.5 600.9M448.5 600.9L446.1 599.1Q443.9 597.5 444.7 599.4M444.7 599.4L445.6 601.5Q446.4 603.4 447.3 605.3M447.3 605.3L448.2 607.5M435.6 607L433.8 604.2Q432.2 601.7 432.2 600.1M432.2 600.1L432.2 598.3Q432.2 596.6 434.3 596.6M434.3 596.6L436.7 596.6Q438.9 596.6 440 595.6M440 595.6L441.2 594.4Q442.3 593.3 441.2 590.9M441.2 590.9L440 588.2Q438.9 585.7 441 585.5" fill="none"/>
<path d="M405.8 578.9Q406.5 578.2 408 579L409.7 579.9Q411.2 580.7 411.5 582L411.8 583.6Q412 584.9 410.3 584.6L408.3 584.3Q406.5 584.1 405.8 582.9L405.1 581.6Q404.4 580.5 405.1 579.8Z" fill="#5eb95c" stroke="none"/>
<path d="M408 579L409.7 579.9Q411.2 580.7 411.5 582M411.5 582L411.8 583.6Q412 584.9 410.3 584.6M410.3 584.6L408.3 584.3" fill="none"/>
<path d="M481.1 605.1Q480.9 603 482.9 602.9L485.2 602.7Q487.2 602.5 487.3 604.8L487.5 607.3Q487.6 609.5 486.8 610.1L486 610.9Q485.3 611.5 484.1 610.9L482.8 610.1Q481.7 609.5 481.4 607.4Z" fill="#5eb95c" stroke="none"/>
<path d="M482.9 602.9L485.2 602.7Q487.2 602.5 487.3 604.8M487.3 604.8L487.5 607.3M481.4 607.4L481.1 605.1Q480.9 603 482.9 602.9" fill="none"/>
<path d="M65.3 609.5Q63.7 608.5 65.3 607.5L67 606.3Q68.6 605.3 70.8 606.3L73.2 607.5Q75.4 608.5 76 609.7L76.6 611.1Q77.1 612.4 74.4 612.1L71.4 611.8Q68.7 611.5 67.1 610.6Z" fill="#f37028" stroke="none"/>
<path d="M76 609.7L76.6 611.1Q77.1 612.4 74.4 612.1M74.4 612.1L71.4 611.8Q68.7 611.5 67.1 610.6M67.1 610.6L65.3 609.5" fill="none"/>
<path d="M93.6 613.1Q93.1 611.5 94.9 611L97.1 610.4Q98.9 609.8 100.5 611.7L102.4 613.8Q104 615.7 102.6 616.8L101.1 618Q99.8 619.1 98.2 618.3L96.3 617.4Q94.7 616.6 94.2 614.9Z" fill="#f37028"/>
<path d="M106.7 609.7Q104 608.5 106.6 607.5L109.6 606.3Q112.2 605.3 115.5 606.3L119.2 607.5Q122.4 608.5 124 611.3L125.9 614.5Q127.5 617.4 128.3 619.8L129.2 622.5Q130 624.9 128.9 626.3L127.7 627.8Q126.6 629.1 125.6 627L124.3 624.6Q123.3 622.4 122.2 620.5L121 618.4Q119.9 616.6 117.5 615.2L114.8 613.7Q112.4 612.4 109.7 611.1Z" fill="#f37028" stroke="none"/>
<path d="M124 611.3L125.9 614.5Q127.5 617.4 128.3 619.8M128.3 619.8L129.2 622.5Q130 624.9 128.9 626.3M128.9 626.3L127.7 627.8Q126.6 629.1 125.6 627M125.6 627L124.3 624.6Q123.3 622.4 122.2 620.5M122.2 620.5L121 618.4Q119.9 616.6 117.5 615.2M117.5 615.2L114.8 613.7Q112.4 612.4 109.7 611.1M109.7 611.1L106.7 609.7" fill="none"/>
<path d="M110.6 631.9Q109.8 630.8 111.7 630L113.8 629.1Q115.7 628.3 118.4 629.4L121.4 630.6Q124.1 631.7 122 633.3L119.5 635.1Q117.4 636.7 115.8 635.9L114 635Q112.4 634.2 111.6 633.1Z" fill="#f37028"/>
<path d="M78.2 622.9Q77.9 620.8 79.6 622.4L81.4 624.2Q83 625.8 85.7 627.1L88.7 628.6Q91.4 630 93 630.8L94.8 631.7Q96.4 632.5 96.7 634.7L97 637.1Q97.3 639.2 95.6 639.5L93.8 639.8Q92.2 640.1 89.5 638.2L86.5 636.1Q83.8 634.2 82.2 632L80.4 629.6Q78.8 627.5 78.5 625.3Z" fill="#f37028"/>
<path d="M64.8 640Q63.7 638.4 65.8 637.6L68.2 636.7Q70.4 635.9 72.8 637.5L75.5 639.3Q77.9 640.9 76.6 642.2L75.1 643.7Q73.8 645.1 71.6 644.6L69.2 644Q67 643.4 66 641.8Z" fill="#f37028"/>
<path d="M70.9 640Q71 640.3 71 640.5L70.9 640.8Q70.9 641 70.7 641.1L70.4 641.2Q70.2 641.2 69.8 641.3L69.4 641.4Q69 641.5 68.8 641.3L68.5 641.1Q68.3 641 68.1 640.8L68 640.5Q67.8 640.3 68 640.1L68.3 639.9Q68.5 639.7 68.7 639.6L68.9 639.5Q69.1 639.3 69.4 639.3L69.7 639.2Q69.9 639.2 70.2 639.2L70.6 639.3Q70.9 639.3 70.9 639.6Z" fill="#ee3030"/>
<path d="M80.4 644.7Q78.8 642.6 80.9 642L83.4 641.4Q85.5 640.9 87.7 643.3L90.1 646Q92.2 648.4 91.4 650.1L90.5 651.9Q89.7 653.5 87.8 652.1L85.7 650.6Q83.8 649.3 82.2 647.1Z" fill="#f37028"/>
<path d="M113.2 646.7Q112.4 645.1 114.5 644.3L116.9 643.4Q119.1 642.6 122.3 643.6L125.9 644.9Q129.1 645.9 130.5 647L132 648.2Q133.3 649.3 132 651.2L130.5 653.3Q129.1 655.2 126.5 655.2L123.4 655.2Q120.8 655.2 118.9 653.6L116.8 651.7Q114.9 650.1 114.1 648.5Z" fill="#f37028"/>
<path d="M74 656.5Q72.9 655.2 74.8 654.4L76.9 653.5Q78.8 652.6 80.9 654.3L83.4 656.1Q85.5 657.7 86.3 659.8L87.2 662.2Q88 664.4 86.1 663.9L84 663.3Q82.1 662.7 80.3 661.6L78.1 660.4Q76.3 659.4 75.2 658Z" fill="#f37028"/>
<path d="M89.7 662.4Q88.9 661 91 660L93.4 658.8Q95.6 657.7 98.8 656.9L102.4 656Q105.6 655.2 107.3 656.2L109.1 657.4Q110.7 658.5 111.8 659.9L113 661.4Q114 662.7 111.9 662.2L109.5 661.6Q107.3 661 105.7 662.9L103.9 665Q102.3 666.9 100.1 667.2L97.7 667.5Q95.6 667.8 94.2 666.9L92.7 666Q91.4 665.2 90.6 663.9Z" fill="#f37028"/>
<path d="M118.7 669.1Q117.4 666.9 119.5 666.9L122 666.9Q124.1 666.9 125.7 669.3L127.5 672.1Q129.1 674.5 130 676.3L130.9 678.5Q131.7 680.3 130.1 680.1L128.2 679.8Q126.6 679.5 125 677.6L123.2 675.5Q121.6 673.6 120.3 671.5Z" fill="#f37028"/>
<path d="M139.7 624.3Q138.4 622.4 140.3 621.1L142.4 619.6Q144.3 618.2 146.9 619L150 619.9Q152.6 620.8 155.9 622.4L159.5 624.2Q162.7 625.8 165.4 627.9L168.4 630.4Q171.1 632.5 173.2 633.6L175.5 634.8Q177.5 635.9 178.5 639.7L179.7 643.9Q180.7 647.7 179.7 650.9L178.5 654.5Q177.5 657.7 174.9 656.6L172 655.4Q169.4 654.3 167.3 653.3L164.9 652Q162.7 651 160.6 649.4L158.2 647.5Q156 645.9 154.4 643.8L152.6 641.4Q151 639.2 149.9 636.5L148.7 633.5Q147.6 630.8 146 630L144.2 629.1Q142.6 628.3 141.2 626.4Z" fill="#f37028" stroke="none"/>
<path d="M140.3 621.1L142.4 619.6Q144.3 618.2 146.9 619M146.9 619L150 619.9Q152.6 620.8 155.9 622.4M155.9 622.4L159.5 624.2Q162.7 625.8 165.4 627.9M165.4 627.9L168.4 630.4Q171.1 632.5 173.2 633.6M173.2 633.6L175.5 634.8M174.9 656.6L172 655.4Q169.4 654.3 167.3 653.3M167.3 653.3L164.9 652Q162.7 651 160.6 649.4M160.6 649.4L158.2 647.5Q156 645.9 154.4 643.8M154.4 643.8L152.6 641.4Q151 639.2 149.9 636.5M149.9 636.5L148.7 633.5Q147.6 630.8 146 630M146 630L144.2 629.1Q142.6 628.3 141.2 626.4M141.2 626.4L139.7 624.3Q138.4 622.4 140.3 621.1" fill="none"/>
<path d="M141.7 623.5Q140.1 621.6 141.9 620.9L144.1 620.1Q145.9 619.4 148.1 620.4L150.5 621.5Q152.6 622.4 152.4 624.3L152.1 626.4Q151.8 628.3 149.7 628L147.2 627.7Q145.1 627.5 143.5 625.6Z" fill="#a3161b"/>
<path d="M162.2 636.3Q161.9 634.2 163 635.3L164.2 636.5Q165.2 637.5 165 640L164.7 642.7Q164.4 645.1 163.9 643.7L163.3 642.2Q162.7 640.9 162.5 638.7Z" fill="#ee3030"/>
<path d="M154 667.9Q153.5 665.2 155.4 664.3L157.5 663.3Q159.4 662.4 161.5 662.8L163.9 663.2Q166.1 663.6 167.2 665.2L168.4 667Q169.4 668.6 167.8 668.9L166 669.2Q164.4 669.4 162.3 668.9L159.8 668.3Q157.7 667.8 156.9 669.6L156 671.7Q155.2 673.6 154.6 670.9Z" fill="#f37028"/>
<path d="M116.2 690.7Q114.9 689.6 117.8 689.3L121.2 689Q124.1 688.7 127.3 687.1L131 685.3Q134.2 683.7 137.9 682.9L142.2 682Q145.9 681.2 147.5 679.6L149.4 677.8Q151 676.1 153.7 675.6L156.7 675Q159.4 674.5 162.6 676.1L166.2 677.9Q169.4 679.5 170.2 682.2L171.1 685.2Q172 687.9 173.7 689L175.7 690.2Q177.5 691.3 178.5 694.9L179.7 699Q180.7 702.6 179.7 705.8L178.5 709.3Q177.5 712.5 174.3 713.5L170.7 714.7Q167.5 715.7 163.8 714.7L159.7 713.5Q156 712.5 153.9 709.5L151.4 706Q149.3 703 147.1 701.9L144.7 700.7Q142.6 699.6 141 700.7L139.2 701.9Q137.5 703 137 705.2L136.4 707.6Q135.9 709.7 133.7 708.6L131.3 707.4Q129.1 706.4 127 704.2L124.6 701.8Q122.4 699.6 121.4 697.5L120.2 695.1Q119.1 692.9 117.7 691.9Z" fill="#f37028" stroke="none"/>
<path d="M117.8 689.3L121.2 689Q124.1 688.7 127.3 687.1M127.3 687.1L131 685.3Q134.2 683.7 137.9 682.9M137.9 682.9L142.2 682Q145.9 681.2 147.5 679.6M147.5 679.6L149.4 677.8Q151 676.1 153.7 675.6M153.7 675.6L156.7 675Q159.4 674.5 162.6 676.1M162.6 676.1L166.2 677.9Q169.4 679.5 170.2 682.2M170.2 682.2L171.1 685.2Q172 687.9 173.7 689M173.7 689L175.7 690.2M153.9 709.5L151.4 706Q149.3 703 147.1 701.9M147.1 701.9L144.7 700.7Q142.6 699.6 141 700.7M141 700.7L139.2 701.9Q137.5 703 137 705.2M137 705.2L136.4 707.6Q135.9 709.7 133.7 708.6M133.7 708.6L131.3 707.4Q129.1 706.4 127 704.2M127 704.2L124.6 701.8Q122.4 699.6 121.4 697.5M121.4 697.5L120.2 695.1Q119.1 692.9 117.7 691.9M117.7 691.9L116.2 690.7Q114.9 689.6 117.8 689.3" fill="none"/>
<path d="M148.7 685.5Q148.5 682.9 149.8 680.7L151.3 678.3Q152.6 676.1 155.3 675.9L158.4 675.6Q161 675.3 163.5 676.9L166.2 678.7Q168.6 680.3 168.9 682.2L169.2 684.3Q169.4 686.2 167.3 687.3L164.9 688.5Q162.7 689.6 164.9 691.7L167.3 694.1Q169.4 696.3 172 697.4L174.9 698.6Q177.5 699.6 178.2 700.9L179.1 702.4Q179.8 703.7 179.1 704.6L178.2 705.5Q177.5 706.4 173.8 705.8L169.7 705.2Q166.1 704.7 162.9 703.1L159.2 701.3Q156 699.6 153.9 697L151.4 693.9Q149.3 691.3 149 688.6Z" fill="#ee3030" stroke="none"/>
<path d="M149.8 680.7L151.3 678.3Q152.6 676.1 155.3 675.9M155.3 675.9L158.4 675.6Q161 675.3 163.5 676.9M163.5 676.9L166.2 678.7Q168.6 680.3 168.9 682.2M168.9 682.2L169.2 684.3Q169.4 686.2 167.3 687.3M167.3 687.3L164.9 688.5Q162.7 689.6 164.9 691.7M164.9 691.7L167.3 694.1Q169.4 696.3 172 697.4M172 697.4L174.9 698.6M173.8 705.8L169.7 705.2Q166.1 704.7 162.9 703.1M162.9 703.1L159.2 701.3Q156 699.6 153.9 697M153.9 697L151.4 693.9Q149.3 691.3 149 688.6M149 688.6L148.7 685.5Q148.5 682.9 149.8 680.7" fill="none"/>
<path d="M154.6 681.7Q153.5 680.3 155.9 679.8L158.6 679.2Q161 678.7 161.8 680L162.8 681.5Q163.6 682.9 161.4 683.4L159 684Q156.8 684.5 155.8 683.2Z" fill="#a3161b"/>
<path d="M154.6 682Q154.3 681.2 156.2 681.1L158.3 681Q160.2 680.8 159.9 681.6L159.6 682.4Q159.4 683.2 158 683.4L156.5 683.5Q155.2 683.7 154.9 682.9Z" fill="#5f6364"/>
<path d="M122.4 697.3Q120.8 694.6 122.6 694.3L124.7 694Q126.6 693.8 128 696.5L129.5 699.5Q130.8 702.2 129.2 702.4L127.4 702.7Q125.8 703 124.2 700.3Z" fill="#ee3030"/>
<path d="M73.7 687.2Q72.1 683.7 73.7 684.2L75.5 684.8Q77.1 685.4 79 687.8L81.1 690.5Q83 692.9 83.8 695.1L84.7 697.5Q85.5 699.6 83.9 700.7L82.1 701.9Q80.5 703 79.9 706L79.3 709.5Q78.8 712.5 76.9 713.5L74.9 714.7Q73 715.7 70.6 714.7L67.8 713.5Q65.4 712.5 64.8 710L64.2 707.2Q63.7 704.7 66.4 703.1L69.4 701.3Q72.1 699.6 73.7 698L75.5 696.2Q77.1 694.6 75.5 691.1Z" fill="#f37028" stroke="none"/>
<path d="M73.7 684.2L75.5 684.8Q77.1 685.4 79 687.8M79 687.8L81.1 690.5Q83 692.9 83.8 695.1M83.8 695.1L84.7 697.5Q85.5 699.6 83.9 700.7M83.9 700.7L82.1 701.9Q80.5 703 79.9 706M79.9 706L79.3 709.5M64.8 710L64.2 707.2Q63.7 704.7 66.4 703.1M66.4 703.1L69.4 701.3Q72.1 699.6 73.7 698M73.7 698L75.5 696.2Q77.1 694.6 75.5 691.1M75.5 691.1L73.7 687.2Q72.1 683.7 73.7 684.2" fill="none"/>
<path d="M63.9 706Q63.7 703 65.8 702.5L68.2 701.9Q70.4 701.3 72.5 702.9L75 704.8Q77.1 706.4 76.8 708.3L76.5 710.5Q76.3 712.5 74.7 713.5L72.9 714.7Q71.4 715.7 69.2 714.7L66.7 713.5Q64.5 712.5 64.2 709.5Z" fill="#a3161b" stroke="none"/>
<path d="M65.8 702.5L68.2 701.9Q70.4 701.3 72.5 702.9M72.5 702.9L75 704.8Q77.1 706.4 76.8 708.3M76.8 708.3L76.5 710.5M64.2 709.5L63.9 706Q63.7 703 65.8 702.5" fill="none"/>
<path d="M67.9 706.8Q67.9 705.5 69.2 705.5L70.7 705.5Q72.1 705.5 71.8 706.9L71.5 708.4Q71.2 709.7 70.2 709.6L68.9 709.5Q67.9 709.4 67.9 708.2Z" fill="#5f6364"/>
<path d="M86.8 681.7Q85.5 680.3 87.4 680.6L89.5 680.9Q91.4 681.2 90.8 682.3L90.2 683.5Q89.7 684.5 88.4 683.2Z" fill="#f37028"/>
<path d="M162.1 610.5Q161 608.5 162.1 607.6L163.3 606.5Q164.4 605.6 166 606.5L167.8 607.6Q169.4 608.5 172 611.9L174.9 615.7Q177.5 619.1 178.1 620L178.7 621.1Q179.3 622.1 178.7 622.8L178.1 623.5Q177.5 624.1 174.9 623L172 621.8Q169.4 620.8 167.8 618.9L166 616.8Q164.4 614.9 163.3 612.8Z" fill="#f37028" stroke="none"/>
<path d="M174.9 623L172 621.8Q169.4 620.8 167.8 618.9M167.8 618.9L166 616.8Q164.4 614.9 163.3 612.8M163.3 612.8L162.1 610.5" fill="none"/>
<path d="M94.1 699Q93.9 698.3 95.8 698.2L97.9 698.1Q99.8 698 99.8 698.8L99.8 699.7Q99.8 700.5 98.1 700.5L96.1 700.5Q94.4 700.5 94.2 699.8Z" fill="#f37028"/>
<path d="M125.7 611.1Q124.1 608.5 128.9 607.5L134.3 606.3Q139.1 605.3 144.5 606.3L150.6 607.5Q156 608.5 155.7 610.8L155.4 613.4Q155.2 615.7 152.2 615.2L148.9 614.6Q145.9 614 142.7 616.5L139.1 619.2Q135.9 621.6 133.7 620L131.3 618.2Q129.1 616.6 127.5 614Z" fill="#5eb95c" stroke="none"/>
<path d="M155.7 610.8L155.4 613.4Q155.2 615.7 152.2 615.2M152.2 615.2L148.9 614.6Q145.9 614 142.7 616.5M142.7 616.5L139.1 619.2Q135.9 621.6 133.7 620M133.7 620L131.3 618.2Q129.1 616.6 127.5 614M127.5 614L125.7 611.1" fill="none"/>
<path d="M132.2 610Q131.7 608.5 132.4 607.8L133.2 607.1Q134 606.4 135.1 607.1L136.4 607.8Q137.5 608.5 137.3 610.3L137 612.3Q136.7 614 135.6 613.8L134.4 613.5Q133.3 613.2 132.8 611.7Z" fill="#5bc8d8" stroke="none"/>
<path d="M137.3 610.3L137 612.3Q136.7 614 135.6 613.8M135.6 613.8L134.4 613.5Q133.3 613.2 132.8 611.7M132.8 611.7L132.2 610" fill="none"/>
<path d="M60.5 621.2Q61.5 619.1 63.8 618L66.4 616.8Q68.7 615.7 70.6 617.3L72.7 619.1Q74.6 620.8 74.9 622.9L75.2 625.3Q75.4 627.5 73.8 629.1L72 630.9Q70.4 632.5 67.5 633L64.3 633.6Q61.5 634.2 60.5 631.5L59.3 628.4Q58.3 625.7 59.3 623.6Z" fill="#5eb95c" stroke="none"/>
<path d="M63.8 618L66.4 616.8Q68.7 615.7 70.6 617.3M70.6 617.3L72.7 619.1Q74.6 620.8 74.9 622.9M74.9 622.9L75.2 625.3Q75.4 627.5 73.8 629.1M73.8 629.1L72 630.9Q70.4 632.5 67.5 633M67.5 633L64.3 633.6" fill="none"/>
<path d="M87.4 622.4Q86.3 620.8 87.7 620.2L89.2 619.6Q90.5 619.1 91.6 620.4L92.8 621.9Q93.9 623.3 92.6 624.1L91 625Q89.7 625.8 88.6 624.2Z" fill="#5eb95c"/>
<path d="M99.4 649Q96.4 648.4 99.6 647.9L103.3 647.3Q106.5 646.8 108.4 648.7L110.5 650.8Q112.4 652.6 114.2 654.3L116.4 656.1Q118.2 657.7 116.4 657.1L114.2 656.5Q112.4 656 110.2 654.1L107.8 652Q105.6 650.1 102.7 649.6Z" fill="#5eb95c"/>
<path d="M65.6 648.5Q65.4 647.3 68.2 647.1L71.3 646.9Q74.1 646.8 74.2 648L74.4 649.4Q74.6 650.6 71.9 650.7L68.9 650.9Q66.2 651 65.9 649.8Z" fill="#5eb95c"/>
<path d="M64.5 662.3Q63.7 660.2 65.3 660.5L67.1 660.8Q68.7 661 71.1 664L73.9 667.3Q76.3 670.3 74.9 670.8L73.4 671.4Q72.1 672 70.2 670.3L68.1 668.5Q66.2 666.9 65.4 664.8Z" fill="#5eb95c"/>
<path d="M139.7 644.7Q137.5 641.7 139.7 641.2L142.1 640.6Q144.3 640.1 146.4 642.5L148.8 645.2Q151 647.6 154.2 649.8L157.8 652.2Q161 654.3 163.2 655.9L165.6 657.7Q167.8 659.4 166.1 659.9L164.3 660.5Q162.7 661 159.5 660L155.9 658.8Q152.6 657.7 150 655.5L146.9 653.1Q144.3 651 142.1 648Z" fill="#5eb95c"/>
<path d="M92.7 674.4Q91.4 673.6 94.3 672.8L97.7 671.9Q100.6 671.1 102.2 671.4L104 671.7Q105.6 672 105.1 669.5L104.5 666.8Q104 664.4 105.3 663.3L106.8 662.1Q108.2 661 110.3 663.2L112.7 665.6Q114.9 667.8 116.2 670.4L117.7 673.5Q119.1 676.1 119.3 678.3L119.6 680.7Q119.9 682.9 118 683.4L115.9 684Q114 684.5 111.9 684.8L109.5 685.1Q107.3 685.4 105.7 683.5L103.9 681.4Q102.3 679.5 100.1 678.4L97.7 677.2Q95.6 676.1 94.2 675.3Z" fill="#5eb95c"/>
<path d="M133 671Q132.5 669.4 134.7 666.7L137.1 663.7Q139.2 661 141.4 661L143.8 661Q145.9 661 147.3 663.5L148.8 666.2Q150.1 668.6 149.9 670.7L149.6 673.2Q149.3 675.3 146.6 675.8L143.6 676.5Q140.9 677 138.8 676.2L136.3 675.3Q134.2 674.5 133.6 672.9Z" fill="#5eb95c"/>
<path d="M85.4 689.5Q83.8 687.9 86.5 688.2L89.5 688.5Q92.2 688.7 95.2 689L98.5 689.3Q101.4 689.6 101.2 690.7L100.9 691.9Q100.6 692.9 96.8 692.9L92.6 692.9Q88.9 692.9 87.2 691.3Z" fill="#5eb95c"/>
<path d="M60.5 686.7Q61.5 685.4 63.5 685.9L65.8 686.5Q67.9 687.1 69.2 688.9L70.7 691.1Q72.1 692.9 70.5 694L68.6 695.2Q67 696.3 65.3 696L63.3 695.7Q61.5 695.5 60.5 693.5L59.3 691.4Q58.3 689.5 59.3 688.2Z" fill="#5eb95c" stroke="none"/>
<path d="M63.5 685.9L65.8 686.5Q67.9 687.1 69.2 688.9M69.2 688.9L70.7 691.1Q72.1 692.9 70.5 694M70.5 694L68.6 695.2Q67 696.3 65.3 696M65.3 696L63.3 695.7" fill="none"/>
<path d="M113.2 698.4Q112.4 696.3 113.4 695.8L114.6 695.2Q115.7 694.6 116.8 697L118 699.8Q119.1 702.2 117.7 702.4L116.2 702.7Q114.9 703 114.1 700.9Z" fill="#5eb95c"/>
<path d="M104.8 707.4Q104 706.4 105.6 705.8L107.4 705.2Q109 704.7 109.8 705.8L110.7 707Q111.5 708 109.9 708.6L108.1 709.2Q106.5 709.7 105.7 708.6Z" fill="#5eb95c"/>
<path d="M204.9 615.4Q203.9 614 205.7 612.7L207.9 611.2Q209.7 609.8 211.9 611.5L214.3 613.3Q216.4 614.9 217.5 617.3L218.7 620Q219.8 622.4 217.9 621.9L215.8 621.3Q213.9 620.8 211.8 619.9L209.4 619Q207.2 618.2 206.1 616.9Z" fill="#f37028"/>
<path d="M221.1 609.7Q219 608.5 220.8 607.5L222.9 606.3Q224.7 605.3 227.2 606.3L229.9 607.5Q232.4 608.5 234.5 610.8L237 613.4Q239.1 615.7 240.2 618.9L241.4 622.6Q242.5 625.8 240.9 625.5L239 625.2Q237.4 624.9 235.8 622.5L234 619.8Q232.4 617.4 230.2 615.8L227.8 614Q225.7 612.4 223.5 611.1Z" fill="#f37028" stroke="none"/>
<path d="M234.5 610.8L237 613.4Q239.1 615.7 240.2 618.9M240.2 618.9L241.4 622.6Q242.5 625.8 240.9 625.5M240.9 625.5L239 625.2Q237.4 624.9 235.8 622.5M235.8 622.5L234 619.8Q232.4 617.4 230.2 615.8M230.2 615.8L227.8 614Q225.7 612.4 223.5 611.1M223.5 611.1L221.1 609.7" fill="none"/>
<path d="M175.9 626.4Q176.5 625.8 178.3 626.6L180.3 627.5Q182 628.3 183.6 630.7L185.5 633.4Q187.1 635.9 186 636.1L184.8 636.4Q183.7 636.7 181.4 634.8L178.8 632.7Q176.5 630.8 175.9 629.8L175.3 628.8Q174.7 627.8 175.3 627.1Z" fill="#f37028" stroke="none"/>
<path d="M178.3 626.6L180.3 627.5Q182 628.3 183.6 630.7M183.6 630.7L185.5 633.4Q187.1 635.9 186 636.1M186 636.1L184.8 636.4Q183.7 636.7 181.4 634.8M181.4 634.8L178.8 632.7" fill="none"/>
<path d="M175.5 642Q176.5 639.2 178.5 640.3L180.8 641.5Q182.9 642.6 184.5 645.8L186.3 649.4Q187.9 652.6 186.8 654.5L185.6 656.6Q184.6 658.5 182 658.5L179.1 658.5Q176.5 658.5 175.5 655.1L174.3 651.3Q173.3 647.9 174.3 645.1Z" fill="#f37028" stroke="none"/>
<path d="M178.5 640.3L180.8 641.5Q182.9 642.6 184.5 645.8M184.5 645.8L186.3 649.4Q187.9 652.6 186.8 654.5M186.8 654.5L185.6 656.6Q184.6 658.5 182 658.5M182 658.5L179.1 658.5" fill="none"/>
<path d="M229 657Q228.2 656 230.6 655.5L233.3 654.9Q235.8 654.3 236.6 650L237.5 645.2Q238.3 640.9 239.3 641.4L240.6 642Q241.6 642.6 242.7 645.8L243.9 649.4Q245 652.6 243.9 654.3L242.7 656.1Q241.6 657.7 238.1 658.1L234.2 658.6Q230.7 659 229.9 658.1Z" fill="#f37028"/>
<path d="M256.4 631.9Q255.1 630.8 255.9 626.8L256.8 622.3Q257.6 618.2 258.9 619.6L260.4 621.1Q261.8 622.4 262 625.1L262.3 628.1Q262.6 630.8 264.2 633L266 635.4Q267.6 637.5 268.5 640.5L269.4 643.8Q270.2 646.8 268.8 647.6L267.3 648.5Q266 649.3 265.2 646.6L264.3 643.6Q263.5 640.9 262.1 638.7L260.6 636.3Q259.3 634.2 257.9 633.1Z" fill="#f37028"/>
<path d="M269.3 626.8Q267.6 623.3 269.3 624.6L271.1 626.1Q272.7 627.5 275.4 629.1L278.4 630.9Q281.1 632.5 284.7 633.6L288.8 634.8Q292.5 635.9 293.5 639.9L294.7 644.5Q295.7 648.6 294.7 652L293.5 655.9Q292.5 659.4 289.9 658.8L287 658.2Q284.4 657.7 282.8 658.8L281 660Q279.4 661 278.9 663.2L278.3 665.6Q277.7 667.8 275.6 666.7L273.2 665.5Q271 664.4 268.9 662.8L266.4 661Q264.3 659.4 262.4 658.3L260.3 657.1Q258.4 656 258.7 653.9L259 651.4Q259.3 649.3 261.9 649.8L265 650.4Q267.6 651 269.8 649.9L272.2 648.7Q274.4 647.6 275.4 645.5L276.6 643Q277.7 640.9 276.1 638.7L274.3 636.3Q272.7 634.2 271.1 630.7Z" fill="#5eb95c" stroke="none"/>
<path d="M269.3 624.6L271.1 626.1Q272.7 627.5 275.4 629.1M275.4 629.1L278.4 630.9Q281.1 632.5 284.7 633.6M284.7 633.6L288.8 634.8M289.9 658.8L287 658.2Q284.4 657.7 282.8 658.8M282.8 658.8L281 660Q279.4 661 278.9 663.2M278.9 663.2L278.3 665.6Q277.7 667.8 275.6 666.7M275.6 666.7L273.2 665.5Q271 664.4 268.9 662.8M268.9 662.8L266.4 661Q264.3 659.4 262.4 658.3M262.4 658.3L260.3 657.1Q258.4 656 258.7 653.9M258.7 653.9L259 651.4Q259.3 649.3 261.9 649.8M261.9 649.8L265 650.4Q267.6 651 269.8 649.9M269.8 649.9L272.2 648.7Q274.4 647.6 275.4 645.5M275.4 645.5L276.6 643Q277.7 640.9 276.1 638.7M276.1 638.7L274.3 636.3Q272.7 634.2 271.1 630.7M271.1 630.7L269.3 626.8Q267.6 623.3 269.3 624.6" fill="none"/>
<path d="M273.7 625.1Q271.8 623.3 273.7 621.7L275.8 619.8Q277.7 618.2 282.4 617.7L287.8 617.1Q292.5 616.6 293.5 619.7L294.7 623.2Q295.7 626.3 294.7 628.8L293.5 631.7Q292.5 634.2 289.9 633.1L287 631.9Q284.4 630.8 282.3 630.3L279.9 629.7Q277.7 629.1 275.8 627.3Z" fill="#f37028" stroke="none"/>
<path d="M273.7 621.7L275.8 619.8Q277.7 618.2 282.4 617.7M282.4 617.7L287.8 617.1M289.9 633.1L287 631.9Q284.4 630.8 282.3 630.3M282.3 630.3L279.9 629.7Q277.7 629.1 275.8 627.3M275.8 627.3L273.7 625.1Q271.8 623.3 273.7 621.7" fill="none"/>
<path d="M275.4 624.3Q274.4 623.3 276 622.2L277.8 621Q279.4 619.9 282.6 620.2L286.2 620.5Q289.5 620.8 290.4 622.1L291.5 623.6Q292.5 624.9 293 625.8L293.5 626.7Q294 627.5 293.5 628L293 628.6Q292.5 629.1 289.9 628.6L287 628Q284.4 627.5 282.3 627.2L279.9 626.9Q277.7 626.6 276.6 625.6Z" fill="#ee3030" stroke="none"/>
<path d="M276 622.2L277.8 621Q279.4 619.9 282.6 620.2M282.6 620.2L286.2 620.5Q289.5 620.8 290.4 622.1M290.4 622.1L291.5 623.6M289.9 628.6L287 628Q284.4 627.5 282.3 627.2M282.3 627.2L279.9 626.9Q277.7 626.6 276.6 625.6M276.6 625.6L275.4 624.3Q274.4 623.3 276 622.2" fill="none"/>
<path d="M262.5 666Q260.9 664.4 262 663.3L263.2 662.1Q264.3 661 266.4 662.7L268.9 664.5Q271 666.1 273.2 668.2L275.6 670.6Q277.7 672.8 278.3 676L278.9 679.6Q279.4 682.9 279.9 686.1L280.5 689.7Q281.1 692.9 283.2 694.5L285.6 696.4Q287.8 698 289.3 698.5L291 699.1Q292.5 699.6 292.9 700.3L293.3 701Q293.7 701.7 293.3 702.1L292.9 702.6Q292.5 703 289.9 702.2L287 701.3Q284.4 700.5 282.3 698.6L279.9 696.5Q277.7 694.6 276.9 691.4L276 687.8Q275.2 684.5 274.4 681.9L273.5 678.8Q272.7 676.1 270.5 674L268.1 671.6Q266 669.4 264.4 667.8Z" fill="#f37028" stroke="none"/>
<path d="M262 663.3L263.2 662.1Q264.3 661 266.4 662.7M266.4 662.7L268.9 664.5Q271 666.1 273.2 668.2M273.2 668.2L275.6 670.6Q277.7 672.8 278.3 676M278.3 676L278.9 679.6Q279.4 682.9 279.9 686.1M279.9 686.1L280.5 689.7Q281.1 692.9 283.2 694.5M283.2 694.5L285.6 696.4Q287.8 698 289.3 698.5M289.3 698.5L291 699.1M289.9 702.2L287 701.3Q284.4 700.5 282.3 698.6M282.3 698.6L279.9 696.5Q277.7 694.6 276.9 691.4M276.9 691.4L276 687.8Q275.2 684.5 274.4 681.9M274.4 681.9L273.5 678.8Q272.7 676.1 270.5 674M270.5 674L268.1 671.6Q266 669.4 264.4 667.8M264.4 667.8L262.5 666Q260.9 664.4 262 663.3" fill="none"/>
<path d="M279.9 673.3Q277.7 672 279.9 672.2L282.3 672.5Q284.4 672.8 287 672L289.9 671.1Q292.5 670.3 293.1 671.2L293.7 672.3Q294.3 673.3 293.7 674L293.1 674.7Q292.5 675.3 289.9 675.6L287 675.9Q284.4 676.1 282.3 674.8Z" fill="#f37028" stroke="none"/>
<path d="M279.9 672.2L282.3 672.5Q284.4 672.8 287 672M287 672L289.9 671.1M289.9 675.6L287 675.9Q284.4 676.1 282.3 674.8M282.3 674.8L279.9 673.3Q277.7 672 279.9 672.2" fill="none"/>
<path d="M282.4 666.8Q281.1 664.4 282.4 662.8L283.9 661Q285.3 659.4 287.6 660.4L290.2 661.6Q292.5 662.7 293.5 664.5L294.7 666.5Q295.7 668.3 294.7 669.5L293.5 670.8Q292.5 672 290.2 672L287.6 672Q285.3 672 283.9 669.5Z" fill="#ee3030" stroke="none"/>
<path d="M282.4 662.8L283.9 661Q285.3 659.4 287.6 660.4M287.6 660.4L290.2 661.6M290.2 672L287.6 672Q285.3 672 283.9 669.5M283.9 669.5L282.4 666.8Q281.1 664.4 282.4 662.8" fill="none"/>
<path d="M284.7 664.3Q284.4 662.7 286 662.7L287.9 662.7Q289.5 662.7 289.5 664.3L289.5 666.1Q289.5 667.8 288.1 667.8L286.6 667.8Q285.3 667.8 285 666.1Z" fill="#a3161b"/>
<path d="M186.4 673.9Q184.6 672.8 186.4 671.7L188.5 670.5Q190.4 669.4 192.3 670.8L194.4 672.3Q196.3 673.6 196.6 675.2L196.9 677.1Q197.1 678.7 195 677.9L192.6 677Q190.4 676.1 188.5 675.1Z" fill="#f37028"/>
<path d="M209.1 682.5Q208.1 681.2 209.4 680.9L210.9 680.6Q212.3 680.3 213.6 682.2L215.1 684.3Q216.4 686.2 214.8 686L213 685.6Q211.4 685.4 210.3 684Z" fill="#f37028"/>
<path d="M190.9 689.2Q189.6 687.9 192.5 686.8L195.9 685.6Q198.8 684.5 201.2 685.9L204 687.4Q206.4 688.7 207.5 691.4L208.7 694.4Q209.7 697.1 207.3 696.3L204.6 695.4Q202.2 694.6 199.5 693.8L196.5 692.9Q193.8 692.1 192.4 690.8Z" fill="#f37028"/>
<path d="M175.5 697.8Q176.5 695.5 178.8 696.3L181.4 697.2Q183.7 698 185.9 700.4L188.3 703.1Q190.4 705.5 193.1 707.8L196.1 710.3Q198.8 712.5 195.6 713.5L192.1 714.7Q188.9 715.7 184.9 714.7L180.5 713.5Q176.5 712.5 175.5 709.4L174.3 705.9Q173.3 702.8 174.3 700.4Z" fill="#f37028" stroke="none"/>
<path d="M178.8 696.3L181.4 697.2Q183.7 698 185.9 700.4M185.9 700.4L188.3 703.1Q190.4 705.5 193.1 707.8M193.1 707.8L196.1 710.3" fill="none"/>
<path d="M270.4 704.9Q268.5 701.3 270.4 701.9L272.5 702.5Q274.4 703 276.8 706L279.5 709.5Q281.9 712.5 281 713.3L279.9 714.3Q278.9 715.1 277.5 714.3L275.8 713.3Q274.4 712.5 272.5 708.9Z" fill="#f37028" stroke="none"/>
<path d="M270.4 701.9L272.5 702.5Q274.4 703 276.8 706M276.8 706L279.5 709.5M272.5 708.9L270.4 704.9Q268.5 701.3 270.4 701.9" fill="none"/>
<path d="M202.2 710.3Q202.2 709.2 204.1 709.1L206.2 709Q208.1 708.9 208.1 710L208.1 711.3Q208.1 712.5 207.3 713.1L206.5 713.9Q205.7 714.5 204.6 713.9L203.3 713.1Q202.2 712.5 202.2 711.4Z" fill="#f37028" stroke="none"/>
<path d="M204.1 709.1L206.2 709Q208.1 708.9 208.1 710M208.1 710L208.1 711.3M202.2 711.4L202.2 710.3Q202.2 709.2 204.1 709.1" fill="none"/>
<path d="M208.3 647Q206.4 645.1 208.5 646.2L210.9 647.4Q213.1 648.4 212.8 649.3L212.5 650.2Q212.3 651 210.4 649.1Z" fill="#f37028"/>
<path d="M236.2 610.3Q234.1 608.5 237.3 607.5L240.8 606.3Q244 605.3 247.8 606.3L252.1 607.5Q255.9 608.5 255.6 611.3L255.3 614.5Q255.1 617.4 254.3 620.3L253.3 623.7Q252.5 626.6 250.9 626.9L249.1 627.2Q247.5 627.5 246.4 625.3L245.2 622.9Q244.1 620.8 243.1 618.6L241.9 616.2Q240.8 614 238.6 612.3Z" fill="#5eb95c" stroke="none"/>
<path d="M255.6 611.3L255.3 614.5Q255.1 617.4 254.3 620.3M254.3 620.3L253.3 623.7Q252.5 626.6 250.9 626.9M250.9 626.9L249.1 627.2Q247.5 627.5 246.4 625.3M246.4 625.3L245.2 622.9Q244.1 620.8 243.1 618.6M243.1 618.6L241.9 616.2Q240.8 614 238.6 612.3M238.6 612.3L236.2 610.3" fill="none"/>
<path d="M282.1 612.6Q280.2 610.7 284.2 610.4L288.6 610.1Q292.5 609.8 293.2 611.1L294.1 612.6Q294.8 613.9 294.1 614.8L293.2 615.7Q292.5 616.6 290.5 616.6L288.2 616.6Q286.1 616.6 284.2 614.7Z" fill="#5eb95c" stroke="none"/>
<path d="M284.2 610.4L288.6 610.1M290.5 616.6L288.2 616.6Q286.1 616.6 284.2 614.7M284.2 614.7L282.1 612.6Q280.2 610.7 284.2 610.4" fill="none"/>
<path d="M259.2 676.6Q258.4 674.5 260.3 675.5L262.4 676.8Q264.3 677.8 265.9 680L267.7 682.4Q269.3 684.5 269.3 687L269.3 689.7Q269.3 692.1 268 690.8L266.5 689.2Q265.1 687.9 263.8 685.8L262.3 683.3Q260.9 681.2 260.1 679Z" fill="#5eb95c"/>
<path d="M175.8 687Q176.5 686.2 178.5 686.8L180.8 687.4Q182.9 687.9 184.8 690.3L186.9 693Q188.8 695.5 187.1 695.2L185.3 694.9Q183.7 694.6 181.4 693.8L178.8 692.9Q176.5 692.1 175.8 691L175.1 689.7Q174.4 688.5 175.1 687.8Z" fill="#5eb95c" stroke="none"/>
<path d="M178.5 686.8L180.8 687.4Q182.9 687.9 184.8 690.3M184.8 690.3L186.9 693Q188.8 695.5 187.1 695.2M187.1 695.2L185.3 694.9Q183.7 694.6 181.4 693.8M181.4 693.8L178.8 692.9" fill="none"/>
<path d="M284.7 681.2Q284.4 679.8 287 679.7L289.9 679.6Q292.5 679.5 293.1 680.5L293.7 681.6Q294.3 682.6 293.7 683.2L293.1 683.9Q292.5 684.5 290.2 684.4L287.6 684.3Q285.3 684.2 285 682.8Z" fill="#5eb95c" stroke="none"/>
<path d="M287 679.7L289.9 679.6M290.2 684.4L287.6 684.3Q285.3 684.2 285 682.8M285 682.8L284.7 681.2Q284.4 679.8 287 679.7" fill="none"/>
<path d="M189.9 630.8Q189.6 629.6 190.8 629.5L192.2 629.3Q193.5 629.1 193.6 630.4L193.7 631.8Q193.8 633 192.7 633.1L191.5 633.2Q190.4 633.3 190.2 632.2Z" fill="#5eb95c"/>
<path d="M281 706Q279.4 703 281 704.1L282.8 705.3Q284.4 706.4 286 708.3L287.9 710.5Q289.5 712.5 288.8 713.1L288.1 713.7Q287.5 714.3 286.5 713.7L285.4 713.1Q284.4 712.5 282.8 709.5Z" fill="#5eb95c" stroke="none"/>
<path d="M281 704.1L282.8 705.3Q284.4 706.4 286 708.3M286 708.3L287.9 710.5M282.8 709.5L281 706Q279.4 703 281 704.1" fill="none"/>
<path d="M290.5 624.4Q291.5 623.3 293.3 624.3L295.3 625.6Q297 626.6 299.2 629L301.6 631.8Q303.8 634.2 305.9 636.3L308.3 638.7Q310.5 640.9 308.9 640.9L307 640.9Q305.4 640.9 303.3 639.3L300.9 637.5Q298.7 635.9 296.4 634.8L293.8 633.6Q291.5 632.5 290.5 630.7L289.3 628.7Q288.3 626.9 289.3 625.8Z" fill="#f37028" stroke="none"/>
<path d="M293.3 624.3L295.3 625.6Q297 626.6 299.2 629M299.2 629L301.6 631.8Q303.8 634.2 305.9 636.3M305.9 636.3L308.3 638.7Q310.5 640.9 308.9 640.9M308.9 640.9L307 640.9Q305.4 640.9 303.3 639.3M303.3 639.3L300.9 637.5Q298.7 635.9 296.4 634.8M296.4 634.8L293.8 633.6" fill="none"/>
<path d="M302 625.4Q299.6 623.3 302 623L304.7 622.7Q307.1 622.4 309.3 624.3L311.7 626.4Q313.8 628.3 315.4 630.2L317.2 632.3Q318.9 634.2 321.5 635.5L324.6 637Q327.3 638.4 328.6 639.7L330.1 641.2Q331.4 642.6 330.4 643.9L329.2 645.4Q328.1 646.8 325.7 646L323 645.1Q320.5 644.3 318.4 642.1L316 639.7Q313.8 637.5 311.7 635.1L309.3 632.4Q307.1 630 304.7 627.8Z" fill="#f37028"/>
<path d="M320.2 638.9Q319.7 637.5 321.6 638.1L323.7 638.7Q325.6 639.2 325.8 640.3L326.1 641.5Q326.4 642.6 324.8 642.3L323 642Q321.4 641.7 320.8 640.4Z" fill="#ee3030"/>
<path d="M350.2 621.2Q349.9 619.1 351.8 618.3L353.9 617.4Q355.8 616.6 358.5 617.9L361.5 619.4Q364.2 620.8 366.3 618.6L368.8 616.2Q370.9 614 374.1 614.3L377.7 614.6Q381 614.9 384.2 616.2L387.8 617.7Q391 619.1 393.2 621.8L395.6 624.8Q397.8 627.5 397.2 629.6L396.6 632Q396.1 634.2 392.9 635.5L389.2 637Q386 638.4 384.4 639.7L382.6 641.2Q381 642.6 382.6 644.7L384.4 647.1Q386 649.3 388.2 652L390.6 655Q392.7 657.7 392.2 659.8L391.6 662.2Q391 664.4 388.4 666L385.3 667.8Q382.6 669.4 381 667.8L379.2 666Q377.6 664.4 376.5 662.2L375.3 659.8Q374.3 657.7 372.6 655.5L370.8 653.1Q369.2 651 368.1 649.1L366.9 647Q365.9 645.1 368 643.7L370.4 642.2Q372.6 640.9 373.7 639.3L374.9 637.5Q375.9 635.9 373.8 634.2L371.4 632.4Q369.2 630.8 366.5 630.3L363.5 629.7Q360.8 629.1 360.3 631.3L359.7 633.7Q359.1 635.9 357 635.3L354.6 634.7Q352.4 634.2 350.3 633.1L347.9 631.9Q345.7 630.8 347.3 629.2L349.1 627.4Q350.8 625.8 350.5 623.6Z" fill="#f37028"/>
<path d="M373.4 621.2Q372.6 619.1 375.3 618.3L378.3 617.4Q381 616.6 383.9 617.9L387.2 619.4Q390.2 620.8 392.4 623.2L394.8 625.9Q396.9 628.3 396.1 630.2L395.2 632.3Q394.4 634.2 391.7 635L388.7 635.9Q386 636.7 383.9 635.4L381.4 633.8Q379.3 632.5 377.9 630.4L376.4 627.9Q375.1 625.8 374.3 623.6Z" fill="#ee3030"/>
<path d="M379.3 622.6Q378.5 620.8 381.4 620.8L384.7 620.8Q387.7 620.8 389.3 622.4L391.1 624.2Q392.7 625.8 391.1 626.9L389.3 628.1Q387.7 629.1 385.5 628.3L383.1 627.4Q381 626.6 380.2 624.7Z" fill="#5f6364"/>
<path d="M347.6 631.3Q346.6 630 348.2 628.6L350 627.1Q351.6 625.8 353.2 626.9L355 628.1Q356.6 629.1 356.1 630.8L355.5 632.6Q355 634.2 353.3 634.2L351.5 634.2Q349.9 634.2 348.8 632.8Z" fill="#a3161b"/>
<path d="M374.2 646.4Q373.4 643.4 375.3 642.9L377.4 642.3Q379.3 641.7 381.4 644.7L383.9 648Q386 651 387.9 653.1L390 655.5Q391.9 657.7 391.1 659.6L390.2 661.7Q389.4 663.6 387.5 664.6L385.4 665.8Q383.5 666.9 381.9 665L380.1 662.9Q378.5 661 377.6 658.4L376.7 655.3Q375.9 652.6 375.1 649.7Z" fill="#ee3030"/>
<path d="M376.4 648Q375.1 645.1 376.7 645.1L378.5 645.1Q380.1 645.1 381.5 647.2L383 649.7Q384.3 651.8 382.7 652.6L380.9 653.5Q379.3 654.3 377.9 651.4Z" fill="#a3161b"/>
<path d="M377.3 648.4Q376.8 646.8 377.8 646.9L379.1 647.1Q380.1 647.3 380.7 648.7L381.3 650.4Q381.8 651.8 380.7 651.8L379.5 651.8Q378.5 651.8 377.9 650.2Z" fill="#5f6364"/>
<path d="M349.6 610Q349.1 608.5 350.1 607.6L351.3 606.5Q352.4 605.6 354 606.5L355.8 607.6Q357.5 608.5 356.9 610.3L356.3 612.3Q355.8 614 354.2 613.8L352.4 613.5Q350.8 613.2 350.2 611.7Z" fill="#f37028" stroke="none"/>
<path d="M356.9 610.3L356.3 612.3Q355.8 614 354.2 613.8M354.2 613.8L352.4 613.5Q350.8 613.2 350.2 611.7M350.2 611.7L349.6 610" fill="none"/>
<path d="M351.3 609.6Q351.1 608.5 351.6 608L352.3 607.5Q352.8 607 353.7 607.5L354.6 608Q355.5 608.5 355.1 609.7L354.8 611.1Q354.4 612.4 353.6 612.2L352.6 612.1Q351.8 612 351.5 610.9Z" fill="#ee3030" stroke="none"/>
<path d="M355.1 609.7L354.8 611.1Q354.4 612.4 353.6 612.2M353.6 612.2L352.6 612.1Q351.8 612 351.5 610.9M351.5 610.9L351.3 609.6" fill="none"/>
<path d="M375.9 609.7Q375.1 608.5 376.4 607.5L377.9 606.3Q379.2 605.3 381.1 606.3L383.2 607.5Q385.2 608.5 384.4 610L383.5 611.7Q382.6 613.2 381 612.9L379.2 612.6Q377.6 612.4 376.8 611.1Z" fill="#a3161b" stroke="none"/>
<path d="M384.4 610L383.5 611.7Q382.6 613.2 381 612.9M381 612.9L379.2 612.6Q377.6 612.4 376.8 611.1M376.8 611.1L375.9 609.7" fill="none"/>
<path d="M402.5 621.1Q402 616.6 403.7 616.8L405.7 617.1Q407.5 617.4 408.5 620.4L409.7 623.8Q410.7 626.7 409.7 629.1L408.5 631.8Q407.5 634.2 406.3 633.1L404.9 631.9Q403.6 630.8 403.1 626.3Z" fill="#f37028" stroke="none"/>
<path d="M403.7 616.8L405.7 617.1M406.3 633.1L404.9 631.9Q403.6 630.8 403.1 626.3M403.1 626.3L402.5 621.1Q402 616.6 403.7 616.8" fill="none"/>
<path d="M340.6 658.3Q339.8 656.8 341.2 656.3L342.7 655.7Q344 655.2 345.1 656.8L346.3 658.6Q347.4 660.2 345.8 660.6L344 661Q342.4 661.4 341.6 659.9Z" fill="#f37028"/>
<path d="M358.6 658.5Q358.3 656.8 359.7 656.5L361.2 656Q362.5 655.7 363.3 657.9L364.2 660.5Q365 662.7 363.9 664.1L362.7 665.6Q361.7 666.9 360.9 665.3L360 663.5Q359.1 661.9 358.9 660.3Z" fill="#f37028"/>
<path d="M347.3 670.4Q345.7 667.8 348.4 667.5L351.4 667.2Q354.1 666.9 355.7 668.8L357.5 670.9Q359.1 672.8 359.7 670.6L360.3 668.2Q360.8 666.1 363 666.9L365.4 667.8Q367.5 668.6 370.2 669.4L373.2 670.3Q375.9 671.1 377 671.9L378.2 672.8Q379.3 673.6 377.1 675L374.7 676.5Q372.6 677.8 370.4 678.4L368 679Q365.9 679.5 363.7 679.2L361.3 678.9Q359.1 678.7 358.3 681.1L357.4 683.8Q356.6 686.2 356.4 688.9L356.1 691.9Q355.8 694.6 354.4 694.3L352.9 694Q351.6 693.8 350.8 690.8L349.9 687.5Q349.1 684.5 349.6 681.9L350.2 678.8Q350.8 676.1 349.1 673.5Z" fill="#f37028"/>
<path d="M393.3 666.8Q392.7 665.2 394.9 664.4L397.3 663.5Q399.4 662.7 402 663.3L404.9 663.9Q407.5 664.4 408.2 665.7L409.1 667.2Q409.8 668.5 409.1 669.3L408.2 670.3Q407.5 671.1 404.9 671.6L402 672.3Q399.4 672.8 397.8 672L396 671.1Q394.4 670.3 393.9 668.7Z" fill="#f37028" stroke="none"/>
<path d="M394.9 664.4L397.3 663.5Q399.4 662.7 402 663.3M402 663.3L404.9 663.9M404.9 671.6L402 672.3Q399.4 672.8 397.8 672M397.8 672L396 671.1Q394.4 670.3 393.9 668.7M393.9 668.7L393.3 666.8Q392.7 665.2 394.9 664.4" fill="none"/>
<path d="M300.9 674.9Q298.7 672.8 300.9 671.2L303.3 669.4Q305.4 667.8 308.1 669.9L311.1 672.3Q313.8 674.5 316.2 676.6L319 679Q321.4 681.2 320.6 683.9L319.7 686.9Q318.9 689.6 316.7 689L314.3 688.4Q312.1 687.9 310 685.2L307.6 682.2Q305.4 679.5 303.3 677.4Z" fill="#f37028"/>
<path d="M306.2 675.4Q304.6 672 306.2 672.5L308 673.1Q309.6 673.6 312 676L314.8 678.8Q317.2 681.2 316.6 682.8L316 684.6Q315.5 686.2 313.6 685.1L311.5 683.9Q309.6 682.9 308 679.4Z" fill="#a3161b"/>
<path d="M290.5 691Q291.5 689.6 293.8 690.7L296.4 691.9Q298.7 692.9 300.9 695.1L303.3 697.5Q305.4 699.6 307.6 698.6L310 697.4Q312.1 696.3 314.3 694.1L316.7 691.7Q318.9 689.6 319.1 692.3L319.4 695.3Q319.7 698 318.4 700.1L316.8 702.5Q315.5 704.7 316 707.2L316.6 710Q317.2 712.5 315.1 713.5L312.7 714.7Q310.6 715.7 307.9 714.7L304.8 713.5Q302.1 712.5 299.9 709.5L297.5 706Q295.4 703 294.1 702.2L292.7 701.3Q291.5 700.5 290.5 698.4L289.3 696.1Q288.3 694.1 289.3 692.6Z" fill="#f37028" stroke="none"/>
<path d="M293.8 690.7L296.4 691.9Q298.7 692.9 300.9 695.1M300.9 695.1L303.3 697.5Q305.4 699.6 307.6 698.6M307.6 698.6L310 697.4Q312.1 696.3 314.3 694.1M314.3 694.1L316.7 691.7Q318.9 689.6 319.1 692.3M319.1 692.3L319.4 695.3Q319.7 698 318.4 700.1M318.4 700.1L316.8 702.5Q315.5 704.7 316 707.2M316 707.2L316.6 710M299.9 709.5L297.5 706Q295.4 703 294.1 702.2M294.1 702.2L292.7 701.3" fill="none"/>
<path d="M290.6 668Q291.5 666.9 292.7 667.2L294.1 667.5Q295.4 667.8 295.4 670.2L295.4 672.9Q295.4 675.3 294.1 675.3L292.7 675.3Q291.5 675.3 290.6 673.7L289.5 671.9Q288.6 670.2 289.5 669.2Z" fill="#f37028" stroke="none"/>
<path d="M292.7 667.2L294.1 667.5Q295.4 667.8 295.4 670.2M295.4 670.2L295.4 672.9Q295.4 675.3 294.1 675.3M294.1 675.3L292.7 675.3" fill="none"/>
<path d="M374.2 696.2Q372.6 692.9 374.2 692.7L376 692.4Q377.6 692.1 380.3 694L383.3 696.1Q386 698 388.2 700.1L390.6 702.5Q392.7 704.7 394.9 707.2L397.3 710Q399.4 712.5 396.5 713.5L393.2 714.7Q390.3 715.7 386.8 714.7L382.8 713.5Q379.3 712.5 378.8 709.5L378.2 706Q377.6 703 376 699.8Z" fill="#f37028" stroke="none"/>
<path d="M374.2 692.7L376 692.4Q377.6 692.1 380.3 694M380.3 694L383.3 696.1Q386 698 388.2 700.1M388.2 700.1L390.6 702.5Q392.7 704.7 394.9 707.2M394.9 707.2L397.3 710M378.8 709.5L378.2 706Q377.6 703 376 699.8M376 699.8L374.2 696.2Q372.6 692.9 374.2 692.7" fill="none"/>
<path d="M381.2 702.6Q379.3 698 380.6 698.5L382.1 699.1Q383.5 699.6 385.9 702.3L388.6 705.4Q391 708 391.6 709.5L392.2 711.1Q392.7 712.5 391.8 713.3L390.7 714.3Q389.7 715.1 388.3 714.3L386.6 713.3Q385.2 712.5 383.3 707.8Z" fill="#ee3030" stroke="none"/>
<path d="M380.6 698.5L382.1 699.1Q383.5 699.6 385.9 702.3M385.9 702.3L388.6 705.4Q391 708 391.6 709.5M391.6 709.5L392.2 711.1M383.3 707.8L381.2 702.6Q379.3 698 380.6 698.5" fill="none"/>
<path d="M403.1 680.4Q402.8 676.1 404.3 675.6L406 675Q407.5 674.5 408.5 678L409.7 682Q410.7 685.5 409.7 688.4L408.5 691.7Q407.5 694.6 406.3 693L404.9 691.2Q403.6 689.6 403.4 685.3Z" fill="#f37028" stroke="none"/>
<path d="M404.3 675.6L406 675M406.3 693L404.9 691.2Q403.6 689.6 403.4 685.3M403.4 685.3L403.1 680.4Q402.8 676.1 404.3 675.6" fill="none"/>
<path d="M405.4 687.2Q404.5 684.5 405.4 684.5L406.5 684.5Q407.5 684.5 408.4 686.2L409.5 688Q410.4 689.6 409.5 690.7L408.4 691.9Q407.5 692.9 406.5 690.2Z" fill="#ee3030" stroke="none"/>
<path d="M405.4 684.5L406.5 684.5M406.5 690.2L405.4 687.2Q404.5 684.5 405.4 684.5" fill="none"/>
<path d="M331.1 673.9Q330.6 672.8 331.7 672.4L332.9 671.9Q334 671.4 334.6 672.7L335.3 674.1Q336 675.3 334.8 675.6L333.5 675.9Q332.3 676.1 331.8 675.1Z" fill="#f37028"/>
<path d="M362.5 708.6Q362.5 706.7 365.7 706.6L369.4 706.5Q372.6 706.4 372.6 708.3L372.6 710.5Q372.6 712.5 371.3 713.5L369.8 714.7Q368.5 715.7 366.6 714.7L364.4 713.5Q362.5 712.5 362.5 710.6Z" fill="#f37028" stroke="none"/>
<path d="M365.7 706.6L369.4 706.5Q372.6 706.4 372.6 708.3M372.6 708.3L372.6 710.5M362.5 710.6L362.5 708.6Q362.5 706.7 365.7 706.6" fill="none"/>
<path d="M294.9 616.3Q291.5 615.7 293.8 614.4L296.4 612.9Q298.7 611.5 301.9 612.3L305.6 613.2Q308.8 614 306.6 615.1L304.2 616.3Q302.1 617.4 298.7 616.9Z" fill="#5eb95c"/>
<path d="M320.5 616.2Q318.9 614 320.5 612.7L322.3 611.2Q323.9 609.8 325.2 611.5L326.7 613.3Q328.1 614.9 326.7 616.8L325.2 618.9Q323.9 620.8 322.3 618.6Z" fill="#5eb95c"/>
<path d="M336.2 613.4Q336.5 610.7 338.9 610L341.6 609.2Q344 608.5 345.9 611.3L348 614.5Q349.9 617.4 349.1 620.6L348.2 624.2Q347.4 627.5 345.2 626.9L342.8 626.3Q340.7 625.8 339.1 623.6L337.3 621.2Q335.6 619.1 335.9 616.4Z" fill="#5eb95c"/>
<path d="M319.7 628.2Q318.9 626.6 320.5 625.8L322.3 624.9Q323.9 624.1 327.1 626L330.7 628.1Q334 630 334.5 631.6L335.1 633.4Q335.6 635 333.2 635.3L330.5 635.6Q328.1 635.9 325.9 634.5L323.5 633Q321.4 631.7 320.6 630.1Z" fill="#5eb95c"/>
<path d="M290.5 643.9Q291.5 640.1 293.8 641.9L296.4 644.1Q298.7 645.9 301.4 648.1L304.4 650.5Q307.1 652.6 307.9 654.8L308.8 657.2Q309.6 659.4 307.7 661L305.6 662.8Q303.8 664.4 301.6 666L299.2 667.8Q297 669.4 295.3 668.4L293.3 667.2Q291.5 666.1 290.5 661.6L289.3 656.6Q288.3 652.1 289.3 648.2Z" fill="#5eb95c" stroke="none"/>
<path d="M293.8 641.9L296.4 644.1Q298.7 645.9 301.4 648.1M301.4 648.1L304.4 650.5Q307.1 652.6 307.9 654.8M307.9 654.8L308.8 657.2Q309.6 659.4 307.7 661M307.7 661L305.6 662.8Q303.8 664.4 301.6 666M301.6 666L299.2 667.8Q297 669.4 295.3 668.4M295.3 668.4L293.3 667.2" fill="none"/>
<path d="M348.2 638.6Q347.4 637.5 350.1 637.3L353.1 637Q355.8 636.7 360.6 637L366.1 637.3Q370.9 637.5 369.3 639.7L367.5 642.1Q365.9 644.3 366.9 646.9L368.1 650Q369.2 652.6 371.4 654.8L373.8 657.2Q375.9 659.4 374.9 660.4L373.7 661.6Q372.6 662.7 370.4 660.6L368 658.2Q365.9 656 363.7 654.4L361.3 652.6Q359.1 651 356.5 651.2L353.4 651.5Q350.8 651.8 348.1 651.3L345 650.7Q342.4 650.1 341.3 649.1L340.1 647.8Q339 646.8 341.7 646.2L344.7 645.6Q347.4 645.1 348.2 643.7L349.1 642.2Q349.9 640.9 349.1 639.8Z" fill="#5eb95c"/>
<path d="M386.2 643.3Q385.2 641.7 387.6 640.1L390.3 638.3Q392.7 636.7 395.4 637L398.4 637.3Q401.1 637.5 402.7 639.1L404.5 641Q406.2 642.6 405.3 645.3L404.4 648.3Q403.6 651 403.4 653.7L403.1 656.7Q402.8 659.4 400.6 659.4L398.2 659.4Q396.1 659.4 395 656.9L393.8 654.2Q392.7 651.8 391.4 650.2L389.9 648.4Q388.5 646.8 387.5 645.2Z" fill="#5eb95c"/>
<path d="M318.8 667.7Q318 666.1 319.6 663.9L321.4 661.5Q323.1 659.4 326 660.4L329.3 661.6Q332.3 662.7 335 664.3L338 666.1Q340.7 667.8 342 669.6L343.5 671.7Q344.9 673.6 344.1 675L343.2 676.5Q342.4 677.8 340.2 676.2L337.8 674.4Q335.6 672.8 333.5 671.7L331.1 670.5Q328.9 669.4 327.6 671.6L326.1 674Q324.7 676.1 323.4 674.5L321.9 672.7Q320.5 671.1 319.7 669.5Z" fill="#5eb95c"/>
<path d="M382.1 677.8Q382.6 676.1 384.5 673.7L386.6 671Q388.5 668.6 390.9 669.9L393.7 671.4Q396.1 672.8 397.7 674.4L399.5 676.2Q401.1 677.8 401.7 681L402.3 684.7Q402.8 687.9 404.3 690.6L406 693.6Q407.5 696.3 408.2 697.6L409.1 699.1Q409.8 700.4 409.1 701.2L408.2 702.2Q407.5 703 404.9 701.9L402 700.7Q399.4 699.6 396.8 698L393.7 696.2Q391 694.6 388.9 692.5L386.5 690Q384.3 687.9 383.3 685.8L382 683.3Q381 681.2 381.5 679.6Z" fill="#5eb95c" stroke="none"/>
<path d="M384.5 673.7L386.6 671Q388.5 668.6 390.9 669.9M390.9 669.9L393.7 671.4Q396.1 672.8 397.7 674.4M397.7 674.4L399.5 676.2Q401.1 677.8 401.7 681M401.7 681L402.3 684.7Q402.8 687.9 404.3 690.6M404.3 690.6L406 693.6M404.9 701.9L402 700.7Q399.4 699.6 396.8 698M396.8 698L393.7 696.2Q391 694.6 388.9 692.5M388.9 692.5L386.5 690Q384.3 687.9 383.3 685.8M383.3 685.8L382 683.3Q381 681.2 381.5 679.6M381.5 679.6L382.1 677.8Q382.6 676.1 384.5 673.7" fill="none"/>
<path d="M290.9 680.1Q291.5 679.5 293.8 679.2L296.4 678.9Q298.7 678.7 301.1 680.5L303.9 682.7Q306.3 684.5 307.1 687L308 689.7Q308.8 692.1 306.6 691L304.2 689.8Q302.1 688.7 299.9 687.4L297.5 685.9Q295.4 684.5 294.1 684.5L292.7 684.5Q291.5 684.5 290.9 683.6L290.3 682.5Q289.7 681.5 290.3 680.9Z" fill="#5eb95c" stroke="none"/>
<path d="M293.8 679.2L296.4 678.9Q298.7 678.7 301.1 680.5M301.1 680.5L303.9 682.7Q306.3 684.5 307.1 687M307.1 687L308 689.7Q308.8 692.1 306.6 691M306.6 691L304.2 689.8Q302.1 688.7 299.9 687.4M299.9 687.4L297.5 685.9Q295.4 684.5 294.1 684.5M294.1 684.5L292.7 684.5" fill="none"/>
<path d="M318.9 700.9Q319.7 698 322.4 695.8L325.4 693.4Q328.1 691.3 330.5 690.7L333.2 690.1Q335.6 689.6 337.8 692.3L340.2 695.3Q342.4 698 344.8 700.1L347.5 702.5Q349.9 704.7 350.2 706.3L350.5 708.1Q350.8 709.7 348.1 710.6L345 711.6Q342.4 712.5 339.4 713.5L336.2 714.7Q333.2 715.7 329.7 714.7L325.7 713.5Q322.2 712.5 320.6 710.8L318.8 708.9Q317.2 707.2 318 704.2Z" fill="#5eb95c" stroke="none"/>
<path d="M322.4 695.8L325.4 693.4Q328.1 691.3 330.5 690.7M330.5 690.7L333.2 690.1Q335.6 689.6 337.8 692.3M337.8 692.3L340.2 695.3Q342.4 698 344.8 700.1M344.8 700.1L347.5 702.5Q349.9 704.7 350.2 706.3M350.2 706.3L350.5 708.1Q350.8 709.7 348.1 710.6M348.1 710.6L345 711.6M320.6 710.8L318.8 708.9Q317.2 707.2 318 704.2M318 704.2L318.9 700.9Q319.7 698 322.4 695.8" fill="none"/>
<path d="M330.3 699.9Q329.8 698 331.7 696.6L333.8 695.1Q335.6 693.8 337.8 695.7L340.2 697.8Q342.4 699.6 340.7 701.8L338.9 704.2Q337.3 706.4 335.4 705.6L333.3 704.7Q331.4 703.8 330.9 702Z" fill="#f0e826"/>
<path d="M332.3 699.6Q331.4 698 332.8 697.2L334.3 696.3Q335.6 695.5 336.5 696.8L337.4 698.3Q338.2 699.6 336.8 700.7L335.3 701.9Q334 703 333.2 701.4Z" fill="#f37028"/>
<path d="M358 698.5Q357.5 697.1 359.1 696.1L360.9 694.8Q362.5 693.8 364.4 695.4L366.5 697.2Q368.4 698.8 367 700.2L365.5 701.7Q364.2 703 362.6 702.5L360.8 701.9Q359.1 701.3 358.6 700Z" fill="#5eb95c"/>
<path d="M359.4 682.3Q359.1 680.8 360.7 680.7L362.3 680.5Q363.8 680.3 364 681.8L364.1 683.4Q364.2 684.9 362.8 685L361.3 685.2Q360 685.4 359.7 683.9Z" fill="#5eb95c"/>
<path d="M359.7 610.5Q359.1 608.5 360 607.7L361 606.9Q361.8 606.1 363.1 606.9L364.6 607.7Q365.9 608.5 365.6 610.7L365.3 613.2Q365 615.4 363.7 615.2L362.2 615Q360.8 614.9 360.3 612.8Z" fill="#5eb95c" stroke="none"/>
<path d="M365.6 610.7L365.3 613.2Q365 615.4 363.7 615.2M363.7 615.2L362.2 615Q360.8 614.9 360.3 612.8M360.3 612.8L359.7 610.5" fill="none"/>
<path d="M388.8 611.7Q387.7 609.8 389.8 609.4L392.3 608.9Q394.4 608.5 396 611.3L397.8 614.5Q399.4 617.4 398.4 618.5L397.2 619.7Q396.1 620.8 394.5 619.1L392.7 617.3Q391 615.7 390 613.8Z" fill="#5eb95c"/>
<path d="M412 610.3Q410.4 608.5 412.5 608.9L414.9 609.4Q417.1 609.8 419.8 611.7L422.8 613.8Q425.5 615.7 424.4 616.5L423.2 617.4Q422.1 618.2 420 616.9L417.5 615.4Q415.4 614 413.8 612.3Z" fill="#f37028"/>
<path d="M405.5 622.7Q406.5 620.8 408.3 621.8L410.3 623Q412 624.1 412.6 626.3L413.2 628.7Q413.7 630.8 412.6 632.4L411.4 634.2Q410.4 635.9 409.1 635.6L407.7 635.3Q406.5 635 405.5 632.4L404.3 629.5Q403.3 626.9 404.3 624.9Z" fill="#f37028" stroke="none"/>
<path d="M408.3 621.8L410.3 623Q412 624.1 412.6 626.3M412.6 626.3L413.2 628.7Q413.7 630.8 412.6 632.4M412.6 632.4L411.4 634.2Q410.4 635.9 409.1 635.6M409.1 635.6L407.7 635.3" fill="none"/>
<path d="M458.4 622.9Q456.5 621.6 457.6 619.7L458.8 617.6Q459.9 615.7 459.3 613.4L458.7 610.8Q458.2 608.5 460.4 607.5L463 606.3Q465.2 605.3 468.1 606.3L471.3 607.5Q474.1 608.5 476.3 611.9L478.7 615.7Q480.9 619.1 480.3 621.2L479.7 623.6Q479.2 625.8 476.5 626.9L473.5 628.1Q470.8 629.1 468.1 628.1L465.1 626.9Q462.4 625.8 460.5 624.4Z" fill="#f37028" stroke="none"/>
<path d="M457.6 619.7L458.8 617.6Q459.9 615.7 459.3 613.4M459.3 613.4L458.7 610.8M476.3 611.9L478.7 615.7Q480.9 619.1 480.3 621.2M480.3 621.2L479.7 623.6Q479.2 625.8 476.5 626.9M476.5 626.9L473.5 628.1Q470.8 629.1 468.1 628.1M468.1 628.1L465.1 626.9Q462.4 625.8 460.5 624.4M460.5 624.4L458.4 622.9Q456.5 621.6 457.6 619.7" fill="none"/>
<path d="M459.6 613.4Q459 610.7 461.7 610.9L464.7 611.2Q467.4 611.5 469.6 613.4L472 615.5Q474.1 617.4 475.8 619L477.6 620.8Q479.2 622.4 477.6 623.8L475.8 625.3Q474.1 626.6 471.5 625.8L468.4 624.9Q465.8 624.1 464.1 622.5L462.3 620.7Q460.7 619.1 460.2 616.4Z" fill="#a3161b"/>
<path d="M463.5 615.6Q463.2 614 464.8 614.3L466.7 614.6Q468.3 614.9 469.3 616.8L470.6 618.9Q471.6 620.8 470.3 621.6L468.8 622.5Q467.4 623.3 466.4 621.9L465.2 620.4Q464.1 619.1 463.8 617.5Z" fill="#5f6364"/>
<path d="M482.5 620.6Q480.9 617.4 483 615.8L485.4 614Q487.6 612.4 489.7 611.1L492.1 609.7Q494.3 608.5 497.5 610.8L501.1 613.4Q504.4 615.7 506.2 618.4L508.4 621.4Q510.2 624.1 509.4 625.7L508.5 627.5Q507.7 629.1 505 628.1L502 626.9Q499.3 625.8 497.2 627.4L494.8 629.2Q492.6 630.8 490.5 629.7L488 628.5Q485.9 627.5 484.3 624.2Z" fill="#f37028"/>
<path d="M493.7 615.9Q492.6 614 494.2 614.6L496 615.2Q497.6 615.7 500.1 618.1L502.8 620.9Q505.2 623.3 504.4 624.1L503.5 625Q502.7 625.8 500.5 623.9L498.1 621.8Q496 619.9 494.9 618Z" fill="#ee3030"/>
<path d="M434.9 639.7Q434.7 638.7 436.2 638.6L437.9 638.5Q439.4 638.4 439.5 639.3L439.6 640.4Q439.7 641.4 438.3 641.5L436.7 641.6Q435.2 641.7 435 640.8Z" fill="#f37028"/>
<path d="M461.8 639.1Q460.7 637.5 463.4 637.3L466.4 637Q469.1 636.7 471.8 637.8L474.8 639Q477.5 640.1 480.2 641.9L483.2 644.1Q485.9 645.9 489.1 646.2L492.7 646.5Q496 646.8 494.9 648.7L493.7 650.8Q492.6 652.6 491.5 654.8L490.3 657.2Q489.3 659.4 487.1 660.4L484.7 661.6Q482.5 662.7 479.9 661.6L476.8 660.4Q474.1 659.4 472.5 656.7L470.7 653.7Q469.1 651 467.5 648.3L465.7 645.3Q464.1 642.6 463 641Z" fill="#f37028"/>
<path d="M466.8 641.7Q465.8 640.1 467.9 640.3L470.3 640.6Q472.5 640.9 475.2 643L478.2 645.5Q480.9 647.6 483 649.8L485.4 652.2Q487.6 654.3 487 655.9L486.4 657.7Q485.9 659.4 483.8 659.1L481.3 658.8Q479.2 658.5 477.3 656.1L475.2 653.4Q473.3 651 472 649.1L470.5 647Q469.1 645.1 468 643.5Z" fill="#ee3030"/>
<path d="M455.6 657Q453.2 656 456.1 655.5L459.4 654.9Q462.4 654.3 464.5 655.1L467 656Q469.1 656.8 466.4 657.5L463.4 658.3Q460.7 659 458.3 658.1Z" fill="#f37028"/>
<path d="M424.3 655.9Q423.8 654.3 425.9 653.8L428.4 653.2Q430.5 652.6 433.7 654L437.4 655.5Q440.6 656.8 442.5 659.3L444.6 662Q446.4 664.4 447.3 665.5L448.2 666.7Q449 667.8 446.8 666.7L444.4 665.5Q442.3 664.4 439.6 662.8L436.5 661Q433.9 659.4 431.2 659.4L428.2 659.4Q425.5 659.4 424.9 657.7Z" fill="#f37028"/>
<path d="M405.5 652.6Q406.5 650.1 408.5 651.5L410.8 653Q412.9 654.3 413.7 657L414.6 660Q415.4 662.7 414.3 664.3L413.1 666.1Q412 667.8 410.3 667.8L408.3 667.8Q406.5 667.8 405.5 664.6L404.3 661.1Q403.3 658 404.3 655.5Z" fill="#f37028" stroke="none"/>
<path d="M408.5 651.5L410.8 653Q412.9 654.3 413.7 657M413.7 657L414.6 660Q415.4 662.7 414.3 664.3M414.3 664.3L413.1 666.1Q412 667.8 410.3 667.8M410.3 667.8L408.3 667.8" fill="none"/>
<path d="M405.5 656.5Q406.5 655.2 407.7 655.7L409.1 656.3Q410.4 656.8 410.4 659.3L410.4 662Q410.4 664.4 409.1 664.7L407.7 665Q406.5 665.2 405.5 663.3L404.3 661.2Q403.3 659.2 404.3 657.9Z" fill="#ee3030" stroke="none"/>
<path d="M407.7 655.7L409.1 656.3Q410.4 656.8 410.4 659.3M410.4 659.3L410.4 662Q410.4 664.4 409.1 664.7M409.1 664.7L407.7 665" fill="none"/>
<path d="M461.5 673Q460.7 672 462.3 671.1L464.1 670.2Q465.8 669.4 467.9 671.6L470.3 674Q472.5 676.1 474.9 679.1L477.6 682.4Q480 685.4 478.1 685.6L476 686Q474.1 686.2 472 684.1L469.6 681.7Q467.4 679.5 466.1 678.2L464.6 676.7Q463.2 675.3 462.4 674.2Z" fill="#f37028"/>
<path d="M501.5 661.5Q501 659.4 503.2 657.7L505.6 655.9Q507.7 654.3 510.4 655.4L513.4 656.6Q516.1 657.7 515.6 659.8L515 662.2Q514.4 664.4 512.3 664.9L509.9 665.5Q507.7 666.1 508.8 668.2L510 670.6Q511.1 672.8 513.2 672.3L515.6 671.6Q517.8 671.1 519.3 671.6L521 672.3Q522.5 672.8 523.5 676.3L524.7 680.3Q525.7 683.8 524.7 686.7L523.5 690Q522.5 692.9 519.9 693.5L517 694.1Q514.4 694.6 513.4 691.9L512.2 688.9Q511.1 686.2 510 684.1L508.8 681.7Q507.7 679.5 506.1 680.6L504.3 681.8Q502.7 682.9 501.3 681.8L499.8 680.6Q498.5 679.5 499 677.4L499.6 674.9Q500.2 672.8 498.3 673.1L496.2 673.4Q494.3 673.6 491.6 673.4L488.6 673.1Q485.9 672.8 489.1 672.3L492.7 671.6Q496 671.1 498.1 669.5L500.5 667.7Q502.7 666.1 502.1 663.9Z" fill="#f37028" stroke="none"/>
<path d="M503.2 657.7L505.6 655.9Q507.7 654.3 510.4 655.4M510.4 655.4L513.4 656.6Q516.1 657.7 515.6 659.8M515.6 659.8L515 662.2Q514.4 664.4 512.3 664.9M512.3 664.9L509.9 665.5Q507.7 666.1 508.8 668.2M508.8 668.2L510 670.6Q511.1 672.8 513.2 672.3M513.2 672.3L515.6 671.6Q517.8 671.1 519.3 671.6M519.3 671.6L521 672.3M519.9 693.5L517 694.1Q514.4 694.6 513.4 691.9M513.4 691.9L512.2 688.9Q511.1 686.2 510 684.1M510 684.1L508.8 681.7Q507.7 679.5 506.1 680.6M506.1 680.6L504.3 681.8Q502.7 682.9 501.3 681.8M501.3 681.8L499.8 680.6Q498.5 679.5 499 677.4M499 677.4L499.6 674.9Q500.2 672.8 498.3 673.1M498.3 673.1L496.2 673.4Q494.3 673.6 491.6 673.4M491.6 673.4L488.6 673.1Q485.9 672.8 489.1 672.3M489.1 672.3L492.7 671.6Q496 671.1 498.1 669.5M498.1 669.5L500.5 667.7Q502.7 666.1 502.1 663.9M502.1 663.9L501.5 661.5Q501 659.4 503.2 657.7" fill="none"/>
<path d="M501 678.8Q500.2 676.1 501.5 675.9L503 675.6Q504.4 675.3 505.4 678.3L506.6 681.6Q507.7 684.5 506.1 684.5L504.3 684.5Q502.7 684.5 501.9 681.9Z" fill="#ee3030"/>
<path d="M405.5 681.2Q406.5 678.7 409.9 678.9L413.7 679.2Q417.1 679.5 419.8 680.8L422.8 682.4Q425.5 683.7 427.6 686.1L430 688.8Q432.2 691.3 433 692.9L433.9 694.7Q434.7 696.3 432.3 696.3L429.6 696.3Q427.1 696.3 423.9 696.6L420.3 696.9Q417.1 697.1 413.7 696.9L409.9 696.6Q406.5 696.3 405.5 693.2L404.3 689.6Q403.3 686.5 404.3 684Z" fill="#f37028" stroke="none"/>
<path d="M409.9 678.9L413.7 679.2Q417.1 679.5 419.8 680.8M419.8 680.8L422.8 682.4Q425.5 683.7 427.6 686.1M427.6 686.1L430 688.8Q432.2 691.3 433 692.9M433 692.9L433.9 694.7Q434.7 696.3 432.3 696.3M432.3 696.3L429.6 696.3Q427.1 696.3 423.9 696.6M423.9 696.6L420.3 696.9Q417.1 697.1 413.7 696.9M413.7 696.9L409.9 696.6" fill="none"/>
<path d="M405.5 682.8Q406.5 681.2 409.3 681.2L412.5 681.2Q415.4 681.2 418.1 682.5L421.1 684Q423.8 685.4 425.4 687.8L427.2 690.5Q428.8 692.9 426.1 693.5L423.1 694.1Q420.4 694.6 417.7 694.3L414.7 694Q412 693.8 410.3 693.5L408.3 693.2Q406.5 692.9 405.5 690.7L404.3 688.3Q403.3 686.1 404.3 684.5Z" fill="#ee3030" stroke="none"/>
<path d="M409.3 681.2L412.5 681.2Q415.4 681.2 418.1 682.5M418.1 682.5L421.1 684Q423.8 685.4 425.4 687.8M425.4 687.8L427.2 690.5Q428.8 692.9 426.1 693.5M426.1 693.5L423.1 694.1Q420.4 694.6 417.7 694.3M417.7 694.3L414.7 694Q412 693.8 410.3 693.5M410.3 693.5L408.3 693.2" fill="none"/>
<path d="M405.8 687Q406.5 686.2 408.3 686.5L410.3 686.8Q412 687.1 412.6 688.4L413.2 689.9Q413.7 691.3 411.4 691.5L408.8 691.8Q406.5 692.1 405.8 691L405.1 689.7Q404.4 688.5 405.1 687.8Z" fill="#5f6364" stroke="none"/>
<path d="M408.3 686.5L410.3 686.8Q412 687.1 412.6 688.4M412.6 688.4L413.2 689.9Q413.7 691.3 411.4 691.5M411.4 691.5L408.8 691.8" fill="none"/>
<path d="M434.7 699Q433.9 696.3 436 696.8L438.4 697.4Q440.6 698 443.3 699.6L446.3 701.4Q449 703 451.7 706L454.7 709.5Q457.4 712.5 455 713.5L452.3 714.7Q449.9 715.7 446.9 714.7L443.6 713.5Q440.6 712.5 439.2 710L437.7 707.2Q436.4 704.7 435.6 702Z" fill="#f37028" stroke="none"/>
<path d="M436 696.8L438.4 697.4Q440.6 698 443.3 699.6M443.3 699.6L446.3 701.4Q449 703 451.7 706M451.7 706L454.7 709.5M439.2 710L437.7 707.2Q436.4 704.7 435.6 702M435.6 702L434.7 699Q433.9 696.3 436 696.8" fill="none"/>
<path d="M424.9 707.8Q423.8 705.5 426.5 705L429.5 704.4Q432.2 703.8 433.3 706.6L434.5 709.7Q435.5 712.5 434.5 713.4L433.3 714.5Q432.2 715.4 430.6 714.5L428.8 713.4Q427.1 712.5 426.1 710.3Z" fill="#f37028" stroke="none"/>
<path d="M426.5 705L429.5 704.4Q432.2 703.8 433.3 706.6M433.3 706.6L434.5 709.7M426.1 710.3L424.9 707.8Q423.8 705.5 426.5 705" fill="none"/>
<path d="M458.4 707.2Q457.4 704.7 459.5 703.5L461.9 702.2Q464.1 701 467.3 701.6L470.9 702.4Q474.1 703 476.3 706L478.7 709.5Q480.9 712.5 477.9 713.5L474.7 714.7Q471.8 715.7 468.2 714.7L464.2 713.5Q460.7 712.5 459.6 710Z" fill="#f37028" stroke="none"/>
<path d="M459.5 703.5L461.9 702.2Q464.1 701 467.3 701.6M467.3 701.6L470.9 702.4Q474.1 703 476.3 706M476.3 706L478.7 709.5M459.6 710L458.4 707.2Q457.4 704.7 459.5 703.5" fill="none"/>
<path d="M462.7 706.6Q462.4 705.5 464.5 705.5L467 705.5Q469.1 705.5 469.4 706.6L469.7 707.8Q470 708.9 467.8 708.9L465.4 708.9Q463.2 708.9 463 707.8Z" fill="#ee3030"/>
<path d="M454.5 690.7Q454 689.6 457.8 689.5L462 689.3Q465.8 689.2 466 690.3L466.3 691.5Q466.6 692.6 463.1 692.7L459.2 692.8Q455.7 692.9 455.1 691.9Z" fill="#f37028"/>
<path d="M488.7 696.8Q487.6 694.6 490.8 694.1L494.4 693.5Q497.6 692.9 500.9 694L504.5 695.2Q507.7 696.3 508.8 698.4L510 700.9Q511.1 703 507.9 703.5L504.2 704.1Q501 704.7 497.8 703.6L494.2 702.4Q490.9 701.3 489.9 699.2Z" fill="#f37028"/>
<path d="M492 698.2Q491.8 697.1 496.1 697.3L500.9 697.5Q505.2 697.6 505.5 698.5L505.8 699.6Q506 700.5 501.7 700.5L496.9 700.5Q492.6 700.5 492.3 699.4Z" fill="#a3161b"/>
<path d="M518.8 639Q518.6 637.5 519.9 637.5L521.3 637.5Q522.5 637.5 523.1 638.5L523.7 639.6Q524.3 640.6 523.7 641.2L523.1 641.9Q522.5 642.6 521.4 642.5L520.2 642.3Q519.1 642.2 519 640.7Z" fill="#f37028" stroke="none"/>
<path d="M519.9 637.5L521.3 637.5M521.4 642.5L520.2 642.3Q519.1 642.2 519 640.7M519 640.7L518.8 639Q518.6 637.5 519.9 637.5" fill="none"/>
<path d="M440.8 610Q439.7 608.5 442.1 607.5L444.8 606.3Q447.2 605.3 450.2 606.3L453.5 607.5Q456.5 608.5 456.8 610.8L457.1 613.4Q457.4 615.7 454.7 616.3L451.7 616.9Q449 617.4 447.1 616.1L445 614.5Q443.1 613.2 442 611.7Z" fill="#5eb95c" stroke="none"/>
<path d="M456.8 610.8L457.1 613.4Q457.4 615.7 454.7 616.3M454.7 616.3L451.7 616.9Q449 617.4 447.1 616.1M447.1 616.1L445 614.5Q443.1 613.2 442 611.7M442 611.7L440.8 610" fill="none"/>
<path d="M500.4 632.1Q498.5 630 500.4 629.4L502.5 628.8Q504.4 628.3 506 630.2L507.8 632.3Q509.4 634.2 507.8 635L506 635.9Q504.4 636.7 502.5 634.5Z" fill="#5eb95c"/>
<path d="M454.8 632.7Q454 630.8 457.2 630.6L460.9 630.3Q464.1 630 464.3 631.3L464.6 632.8Q464.9 634.2 462.2 635L459.2 635.9Q456.5 636.7 455.7 634.8Z" fill="#5eb95c"/>
<path d="M456.2 645.6Q455.7 644.3 457.3 643.2L459.1 642Q460.7 640.9 462.9 642.5L465.3 644.3Q467.4 645.9 468.2 647.5L469.1 649.4Q470 651 467.5 651.2L464.8 651.5Q462.4 651.8 460.8 650.7L459 649.5Q457.4 648.4 456.8 647.1Z" fill="#5eb95c"/>
<path d="M487 638.6Q485.9 636.7 488 635.9L490.5 635Q492.6 634.2 495.3 636.3L498.3 638.7Q501 640.9 503.2 643L505.6 645.5Q507.7 647.6 510.4 648.1L513.4 648.8Q516.1 649.3 518.2 650.9L520.5 652.7Q522.5 654.3 523 655.1L523.5 656.1Q524 656.9 523.5 657.4L523 658Q522.5 658.5 519.9 657.7L517 656.8Q514.4 656 511.8 655.2L508.7 654.3Q506 653.5 503.6 654.3L500.9 655.2Q498.5 656 497.7 653.9L496.8 651.4Q496 649.3 493.8 647.1L491.4 644.7Q489.3 642.6 488.2 640.7Z" fill="#5eb95c" stroke="none"/>
<path d="M488 635.9L490.5 635Q492.6 634.2 495.3 636.3M495.3 636.3L498.3 638.7Q501 640.9 503.2 643M503.2 643L505.6 645.5Q507.7 647.6 510.4 648.1M510.4 648.1L513.4 648.8Q516.1 649.3 518.2 650.9M518.2 650.9L520.5 652.7M519.9 657.7L517 656.8Q514.4 656 511.8 655.2M511.8 655.2L508.7 654.3Q506 653.5 503.6 654.3M503.6 654.3L500.9 655.2Q498.5 656 497.7 653.9M497.7 653.9L496.8 651.4Q496 649.3 493.8 647.1M493.8 647.1L491.4 644.7Q489.3 642.6 488.2 640.7M488.2 640.7L487 638.6Q485.9 636.7 488 635.9" fill="none"/>
<path d="M471.6 666.3Q470 665.2 471.3 664.2L472.8 663Q474.1 661.9 475.8 663.2L477.6 664.7Q479.2 666.1 477.8 666.9L476.3 667.8Q475 668.6 473.4 667.5Z" fill="#5eb95c"/>
<path d="M487.5 667.2Q486.7 666.1 488.6 663.7L490.7 660.9Q492.6 658.5 494.2 660.7L496 663.1Q497.6 665.2 496.6 666.6L495.4 668.1Q494.3 669.4 492.7 669.4L490.9 669.4Q489.3 669.4 488.5 668.4Z" fill="#5eb95c"/>
<path d="M508.3 665.7Q507.7 664.4 509.9 663.6L512.3 662.7Q514.4 661.9 517 662.7L519.9 663.6Q522.5 664.4 523.2 665.5L523.9 666.8Q524.6 668 523.9 668.7L523.2 669.5Q522.5 670.3 519.9 670.5L517 670.8Q514.4 671.1 512.8 670.3L511 669.4Q509.4 668.6 508.9 667.3Z" fill="#5eb95c" stroke="none"/>
<path d="M509.9 663.6L512.3 662.7Q514.4 661.9 517 662.7M517 662.7L519.9 663.6M519.9 670.5L517 670.8Q514.4 671.1 512.8 670.3M512.8 670.3L511 669.4Q509.4 668.6 508.9 667.3M508.9 667.3L508.3 665.7Q507.7 664.4 509.9 663.6" fill="none"/>
<path d="M405.6 671.3Q406.5 670.3 409.9 668.9L413.7 667.4Q417.1 666.1 419.2 668.2L421.6 670.6Q423.8 672.8 425.4 675.2L427.2 677.9Q428.8 680.3 426.7 680.1L424.3 679.8Q422.1 679.5 419.4 679L416.4 678.4Q413.7 677.8 411.4 678.1L408.8 678.4Q406.5 678.7 405.6 677L404.5 675.2Q403.6 673.6 404.5 672.5Z" fill="#5eb95c" stroke="none"/>
<path d="M409.9 668.9L413.7 667.4Q417.1 666.1 419.2 668.2M419.2 668.2L421.6 670.6Q423.8 672.8 425.4 675.2M425.4 675.2L427.2 677.9Q428.8 680.3 426.7 680.1M426.7 680.1L424.3 679.8Q422.1 679.5 419.4 679M419.4 679L416.4 678.4Q413.7 677.8 411.4 678.1M411.4 678.1L408.8 678.4" fill="none"/>
<path d="M435.5 690.4Q433.9 689.6 436 688L438.4 686.2Q440.6 684.5 442.2 681.9L444 678.8Q445.6 676.1 447.8 675.9L450.2 675.6Q452.3 675.3 455 676.7L458 678.2Q460.7 679.5 459.6 681.4L458.4 683.5Q457.4 685.4 455.7 686.2L453.9 687.1Q452.3 687.9 452.3 690.6L452.3 693.6Q452.3 696.3 450.2 695.2L447.8 694Q445.6 692.9 443.5 692.7L441 692.4Q438.9 692.1 437.3 691.3Z" fill="#5eb95c"/>
<path d="M477.5 678.6Q476.7 677 478.5 676.5L480.7 675.8Q482.5 675.3 485.8 676.7L489.4 678.2Q492.6 679.5 495 681.7L497.8 684.1Q500.2 686.2 501.5 687.8L503 689.6Q504.4 691.3 503.3 692.3L502.1 693.5Q501 694.6 497.8 694.1L494.2 693.5Q490.9 692.9 488.8 691.3L486.4 689.5Q484.2 687.9 482.6 686L480.8 683.9Q479.2 682 478.4 680.4Z" fill="#5eb95c"/>
<path d="M476.3 699Q474.1 697.1 476.3 696.1L478.7 694.8Q480.9 693.8 483 695.1L485.4 696.6Q487.6 698 487.8 699.9L488.1 702Q488.4 703.8 486 703.6L483.3 703.3Q480.9 703 478.7 701.1Z" fill="#5eb95c"/>
<path d="M499.3 708.9Q498.5 707.2 501.4 706.7L504.8 706.1Q507.7 705.5 512.4 705.8L517.8 706.1Q522.5 706.4 523.1 707.5L523.8 708.7Q524.5 709.8 523.8 710.6L523.1 711.6Q522.5 712.5 519.3 713.5L515.7 714.7Q512.5 715.7 508.8 714.7L504.7 713.5Q501 712.5 500.2 710.8Z" fill="#5eb95c" stroke="none"/>
<path d="M501.4 706.7L504.8 706.1Q507.7 705.5 512.4 705.8M512.4 705.8L517.8 706.1M500.2 710.8L499.3 708.9Q498.5 707.2 501.4 706.7" fill="none"/>
<path d="M405.5 702.7Q406.5 701.3 408.8 701.6L411.4 701.9Q413.7 702.2 415.6 705.5L417.7 709.2Q419.6 712.5 417.9 713.5L416 714.7Q414.3 715.7 411.8 714.7L409 713.5Q406.5 712.5 405.5 710.3L404.3 707.9Q403.3 705.7 404.3 704.3Z" fill="#5eb95c" stroke="none"/>
<path d="M408.8 701.6L411.4 701.9Q413.7 702.2 415.6 705.5M415.6 705.5L417.7 709.2" fill="none"/>
<path d="M423.2 698.7Q422.9 697.5 425 697.4L427.3 697.2Q429.3 697.1 429.4 698.4L429.6 699.8Q429.7 701 427.8 701.1L425.7 701.2Q423.8 701.3 423.5 700.1Z" fill="#5eb95c"/>
<path d="M68.1 712.5Q67 711.5 68.5 710.5L70.1 709.3Q71.5 708.3 73.6 709.3L75.9 710.5Q77.9 711.5 77.7 712.6L77.4 713.9Q77.1 715 75 714.9L72.5 714.7Q70.4 714.5 69.3 713.6Z" fill="#a3161b" stroke="none"/>
<path d="M77.7 712.6L77.4 713.9Q77.1 715 75 714.9M75 714.9L72.5 714.7Q70.4 714.5 69.3 713.6M69.3 713.6L68.1 712.5" fill="none"/>
<path d="M72.3 730.4Q70.4 728.8 71.5 725.3L72.7 721.4Q73.8 717.9 75.9 717.6L78.3 717.3Q80.5 717 81.3 719.2L82.2 721.6Q83 723.8 82.7 725.9L82.4 728.3Q82.1 730.5 83.8 733.2L85.6 736.2Q87.2 738.9 89.9 736.2L92.9 733.2Q95.6 730.5 97.7 730.5L100.1 730.5Q102.3 730.5 105 732.6L108 735Q110.7 737.2 112.8 738.5L115.2 740Q117.4 741.4 115.2 742.2L112.8 743.1Q110.7 743.9 110.1 745.5L109.5 747.3Q109 748.9 110.1 750.5L111.3 752.4Q112.4 754 110.7 753.4L108.9 752.8Q107.3 752.3 105.7 752.8L103.9 753.4Q102.3 754 101.8 755.8L101.1 758Q100.6 759.8 99 759.6L97.2 759.3Q95.6 759 95 756.9L94.4 754.4Q93.9 752.3 91.7 751.8L89.3 751.1Q87.2 750.6 84.5 750.1L81.5 749.5Q78.8 748.9 77.7 746.8L76.5 744.4Q75.4 742.2 77 741.1L78.9 739.9Q80.5 738.9 79.1 737.2L77.6 735.4Q76.3 733.8 74.4 732.2Z" fill="#f37028"/>
<path d="M63.9 747.5Q63.7 745.6 65.8 744.8L68.2 743.9Q70.4 743.1 73.6 744.1L77.2 745.3Q80.5 746.4 84.2 747.8L88.5 749.3Q92.2 750.6 91.7 751.7L91.1 752.9Q90.5 754 87.3 753.7L83.7 753.4Q80.5 753.1 77.8 753.4L74.8 753.7Q72.1 754 69.7 753.2L66.9 752.3Q64.5 751.4 64.2 749.6Z" fill="#a3161b"/>
<path d="M69 748.9Q68.7 748.1 70.9 748.1L73.3 748.1Q75.4 748.1 75.2 748.9L74.9 749.8Q74.6 750.6 73 750.6L71.2 750.6Q69.6 750.6 69.3 749.8Z" fill="#5f6364"/>
<path d="M102.2 717.5Q99.8 715.4 101.7 714.6L103.8 713.6Q105.6 712.8 108.9 714.5L112.5 716.3Q115.7 717.9 117.6 719.8L119.7 721.9Q121.6 723.8 121.3 725.4L121 727.2Q120.8 728.8 118.6 728.2L116.2 727.6Q114 727.1 111.9 725.5L109.5 723.7Q107.3 722.1 104.9 719.9Z" fill="#f37028"/>
<path d="M130.8 714.3Q129.1 711.5 130.2 710.6L131.4 709.5Q132.5 708.6 134.1 709.5L135.9 710.6Q137.5 711.5 138.1 713.8L138.7 716.4Q139.2 718.7 137.6 719.3L135.8 719.9Q134.2 720.4 132.6 717.5Z" fill="#f37028" stroke="none"/>
<path d="M138.1 713.8L138.7 716.4Q139.2 718.7 137.6 719.3M137.6 719.3L135.8 719.9Q134.2 720.4 132.6 717.5M132.6 717.5L130.8 714.3" fill="none"/>
<path d="M130.8 731.5Q130 729.6 131.9 728.8L134 727.9Q135.9 727.1 137.7 729.5L139.9 732.2Q141.7 734.7 140.4 736L138.9 737.5Q137.5 738.9 135.9 737.8L134.1 736.6Q132.5 735.5 131.7 733.6Z" fill="#f37028"/>
<path d="M150.6 713.5Q149.3 711.5 152.7 710.5L156.6 709.3Q160.1 708.3 164.2 709.3L168.7 710.5Q172.8 711.5 171.7 714.1L170.5 717Q169.4 719.6 166.8 720.1L163.7 720.7Q161 721.2 158.6 720.2L155.9 718.9Q153.5 717.9 152.1 715.8Z" fill="#f37028" stroke="none"/>
<path d="M171.7 714.1L170.5 717Q169.4 719.6 166.8 720.1M166.8 720.1L163.7 720.7Q161 721.2 158.6 720.2M158.6 720.2L155.9 718.9Q153.5 717.9 152.1 715.8M152.1 715.8L150.6 713.5" fill="none"/>
<path d="M157.6 713.8Q156 711.5 157.8 710.5L159.9 709.3Q161.8 708.3 164.2 709.3L167 710.5Q169.4 711.5 168.9 713.5L168.3 715.8Q167.8 717.9 165.6 718.1L163.2 718.4Q161 718.7 159.4 716.4Z" fill="#a3161b" stroke="none"/>
<path d="M168.9 713.5L168.3 715.8Q167.8 717.9 165.6 718.1M165.6 718.1L163.2 718.4Q161 718.7 159.4 716.4M159.4 716.4L157.6 713.8" fill="none"/>
<path d="M150.9 747.2Q149.3 744.7 150.6 745L152.1 745.3Q153.5 745.6 155.1 747.7L156.9 750.1Q158.5 752.3 157.2 752.3L155.7 752.3Q154.3 752.3 152.7 749.9Z" fill="#f37028"/>
<path d="M141.7 756.6Q140.9 754.8 142 755.1L143.2 755.4Q144.3 755.6 145.3 757L146.5 758.5Q147.6 759.8 146.3 760L144.8 760.2Q143.4 760.3 142.6 758.6Z" fill="#f37028"/>
<path d="M113.4 755.6Q112.4 754 114.5 753.2L116.9 752.3Q119.1 751.4 121.8 751.2L124.8 750.9Q127.5 750.6 129.1 752.8L130.9 755.2Q132.5 757.3 133 760L133.6 763Q134.2 765.7 135.8 767.9L137.6 770.3Q139.2 772.4 139.8 775.7L140.4 779.3Q140.9 782.5 139.8 784.7L138.6 787.1Q137.5 789.2 135.9 788.1L134.1 786.9Q132.5 785.9 131.4 782.6L130.2 779Q129.1 775.8 128.3 773.6L127.4 771.2Q126.6 769.1 124.7 767.5L122.6 765.7Q120.8 764 119.1 762.4L117.3 760.6Q115.7 759 114.6 757.4Z" fill="#f37028"/>
<path d="M119 757.8Q117.4 755.6 120.1 754.8L123.1 753.9Q125.8 753.1 127.1 755L128.6 757.1Q130 759 129.7 760.3L129.4 761.9Q129.1 763.2 127 762.9L124.6 762.6Q122.4 762.4 120.8 760.2Z" fill="#a3161b"/>
<path d="M132.2 775.7Q131.7 772.4 133 772.2L134.5 771.9Q135.9 771.6 136.9 774L138.1 776.7Q139.2 779.1 138.7 781.3L138.1 783.7Q137.5 785.9 136.2 784.8L134.7 783.6Q133.3 782.5 132.8 779.3Z" fill="#ee3030"/>
<path d="M63.7 764.2Q63.7 761.5 65.8 761.8L68.2 762.1Q70.4 762.4 72.5 765L75 768.1Q77.1 770.8 79 773.4L81.1 776.5Q83 779.1 81.6 780.2L80.1 781.4Q78.8 782.5 76.6 781.4L74.2 780.2Q72.1 779.1 70.5 777L68.6 774.6Q67 772.4 66 771.6L64.8 770.7Q63.7 769.9 63.7 767.2Z" fill="#f37028"/>
<path d="M114.3 775.7Q114 772.4 115.7 771.6L117.5 770.7Q119.1 769.9 119.9 771.8L120.8 773.9Q121.6 775.8 120.8 779L119.9 782.6Q119.1 785.9 117.7 784.8L116.2 783.6Q114.9 782.5 114.6 779.3Z" fill="#f37028"/>
<path d="M165.5 769.5Q165.2 767.4 167.7 763.9L170.4 760Q172.8 756.5 174.3 757.3L176 758.2Q177.5 759 178.5 762.8L179.7 767.1Q180.7 770.9 179.7 774.1L178.5 777.6Q177.5 780.8 175.5 780.3L173.2 779.7Q171.1 779.1 169.5 777.5L167.7 775.7Q166.1 774.1 165.8 772Z" fill="#f37028" stroke="none"/>
<path d="M167.7 763.9L170.4 760Q172.8 756.5 174.3 757.3M174.3 757.3L176 758.2M175.5 780.3L173.2 779.7Q171.1 779.1 169.5 777.5M169.5 777.5L167.7 775.7Q166.1 774.1 165.8 772M165.8 772L165.5 769.5Q165.2 767.4 167.7 763.9" fill="none"/>
<path d="M145.3 782.5Q144.3 781.7 146.4 781.4L148.8 781.1Q151 780.8 152 779.5L153.3 778Q154.3 776.6 155.9 779L157.8 781.8Q159.4 784.2 161.8 786.9L164.5 789.9Q166.9 792.6 165 791.8L162.9 790.9Q161 790.1 158.9 788.7L156.5 787.2Q154.3 785.9 152.2 785.3L149.8 784.7Q147.6 784.2 146.5 783.4Z" fill="#f37028"/>
<path d="M80.9 799Q78.8 798.5 82 798.2L85.6 797.9Q88.9 797.6 92.6 797.1L96.8 796.5Q100.6 795.9 104.4 795.9L108.6 795.9Q112.4 795.9 115.6 795.4L119.2 794.8Q122.4 794.3 125.1 795.9L128.1 797.7Q130.8 799.3 131.1 801.4L131.4 803.9Q131.7 806 130.3 807.1L128.8 808.3Q127.5 809.4 125.3 807.5L122.9 805.4Q120.8 803.5 118.1 802.7L115 801.8Q112.4 801 109.7 800.4L106.7 799.8Q104 799.3 101.3 799.8L98.3 800.4Q95.6 801 92.4 800.7L88.7 800.4Q85.5 800.1 83.4 799.6Z" fill="#f37028"/>
<path d="M88.8 781.9Q88 780 90.4 778.9L93.2 777.7Q95.6 776.6 98.8 778.5L102.4 780.6Q105.6 782.5 107.8 785.2L110.2 788.2Q112.4 790.9 114.8 793.9L117.5 797.2Q119.9 800.1 117.8 800.7L115.3 801.3Q113.2 801.8 110.2 799.9L106.9 797.8Q104 795.9 101.6 794.1L98.8 791.9Q96.4 790.1 94.5 788.7L92.4 787.2Q90.5 785.9 89.7 784Z" fill="#f37028"/>
<path d="M90.5 782.2Q89.7 780.8 91.6 780L93.7 779.1Q95.6 778.3 98.3 779.9L101.3 781.7Q104 783.3 106.1 785.8L108.5 788.5Q110.7 790.9 113.1 793.6L115.8 796.6Q118.2 799.3 116.9 799.6L115.4 799.9Q114 800.1 111.4 798.5L108.3 796.7Q105.6 795.1 103.2 793.2L100.5 791.1Q98.1 789.2 96.2 787.9L94.1 786.4Q92.2 785 91.4 783.7Z" fill="#a3161b"/>
<path d="M97.2 783.6Q96.4 782.5 97.5 782.5L98.7 782.5Q99.8 782.5 100.6 783.8L101.5 785.4Q102.3 786.7 101.2 786.4L100 786.1Q98.9 785.9 98.1 784.8Z" fill="#5f6364"/>
<path d="M123.5 810.8Q123.3 808.5 124.9 808.3L126.7 808Q128.3 807.7 128.6 810.2L128.9 813Q129.1 815.5 128.5 816.1L127.8 816.7Q127.2 817.3 126.2 816.7L125.1 816.1Q124.1 815.5 123.8 813.3Z" fill="#f37028" stroke="none"/>
<path d="M124.9 808.3L126.7 808Q128.3 807.7 128.6 810.2M128.6 810.2L128.9 813M123.8 813.3L123.5 810.8Q123.3 808.5 124.9 808.3" fill="none"/>
<path d="M63.7 797.1Q63.7 788.4 65.8 788.1L68.2 787.8Q70.4 787.5 72.5 790.2L75 793.2Q77.1 795.9 77.6 798.1L78.2 800.5Q78.8 802.6 77.7 805.3L76.5 808.4Q75.4 811 74.4 812.5L73.1 814.1Q72.1 815.5 71 816.4L69.8 817.5Q68.8 818.4 67.1 817.5L65.3 816.4Q63.7 815.5 63.7 806.8Z" fill="#f37028" stroke="none"/>
<path d="M65.8 788.1L68.2 787.8Q70.4 787.5 72.5 790.2M72.5 790.2L75 793.2Q77.1 795.9 77.6 798.1M77.6 798.1L78.2 800.5Q78.8 802.6 77.7 805.3M77.7 805.3L76.5 808.4Q75.4 811 74.4 812.5M74.4 812.5L73.1 814.1M63.7 806.8L63.7 797.1Q63.7 788.4 65.8 788.1" fill="none"/>
<path d="M64.5 798Q64.5 794.3 66.4 793.7L68.5 793.1Q70.4 792.6 72.3 794.7L74.4 797.1Q76.3 799.3 75.5 802.5L74.6 806.1Q73.8 809.4 72.1 810.4L70.3 811.6Q68.7 812.7 67.4 810.6L65.9 808.2Q64.5 806 64.5 802.2Z" fill="#a3161b"/>
<path d="M67.9 800Q67.9 797.6 68.9 797.9L70.2 798.2Q71.2 798.5 71 800.9L70.7 803.6Q70.4 806 69.6 805.7L68.7 805.4Q67.9 805.2 67.9 802.8Z" fill="#5f6364"/>
<path d="M147.6 804.3Q146.8 802.6 148.1 802.4L149.6 802.1Q151 801.8 153.1 804.2L155.5 806.9Q157.7 809.4 158.8 811.3L160 813.5Q161 815.5 159.7 816.5L158.3 817.7Q157 818.7 155 817.7L152.9 816.5Q151 815.5 150.4 813L149.8 810.2Q149.3 807.7 148.5 806.1Z" fill="#f37028" stroke="none"/>
<path d="M148.1 802.4L149.6 802.1Q151 801.8 153.1 804.2M153.1 804.2L155.5 806.9Q157.7 809.4 158.8 811.3M158.8 811.3L160 813.5M150.4 813L149.8 810.2Q149.3 807.7 148.5 806.1M148.5 806.1L147.6 804.3Q146.8 802.6 148.1 802.4" fill="none"/>
<path d="M153.5 810.8Q153.5 808.5 154.6 808.8L155.8 809.1Q156.8 809.4 157.1 811.3L157.4 813.5Q157.7 815.5 157.2 816L156.6 816.5Q156 817 155.2 816.5L154.3 816Q153.5 815.5 153.5 813.3Z" fill="#ee3030" stroke="none"/>
<path d="M154.6 808.8L155.8 809.1Q156.8 809.4 157.1 811.3M157.1 811.3L157.4 813.5M153.5 813.3L153.5 810.8Q153.5 808.5 154.6 808.8" fill="none"/>
<path d="M171.7 805.9Q171.1 804.3 173.2 803.8L175.5 803.2Q177.5 802.6 178.4 804.3L179.5 806.1Q180.4 807.7 179.5 808.8L178.4 810Q177.5 811 176 810.5L174.3 809.9Q172.8 809.4 172.3 807.8Z" fill="#f37028" stroke="none"/>
<path d="M173.2 803.8L175.5 803.2M176 810.5L174.3 809.9Q172.8 809.4 172.3 807.8M172.3 807.8L171.7 805.9Q171.1 804.3 173.2 803.8" fill="none"/>
<path d="M85.7 723.9Q84.7 721.2 86.8 721L89.2 720.7Q91.4 720.4 93.5 721.5L95.9 722.7Q98.1 723.8 95.7 724.6L93 725.5Q90.5 726.3 89.7 727.3L88.8 728.6Q88 729.6 86.9 726.9Z" fill="#5eb95c"/>
<path d="M60.5 732.4Q61.5 730.5 63.3 731.5L65.3 732.7Q67 733.8 69.2 735.7L71.6 737.8Q73.8 739.7 75.4 740.2L77.2 740.8Q78.8 741.4 76.6 742.2L74.2 743.1Q72.1 743.9 68.7 744.2L64.9 744.5Q61.5 744.7 60.5 742.1L59.3 739.2Q58.3 736.6 59.3 734.7Z" fill="#5eb95c" stroke="none"/>
<path d="M63.3 731.5L65.3 732.7Q67 733.8 69.2 735.7M69.2 735.7L71.6 737.8Q73.8 739.7 75.4 740.2M75.4 740.2L77.2 740.8Q78.8 741.4 76.6 742.2M76.6 742.2L74.2 743.1Q72.1 743.9 68.7 744.2M68.7 744.2L64.9 744.5" fill="none"/>
<path d="M140.3 725.4Q139.2 723.8 141.1 721.3L143.2 718.6Q145.1 716.2 147 718.1L149.1 720.2Q151 722.1 150.7 724.5L150.4 727.2Q150.1 729.6 147.7 729.4L145 729.1Q142.6 728.8 141.5 727.2Z" fill="#5eb95c"/>
<path d="M164.4 728.1Q164.4 725.4 166 723.5L167.8 721.4Q169.4 719.6 172 719.3L174.9 719Q177.5 718.7 178.5 724L179.7 729.9Q180.7 735.2 179.7 739.9L178.5 745.1Q177.5 749.8 175.5 749.2L173.2 748.6Q171.1 748.1 169.5 745.9L167.7 743.5Q166.1 741.4 165.5 739L164.9 736.2Q164.4 733.8 164.4 731.1Z" fill="#5eb95c" stroke="none"/>
<path d="M166 723.5L167.8 721.4Q169.4 719.6 172 719.3M172 719.3L174.9 719M175.5 749.2L173.2 748.6Q171.1 748.1 169.5 745.9M169.5 745.9L167.7 743.5Q166.1 741.4 165.5 739M165.5 739L164.9 736.2Q164.4 733.8 164.4 731.1M164.4 731.1L164.4 728.1Q164.4 725.4 166 723.5" fill="none"/>
<path d="M171.7 726.4Q171.1 723.8 173.2 723.5L175.5 723.2Q177.5 722.9 178.5 725L179.7 727.3Q180.7 729.3 179.7 730.8L178.5 732.4Q177.5 733.8 176 733.3L174.3 732.7Q172.8 732.1 172.3 729.5Z" fill="#1fa77a" stroke="none"/>
<path d="M173.2 723.5L175.5 723.2M176 733.3L174.3 732.7Q172.8 732.1 172.3 729.5M172.3 729.5L171.7 726.4Q171.1 723.8 173.2 723.5" fill="none"/>
<path d="M142 748.6Q141.7 746.9 143.6 746.8L145.7 746.6Q147.6 746.4 147.9 748.2L148.2 750.2Q148.5 752 146.6 752.1L144.5 752.2Q142.6 752.3 142.3 750.6Z" fill="#5eb95c"/>
<path d="M132.8 756.5Q132.5 754.5 134.2 754.3L136.2 754.1Q137.9 754 138 756L138.2 758.3Q138.4 760.3 136.8 760.5L135 760.6Q133.3 760.7 133.1 758.7Z" fill="#5eb95c"/>
<path d="M80.7 769.3Q79.6 767.4 82.6 766.3L85.9 765.1Q88.9 764 92.6 763.5L96.8 762.9Q100.6 762.4 103.3 762.1L106.3 761.8Q109 761.5 110.1 763.4L111.3 765.5Q112.4 767.4 111.3 769L110.1 770.8Q109 772.4 110.1 774.3L111.3 776.4Q112.4 778.3 110.2 778L107.8 777.7Q105.6 777.5 103.5 776.7L101.1 775.8Q98.9 775 96.8 775.5L94.4 776.1Q92.2 776.6 90.6 777.4L88.8 778.3Q87.2 779.1 85.8 777.3L84.3 775.2Q83 773.3 81.9 771.4Z" fill="#5eb95c"/>
<path d="M139.8 771.8Q139.2 769.9 141.4 769.4L143.8 768.8Q145.9 768.2 147.5 770.4L149.4 772.8Q151 775 149.4 776L147.5 777.2Q145.9 778.3 144.3 777.5L142.5 776.6Q140.9 775.8 140.4 773.9Z" fill="#5eb95c"/>
<path d="M122.4 792.5Q120.8 790.9 122.6 789.3L124.7 787.5Q126.6 785.9 128 788.5L129.5 791.6Q130.8 794.3 129.2 794.8L127.4 795.4Q125.8 795.9 124.2 794.3Z" fill="#5eb95c"/>
<path d="M74.3 789.7Q72.9 787.5 75.9 787L79.2 786.4Q82.1 785.9 84.8 786.7L87.9 787.6Q90.5 788.4 91.6 790.3L92.8 792.4Q93.9 794.3 91.2 794.8L88.2 795.4Q85.5 795.9 82.8 795.4L79.8 794.8Q77.1 794.3 75.8 792.1Z" fill="#5eb95c"/>
<path d="M145.3 793Q143.4 790.9 145.3 789.6L147.4 788Q149.3 786.7 152 787.5L155 788.4Q157.7 789.2 160.4 791.4L163.4 793.8Q166.1 795.9 167.2 798.1L168.4 800.5Q169.4 802.6 167.3 803.7L164.9 804.9Q162.7 806 160.6 804.4L158.2 802.6Q156 801 153.9 799.9L151.4 798.7Q149.3 797.6 147.4 795.5Z" fill="#5eb95c"/>
<path d="M162.1 782.4Q160.2 780.8 161.5 780.3L163.1 779.7Q164.4 779.1 166.5 781.6L169 784.3Q171.1 786.7 169.5 786.4L167.7 786.1Q166.1 785.9 164.2 784.3Z" fill="#5eb95c"/>
<path d="M74.8 809Q73.8 806 75.9 804.4L78.3 802.6Q80.5 801 83.2 801.5L86.2 802.1Q88.9 802.6 92.1 803.7L95.7 804.9Q98.9 806 103.2 806.5L108.1 807.1Q112.4 807.7 111.8 809.3L111.2 811.1Q110.7 812.7 108 813.6L105 814.6Q102.3 815.5 98.6 816.5L94.4 817.7Q90.7 818.7 86.3 817.7L81.4 816.5Q77.1 815.5 76 812.5Z" fill="#5eb95c" stroke="none"/>
<path d="M75.9 804.4L78.3 802.6Q80.5 801 83.2 801.5M83.2 801.5L86.2 802.1Q88.9 802.6 92.1 803.7M92.1 803.7L95.7 804.9Q98.9 806 103.2 806.5M103.2 806.5L108.1 807.1Q112.4 807.7 111.8 809.3M111.8 809.3L111.2 811.1Q110.7 812.7 108 813.6M108 813.6L105 814.6M76 812.5L74.8 809Q73.8 806 75.9 804.4" fill="none"/>
<path d="M77.4 809.3Q77.1 807.7 79.3 807.1L81.7 806.5Q83.8 806 86 808.2L88.4 810.6Q90.5 812.7 87.9 813.6L84.8 814.6Q82.1 815.5 80.8 814.6L79.3 813.6Q77.9 812.7 77.7 811.1Z" fill="#1fa77a"/>
<path d="M140.3 807Q139.2 804.3 140.6 803.8L142.1 803.2Q143.4 802.6 144.5 805.3L145.7 808.4Q146.8 811 145.4 811.6L143.9 812.2Q142.6 812.7 141.5 810Z" fill="#5eb95c"/>
<path d="M163.3 810.2Q162.7 807.7 164.9 808.2L167.3 808.8Q169.4 809.4 172 811.3L174.9 813.5Q177.5 815.5 175.6 816.5L173.5 817.7Q171.7 818.7 169.3 817.7L166.7 816.5Q164.4 815.5 163.9 813Z" fill="#5eb95c" stroke="none"/>
<path d="M164.9 808.2L167.3 808.8Q169.4 809.4 172 811.3M172 811.3L174.9 813.5M163.9 813L163.3 810.2Q162.7 807.7 164.9 808.2" fill="none"/>
<path d="M60.5 773.7Q61.5 772.4 63 772.7L64.7 773Q66.2 773.3 66.2 776.2L66.2 779.6Q66.2 782.5 64.7 782.5L63 782.5Q61.5 782.5 60.5 780.6L59.3 778.4Q58.3 776.5 59.3 775.2Z" fill="#5eb95c" stroke="none"/>
<path d="M63 772.7L64.7 773Q66.2 773.3 66.2 776.2M66.2 776.2L66.2 779.6Q66.2 782.5 64.7 782.5M64.7 782.5L63 782.5" fill="none"/>
<path d="M175.6 712.7Q176.5 711.5 177.7 710.6L179.1 709.5Q180.3 708.6 181.9 709.5L183.8 710.6Q185.4 711.5 186.5 716.5L187.7 722.1Q188.8 727.1 190.9 729.3L193.3 731.7Q195.5 733.8 197.6 737L200 740.7Q202.2 743.9 204.9 747.1L207.9 750.7Q210.6 754 214.1 754.8L218 755.7Q221.5 756.5 220.1 757.6L218.6 758.8Q217.3 759.8 215.1 760.6L212.7 761.6Q210.6 762.4 211.4 766.1L212.3 770.4Q213.1 774.1 212.3 774.9L211.4 775.8Q210.6 776.6 209.8 774.2L208.9 771.5Q208.1 769.1 207.3 766.4L206.3 763.4Q205.5 760.7 203.4 759.1L201 757.3Q198.8 755.6 197.2 757.8L195.4 760.2Q193.8 762.4 194.1 765L194.4 768.1Q194.6 770.8 193.3 770.2L191.8 769.6Q190.4 769.1 189.1 766.4L187.6 763.4Q186.2 760.7 186.5 758L186.8 755Q187.1 752.3 186 750.1L184.8 747.7Q183.7 745.6 184.8 740.2L186 734.2Q187.1 728.8 185.5 726.6L183.6 724.2Q182 722.1 180.3 721.5L178.3 720.9Q176.5 720.4 175.6 718.8L174.5 716.9Q173.6 715.3 174.5 714.1Z" fill="#f37028" stroke="none"/>
<path d="M186.5 716.5L187.7 722.1Q188.8 727.1 190.9 729.3M190.9 729.3L193.3 731.7Q195.5 733.8 197.6 737M197.6 737L200 740.7Q202.2 743.9 204.9 747.1M204.9 747.1L207.9 750.7Q210.6 754 214.1 754.8M214.1 754.8L218 755.7Q221.5 756.5 220.1 757.6M220.1 757.6L218.6 758.8Q217.3 759.8 215.1 760.6M215.1 760.6L212.7 761.6Q210.6 762.4 211.4 766.1M211.4 766.1L212.3 770.4Q213.1 774.1 212.3 774.9M212.3 774.9L211.4 775.8Q210.6 776.6 209.8 774.2M209.8 774.2L208.9 771.5Q208.1 769.1 207.3 766.4M207.3 766.4L206.3 763.4Q205.5 760.7 203.4 759.1M203.4 759.1L201 757.3Q198.8 755.6 197.2 757.8M197.2 757.8L195.4 760.2Q193.8 762.4 194.1 765M194.1 765L194.4 768.1Q194.6 770.8 193.3 770.2M193.3 770.2L191.8 769.6Q190.4 769.1 189.1 766.4M189.1 766.4L187.6 763.4Q186.2 760.7 186.5 758M186.5 758L186.8 755Q187.1 752.3 186 750.1M186 750.1L184.8 747.7Q183.7 745.6 184.8 740.2M184.8 740.2L186 734.2Q187.1 728.8 185.5 726.6M185.5 726.6L183.6 724.2Q182 722.1 180.3 721.5M180.3 721.5L178.3 720.9" fill="none"/>
<path d="M186.5 734.7Q187.1 728.8 189 729.3L191.1 729.9Q192.9 730.5 193.8 733.7L194.7 737.3Q195.5 740.5 196.5 743.8L197.7 747.4Q198.8 750.6 197.2 752.2L195.4 754Q193.8 755.6 192.2 754.6L190.4 753.4Q188.8 752.3 187.7 750.7L186.5 748.9Q185.4 747.3 185.9 741.3Z" fill="#ee3030"/>
<path d="M186.8 746.9Q186.2 744.7 188.1 743.7L190.2 742.5Q192.1 741.4 194.3 743.5L196.7 745.9Q198.8 748.1 197.2 750.5L195.4 753.2Q193.8 755.6 191.9 754.3L189.8 752.8Q187.9 751.4 187.4 749.3Z" fill="#a3161b"/>
<path d="M190.1 747.5Q189.6 745.6 190.9 745.3L192.4 745Q193.8 744.7 194.3 746.3L194.9 748.2Q195.5 749.8 194.1 750.3L192.6 750.9Q191.3 751.4 190.7 749.6Z" fill="#5f6364"/>
<path d="M203.3 713Q202.2 711.5 203.5 710.5L205 709.3Q206.3 708.3 208.2 709.3L210.3 710.5Q212.3 711.5 212.5 713.3L212.8 715.3Q213.1 717 210.7 716.8L208 716.5Q205.5 716.2 204.5 714.7Z" fill="#f37028" stroke="none"/>
<path d="M212.5 713.3L212.8 715.3Q213.1 717 210.7 716.8M210.7 716.8L208 716.5Q205.5 716.2 204.5 714.7M204.5 714.7L203.3 713" fill="none"/>
<path d="M229.5 715.9Q228.2 714.5 231.2 714L234.5 713.4Q237.4 712.8 240.7 714.7L244.3 716.8Q247.5 718.7 250.2 721.7L253.2 725Q255.9 727.9 257.2 729.8L258.8 731.9Q260.1 733.8 258.5 734.1L256.7 734.4Q255.1 734.7 252.6 732.8L249.9 730.7Q247.5 728.8 245.4 726.6L242.9 724.2Q240.8 722.1 238.1 721L235.1 719.8Q232.4 718.7 231.1 717.4Z" fill="#f37028"/>
<path d="M274.6 714.9Q274.4 711.5 275.3 710.7L276.4 709.7Q277.3 708.9 278.8 709.7L280.5 710.7Q281.9 711.5 283 715.4L284.2 719.8Q285.3 723.8 283.4 725.1L281.3 726.6Q279.4 727.9 278.1 726.1L276.5 724Q275.2 722.1 274.9 718.7Z" fill="#f37028" stroke="none"/>
<path d="M283 715.4L284.2 719.8Q285.3 723.8 283.4 725.1M283.4 725.1L281.3 726.6Q279.4 727.9 278.1 726.1M278.1 726.1L276.5 724Q275.2 722.1 274.9 718.7M274.9 718.7L274.6 714.9" fill="none"/>
<path d="M274.9 739.6Q274.4 738 276 738.6L277.8 739.2Q279.4 739.7 282.1 742.1L285.1 744.8Q287.8 747.3 289.3 748.9L291 750.7Q292.5 752.3 291.5 752.8L290.4 753.4Q289.5 754 286.8 751.8L283.8 749.4Q281.1 747.3 279.5 745.9L277.7 744.4Q276 743.1 275.5 741.4Z" fill="#f37028"/>
<path d="M269.3 769.8Q268.5 768.2 270.4 768L272.5 767.7Q274.4 767.4 276.5 769.8L278.9 772.5Q281.1 775 282.2 776.8L283.4 778.9Q284.4 780.8 282.3 780L279.9 779.1Q277.7 778.3 275.6 776.7L273.2 774.9Q271 773.3 270.2 771.7Z" fill="#f37028"/>
<path d="M224.5 772.9Q224 771.6 225.6 771.1L227.4 770.5Q229 769.9 231.7 771.8L234.7 773.9Q237.4 775.8 239.6 778.7L242 782.1Q244.1 785 243.9 786.1L243.6 787.3Q243.3 788.4 240.9 787.6L238.2 786.7Q235.8 785.9 233.6 784L231.2 781.9Q229 780 228 778.6L226.8 777.1Q225.7 775.8 225.1 774.4Z" fill="#f37028"/>
<path d="M175.5 777.4Q176.5 775.8 178.3 777.4L180.3 779.2Q182 780.8 183.1 784L184.3 787.7Q185.4 790.9 183.8 791.4L182 792Q180.4 792.6 179.1 791L177.7 789.2Q176.5 787.5 175.5 785.4L174.3 782.9Q173.3 780.7 174.3 779.1Z" fill="#f37028" stroke="none"/>
<path d="M178.3 777.4L180.3 779.2Q182 780.8 183.1 784M183.1 784L184.3 787.7Q185.4 790.9 183.8 791.4M183.8 791.4L182 792Q180.4 792.6 179.1 791M179.1 791L177.7 789.2" fill="none"/>
<path d="M194.6 786.9Q193.8 784.2 195.4 782.8L197.2 781.3Q198.8 780 200.4 781.9L202.2 784Q203.9 785.9 204.9 789.1L206.1 792.7Q207.2 795.9 206.4 798.4L205.5 801.1Q204.7 803.5 202.8 803L200.7 802.3Q198.8 801.8 198 798.9L197.1 795.5Q196.3 792.6 195.5 789.9Z" fill="#f37028"/>
<path d="M202.6 798.3Q202.6 798.7 202.6 799L202.6 799.3Q202.6 799.6 202.3 799.7L202.1 799.9Q201.8 800 201.6 800.1L201.3 800.1Q201.1 800.1 200.9 799.9L200.8 799.7Q200.7 799.5 200.5 799.3L200.2 799.1Q200 798.8 200 798.6L200 798.3Q199.9 798 200.1 797.8L200.2 797.5Q200.4 797.3 200.6 797.2L200.9 797.1Q201.2 797.1 201.4 797L201.6 797Q201.8 796.9 202.1 797.2L202.5 797.4Q202.8 797.6 202.7 798Z" fill="#ee3030"/>
<path d="M218.4 790.5Q218.1 789.6 219.6 789.4L221.3 789.3Q222.8 789.2 222.9 790.2L223.1 791.3Q223.2 792.2 221.8 792.3L220.3 792.5Q219 792.6 218.7 791.6Z" fill="#f37028"/>
<path d="M264.8 807.6Q264.3 806 265.6 803.9L267.1 801.4Q268.5 799.3 271.4 800.4L274.8 801.6Q277.7 802.6 280.4 804.8L283.4 807.2Q286.1 809.4 288.2 810.4L290.5 811.6Q292.5 812.7 292.7 813.2L293 813.7Q293.3 814.1 293 814.5L292.7 815Q292.5 815.5 289.3 816.5L285.7 817.7Q282.5 818.7 278.8 817.7L274.7 816.5Q271 815.5 269.4 814.1L267.6 812.5Q266 811 265.4 809.4Z" fill="#f37028" stroke="none"/>
<path d="M265.6 803.9L267.1 801.4Q268.5 799.3 271.4 800.4M271.4 800.4L274.8 801.6Q277.7 802.6 280.4 804.8M280.4 804.8L283.4 807.2Q286.1 809.4 288.2 810.4M288.2 810.4L290.5 811.6M269.4 814.1L267.6 812.5Q266 811 265.4 809.4M265.4 809.4L264.8 807.6Q264.3 806 265.6 803.9" fill="none"/>
<path d="M190.7 809Q189.6 806 190.9 805.7L192.4 805.4Q193.8 805.2 195.4 808.5L197.2 812.2Q198.8 815.5 198.1 816.1L197.2 816.9Q196.5 817.5 195.4 816.9L194.1 816.1Q192.9 815.5 191.9 812.5Z" fill="#f37028" stroke="none"/>
<path d="M190.9 805.7L192.4 805.4Q193.8 805.2 195.4 808.5M195.4 808.5L197.2 812.2M191.9 812.5L190.7 809Q189.6 806 190.9 805.7" fill="none"/>
<path d="M202.7 812.5Q202.2 811 204.9 810.5L207.9 809.9Q210.6 809.4 213.3 811.3L216.3 813.5Q219 815.5 216.9 816.5L214.5 817.7Q212.4 818.7 209.6 817.7L206.6 816.5Q203.9 815.5 203.3 814.1Z" fill="#f37028" stroke="none"/>
<path d="M204.9 810.5L207.9 809.9Q210.6 809.4 213.3 811.3M213.3 811.3L216.3 813.5M203.3 814.1L202.7 812.5Q202.2 811 204.9 810.5" fill="none"/>
<path d="M244.7 813.6Q244.1 812.7 246.8 812.3L249.9 811.8Q252.5 811.4 255.2 812.7L258.2 814.2Q260.9 815.5 258.8 816.5L256.5 817.7Q254.3 818.7 251.6 817.7L248.6 816.5Q245.8 815.5 245.3 814.6Z" fill="#f37028" stroke="none"/>
<path d="M246.8 812.3L249.9 811.8Q252.5 811.4 255.2 812.7M255.2 812.7L258.2 814.2M245.3 814.6L244.7 813.6Q244.1 812.7 246.8 812.3" fill="none"/>
<path d="M175.5 726.9Q176.5 723.8 178.8 725.4L181.4 727.2Q183.7 728.8 185.1 730.4L186.6 732.2Q187.9 733.8 187.1 736.5L186.2 739.5Q185.4 742.2 184.3 743.8L183.1 745.6Q182 747.3 180.3 746.7L178.3 746.1Q176.5 745.6 175.5 741.8L174.3 737.5Q173.3 733.7 174.3 730.5Z" fill="#5eb95c" stroke="none"/>
<path d="M178.8 725.4L181.4 727.2Q183.7 728.8 185.1 730.4M185.1 730.4L186.6 732.2Q187.9 733.8 187.1 736.5M187.1 736.5L186.2 739.5Q185.4 742.2 184.3 743.8M184.3 743.8L183.1 745.6Q182 747.3 180.3 746.7M180.3 746.7L178.3 746.1" fill="none"/>
<path d="M175.5 730.5Q176.5 728.8 178.3 729.6L180.3 730.5Q182 731.3 182.6 733.7L183.2 736.4Q183.7 738.9 181.4 739.7L178.8 740.6Q176.5 741.4 175.5 739.1L174.3 736.4Q173.3 734.1 174.3 732.4Z" fill="#1fa77a" stroke="none"/>
<path d="M178.3 729.6L180.3 730.5Q182 731.3 182.6 733.7M182.6 733.7L183.2 736.4Q183.7 738.9 181.4 739.7M181.4 739.7L178.8 740.6" fill="none"/>
<path d="M216.4 726.5Q214.8 724.6 216.4 723.2L218.2 721.7Q219.8 720.4 220.9 722.3L222.1 724.4Q223.2 726.3 222.1 727.6L220.9 729.1Q219.8 730.5 218.2 728.6Z" fill="#5eb95c"/>
<path d="M209.3 740.4Q206.4 737.2 207.5 737.2L208.7 737.2Q209.7 737.2 212.4 740.1L215.4 743.5Q218.1 746.4 217.3 746.7L216.4 747Q215.6 747.3 212.7 744Z" fill="#5eb95c"/>
<path d="M198 761.7Q197.1 759 198.8 757.4L200.6 755.6Q202.2 754 203.8 755L205.6 756.3Q207.2 757.3 207.5 760.5L207.8 764.2Q208.1 767.4 208.9 770.4L209.8 773.7Q210.6 776.6 213.3 778.5L216.3 780.6Q219 782.5 219.2 783.8L219.5 785.4Q219.8 786.7 217.4 787.5L214.7 788.4Q212.3 789.2 210.1 787.1L207.7 784.7Q205.5 782.5 202.9 780.1L199.8 777.4Q197.1 775 198 772.5L198.9 769.8Q199.7 767.4 198.9 764.7Z" fill="#5eb95c"/>
<path d="M175.5 797.3Q176.5 794.3 178.8 794.8L181.4 795.4Q183.7 795.9 185.6 797L187.7 798.2Q189.6 799.3 188.8 801.4L187.9 803.9Q187.1 806 189.5 808.2L192.2 810.6Q194.6 812.7 194.4 813.6L194.1 814.6Q193.8 815.5 191.4 816.5L188.7 817.7Q186.4 818.7 183.2 817.7L179.7 816.5Q176.5 815.5 175.5 811.7L174.3 807.4Q173.3 803.7 174.3 800.7Z" fill="#5eb95c" stroke="none"/>
<path d="M178.8 794.8L181.4 795.4Q183.7 795.9 185.6 797M185.6 797L187.7 798.2Q189.6 799.3 188.8 801.4M188.8 801.4L187.9 803.9Q187.1 806 189.5 808.2M189.5 808.2L192.2 810.6Q194.6 812.7 194.4 813.6M194.4 813.6L194.1 814.6" fill="none"/>
<path d="M189.9 791.1Q189.6 788.9 190.8 788.7L192.2 788.5Q193.5 788.4 193.6 790.7L193.7 793.3Q193.8 795.6 192.7 795.7L191.5 795.8Q190.4 795.9 190.2 793.7Z" fill="#5eb95c"/>
<path d="M214.2 797.5Q213.9 795.1 216.1 794.8L218.5 794.5Q220.6 794.3 221.7 795.9L222.9 797.7Q224 799.3 226.4 799L229.1 798.7Q231.6 798.5 231.3 800.9L231 803.6Q230.7 806 231.3 809L231.9 812.5Q232.4 815.5 230.3 816.5L227.9 817.7Q225.8 818.7 223.1 817.7L220 816.5Q217.3 815.5 215.1 813.3L212.7 810.8Q210.6 808.5 211.9 806.6L213.4 804.5Q214.8 802.6 214.5 800.2Z" fill="#5eb95c" stroke="none"/>
<path d="M216.1 794.8L218.5 794.5Q220.6 794.3 221.7 795.9M221.7 795.9L222.9 797.7Q224 799.3 226.4 799M226.4 799L229.1 798.7Q231.6 798.5 231.3 800.9M231.3 800.9L231 803.6Q230.7 806 231.3 809M231.3 809L231.9 812.5M215.1 813.3L212.7 810.8Q210.6 808.5 211.9 806.6M211.9 806.6L213.4 804.5Q214.8 802.6 214.5 800.2M214.5 800.2L214.2 797.5Q213.9 795.1 216.1 794.8" fill="none"/>
<path d="M245 805.4Q244.1 803.5 245.5 801.9L247 800.1Q248.3 798.5 249.2 801.4L250.1 804.7Q250.9 807.7 249.5 808.2L248 808.8Q246.7 809.4 245.9 807.5Z" fill="#5eb95c"/>
<path d="M284.7 765.9Q284.4 765.2 287 765.1L289.9 765Q292.5 764.9 292.8 765.4L293.1 765.9Q293.4 766.4 293.1 766.7L292.8 767.1Q292.5 767.4 290.2 767.4L287.6 767.4Q285.3 767.4 285 766.7Z" fill="#5eb95c" stroke="none"/>
<path d="M287 765.1L289.9 765M290.2 767.4L287.6 767.4Q285.3 767.4 285 766.7M285 766.7L284.7 765.9Q284.4 765.2 287 765.1" fill="none"/>
<path d="M323.3 713.3Q322.2 711.5 324.9 710.5L327.8 709.3Q330.5 708.3 333.8 709.3L337.4 710.5Q340.7 711.5 342.3 714.3L344.1 717.5Q345.7 720.4 346 723.1L346.3 726.1Q346.6 728.8 345.8 730.4L344.8 732.2Q344 733.8 341.9 732.7L339.5 731.5Q337.3 730.5 335.2 728.3L332.8 725.9Q330.6 723.8 329 721.6L327.2 719.2Q325.6 717 324.5 715.3Z" fill="#5eb95c" stroke="none"/>
<path d="M342.3 714.3L344.1 717.5Q345.7 720.4 346 723.1M346 723.1L346.3 726.1Q346.6 728.8 345.8 730.4M345.8 730.4L344.8 732.2Q344 733.8 341.9 732.7M341.9 732.7L339.5 731.5Q337.3 730.5 335.2 728.3M335.2 728.3L332.8 725.9Q330.6 723.8 329 721.6M329 721.6L327.2 719.2Q325.6 717 324.5 715.3M324.5 715.3L323.3 713.3" fill="none"/>
<path d="M302.6 715.4Q302.1 711.5 304.7 710.5L307.7 709.3Q310.3 708.3 313.6 709.3L317.3 710.5Q320.5 711.5 321.9 713.8L323.4 716.4Q324.7 718.7 325 720.9L325.3 723.3Q325.6 725.4 328.3 727L331.3 728.9Q334 730.5 336.7 732.1L339.7 733.9Q342.4 735.5 344.2 737.7L346.4 740.1Q348.2 742.2 347.4 743.3L346.5 744.5Q345.7 745.6 343.6 744.8L341.2 743.9Q339 743.1 336.9 741.2L334.4 739.1Q332.3 737.2 330.1 735L327.7 732.6Q325.6 730.5 324.5 729.1L323.3 727.6Q322.2 726.3 319 726L315.4 725.7Q312.1 725.4 309.5 724.9L306.4 724.3Q303.8 723.8 303.2 719.8Z" fill="#f37028" stroke="none"/>
<path d="M321.9 713.8L323.4 716.4Q324.7 718.7 325 720.9M325 720.9L325.3 723.3Q325.6 725.4 328.3 727M328.3 727L331.3 728.9Q334 730.5 336.7 732.1M336.7 732.1L339.7 733.9Q342.4 735.5 344.2 737.7M344.2 737.7L346.4 740.1Q348.2 742.2 347.4 743.3M347.4 743.3L346.5 744.5Q345.7 745.6 343.6 744.8M343.6 744.8L341.2 743.9Q339 743.1 336.9 741.2M336.9 741.2L334.4 739.1Q332.3 737.2 330.1 735M330.1 735L327.7 732.6Q325.6 730.5 324.5 729.1M324.5 729.1L323.3 727.6Q322.2 726.3 319 726M319 726L315.4 725.7Q312.1 725.4 309.5 724.9M309.5 724.9L306.4 724.3Q303.8 723.8 303.2 719.8M303.2 719.8L302.6 715.4" fill="none"/>
<path d="M312.1 717Q311.3 715.4 313.2 715.1L315.3 714.8Q317.2 714.5 317.7 715.9L318.3 717.4Q318.9 718.7 317.2 719.3L315.4 719.9Q313.8 720.4 313 718.8Z" fill="#f0e826"/>
<path d="M339.5 738.5Q339 737.2 340.3 737.7L341.9 738.3Q343.2 738.9 343.5 740.2L343.8 741.7Q344 743.1 343 742.5L341.8 741.9Q340.7 741.4 340.1 740Z" fill="#ee3030"/>
<path d="M347.1 731.5Q346.6 729.6 348.4 728.3L350.6 726.8Q352.4 725.4 354.3 727.6L356.4 730Q358.3 732.1 357 733.8L355.5 735.6Q354.1 737.2 352.2 736.6L350.1 736Q348.2 735.5 347.7 733.6Z" fill="#f37028"/>
<path d="M350.1 730.9Q349.9 729.6 351.5 729.9L353.3 730.2Q355 730.5 354.4 731.8L353.8 733.3Q353.3 734.7 352.4 734.3L351.3 733.9Q350.4 733.5 350.3 732.3Z" fill="#ee3030"/>
<path d="M363.6 713.3Q363.3 711.5 368.3 710.5L373.8 709.3Q378.8 708.3 384.3 709.3L390.5 710.5Q396.1 711.5 395 713.8L393.8 716.4Q392.7 718.7 392.2 721.4L391.6 724.4Q391 727.1 389.4 728.2L387.6 729.4Q386 730.5 388.2 732.6L390.6 735Q392.7 737.2 395.1 739.3L397.9 741.7Q400.3 743.9 401.1 745.8L402 747.9Q402.8 749.8 401.2 750L399.4 750.3Q397.8 750.6 395.6 749L393.2 747.2Q391 745.6 388.6 744.2L385.9 742.7Q383.5 741.4 382.1 740.6L380.6 739.7Q379.3 738.9 379.8 736.7L380.4 734.3Q381 732.1 379.4 730L377.5 727.6Q375.9 725.4 373.8 723.8L371.4 722Q369.2 720.4 367.6 719.3L365.8 718.1Q364.2 717 363.9 715.3Z" fill="#f37028" stroke="none"/>
<path d="M395 713.8L393.8 716.4Q392.7 718.7 392.2 721.4M392.2 721.4L391.6 724.4Q391 727.1 389.4 728.2M389.4 728.2L387.6 729.4Q386 730.5 388.2 732.6M388.2 732.6L390.6 735Q392.7 737.2 395.1 739.3M395.1 739.3L397.9 741.7Q400.3 743.9 401.1 745.8M401.1 745.8L402 747.9Q402.8 749.8 401.2 750M401.2 750L399.4 750.3Q397.8 750.6 395.6 749M395.6 749L393.2 747.2Q391 745.6 388.6 744.2M388.6 744.2L385.9 742.7Q383.5 741.4 382.1 740.6M382.1 740.6L380.6 739.7Q379.3 738.9 379.8 736.7M379.8 736.7L380.4 734.3Q381 732.1 379.4 730M379.4 730L377.5 727.6Q375.9 725.4 373.8 723.8M373.8 723.8L371.4 722Q369.2 720.4 367.6 719.3M367.6 719.3L365.8 718.1Q364.2 717 363.9 715.3M363.9 715.3L363.6 713.3" fill="none"/>
<path d="M369.2 714.3Q367.5 711.5 369.2 712.7L371 714.1Q372.6 715.4 375.3 717.2L378.3 719.4Q381 721.2 383.1 722L385.5 722.9Q387.7 723.8 387.1 724.8L386.5 726Q386 727.1 383.9 726.8L381.4 726.5Q379.3 726.3 377.1 724.4L374.7 722.3Q372.6 720.4 371 717.5Z" fill="#ee3030"/>
<path d="M392.7 712.7Q391 711.5 392.1 710.6L393.3 709.5Q394.4 708.6 396 709.5L397.8 710.6Q399.4 711.5 398.4 712.7L397.2 714.1Q396.1 715.4 394.5 714.1Z" fill="#ee3030" stroke="none"/>
<path d="M398.4 712.7L397.2 714.1Q396.1 715.4 394.5 714.1M394.5 714.1L392.7 712.7" fill="none"/>
<path d="M387.1 738.8Q386.8 737.2 388.2 737.7L389.7 738.3Q391 738.9 391.3 740.2L391.6 741.7Q391.9 743.1 390.5 742.8L389 742.5Q387.7 742.2 387.4 740.6Z" fill="#ee3030"/>
<path d="M377 713.5Q375.9 711.5 377.2 710.5L378.7 709.3Q380 708.3 381.9 709.3L384.1 710.5Q386 711.5 385.5 713.3L384.9 715.3Q384.3 717 382.7 717.3L380.9 717.6Q379.3 717.9 378.2 715.8Z" fill="#f0e826" stroke="none"/>
<path d="M385.5 713.3L384.9 715.3Q384.3 717 382.7 717.3M382.7 717.3L380.9 717.6Q379.3 717.9 378.2 715.8M378.2 715.8L377 713.5" fill="none"/>
<path d="M359.4 757.2Q359.1 756 360.7 755.9L362.3 755.8Q363.8 755.6 364 756.9L364.1 758.3Q364.2 759.5 362.8 759.6L361.3 759.7Q360 759.8 359.7 758.6Z" fill="#f37028"/>
<path d="M340.6 766.3Q339.8 765.7 341.2 764.9L342.7 764Q344 763.2 345.1 764L346.3 764.9Q347.4 765.7 345.8 766.3L344 766.9Q342.4 767.4 341.6 766.9Z" fill="#f37028"/>
<path d="M355.5 771Q354.1 769.1 355.7 769.9L357.5 770.8Q359.1 771.6 361 773.2L363.1 775Q365 776.6 365.6 777.7L366.2 778.9Q366.7 780 365.1 780.3L363.3 780.6Q361.7 780.8 360.6 778.9L359.4 776.8Q358.3 775 357 773.1Z" fill="#f37028"/>
<path d="M379.6 774Q379.3 773.3 382 772.7L385 772.1Q387.7 771.6 392.8 772.3L398.5 773.1Q403.6 773.8 403.4 774.3L403.1 774.9Q402.8 775.5 398 775.6L392.5 775.7Q387.7 775.8 385.3 775.7L382.5 775.6Q380.1 775.5 379.9 774.8Z" fill="#f37028"/>
<path d="M322.5 774Q322.2 772.8 324 772.7L326 772.5Q327.8 772.4 327.9 773.7L328 775.1Q328.1 776.3 326.5 776.4L324.7 776.5Q323.1 776.6 322.8 775.4Z" fill="#f37028"/>
<path d="M328.3 788.6Q326.4 786.7 328.8 787.2L331.6 787.8Q334 788.4 336.7 787.6L339.7 786.7Q342.4 785.9 344.8 788.3L347.5 791Q349.9 793.4 352.1 795.8L354.5 798.6Q356.6 801 357.2 802.6L357.8 804.4Q358.3 806 356.4 806.5L354.3 807.1Q352.4 807.7 350.3 806.3L347.9 804.8Q345.7 803.5 343.6 801.6L341.2 799.5Q339 797.6 336.9 796L334.4 794.2Q332.3 792.6 330.4 790.7Z" fill="#f37028"/>
<path d="M360.5 789.7Q360 788.4 361.9 787.8L364 787.2Q365.9 786.7 367.5 788L369.3 789.6Q370.9 790.9 371.2 793.6L371.5 796.6Q371.7 799.3 370.1 798.2L368.3 797Q366.7 795.9 365.1 794.9L363.3 793.7Q361.7 792.6 361.1 791.2Z" fill="#f37028"/>
<path d="M367.5 812.7Q367.5 811.4 369.2 811.3L371 811.2Q372.6 811 372.6 812.5L372.6 814.1Q372.6 815.5 371.9 816.1L371.2 816.7Q370.6 817.3 369.6 816.7L368.5 816.1Q367.5 815.5 367.5 814.2Z" fill="#f37028" stroke="none"/>
<path d="M369.2 811.3L371 811.2Q372.6 811 372.6 812.5M372.6 812.5L372.6 814.1M367.5 814.2L367.5 812.7Q367.5 811.4 369.2 811.3" fill="none"/>
<path d="M363.3 727.9Q362.5 726.3 364.1 725.7L365.9 725.1Q367.5 724.6 369.7 726.7L372.1 729.2Q374.3 731.3 374.5 732.6L374.8 734.2Q375.1 735.5 373.2 735.5L371.1 735.5Q369.2 735.5 367.9 734.2L366.4 732.6Q365 731.3 364.2 729.7Z" fill="#5eb95c"/>
<path d="M394.4 725.6Q393.6 723.8 394.9 722.1L396.4 720.3Q397.8 718.7 399.4 719.8L401.2 721Q402.8 722.1 404.3 723.7L406 725.5Q407.5 727.1 408.5 729L409.7 731.2Q410.7 733.1 409.7 734.4L408.5 735.9Q407.5 737.2 405.5 736.1L403.2 734.9Q401.1 733.8 399.5 732.5L397.7 731Q396.1 729.6 395.3 727.7Z" fill="#5eb95c" stroke="none"/>
<path d="M394.9 722.1L396.4 720.3Q397.8 718.7 399.4 719.8M399.4 719.8L401.2 721Q402.8 722.1 404.3 723.7M404.3 723.7L406 725.5M405.5 736.1L403.2 734.9Q401.1 733.8 399.5 732.5M399.5 732.5L397.7 731Q396.1 729.6 395.3 727.7M395.3 727.7L394.4 725.6Q393.6 723.8 394.9 722.1" fill="none"/>
<path d="M310.7 734.1Q309.6 733 311.2 732.2L313.1 731.3Q314.7 730.5 315.7 731.8L316.9 733.3Q318 734.7 316.4 735.2L314.6 735.8Q313 736.3 311.9 735.3Z" fill="#5eb95c"/>
<path d="M299.8 741.6Q297.9 740.5 300 738.9L302.4 737.1Q304.6 735.5 306.2 737.7L308 740.1Q309.6 742.2 307.7 742.8L305.6 743.4Q303.8 743.9 301.9 742.8Z" fill="#5eb95c"/>
<path d="M330.8 749.4Q329.8 748.1 331.1 747L332.6 745.8Q334 744.7 335.3 746.6L336.8 748.7Q338.2 750.6 336.6 751.1L334.7 751.8Q333.1 752.3 332.1 750.9Z" fill="#5eb95c"/>
<path d="M357.1 742.2Q355.8 741.4 357.4 740L359.2 738.5Q360.8 737.2 362.2 739.1L363.7 741.2Q365 743.1 363.4 743.3L361.6 743.6Q360 743.9 358.6 743.1Z" fill="#5eb95c"/>
<path d="M357.4 764.5Q356.6 763.2 358 762.9L359.5 762.6Q360.8 762.4 362.4 764.2L364.3 766.4Q365.9 768.2 365.1 768.8L364.2 769.4Q363.3 769.9 362 769.1L360.5 768.2Q359.1 767.4 358.3 766.1Z" fill="#5eb95c"/>
<path d="M395.4 766.5Q393.6 765.7 395.2 764.6L397 763.4Q398.6 762.4 400.2 763.4L402 764.6Q403.6 765.7 402.3 766.5L400.8 767.4Q399.4 768.2 397.6 767.4Z" fill="#5eb95c"/>
<path d="M394.6 784.2Q393.6 783.3 395.4 782.5L397.6 781.6Q399.4 780.8 400.2 781.9L401.1 783.1Q402 784.2 400.3 784.7L398.5 785.3Q396.9 785.9 395.8 785.1Z" fill="#5eb95c"/>
<path d="M310.2 781.3Q309.6 780 311.2 779.5L313.1 778.8Q314.7 778.3 315.5 780.2L316.4 782.3Q317.2 784.2 316.1 785.5L314.9 787Q313.8 788.4 313 787L312.1 785.5Q311.3 784.2 310.8 782.8Z" fill="#5eb95c"/>
<path d="M358 797.5Q356.6 795.1 357.7 795.4L358.9 795.7Q360 795.9 361.3 797.5L362.8 799.4Q364.2 801 363.1 801.5L361.9 802.1Q360.8 802.6 359.5 800.2Z" fill="#5eb95c"/>
<path d="M349.1 813.8Q349.1 813.1 353.4 813L358.2 812.8Q362.5 812.7 362.5 813.6L362.5 814.6Q362.5 815.5 360.7 816.5L358.6 817.7Q356.8 818.7 354.3 817.7L351.5 816.5Q349.1 815.5 349.1 814.7Z" fill="#5eb95c" stroke="none"/>
<path d="M353.4 813L358.2 812.8Q362.5 812.7 362.5 813.6M362.5 813.6L362.5 814.6M349.1 814.7L349.1 813.8Q349.1 813.1 353.4 813" fill="none"/>
<path d="M409.8 722.8Q408.7 721.2 411.4 720.7L414.4 720.1Q417.1 719.6 420.3 719.6L423.9 719.6Q427.1 719.6 429.6 720.6L432.3 721.8Q434.7 722.9 433.9 724.8L433 726.9Q432.2 728.8 433.8 729.3L435.6 729.9Q437.2 730.5 439.4 732.6L441.8 735Q443.9 737.2 445 739.9L446.2 742.9Q447.3 745.6 445.9 746.1L444.4 746.7Q443.1 747.3 441.2 745.6L439.1 743.8Q437.2 742.2 435.6 742.5L433.8 742.8Q432.2 743.1 429.5 742.8L426.5 742.5Q423.8 742.2 422.4 740.6L420.9 738.8Q419.6 737.2 420.9 736.1L422.4 734.9Q423.8 733.8 421.6 732.2L419.2 730.4Q417.1 728.8 415.5 728L413.6 727.1Q412 726.3 411 724.7Z" fill="#f37028"/>
<path d="M416.4 723.4Q414.6 722.1 417.5 721.8L420.8 721.5Q423.8 721.2 426.2 722L428.9 722.9Q431.3 723.8 430.5 724.8L429.6 726Q428.8 727.1 426.1 726.8L423.1 726.5Q420.4 726.3 418.5 724.9Z" fill="#ee3030"/>
<path d="M424.3 738.5Q423.8 737.2 428.1 737.4L432.9 737.8Q437.2 738 437.5 739.1L437.8 740.3Q438.1 741.4 434 741.4L429.5 741.4Q425.5 741.4 424.9 740Z" fill="#a3161b"/>
<path d="M445.1 714.9Q447.3 711.5 448.9 710.5L450.6 709.3Q452.2 708.3 454.4 709.3L456.9 710.5Q459 711.5 460.9 714.3L463 717.5Q464.9 720.4 464.1 723.1L463.2 726.1Q462.4 728.8 465.1 730.9L468.1 733.4Q470.8 735.5 472.9 736.8L475.4 738.4Q477.5 739.7 479.7 740L482.1 740.3Q484.2 740.5 484.8 743.2L485.4 746.2Q485.9 748.9 487.5 751.1L489.3 753.5Q490.9 755.6 489.9 756.7L488.7 757.9Q487.6 759 483.8 760.1L479.6 761.3Q475.8 762.4 474.5 759.7L473 756.7Q471.6 754 471.9 751.3L472.2 748.3Q472.5 745.6 469.8 745L466.8 744.4Q464.1 743.9 461.9 742.3L459.5 740.5Q457.4 738.9 455.2 736.7L452.8 734.3Q450.6 732.1 448.5 730.3L446.1 728.1Q443.9 726.3 442.9 724.9L441.6 723.4Q440.6 722.1 442.7 718.7Z" fill="#f37028" stroke="none"/>
<path d="M460.9 714.3L463 717.5Q464.9 720.4 464.1 723.1M464.1 723.1L463.2 726.1Q462.4 728.8 465.1 730.9M465.1 730.9L468.1 733.4Q470.8 735.5 472.9 736.8M472.9 736.8L475.4 738.4Q477.5 739.7 479.7 740M479.7 740L482.1 740.3Q484.2 740.5 484.8 743.2M484.8 743.2L485.4 746.2Q485.9 748.9 487.5 751.1M487.5 751.1L489.3 753.5Q490.9 755.6 489.9 756.7M489.9 756.7L488.7 757.9Q487.6 759 483.8 760.1M483.8 760.1L479.6 761.3Q475.8 762.4 474.5 759.7M474.5 759.7L473 756.7Q471.6 754 471.9 751.3M471.9 751.3L472.2 748.3Q472.5 745.6 469.8 745M469.8 745L466.8 744.4Q464.1 743.9 461.9 742.3M461.9 742.3L459.5 740.5Q457.4 738.9 455.2 736.7M455.2 736.7L452.8 734.3Q450.6 732.1 448.5 730.3M448.5 730.3L446.1 728.1Q443.9 726.3 442.9 724.9M442.9 724.9L441.6 723.4Q440.6 722.1 442.7 718.7M442.7 718.7L445.1 714.9" fill="none"/>
<path d="M447.3 725.4Q446.4 723.8 449.4 723.5L452.7 723.2Q455.7 722.9 456.8 725.3L458 728Q459 730.5 461.2 732.6L463.6 735Q465.8 737.2 467.6 738.5L469.7 740Q471.6 741.4 470.8 742.7L469.9 744.2Q469.1 745.6 467 744.5L464.5 743.3Q462.4 742.2 460.2 740.1L457.8 737.7Q455.7 735.5 453.5 733.4L451.1 730.9Q449 728.8 448.2 727.2Z" fill="#ee3030"/>
<path d="M461.3 738.5Q460.7 737.2 462.6 738L464.7 738.9Q466.6 739.7 466.9 741L467.2 742.6Q467.4 743.9 465.8 743.1L464 742.2Q462.4 741.4 461.9 740Z" fill="#a3161b"/>
<path d="M448.4 752.2Q447.3 749.8 449.4 751.1L451.9 752.6Q454 754 456.2 756.1L458.6 758.5Q460.7 760.7 462.3 763.4L464.1 766.4Q465.8 769.1 467.1 771.8L468.6 774.8Q470 777.5 468.1 776.9L466 776.3Q464.1 775.8 462.5 775.8L460.7 775.8Q459 775.8 458.5 778.5L457.9 781.5Q457.4 784.2 456.3 786.3L455.1 788.8Q454 790.9 452.4 790.6L450.6 790.3Q449 790.1 450.6 787.6L452.4 784.9Q454 782.5 454.3 779.8L454.6 776.8Q454.8 774.1 454 770.9L453.1 767.3Q452.3 764 451.8 761.9L451.2 759.5Q450.6 757.3 449.6 754.9Z" fill="#f37028"/>
<path d="M457.3 768.1Q455.7 765.7 457.3 766.5L459.1 767.4Q460.7 768.2 462.3 770.4L464.1 772.8Q465.8 775 464.1 774.4L462.3 773.8Q460.7 773.3 459.1 770.9Z" fill="#a3161b"/>
<path d="M500.9 715.8Q498.5 713.7 500.4 713L502.5 712.2Q504.4 711.5 506.5 713.8L508.9 716.4Q511.1 718.7 514.7 719.8L518.8 721Q522.5 722.1 523.5 724L524.7 726.1Q525.7 728.1 524.7 729.4L523.5 730.8Q522.5 732.1 519.9 730.5L517 728.7Q514.4 727.1 511.8 725L508.7 722.5Q506 720.4 503.6 718.2Z" fill="#f37028" stroke="none"/>
<path d="M500.4 713L502.5 712.2Q504.4 711.5 506.5 713.8M506.5 713.8L508.9 716.4Q511.1 718.7 514.7 719.8M514.7 719.8L518.8 721M519.9 730.5L517 728.7Q514.4 727.1 511.8 725M511.8 725L508.7 722.5Q506 720.4 503.6 718.2M503.6 718.2L500.9 715.8Q498.5 713.7 500.4 713" fill="none"/>
<path d="M519.6 738.4Q519.5 733.8 520.4 733.8L521.5 733.8Q522.5 733.8 523.5 736.5L524.7 739.6Q525.7 742.3 524.7 744.4L523.5 746.8Q522.5 748.9 521.6 748.7L520.7 748.4Q519.8 748.1 519.7 743.5Z" fill="#f37028" stroke="none"/>
<path d="M520.4 733.8L521.5 733.8M521.6 748.7L520.7 748.4Q519.8 748.1 519.7 743.5M519.7 743.5L519.6 738.4Q519.5 733.8 520.4 733.8" fill="none"/>
<path d="M488.7 789.1Q487.6 786.7 490.8 786.7L494.4 786.7Q497.6 786.7 501.4 787.5L505.6 788.4Q509.4 789.2 508.3 791.4L507.1 793.8Q506 795.9 504.4 796.5L502.6 797.1Q501 797.6 501.5 800.3L502.1 803.3Q502.7 806 503.8 808.2L505 810.6Q506 812.7 504.4 812.2L502.6 811.6Q501 811 498.9 808.4L496.4 805.3Q494.3 802.6 493.2 800L492 796.9Q490.9 794.3 489.9 791.8Z" fill="#f37028"/>
<path d="M436.6 788Q436.4 785.9 437.7 787.5L439.2 789.3Q440.6 790.9 442.7 792L445.1 793.2Q447.3 794.3 449.4 794.8L451.9 795.4Q454 795.9 456.2 793.8L458.6 791.4Q460.7 789.2 463.4 789.8L466.4 790.4Q469.1 790.9 471.8 792.5L474.8 794.3Q477.5 795.9 478.6 798.6L479.8 801.6Q480.9 804.3 483 807.9L485.4 811.9Q487.6 815.5 481.7 816.5L475.1 817.7Q469.2 818.7 462.7 817.7L455.5 816.5Q449 815.5 447.9 812.5L446.7 809Q445.6 806 443.5 803.9L441 801.4Q438.9 799.3 438.4 797.1L437.8 794.7Q437.2 792.6 436.9 790.4Z" fill="#f37028" stroke="none"/>
<path d="M437.7 787.5L439.2 789.3Q440.6 790.9 442.7 792M442.7 792L445.1 793.2Q447.3 794.3 449.4 794.8M449.4 794.8L451.9 795.4Q454 795.9 456.2 793.8M456.2 793.8L458.6 791.4Q460.7 789.2 463.4 789.8M463.4 789.8L466.4 790.4Q469.1 790.9 471.8 792.5M471.8 792.5L474.8 794.3Q477.5 795.9 478.6 798.6M478.6 798.6L479.8 801.6Q480.9 804.3 483 807.9M483 807.9L485.4 811.9M447.9 812.5L446.7 809Q445.6 806 443.5 803.9M443.5 803.9L441 801.4Q438.9 799.3 438.4 797.1M438.4 797.1L437.8 794.7Q437.2 792.6 436.9 790.4M436.9 790.4L436.6 788Q436.4 785.9 437.7 787.5" fill="none"/>
<path d="M461.3 791.4Q460.7 790.1 463.4 790.6L466.4 791.2Q469.1 791.7 471.5 793.6L474.2 795.7Q476.7 797.6 477.2 799.5L477.8 801.6Q478.3 803.5 477 803.2L475.5 802.9Q474.1 802.6 472.5 801L470.7 799.2Q469.1 797.6 467 796.5L464.5 795.3Q462.4 794.3 461.9 792.9Z" fill="#ee3030"/>
<path d="M466.2 793.9Q464.1 791.7 466 792.3L468.1 792.9Q470 793.4 471.8 795.3L473.9 797.4Q475.8 799.3 474.2 799L472.4 798.7Q470.8 798.5 468.6 796.3Z" fill="#a3161b"/>
<path d="M451.8 808.5Q451.5 805.2 453.4 804.4L455.5 803.5Q457.4 802.6 461.1 803.5L465.4 804.4Q469.1 805.2 469.9 807L470.8 809.2Q471.6 811 469.7 812.5L467.6 814.1Q465.8 815.5 463.9 816.5L461.8 817.7Q460 818.7 457.5 817.7L454.8 816.5Q452.3 815.5 452.1 812.2Z" fill="#ee3030" stroke="none"/>
<path d="M453.4 804.4L455.5 803.5Q457.4 802.6 461.1 803.5M461.1 803.5L465.4 804.4Q469.1 805.2 469.9 807M469.9 807L470.8 809.2Q471.6 811 469.7 812.5M469.7 812.5L467.6 814.1M452.1 812.2L451.8 808.5Q451.5 805.2 453.4 804.4" fill="none"/>
<path d="M461 807.1Q460.7 806 462.3 806L464.1 806Q465.8 806 466 807.1L466.3 808.3Q466.6 809.4 465 809.4L463.2 809.4Q461.6 809.4 461.3 808.3Z" fill="#5f6364"/>
<path d="M424.3 798.7Q423.8 797.6 425.4 796.8L427.2 795.9Q428.8 795.1 431 796.4L433.4 797.9Q435.5 799.3 433.9 800.4L432.1 801.6Q430.5 802.6 428.9 802.1L427.1 801.5Q425.5 801 424.9 799.9Z" fill="#f37028"/>
<path d="M405.9 789Q406.5 788.4 408 788.6L409.7 789Q411.2 789.2 411.2 790.6L411.2 792.1Q411.2 793.4 409.7 793.4L408 793.4Q406.5 793.4 405.9 792.4L405.3 791.3Q404.7 790.4 405.3 789.7Z" fill="#f37028" stroke="none"/>
<path d="M408 788.6L409.7 789Q411.2 789.2 411.2 790.6M411.2 790.6L411.2 792.1Q411.2 793.4 409.7 793.4M409.7 793.4L408 793.4" fill="none"/>
<path d="M415.4 813.3Q415.4 812.2 417.5 812.1L420 812Q422.1 811.9 422.1 813L422.1 814.3Q422.1 815.5 421.3 816.2L420.3 817.1Q419.5 817.8 418.2 817.1L416.7 816.2Q415.4 815.5 415.4 814.4Z" fill="#f37028" stroke="none"/>
<path d="M417.5 812.1L420 812Q422.1 811.9 422.1 813M422.1 813L422.1 814.3M415.4 814.4L415.4 813.3Q415.4 812.2 417.5 812.1" fill="none"/>
<path d="M405.6 712.7Q406.5 711.5 411.2 710.5L416.5 709.3Q421.1 708.3 426.3 709.3L432.1 710.5Q437.2 711.5 437.8 713.3L438.4 715.3Q438.9 717 436.2 717.8L433.2 718.7Q430.5 719.6 428.4 718.7L425.9 717.8Q423.8 717 421.1 717.3L418.1 717.6Q415.4 717.9 412.5 718.7L409.3 719.6Q406.5 720.4 405.6 718.8L404.5 716.9Q403.6 715.3 404.5 714.1Z" fill="#5eb95c" stroke="none"/>
<path d="M437.8 713.3L438.4 715.3Q438.9 717 436.2 717.8M436.2 717.8L433.2 718.7Q430.5 719.6 428.4 718.7M428.4 718.7L425.9 717.8Q423.8 717 421.1 717.3M421.1 717.3L418.1 717.6Q415.4 717.9 412.5 718.7M412.5 718.7L409.3 719.6" fill="none"/>
<path d="M405.5 728.4Q406.5 727.1 408.3 727.9L410.3 728.8Q412 729.6 412.8 731.5L413.7 733.6Q414.6 735.5 413.2 736.3L411.7 737.2Q410.4 738 409.1 737.8L407.7 737.4Q406.5 737.2 405.5 735.3L404.3 733.1Q403.3 731.2 404.3 729.9Z" fill="#5eb95c" stroke="none"/>
<path d="M408.3 727.9L410.3 728.8Q412 729.6 412.8 731.5M412.8 731.5L413.7 733.6Q414.6 735.5 413.2 736.3M413.2 736.3L411.7 737.2Q410.4 738 409.1 737.8M409.1 737.8L407.7 737.4" fill="none"/>
<path d="M424 732.6Q422.9 731.3 424.8 730L426.9 728.5Q428.8 727.1 430.7 727.6L432.8 728.2Q434.7 728.8 433.9 730.7L433 732.8Q432.2 734.7 430.3 734.9L428.2 735.2Q426.3 735.5 425.2 734.2Z" fill="#5eb95c"/>
<path d="M471 717.3Q469.1 716.2 470.7 715.4L472.5 714.5Q474.1 713.7 475.8 714.8L477.6 716Q479.2 717 477.8 717.8L476.3 718.7Q475 719.6 473.1 718.5Z" fill="#5eb95c"/>
<path d="M467.9 732.7Q466.6 732.1 469 730.8L471.7 729.3Q474.1 727.9 476.6 729L479.3 730.2Q481.7 731.3 480.4 732.4L478.8 733.6Q477.5 734.7 475.4 734.4L472.9 734.1Q470.8 733.8 469.4 733.3Z" fill="#5eb95c"/>
<path d="M505.2 729.8Q505.2 727.9 507.1 727.4L509.2 726.8Q511.1 726.3 513 728.7L515.1 731.4Q517 733.8 515.9 736.8L514.7 740.1Q513.6 743.1 511.7 742L509.6 740.8Q507.7 739.7 506.9 737.8L506 735.7Q505.2 733.8 505.2 731.9Z" fill="#5eb95c"/>
<path d="M411.7 748.8Q411.2 745.6 413.6 745L416.3 744.4Q418.8 743.9 422 744.4L425.6 745Q428.8 745.6 432 746.1L435.7 746.7Q438.9 747.3 441 749.4L443.5 751.8Q445.6 754 447 756.7L448.5 759.7Q449.8 762.4 450.3 765.6L450.9 769.2Q451.5 772.4 450.7 775.1L449.8 778.1Q449 780.8 447.6 781.4L446.1 782Q444.8 782.5 443.4 780.4L441.9 777.9Q440.6 775.8 439.8 773.1L438.9 770.1Q438.1 767.4 437 766.3L435.8 765.1Q434.7 764 433.9 765.7L433 767.5Q432.2 769.1 432.7 771.2L433.3 773.6Q433.9 775.8 432.2 778.5L430.4 781.5Q428.8 784.2 427.2 786.3L425.4 788.8Q423.8 790.9 421.6 792L419.2 793.2Q417.1 794.3 416.3 791.6L415.4 788.5Q414.6 785.9 415.4 782.6L416.3 779Q417.1 775.8 416.3 772.6L415.4 768.9Q414.6 765.7 414 762.5L413.4 758.9Q412.9 755.6 412.3 752.4Z" fill="#5eb95c"/>
<path d="M451.8 749.4Q451.5 748.1 453.4 747L455.5 745.8Q457.4 744.7 460 746.1L463.1 747.6Q465.8 748.9 465.5 751.1L465.2 753.5Q464.9 755.6 462.5 755.1L459.8 754.5Q457.4 754 455.7 753.4L453.9 752.8Q452.3 752.3 452.1 750.9Z" fill="#5eb95c"/>
<path d="M503.5 764.5Q503.5 762.4 504.9 759.9L506.4 757.2Q507.7 754.8 510.4 754.3L513.4 753.7Q516.1 753.1 518.2 753.4L520.5 753.7Q522.5 754 523.5 758.6L524.7 763.8Q525.7 768.4 524.7 772.3L523.5 776.8Q522.5 780.8 519.9 780.3L517 779.7Q514.4 779.1 512 777.5L509.3 775.7Q506.9 774.1 505.8 772.5L504.6 770.7Q503.5 769.1 503.5 766.9Z" fill="#5eb95c" stroke="none"/>
<path d="M504.9 759.9L506.4 757.2Q507.7 754.8 510.4 754.3M510.4 754.3L513.4 753.7Q516.1 753.1 518.2 753.4M518.2 753.4L520.5 753.7M519.9 780.3L517 779.7Q514.4 779.1 512 777.5M512 777.5L509.3 775.7Q506.9 774.1 505.8 772.5M505.8 772.5L504.6 770.7Q503.5 769.1 503.5 766.9M503.5 766.9L503.5 764.5Q503.5 762.4 504.9 759.9" fill="none"/>
<path d="M473 775.2Q473.3 773.3 475.7 771.9L478.4 770.4Q480.9 769.1 483.5 769.9L486.6 770.8Q489.3 771.6 490.3 773.5L491.5 775.6Q492.6 777.5 490.5 778L488 778.6Q485.9 779.1 483.8 778.3L481.3 777.4Q479.2 776.6 478.6 778.5L478 780.6Q477.5 782.5 479.1 784.7L480.9 787.1Q482.5 789.2 481.5 790.3L480.3 791.5Q479.2 792.6 476.5 791L473.5 789.2Q470.8 787.5 468.1 787L465.1 786.4Q462.4 785.9 461.9 784.3L461.3 782.4Q460.7 780.8 462.9 780.3L465.3 779.7Q467.4 779.1 469 779.1L470.9 779.1Q472.5 779.1 472.7 777.3Z" fill="#5eb95c"/>
<path d="M417.9 798.9Q417.1 795.9 418.7 798.1L420.5 800.5Q422.1 802.6 424.8 803.7L427.8 804.9Q430.5 806 433.2 806.5L436.2 807.1Q438.9 807.7 437.8 808.8L436.6 810Q435.5 811 432.3 810.8L428.7 810.5Q425.5 810.2 423.6 808.6L421.5 806.8Q419.6 805.2 418.8 802.2Z" fill="#5eb95c"/>
<path d="M481.1 796.4Q480.9 794.3 482.5 794.8L484.3 795.4Q485.9 795.9 487.5 798.1L489.3 800.5Q490.9 802.6 493.1 804.8L495.5 807.2Q497.6 809.4 500.9 811.3L504.5 813.5Q507.7 815.5 505.3 816.5L502.7 817.7Q500.3 818.7 497.3 817.7L493.9 816.5Q490.9 815.5 489.3 813L487.5 810.2Q485.9 807.7 484.6 805.5L483 803.1Q481.7 801 481.4 798.8Z" fill="#5eb95c" stroke="none"/>
<path d="M482.5 794.8L484.3 795.4Q485.9 795.9 487.5 798.1M487.5 798.1L489.3 800.5Q490.9 802.6 493.1 804.8M493.1 804.8L495.5 807.2Q497.6 809.4 500.9 811.3M500.9 811.3L504.5 813.5M489.3 813L487.5 810.2Q485.9 807.7 484.6 805.5M484.6 805.5L483 803.1Q481.7 801 481.4 798.8M481.4 798.8L481.1 796.4Q480.9 794.3 482.5 794.8" fill="none"/>
<path d="M512.2 802Q511.1 800.1 512.7 800.7L514.5 801.3Q516.1 801.8 518.2 803.7L520.5 805.8Q522.5 807.7 522.7 808L522.9 808.4Q523.1 808.7 522.9 808.9L522.7 809.2Q522.5 809.4 519.9 808.3L517 807.1Q514.4 806 513.4 804.1Z" fill="#5eb95c" stroke="none"/>
<path d="M512.7 800.7L514.5 801.3Q516.1 801.8 518.2 803.7M518.2 803.7L520.5 805.8M519.9 808.3L517 807.1Q514.4 806 513.4 804.1M513.4 804.1L512.2 802Q511.1 800.1 512.7 800.7" fill="none"/>
<path d="M461.8 800.4Q460.7 799.3 462.1 798.5L463.6 797.6Q464.9 796.8 466 798.1L467.2 799.6Q468.3 801 466.9 801.5L465.4 802.1Q464.1 802.6 463 801.6Z" fill="#5eb95c"/>
<path d="M80.9 816.8Q78.8 814.5 82.8 813.5L87.3 812.3Q91.3 811.3 95.9 812.3L101 813.5Q105.6 814.5 107.3 817.9L109.1 821.7Q110.7 825.1 111.2 827.8L111.8 830.8Q112.4 833.5 111.3 835.1L110.1 836.9Q109 838.5 106.9 838L104.4 837.4Q102.3 836.8 100.1 837.6L97.7 838.5Q95.6 839.3 94 836.9L92.1 834.2Q90.5 831.8 91.1 829.6L91.7 827.2Q92.2 825.1 90.1 824L87.7 822.8Q85.5 821.7 83.4 819.4Z" fill="#5eb95c" stroke="none"/>
<path d="M107.3 817.9L109.1 821.7Q110.7 825.1 111.2 827.8M111.2 827.8L111.8 830.8Q112.4 833.5 111.3 835.1M111.3 835.1L110.1 836.9Q109 838.5 106.9 838M106.9 838L104.4 837.4Q102.3 836.8 100.1 837.6M100.1 837.6L97.7 838.5Q95.6 839.3 94 836.9M94 836.9L92.1 834.2Q90.5 831.8 91.1 829.6M91.1 829.6L91.7 827.2Q92.2 825.1 90.1 824M90.1 824L87.7 822.8Q85.5 821.7 83.4 819.4M83.4 819.4L80.9 816.8" fill="none"/>
<path d="M63.7 839.5Q63.7 836.8 66.4 835.2L69.4 833.4Q72.1 831.8 75.3 831.5L78.9 831.2Q82.1 830.9 82.7 832.8L83.3 834.9Q83.8 836.8 82.2 838.4L80.4 840.2Q78.8 841.9 78.2 844L77.6 846.4Q77.1 848.6 78.7 852.3L80.5 856.6Q82.1 860.3 81.1 861.9L79.9 863.7Q78.8 865.4 76.6 862.1L74.2 858.5Q72.1 855.3 70.5 853.1L68.6 850.7Q67 848.6 66 847.5L64.8 846.3Q63.7 845.2 63.7 842.5Z" fill="#f37028"/>
<path d="M92.2 850.7Q92.2 846.9 93.8 845.3L95.6 843.5Q97.3 841.9 99.9 841.6L103 841.3Q105.6 841 109.4 841.8L113.6 842.7Q117.4 843.5 120.6 844.9L124.2 846.4Q127.5 847.7 128.3 848.8L129.2 850Q130 851.1 127.6 851.9L124.9 852.8Q122.4 853.6 119.2 853.3L115.6 853Q112.4 852.8 111.8 854.1L111.2 855.6Q110.7 857 112.8 859.7L115.2 862.7Q117.4 865.4 118.5 868L119.7 871.1Q120.8 873.8 121 875.6L121.3 877.7Q121.6 879.6 119.7 878.8L117.6 877.9Q115.7 877.1 114.1 873.9L112.3 870.3Q110.7 867 108.5 865.4L106.1 863.6Q104 862 101.3 862.3L98.3 862.6Q95.6 862.8 94.5 861.5L93.3 860Q92.2 858.6 92.2 854.9Z" fill="#f37028"/>
<path d="M95 850.7Q93.9 847.7 95.5 846.7L97.3 845.5Q98.9 844.4 100.5 845.7L102.4 847.2Q104 848.6 103.7 850.7L103.4 853.1Q103.1 855.3 101.2 855.8L99.1 856.4Q97.3 857 96.2 854Z" fill="#ee3030"/>
<path d="M110.6 820.4Q109 816.7 110.6 816L112.4 815.2Q114 814.5 116.7 813.5L119.7 812.3Q122.3 811.3 125.6 812.3L129.2 813.5Q132.5 814.5 133.6 817.3L134.8 820.5Q135.9 823.4 135.3 826.1L134.7 829.1Q134.2 831.8 133.1 829.6L131.9 827.2Q130.8 825.1 129.2 824.5L127.4 823.9Q125.8 823.4 125.3 825.5L124.6 828Q124.1 830.1 122 832L119.5 834.1Q117.4 836 116.3 833.6L115.1 830.8Q114 828.4 112.4 824.7Z" fill="#f37028" stroke="none"/>
<path d="M110.6 816L112.4 815.2M133.6 817.3L134.8 820.5Q135.9 823.4 135.3 826.1M135.3 826.1L134.7 829.1Q134.2 831.8 133.1 829.6M133.1 829.6L131.9 827.2Q130.8 825.1 129.2 824.5M129.2 824.5L127.4 823.9Q125.8 823.4 125.3 825.5M125.3 825.5L124.6 828Q124.1 830.1 122 832M122 832L119.5 834.1Q117.4 836 116.3 833.6M116.3 833.6L115.1 830.8Q114 828.4 112.4 824.7M112.4 824.7L110.6 820.4Q109 816.7 110.6 816" fill="none"/>
<path d="M137.5 823.6Q135.9 821.7 139.1 822L142.7 822.3Q145.9 822.6 147.5 820L149.4 817.1Q151 814.5 152 813.6L153.2 812.5Q154.3 811.6 155.9 812.5L157.7 813.6Q159.4 814.5 158.3 817.3L157.1 820.5Q156 823.4 158.2 825.5L160.6 828Q162.7 830.1 163.8 832.8L165 835.8Q166.1 838.5 166.1 841.7L166.1 845.4Q166.1 848.6 165 850.2L163.8 852Q162.7 853.6 160.6 850.9L158.2 847.9Q156 845.2 154.9 842.5L153.7 839.5Q152.6 836.8 153.2 834.1L153.8 831.1Q154.3 828.4 152.2 827.9L149.8 827.3Q147.6 826.8 145.5 827L143 827.3Q140.9 827.6 139.3 825.7Z" fill="#f37028" stroke="none"/>
<path d="M139.1 822L142.7 822.3Q145.9 822.6 147.5 820M147.5 820L149.4 817.1M158.3 817.3L157.1 820.5Q156 823.4 158.2 825.5M158.2 825.5L160.6 828Q162.7 830.1 163.8 832.8M163.8 832.8L165 835.8Q166.1 838.5 166.1 841.7M166.1 841.7L166.1 845.4Q166.1 848.6 165 850.2M165 850.2L163.8 852Q162.7 853.6 160.6 850.9M160.6 850.9L158.2 847.9Q156 845.2 154.9 842.5M154.9 842.5L153.7 839.5Q152.6 836.8 153.2 834.1M153.2 834.1L153.8 831.1Q154.3 828.4 152.2 827.9M152.2 827.9L149.8 827.3Q147.6 826.8 145.5 827M145.5 827L143 827.3Q140.9 827.6 139.3 825.7M139.3 825.7L137.5 823.6Q135.9 821.7 139.1 822" fill="none"/>
<path d="M152.9 816.5Q151.8 814.5 152.6 813.8L153.4 813.1Q154.1 812.4 155.3 813.1L156.5 813.8Q157.7 814.5 156.9 816.5L156 818.8Q155.2 820.9 154.1 818.8Z" fill="#ee3030" stroke="none"/>
<path d="M156.9 816.5L156 818.8Q155.2 820.9 154.1 818.8M154.1 818.8L152.9 816.5" fill="none"/>
<path d="M168.3 833.1Q166.9 831.8 168.8 829.1L170.9 826.1Q172.8 823.4 174.3 823.9L176 824.5Q177.5 825.1 178.5 827.5L179.7 830.3Q180.7 832.7 179.7 834.6L178.5 836.7Q177.5 838.5 175.5 837.7L173.2 836.8Q171.1 836 169.8 834.6Z" fill="#a3161b" stroke="none"/>
<path d="M168.8 829.1L170.9 826.1Q172.8 823.4 174.3 823.9M174.3 823.9L176 824.5M175.5 837.7L173.2 836.8Q171.1 836 169.8 834.6M169.8 834.6L168.3 833.1Q166.9 831.8 168.8 829.1" fill="none"/>
<path d="M145.9 861.6Q145.1 859.5 147 860.3L149.1 861.2Q151 862 153.7 862.8L156.7 863.7Q159.4 864.5 162.6 864.8L166.2 865.1Q169.4 865.4 172 864.8L174.9 864.2Q177.5 863.7 178.1 864.7L178.7 865.8Q179.3 866.7 178.7 867.4L178.1 868.1Q177.5 868.7 173.8 869L169.7 869.3Q166.1 869.6 162.9 869.3L159.2 869Q156 868.7 153.3 867.9L150.3 867Q147.6 866.2 146.8 864.1Z" fill="#f37028" stroke="none"/>
<path d="M147 860.3L149.1 861.2Q151 862 153.7 862.8M153.7 862.8L156.7 863.7Q159.4 864.5 162.6 864.8M162.6 864.8L166.2 865.1Q169.4 865.4 172 864.8M172 864.8L174.9 864.2M173.8 869L169.7 869.3Q166.1 869.6 162.9 869.3M162.9 869.3L159.2 869Q156 868.7 153.3 867.9M153.3 867.9L150.3 867Q147.6 866.2 146.8 864.1M146.8 864.1L145.9 861.6Q145.1 859.5 147 860.3" fill="none"/>
<path d="M168.8 871.4Q167.8 868.7 170.9 868.2L174.4 867.6Q177.5 867 178.5 870.6L179.7 874.5Q180.7 878.1 179.7 881L178.5 884.3Q177.5 887.2 174.9 886.6L172 886Q169.4 885.5 168.6 883.9L167.7 882.1Q166.9 880.5 168.3 879.4L169.8 878.2Q171.1 877.1 170 874.4Z" fill="#f37028" stroke="none"/>
<path d="M170.9 868.2L174.4 867.6M174.9 886.6L172 886Q169.4 885.5 168.6 883.9M168.6 883.9L167.7 882.1Q166.9 880.5 168.3 879.4M168.3 879.4L169.8 878.2Q171.1 877.1 170 874.4M170 874.4L168.8 871.4Q167.8 868.7 170.9 868.2" fill="none"/>
<path d="M133 873.1Q131.7 870.4 133 869.9L134.5 869.3Q135.9 868.7 137.5 871.4L139.3 874.4Q140.9 877.1 144.1 878.7L147.7 880.5Q151 882.1 151.2 883.5L151.5 885Q151.8 886.3 148.9 885.5L145.5 884.6Q142.6 883.8 140.4 882.2L138 880.4Q135.9 878.8 134.5 876.1Z" fill="#f37028"/>
<path d="M106.6 883.7Q102.3 879.6 103.4 879.6L104.6 879.6Q105.6 879.6 109.7 883.4L114.2 887.6Q118.2 891.4 117.4 891.6L116.5 892Q115.7 892.2 111.4 888.2Z" fill="#f37028"/>
<path d="M83.5 890.2Q82.1 888 83.8 887.5L85.6 886.9Q87.2 886.3 88.3 888L89.5 889.8Q90.5 891.4 89.2 892.5L87.7 893.7Q86.3 894.7 85 892.6Z" fill="#f37028"/>
<path d="M74.3 908.4Q72.9 907.3 74.8 905.7L76.9 903.9Q78.8 902.3 80.1 904.4L81.6 906.9Q83 909 81.1 909.5L79 910.1Q77.1 910.7 75.8 909.6Z" fill="#f37028"/>
<path d="M129.4 888Q128.3 886.3 130.2 886.1L132.3 885.8Q134.2 885.5 136.9 888.7L139.9 892.4Q142.6 895.6 143.1 897.2L143.7 899Q144.3 900.6 142.1 899.5L139.7 898.3Q137.5 897.3 135.7 895.4L133.5 893.3Q131.7 891.4 130.6 889.8Z" fill="#f37028"/>
<path d="M134.2 890.5Q133.3 888.9 134.7 889.7L136.2 890.6Q137.5 891.4 138.6 893.3L139.8 895.4Q140.9 897.3 139.3 896.2L137.5 895Q135.9 893.9 135.1 892.3Z" fill="#a3161b"/>
<path d="M144.8 900.5Q144.3 898.9 146.9 898.1L150 897.2Q152.6 896.4 156.4 896.7L160.6 897Q164.4 897.3 167.1 898.3L170.1 899.5Q172.8 900.6 174.3 900.1L176 899.5Q177.5 898.9 178.5 902.3L179.7 906.1Q180.7 909.4 179.7 912.3L178.5 915.6Q177.5 918.5 176.6 919.1L175.6 919.9Q174.7 920.5 173.5 919.9L172.3 919.1Q171.1 918.5 169.5 914.9L167.7 910.9Q166.1 907.3 164.5 905.7L162.7 903.9Q161 902.3 158.4 902L155.3 901.7Q152.6 901.5 150.5 902.3L148.1 903.2Q145.9 904 145.4 902.4Z" fill="#f37028" stroke="none"/>
<path d="M146.9 898.1L150 897.2Q152.6 896.4 156.4 896.7M156.4 896.7L160.6 897Q164.4 897.3 167.1 898.3M167.1 898.3L170.1 899.5Q172.8 900.6 174.3 900.1M174.3 900.1L176 899.5M169.5 914.9L167.7 910.9Q166.1 907.3 164.5 905.7M164.5 905.7L162.7 903.9Q161 902.3 158.4 902M158.4 902L155.3 901.7Q152.6 901.5 150.5 902.3M150.5 902.3L148.1 903.2Q145.9 904 145.4 902.4M145.4 902.4L144.8 900.5Q144.3 898.9 146.9 898.1" fill="none"/>
<path d="M130.2 910.3Q129.1 906.5 130.8 905.7L132.6 904.8Q134.2 904 136.9 905.6L139.9 907.4Q142.6 909 142.3 912L142 915.5Q141.7 918.5 140.6 919.5L139.3 920.7Q138.1 921.7 136.3 920.7L134.3 919.5Q132.5 918.5 131.4 914.7Z" fill="#f37028" stroke="none"/>
<path d="M130.8 905.7L132.6 904.8Q134.2 904 136.9 905.6M136.9 905.6L139.9 907.4Q142.6 909 142.3 912M142.3 912L142 915.5M131.4 914.7L130.2 910.3Q129.1 906.5 130.8 905.7" fill="none"/>
<path d="M132.5 908.4Q131.7 906.5 133.3 906.5L135.1 906.5Q136.7 906.5 137.5 908.1L138.4 909.9Q139.2 911.5 137.6 911.8L135.8 912.1Q134.2 912.4 133.4 910.5Z" fill="#ee3030"/>
<path d="M104.2 910.9Q104 907.3 105.3 906.8L106.8 906.2Q108.2 905.6 108.7 909.8L109.3 914.4Q109.8 918.5 109.2 919.1L108.5 919.7Q107.9 920.3 106.9 919.7L105.8 919.1Q104.8 918.5 104.5 914.9Z" fill="#f37028" stroke="none"/>
<path d="M105.3 906.8L106.8 906.2Q108.2 905.6 108.7 909.8M108.7 909.8L109.3 914.4M104.5 914.9L104.2 910.9Q104 907.3 105.3 906.8" fill="none"/>
<path d="M119.1 913.4Q119.1 911 122.3 910.9L125.9 910.8Q129.1 910.7 129.1 913.2L129.1 916Q129.1 918.5 127.8 919.5L126.4 920.7Q125.1 921.7 123.2 920.7L121 919.5Q119.1 918.5 119.1 916.1Z" fill="#f37028" stroke="none"/>
<path d="M122.3 910.9L125.9 910.8Q129.1 910.7 129.1 913.2M129.1 913.2L129.1 916M119.1 916.1L119.1 913.4Q119.1 911 122.3 910.9" fill="none"/>
<path d="M64.2 820Q63.7 818.4 65.3 818.9L67.1 819.5Q68.7 820 70.9 820.8L73.3 821.7Q75.4 822.6 77 822.3L78.9 822Q80.5 821.7 79.7 823.3L78.8 825.1Q77.9 826.8 75.5 827L72.8 827.3Q70.4 827.6 68.8 826.2L67 824.7Q65.4 823.4 64.8 821.8Z" fill="#5eb95c"/>
<path d="M86 841.2Q84.7 839.3 86 838.8L87.5 838.2Q88.9 837.7 90.2 839L91.7 840.5Q93.1 841.9 91.7 842.9L90.2 844.1Q88.9 845.2 87.5 843.3Z" fill="#5eb95c"/>
<path d="M81.5 853.8Q80.5 851.9 82.6 851.7L85 851.4Q87.2 851.1 88.5 853L90 855.1Q91.4 857 90.6 858.6L89.7 860.4Q88.9 862 87.2 860.7L85.4 859.1Q83.8 857.8 82.7 855.9Z" fill="#5eb95c"/>
<path d="M125.7 841.8Q123.3 840.2 126.2 839.6L129.6 839Q132.5 838.5 135.7 838L139.4 837.4Q142.6 836.8 142.3 834.9L142 832.8Q141.7 830.9 143.6 831.2L145.7 831.5Q147.6 831.8 148.2 835L148.8 838.6Q149.3 841.9 146.6 842.9L143.6 844.1Q140.9 845.2 137.7 845.2L134 845.2Q130.8 845.2 128.4 843.6Z" fill="#5eb95c"/>
<path d="M158.8 825.3Q157.7 823.4 159.3 821.5L161.1 819.4Q162.7 817.5 164.9 818.9L167.3 820.4Q169.4 821.7 168.6 824.4L167.7 827.4Q166.9 830.1 165 829.8L162.9 829.5Q161 829.3 160 827.4Z" fill="#5eb95c"/>
<path d="M168.6 841.2Q168.6 837.7 171.4 837.9L174.6 838.2Q177.5 838.5 178.5 842.3L179.7 846.6Q180.7 850.4 179.7 853.6L178.5 857.1Q177.5 860.3 175.5 859.8L173.2 859.2Q171.1 858.6 170.3 855.4L169.4 851.8Q168.6 848.6 168.6 845.1Z" fill="#5eb95c" stroke="none"/>
<path d="M171.4 837.9L174.6 838.2M175.5 859.8L173.2 859.2Q171.1 858.6 170.3 855.4M170.3 855.4L169.4 851.8Q168.6 848.6 168.6 845.1M168.6 845.1L168.6 841.2Q168.6 837.7 171.4 837.9" fill="none"/>
<path d="M141.4 874Q140.9 872.9 144.1 872.4L147.7 871.8Q151 871.2 155.3 872L160.1 872.9Q164.4 873.8 163.3 874.8L162.1 876Q161 877.1 157.3 877.4L153.1 877.7Q149.3 878 147.1 877.4L144.7 876.8Q142.6 876.3 142 875.2Z" fill="#5eb95c"/>
<path d="M107 875.9Q104.8 873.8 105.9 873.6L107.1 873.5Q108.2 873.4 110 875.4L112.2 877.6Q114 879.6 113.2 879.9L112.3 880.2Q111.5 880.5 109.4 878.3Z" fill="#5eb95c"/>
<path d="M95 891.3Q94.7 889.7 96.3 888.9L98.2 888Q99.8 887.2 101.7 888.5L103.8 890Q105.6 891.4 103.8 892.5L101.7 893.7Q99.8 894.7 99.2 896.3L98.6 898.2Q98.1 899.8 97.3 898.2L96.4 896.3Q95.6 894.7 95.3 893.1Z" fill="#5eb95c"/>
<path d="M109.5 895.5Q108.2 893.1 110 893.9L112.2 894.8Q114 895.6 116.2 896.1L118.6 896.7Q120.8 897.3 122.6 895.4L124.7 893.3Q126.6 891.4 128 892.2L129.5 893.1Q130.8 893.9 130.3 896L129.7 898.5Q129.1 900.6 131.3 901.2L133.7 901.8Q135.9 902.3 138 901.8L140.4 901.2Q142.6 900.6 143.7 902.2L144.9 904Q145.9 905.6 144.3 907L142.5 908.5Q140.9 909.8 138.2 908L135.2 905.9Q132.5 904 129.8 903.4L126.8 902.8Q124.1 902.3 122 903.1L119.5 904Q117.4 904.8 115.8 903.5L114 902Q112.4 900.6 111 898.2Z" fill="#5eb95c"/>
<path d="M139.7 888.5Q138.4 886.3 140.3 885.8L142.4 885.2Q144.3 884.7 147.2 886.8L150.5 889.2Q153.5 891.4 152.1 893L150.6 894.8Q149.3 896.4 147.1 895.3L144.7 894.1Q142.6 893.1 141.2 890.9Z" fill="#5eb95c"/>
<path d="M152 910.9Q150.1 907.3 152 907.1L154.1 906.8Q156 906.5 158.7 908.4L161.7 910.5Q164.4 912.4 166 914.3L167.8 916.5Q169.4 918.5 167.6 919.5L165.5 920.7Q163.7 921.7 161.2 920.7L158.5 919.5Q156 918.5 154.1 914.9Z" fill="#5eb95c" stroke="none"/>
<path d="M152 907.1L154.1 906.8Q156 906.5 158.7 908.4M158.7 908.4L161.7 910.5Q164.4 912.4 166 914.3M166 914.3L167.8 916.5M154.1 914.9L152 910.9Q150.1 907.3 152 907.1" fill="none"/>
<path d="M93.1 914.6Q93.1 912.7 95.2 912.6L97.6 912.5Q99.8 912.4 99.8 914.3L99.8 916.5Q99.8 918.5 98.9 919.2L98 920.1Q97.1 920.8 95.8 920.1L94.4 919.2Q93.1 918.5 93.1 916.6Z" fill="#5eb95c" stroke="none"/>
<path d="M95.2 912.6L97.6 912.5Q99.8 912.4 99.8 914.3M99.8 914.3L99.8 916.5M93.1 916.6L93.1 914.6Q93.1 912.7 95.2 912.6" fill="none"/>
<path d="M175.5 832.1Q176.5 830.9 178.3 830.1L180.3 829.2Q182 828.4 184.2 830L186.6 831.9Q188.8 833.5 190.4 836.2L192.2 839.2Q193.8 841.9 195.9 843.5L198.4 845.3Q200.5 846.9 202.7 849L205.1 851.5Q207.2 853.6 205.6 854.1L203.8 854.8Q202.2 855.3 200 853.1L197.6 850.7Q195.5 848.6 192.8 847L189.8 845.1Q187.1 843.5 184.9 842.5L182.5 841.3Q180.4 840.2 179.1 840.2L177.7 840.2Q176.5 840.2 175.5 838.4L174.3 836.4Q173.3 834.6 174.3 833.4Z" fill="#5eb95c" stroke="none"/>
<path d="M178.3 830.1L180.3 829.2Q182 828.4 184.2 830M184.2 830L186.6 831.9Q188.8 833.5 190.4 836.2M190.4 836.2L192.2 839.2Q193.8 841.9 195.9 843.5M195.9 843.5L198.4 845.3Q200.5 846.9 202.7 849M202.7 849L205.1 851.5Q207.2 853.6 205.6 854.1M205.6 854.1L203.8 854.8Q202.2 855.3 200 853.1M200 853.1L197.6 850.7Q195.5 848.6 192.8 847M192.8 847L189.8 845.1Q187.1 843.5 184.9 842.5M184.9 842.5L182.5 841.3Q180.4 840.2 179.1 840.2M179.1 840.2L177.7 840.2" fill="none"/>
<path d="M208.6 826Q208.1 822.6 209.4 823.4L210.9 824.3Q212.3 825.1 212.8 827.2L213.4 829.6Q213.9 831.8 216.1 833.9L218.5 836.4Q220.6 838.5 222.8 840.7L225.2 843.1Q227.4 845.2 229.5 846.3L231.9 847.5Q234.1 848.6 237.3 847.8L240.9 846.9Q244.1 846.1 246.3 846.9L248.7 847.8Q250.9 848.6 251.7 850.5L252.6 852.6Q253.4 854.4 251.5 855.3L249.4 856.2Q247.5 857 244.8 856.4L241.8 855.8Q239.1 855.3 236.4 854.8L233.4 854.1Q230.7 853.6 228 852L225 850.2Q222.3 848.6 220.2 846.4L217.8 844Q215.6 841.9 213.7 839.2L211.6 836.2Q209.7 833.5 209.2 830Z" fill="#5eb95c"/>
<path d="M184.8 823.9Q183.7 821.7 186.4 820.4L189.4 818.9Q192.1 817.5 195.3 817.8L199 818.1Q202.2 818.4 203 821L203.9 824.1Q204.7 826.8 202.8 828.4L200.7 830.2Q198.8 831.8 199.9 833.9L201.1 836.4Q202.2 838.5 204.1 840.7L206.2 843.1Q208.1 845.2 206.7 845.5L205.2 845.8Q203.9 846.1 201.7 844.2L199.3 842.1Q197.1 840.2 195.5 837.5L193.7 834.5Q192.1 831.8 190.5 830.7L188.7 829.5Q187.1 828.4 186 826.3Z" fill="#f37028"/>
<path d="M204.9 817.9Q202.2 814.5 205.6 813.5L209.5 812.3Q213 811.3 217 812.3L221.6 813.5Q225.7 814.5 224.9 817.3L224 820.5Q223.2 823.4 221.8 825.5L220.3 828Q219 830.1 220.6 831.2L222.4 832.4Q224 833.5 226.7 834.5L229.7 835.7Q232.4 836.8 234.5 835.2L237 833.4Q239.1 831.8 240.7 829.1L242.5 826.1Q244.1 823.4 245.2 820.5L246.4 817.3Q247.5 814.5 249.3 813.5L251.4 812.3Q253.3 811.3 255.7 812.3L258.5 813.5Q260.9 814.5 259.9 817.3L258.7 820.5Q257.6 823.4 256.5 826.1L255.3 829.1Q254.2 831.8 254.8 833.9L255.4 836.4Q255.9 838.5 253.2 840.1L250.2 841.9Q247.5 843.5 244.8 843.3L241.8 843Q239.1 842.7 236.4 841.9L233.4 841Q230.7 840.2 228.6 839.6L226.2 839Q224 838.5 221.9 836.4L219.4 833.9Q217.3 831.8 215.1 829.6L212.7 827.2Q210.6 825.1 207.9 821.7Z" fill="#f37028" stroke="none"/>
<path d="M224.9 817.3L224 820.5Q223.2 823.4 221.8 825.5M221.8 825.5L220.3 828Q219 830.1 220.6 831.2M220.6 831.2L222.4 832.4Q224 833.5 226.7 834.5M226.7 834.5L229.7 835.7Q232.4 836.8 234.5 835.2M234.5 835.2L237 833.4Q239.1 831.8 240.7 829.1M240.7 829.1L242.5 826.1Q244.1 823.4 245.2 820.5M245.2 820.5L246.4 817.3M259.9 817.3L258.7 820.5Q257.6 823.4 256.5 826.1M256.5 826.1L255.3 829.1Q254.2 831.8 254.8 833.9M254.8 833.9L255.4 836.4Q255.9 838.5 253.2 840.1M253.2 840.1L250.2 841.9Q247.5 843.5 244.8 843.3M244.8 843.3L241.8 843Q239.1 842.7 236.4 841.9M236.4 841.9L233.4 841Q230.7 840.2 228.6 839.6M228.6 839.6L226.2 839Q224 838.5 221.9 836.4M221.9 836.4L219.4 833.9Q217.3 831.8 215.1 829.6M215.1 829.6L212.7 827.2Q210.6 825.1 207.9 821.7M207.9 821.7L204.9 817.9" fill="none"/>
<path d="M208.8 816.5Q207.2 814.5 209.1 813.5L211.1 812.3Q213 811.3 215.4 812.3L218.2 813.5Q220.6 814.5 220.9 817.3L221.2 820.5Q221.5 823.4 220.1 824.5L218.6 825.7Q217.3 826.8 215.7 824.9L213.9 822.8Q212.3 820.9 210.6 818.8Z" fill="#ee3030" stroke="none"/>
<path d="M220.9 817.3L221.2 820.5Q221.5 823.4 220.1 824.5M220.1 824.5L218.6 825.7Q217.3 826.8 215.7 824.9M215.7 824.9L213.9 822.8Q212.3 820.9 210.6 818.8M210.6 818.8L208.8 816.5" fill="none"/>
<path d="M243.9 824.9Q245 820.9 246.6 821.1L248.4 821.4Q250 821.7 250.3 824.9L250.6 828.6Q250.9 831.8 249.3 833.4L247.4 835.2Q245.8 836.8 244.5 835.7L243 834.5Q241.6 833.5 242.7 829.4Z" fill="#ee3030"/>
<path d="M226.7 833.7Q224.8 831.8 226.5 830.7L228.3 829.5Q229.9 828.4 231.5 830L233.3 831.9Q234.9 833.5 233.6 834.8L232.1 836.3Q230.7 837.7 228.8 835.8Z" fill="#f0e826"/>
<path d="M228 833Q227.4 831.8 228.4 831.4L229.6 830.9Q230.7 830.4 231.3 831.5L231.9 832.7Q232.4 833.8 231.4 834.3L230.3 834.9Q229.4 835.5 228.7 834.3Z" fill="#5eb95c"/>
<path d="M180.3 851.3Q179.5 849.4 181.7 848.1L184.1 846.6Q186.2 845.2 189.2 846L192.5 846.9Q195.5 847.7 196.8 850.7L198.3 854Q199.7 857 198.3 858.6L196.8 860.4Q195.5 862 192.8 861.5L189.8 860.9Q187.1 860.3 185.5 858.7L183.6 856.9Q182 855.3 181.2 853.4Z" fill="#f37028"/>
<path d="M185.4 852.4Q184.6 850.3 186.4 849.4L188.5 848.5Q190.4 847.7 192 849.6L193.9 851.7Q195.5 853.6 194.7 855.5L193.8 857.6Q192.9 859.5 191.1 858.7L189 857.8Q187.1 857 186.3 854.8Z" fill="#ee3030"/>
<path d="M175.6 864.7Q176.5 863.7 178.3 863.7L180.3 863.7Q182 863.7 184.7 865.8L187.7 868.2Q190.4 870.4 193.7 871.7L197.3 873.3Q200.5 874.6 198.4 875.1L195.9 875.7Q193.8 876.3 191.1 875.5L188.1 874.6Q185.4 873.8 182.5 873.2L179.3 872.6Q176.5 872.1 175.6 870.5L174.5 868.6Q173.6 867 174.5 865.9Z" fill="#f37028" stroke="none"/>
<path d="M178.3 863.7L180.3 863.7Q182 863.7 184.7 865.8M184.7 865.8L187.7 868.2Q190.4 870.4 193.7 871.7M193.7 871.7L197.3 873.3Q200.5 874.6 198.4 875.1M198.4 875.1L195.9 875.7Q193.8 876.3 191.1 875.5M191.1 875.5L188.1 874.6Q185.4 873.8 182.5 873.2M182.5 873.2L179.3 872.6" fill="none"/>
<path d="M232.9 861.7Q231.6 860.3 232.9 859L234.4 857.5Q235.8 856.1 239.5 855.6L243.7 855Q247.5 854.4 248.6 852.6L249.8 850.5Q250.9 848.6 250.3 846.7L249.7 844.6Q249.2 842.7 251.9 843.5L254.9 844.4Q257.6 845.2 260.3 847.4L263.3 849.8Q266 851.9 268.7 853.8L271.7 855.9Q274.4 857.8 273.3 859.1L272.1 860.7Q271 862 268.9 863.1L266.4 864.3Q264.3 865.4 263.8 867L263.2 868.8Q262.6 870.4 260.5 870.7L258 871Q255.9 871.2 254.3 869.9L252.5 868.4Q250.9 867 249.8 866L248.6 864.8Q247.5 863.7 247 866.4L246.4 869.4Q245.8 872.1 244.2 871L242.4 869.8Q240.8 868.7 239.2 867.4L237.4 865.9Q235.8 864.5 234.4 863.2Z" fill="#f37028"/>
<path d="M251.9 846.8Q250.9 844.4 252.7 844.9L254.9 845.5Q256.7 846.1 259.7 848.7L263 851.8Q266 854.4 266.5 855.8L267.1 857.3Q267.6 858.6 265.5 858.6L263.1 858.6Q260.9 858.6 258.8 856.5L256.4 854.1Q254.2 851.9 253.1 849.5Z" fill="#ee3030"/>
<path d="M248 860.8Q246.7 858.6 248.5 858.4L250.7 858.1Q252.5 857.8 255.2 859.7L258.2 861.8Q260.9 863.7 261.7 865.3L262.6 867.1Q263.5 868.7 261.3 869L258.9 869.3Q256.7 869.6 254.9 868.2L252.7 866.7Q250.9 865.4 249.5 863.2Z" fill="#a3161b"/>
<path d="M253.9 863.9Q253.4 862.8 255 863.1L256.8 863.4Q258.4 863.7 259 864.8L259.6 866Q260.1 867 258.5 866.8L256.7 866.5Q255.1 866.2 254.5 865.1Z" fill="#5f6364"/>
<path d="M192 893.3Q189.6 891.4 191.5 889.8L193.6 888Q195.5 886.3 198.2 887.4L201.2 888.6Q203.9 889.7 205.7 892.1L207.9 894.8Q209.7 897.3 208.4 898.1L206.9 899Q205.5 899.8 202.9 899L199.8 898.1Q197.1 897.3 194.7 895.4Z" fill="#f37028"/>
<path d="M197.4 891.6Q196.3 889.7 198.2 890L200.3 890.3Q202.2 890.5 203.3 892.2L204.5 894Q205.5 895.6 203.7 895.6L201.5 895.6Q199.7 895.6 198.6 893.7Z" fill="#ee3030"/>
<path d="M216.1 891Q215.6 888.9 217.8 887.5L220.2 886Q222.3 884.7 225 885.2L228 885.8Q230.7 886.3 232.1 888.8L233.6 891.5Q234.9 893.9 236.3 896.6L237.8 899.6Q239.1 902.3 240.7 904.4L242.5 906.9Q244.1 909 245 912L245.9 915.5Q246.7 918.5 245 919.5L243 920.7Q241.3 921.7 239 920.7L236.4 919.5Q234.1 918.5 232.5 915.5L230.7 912Q229 909 227.4 906.9L225.6 904.4Q224 902.3 221.9 900.1L219.4 897.7Q217.3 895.6 216.8 893.4Z" fill="#f37028" stroke="none"/>
<path d="M217.8 887.5L220.2 886Q222.3 884.7 225 885.2M225 885.2L228 885.8Q230.7 886.3 232.1 888.8M232.1 888.8L233.6 891.5Q234.9 893.9 236.3 896.6M236.3 896.6L237.8 899.6Q239.1 902.3 240.7 904.4M240.7 904.4L242.5 906.9Q244.1 909 245 912M245 912L245.9 915.5M232.5 915.5L230.7 912Q229 909 227.4 906.9M227.4 906.9L225.6 904.4Q224 902.3 221.9 900.1M221.9 900.1L219.4 897.7Q217.3 895.6 216.8 893.4M216.8 893.4L216.1 891Q215.6 888.9 217.8 887.5" fill="none"/>
<path d="M219.8 892.2Q219 890.5 220.8 890.3L223 890Q224.8 889.7 225.6 891.3L226.6 893.1Q227.4 894.7 225.5 895L223.4 895.3Q221.5 895.6 220.7 894Z" fill="#ee3030"/>
<path d="M243.6 897.2Q243.3 895.6 245.2 894.2L247.3 892.7Q249.2 891.4 250.5 893.8L252 896.5Q253.4 898.9 254.2 901.4L255.1 904.1Q255.9 906.5 253.8 905.1L251.3 903.6Q249.2 902.3 247.6 901.8L245.8 901.2Q244.1 900.6 243.9 899Z" fill="#f37028"/>
<path d="M187.1 914.3Q187.1 912.4 189.8 912.1L192.8 911.8Q195.5 911.5 197.6 913.8L200 916.3Q202.2 918.5 200.1 919.5L197.7 920.7Q195.6 921.7 192.9 920.7L189.8 919.5Q187.1 918.5 187.1 916.5Z" fill="#f37028" stroke="none"/>
<path d="M189.8 912.1L192.8 911.8Q195.5 911.5 197.6 913.8M197.6 913.8L200 916.3M187.1 916.5L187.1 914.3Q187.1 912.4 189.8 912.1" fill="none"/>
<path d="M217.3 911.5Q216.4 908.2 217.8 907.9L219.3 907.6Q220.6 907.3 223.3 910.9L226.4 914.9Q229 918.5 227.7 919.5L226.3 920.7Q225 921.7 223 920.7L220.9 919.5Q219 918.5 218.2 915.2Z" fill="#f37028" stroke="none"/>
<path d="M217.8 907.9L219.3 907.6Q220.6 907.3 223.3 910.9M223.3 910.9L226.4 914.9M218.2 915.2L217.3 911.5Q216.4 908.2 217.8 907.9" fill="none"/>
<path d="M288.7 884.9Q287 883 288.7 882.7L290.7 882.4Q292.5 882.1 293.2 883.4L294.1 884.9Q294.8 886.2 294.1 887.1L293.2 888Q292.5 888.9 290.7 887Z" fill="#f37028" stroke="none"/>
<path d="M288.7 882.7L290.7 882.4M290.7 887L288.7 884.9Q287 883 288.7 882.7" fill="none"/>
<path d="M286.1 901.4Q285.3 898.9 287.6 898.7L290.2 898.4Q292.5 898.1 293.5 900.1L294.7 902.5Q295.7 904.5 294.7 905.9L293.5 907.6Q292.5 909 291 908.2L289.3 907.3Q287.8 906.5 287 904.1Z" fill="#f37028" stroke="none"/>
<path d="M287.6 898.7L290.2 898.4M291 908.2L289.3 907.3Q287.8 906.5 287 904.1M287 904.1L286.1 901.4Q285.3 898.9 287.6 898.7" fill="none"/>
<path d="M226.2 816.3Q225.7 814.5 227.9 813.5L230.5 812.3Q232.7 811.3 235.6 812.3L238.8 813.5Q241.6 814.5 241.4 816.5L241.1 818.8Q240.8 820.9 238.6 821.7L236.2 822.6Q234.1 823.4 231.9 822.3L229.5 821.1Q227.4 820 226.8 818.3Z" fill="#5eb95c" stroke="none"/>
<path d="M241.4 816.5L241.1 818.8Q240.8 820.9 238.6 821.7M238.6 821.7L236.2 822.6Q234.1 823.4 231.9 822.3M231.9 822.3L229.5 821.1Q227.4 820 226.8 818.3M226.8 818.3L226.2 816.3" fill="none"/>
<path d="M254.8 825Q254.2 823.4 256.1 822.6L258.2 821.7Q260.1 820.9 261.7 822.2L263.5 823.7Q265.1 825.1 263.8 826.7L262.3 828.5Q260.9 830.1 259.3 829.6L257.5 829Q255.9 828.4 255.4 826.8Z" fill="#5eb95c"/>
<path d="M262.6 840.7Q261.8 839.3 263.9 838.8L266.3 838.2Q268.5 837.7 270.9 838.7L273.6 839.9Q276 841 274.4 842.4L272.6 843.9Q271 845.2 268.9 844.7L266.4 844.1Q264.3 843.5 263.5 842.2Z" fill="#5eb95c"/>
<path d="M281 857.2Q280.2 855.3 281.9 854.2L283.7 853Q285.3 851.9 287.2 853.5L289.3 855.4Q291.2 857 290.1 858.8L288.9 861Q287.8 862.8 286.2 862.3L284.4 861.7Q282.8 861.2 282 859.3Z" fill="#5eb95c"/>
<path d="M175.7 852.8Q176.5 851.9 178.3 853.5L180.3 855.4Q182 857 184.2 859.1L186.6 861.5Q188.8 863.7 192 863.1L195.6 862.5Q198.8 862 202.6 862.3L206.8 862.6Q210.6 862.8 212.7 865.3L215.1 868Q217.3 870.4 217.6 872.5L217.9 875Q218.1 877.1 216.5 878.7L214.7 880.5Q213.1 882.1 211.7 884.3L210.2 886.7Q208.9 888.9 206.7 889.4L204.3 890Q202.2 890.5 200 888.9L197.6 887.1Q195.5 885.5 194.9 883.9L194.3 882.1Q193.8 880.5 196.5 879.4L199.5 878.2Q202.2 877.1 203.3 875.5L204.5 873.7Q205.5 872.1 203.4 871.5L201 870.9Q198.8 870.4 196.7 869.9L194.3 869.3Q192.1 868.7 189.4 866.6L186.4 864.2Q183.7 862 181.4 860.9L178.8 859.7Q176.5 858.6 175.7 857.3L174.9 855.9Q174.1 854.6 174.9 853.7Z" fill="#5eb95c" stroke="none"/>
<path d="M178.3 853.5L180.3 855.4Q182 857 184.2 859.1M184.2 859.1L186.6 861.5Q188.8 863.7 192 863.1M192 863.1L195.6 862.5Q198.8 862 202.6 862.3M202.6 862.3L206.8 862.6Q210.6 862.8 212.7 865.3M212.7 865.3L215.1 868Q217.3 870.4 217.6 872.5M217.6 872.5L217.9 875Q218.1 877.1 216.5 878.7M216.5 878.7L214.7 880.5Q213.1 882.1 211.7 884.3M211.7 884.3L210.2 886.7Q208.9 888.9 206.7 889.4M206.7 889.4L204.3 890Q202.2 890.5 200 888.9M200 888.9L197.6 887.1Q195.5 885.5 194.9 883.9M194.9 883.9L194.3 882.1Q193.8 880.5 196.5 879.4M196.5 879.4L199.5 878.2Q202.2 877.1 203.3 875.5M203.3 875.5L204.5 873.7Q205.5 872.1 203.4 871.5M203.4 871.5L201 870.9Q198.8 870.4 196.7 869.9M196.7 869.9L194.3 869.3Q192.1 868.7 189.4 866.6M189.4 866.6L186.4 864.2Q183.7 862 181.4 860.9M181.4 860.9L178.8 859.7" fill="none"/>
<path d="M229 866.9Q228.2 864.5 229.5 864.8L231.1 865.1Q232.4 865.4 235.1 868.6L238.1 872.2Q240.8 875.4 244 877.6L247.6 880Q250.9 882.1 251.4 883.5L252 885Q252.5 886.3 250.4 886.1L248 885.8Q245.8 885.5 243.1 883.4L240.1 880.9Q237.4 878.8 235.3 876.6L232.9 874.2Q230.7 872.1 229.9 869.7Z" fill="#5eb95c"/>
<path d="M253.6 873.7Q252.5 872.1 255.2 871.8L258.2 871.5Q260.9 871.2 263.1 870.4L265.5 869.5Q267.6 868.7 269.3 867.4L271.1 865.9Q272.7 864.5 275.4 864.3L278.4 864Q281.1 863.7 281.6 865.3L282.2 867.1Q282.8 868.7 280.6 869.8L278.2 871Q276 872.1 276.6 874.2L277.2 876.6Q277.7 878.8 279.3 880.9L281.1 883.4Q282.8 885.5 282.2 887.1L281.6 888.9Q281.1 890.5 279.5 890L277.7 889.4Q276 888.9 275 890.5L273.8 892.3Q272.7 893.9 274.3 895.5L276.1 897.3Q277.7 898.9 280.4 901.1L283.4 903.5Q286.1 905.6 288.2 907.3L290.5 909.1Q292.5 910.7 293.3 912.1L294.2 913.7Q295.1 915.1 294.2 916.2L293.3 917.4Q292.5 918.5 290.9 919.5L289.1 920.7Q287.5 921.7 285.4 920.7L283.1 919.5Q281.1 918.5 278.9 914.9L276.5 910.9Q274.4 907.3 272.2 904.6L269.8 901.6Q267.6 898.9 267.9 896.8L268.2 894.4Q268.5 892.2 270.4 890.6L272.5 888.8Q274.4 887.2 273.3 885L272.1 882.6Q271 880.5 268.3 879.4L265.3 878.2Q262.6 877.1 260.5 877.1L258 877.1Q255.9 877.1 254.8 875.5Z" fill="#5eb95c" stroke="none"/>
<path d="M255.2 871.8L258.2 871.5Q260.9 871.2 263.1 870.4M263.1 870.4L265.5 869.5Q267.6 868.7 269.3 867.4M269.3 867.4L271.1 865.9Q272.7 864.5 275.4 864.3M275.4 864.3L278.4 864Q281.1 863.7 281.6 865.3M281.6 865.3L282.2 867.1Q282.8 868.7 280.6 869.8M280.6 869.8L278.2 871Q276 872.1 276.6 874.2M276.6 874.2L277.2 876.6Q277.7 878.8 279.3 880.9M279.3 880.9L281.1 883.4Q282.8 885.5 282.2 887.1M282.2 887.1L281.6 888.9Q281.1 890.5 279.5 890M279.5 890L277.7 889.4Q276 888.9 275 890.5M275 890.5L273.8 892.3Q272.7 893.9 274.3 895.5M274.3 895.5L276.1 897.3Q277.7 898.9 280.4 901.1M280.4 901.1L283.4 903.5Q286.1 905.6 288.2 907.3M288.2 907.3L290.5 909.1M278.9 914.9L276.5 910.9Q274.4 907.3 272.2 904.6M272.2 904.6L269.8 901.6Q267.6 898.9 267.9 896.8M267.9 896.8L268.2 894.4Q268.5 892.2 270.4 890.6M270.4 890.6L272.5 888.8Q274.4 887.2 273.3 885M273.3 885L272.1 882.6Q271 880.5 268.3 879.4M268.3 879.4L265.3 878.2Q262.6 877.1 260.5 877.1M260.5 877.1L258 877.1Q255.9 877.1 254.8 875.5M254.8 875.5L253.6 873.7Q252.5 872.1 255.2 871.8" fill="none"/>
<path d="M188.7 899.4Q187.1 897.3 188.7 897L190.5 896.7Q192.1 896.4 194.8 898.3L197.8 900.4Q200.5 902.3 203.7 902.8L207.4 903.4Q210.6 904 212.5 905.6L214.6 907.4Q216.4 909 216.2 912L215.9 915.5Q215.6 918.5 214.8 919.2L213.8 920.1Q213 920.8 211.7 920.1L210.2 919.2Q208.9 918.5 207.8 916L206.6 913.2Q205.5 910.7 203.4 909.6L201 908.4Q198.8 907.3 196.7 906.3L194.3 905Q192.1 904 190.5 901.8Z" fill="#5eb95c" stroke="none"/>
<path d="M188.7 897L190.5 896.7Q192.1 896.4 194.8 898.3M194.8 898.3L197.8 900.4Q200.5 902.3 203.7 902.8M203.7 902.8L207.4 903.4Q210.6 904 212.5 905.6M212.5 905.6L214.6 907.4Q216.4 909 216.2 912M216.2 912L215.9 915.5M207.8 916L206.6 913.2Q205.5 910.7 203.4 909.6M203.4 909.6L201 908.4Q198.8 907.3 196.7 906.3M196.7 906.3L194.3 905Q192.1 904 190.5 901.8M190.5 901.8L188.7 899.4Q187.1 897.3 188.7 897" fill="none"/>
<path d="M274.6 823Q274.4 822.1 275.6 821.9L277 821.8Q278.2 821.7 278.3 822.7L278.5 823.8Q278.6 824.7 277.5 824.8L276.3 825Q275.2 825.1 274.9 824.1Z" fill="#5eb95c"/>
<path d="M303.6 823.1Q302.9 821.7 303.7 820.9L304.6 820Q305.4 819.2 306.2 820.8L307.1 822.6Q307.9 824.2 307 824.8L306 825.4Q305.1 825.9 304.4 824.6Z" fill="#f37028"/>
<path d="M313 841Q312.1 839.3 313.5 838.8L315 838.2Q316.3 837.7 318.2 840.1L320.3 842.8Q322.2 845.2 321.7 846L321.1 846.9Q320.5 847.7 318.7 846.7L316.5 845.5Q314.7 844.4 313.9 842.8Z" fill="#f37028"/>
<path d="M327.5 830.6Q326.4 828.4 328 828.2L329.8 827.9Q331.4 827.6 334.4 829.7L337.7 832.2Q340.7 834.3 342.3 836.7L344.1 839.4Q345.7 841.9 344.6 842.7L343.4 843.6Q342.4 844.4 340.2 843.3L337.8 842.1Q335.6 841 333.8 839.1L331.7 837Q329.8 835.1 328.7 833Z" fill="#f37028"/>
<path d="M337.3 823.6Q336.5 821.7 338.1 819.8L339.9 817.7Q341.5 815.8 343.7 818.3L346.1 821Q348.2 823.4 346.9 825.5L345.4 828Q344 830.1 342.4 829.3L340.6 828.4Q339 827.6 338.2 825.7Z" fill="#f37028"/>
<path d="M358 824.4Q356.6 822.6 359 822L361.8 821.4Q364.2 820.9 366.1 818.8L368.2 816.5Q370.1 814.5 370.7 813.9L371.4 813.3Q372 812.7 373 813.3L374.1 813.9Q375.1 814.5 375.4 817.3L375.7 820.5Q375.9 823.4 376.5 826.1L377.1 829.1Q377.6 831.8 378.4 834.5L379.3 837.5Q380.1 840.2 377.7 840.2L375 840.2Q372.6 840.2 370.4 838L368 835.6Q365.9 833.5 364.3 831.9L362.4 830Q360.8 828.4 359.5 826.5Z" fill="#f37028" stroke="none"/>
<path d="M359 822L361.8 821.4Q364.2 820.9 366.1 818.8M366.1 818.8L368.2 816.5M375.4 817.3L375.7 820.5Q375.9 823.4 376.5 826.1M376.5 826.1L377.1 829.1Q377.6 831.8 378.4 834.5M378.4 834.5L379.3 837.5Q380.1 840.2 377.7 840.2M377.7 840.2L375 840.2Q372.6 840.2 370.4 838M370.4 838L368 835.6Q365.9 833.5 364.3 831.9M364.3 831.9L362.4 830Q360.8 828.4 359.5 826.5M359.5 826.5L358 824.4Q356.6 822.6 359 822" fill="none"/>
<path d="M366.7 825.8Q366.7 824.2 368 823.7L369.6 823.1Q370.9 822.6 371.4 825L372 827.7Q372.6 830.1 371.8 831.2L370.9 832.4Q370.1 833.5 369 832.1L367.8 830.6Q366.7 829.3 366.7 827.7Z" fill="#ee3030"/>
<path d="M382.6 842.4Q381 841 382.9 839.1L385 837Q386.8 835.1 389 836L391.4 836.9Q393.6 837.7 394.6 840.1L395.8 842.8Q396.9 845.2 395.6 846.3L394.1 847.5Q392.7 848.6 390.6 847.5L388.2 846.3Q386 845.2 384.4 843.9Z" fill="#f37028"/>
<path d="M388.8 841.5Q387.7 840.2 389 840.4L390.5 840.8Q391.9 841 391.6 842.1L391.3 843.3Q391 844.4 390 843Z" fill="#ee3030"/>
<path d="M394.6 830Q393.6 828.4 395.2 828.4L397 828.4Q398.6 828.4 400.5 830L402.6 831.9Q404.5 833.5 403.7 834.5L402.8 835.7Q402 836.8 400.3 835.7L398.5 834.5Q396.9 833.5 395.8 831.9Z" fill="#f37028"/>
<path d="M366.1 846.8Q365 844.4 366.9 844.6L369 844.9Q370.9 845.2 371.7 847.4L372.6 849.8Q373.4 851.9 372.6 854.1L371.7 856.5Q370.9 858.6 370.1 856.5L369.2 854.1Q368.4 851.9 367.3 849.5Z" fill="#f37028"/>
<path d="M354.6 862.2Q354.1 861.2 355.5 861.4L357 861.7Q358.3 862 359.9 863.9L361.7 866Q363.3 867.9 362 868L360.5 868.2Q359.1 868.4 358.1 867.1L356.9 865.8Q355.8 864.5 355.3 863.4Z" fill="#f37028"/>
<path d="M292.5 867Q291.5 865.4 293 864L294.7 862.5Q296.2 861.2 298.1 863.6L300.2 866.3Q302.1 868.7 304.5 870.9L307.2 873.3Q309.6 875.4 308.8 876.8L307.9 878.3Q307.1 879.6 305 878.3L302.5 876.8Q300.4 875.4 298.5 873.8L296.4 872Q294.5 870.4 293.6 868.8Z" fill="#f37028"/>
<path d="M313.2 866.9Q312.1 865.4 313.2 864.9L314.4 864.4Q315.5 864 316.6 865.8L317.8 867.8Q318.9 869.6 317.8 869.7L316.6 869.9Q315.5 870.1 314.4 868.6Z" fill="#f37028"/>
<path d="M323.9 885Q323.1 885.5 323.9 884L324.8 882.3Q325.6 880.8 327.7 880.4L330.1 880Q332.3 879.6 333.9 880.7L335.7 881.9Q337.3 883 336.5 883.5L335.6 884.1Q334.8 884.7 333.2 884L331.4 883.2Q329.8 882.5 328.4 882.9L326.9 883.4Q325.6 883.8 324.8 884.4Z" fill="#f37028"/>
<path d="M290.8 883.7Q291.5 883 293 882.7L294.7 882.4Q296.2 882.1 295.9 885.6L295.6 889.6Q295.4 893.1 294.1 891.7L292.7 890.2Q291.5 888.9 290.8 887.7L290.1 886.4Q289.4 885.3 290.1 884.6Z" fill="#f37028" stroke="none"/>
<path d="M293 882.7L294.7 882.4Q296.2 882.1 295.9 885.6M295.9 885.6L295.6 889.6Q295.4 893.1 294.1 891.7M294.1 891.7L292.7 890.2" fill="none"/>
<path d="M290.9 902.9Q291.5 902.3 292.7 903.1L294.1 904Q295.4 904.8 296.7 905.9L298.2 907.1Q299.6 908.2 298.5 908.7L297.3 909.3Q296.2 909.8 294.7 909L293 908.1Q291.5 907.3 290.9 906.4L290.3 905.3Q289.7 904.3 290.3 903.6Z" fill="#f37028" stroke="none"/>
<path d="M292.7 903.1L294.1 904Q295.4 904.8 296.7 905.9M296.7 905.9L298.2 907.1Q299.6 908.2 298.5 908.7M298.5 908.7L297.3 909.3Q296.2 909.8 294.7 909M294.7 909L293 908.1" fill="none"/>
<path d="M310.7 909.2Q309.6 908.2 311.2 907.8L313.1 907.4Q314.7 907 315.7 908.3L316.9 909.7Q318 911 316.4 911.2L314.6 911.4Q313 911.5 311.9 910.5Z" fill="#f37028"/>
<path d="M377.3 877Q375.9 873.8 377.5 873.2L379.4 872.6Q381 872.1 383.7 873.4L386.7 874.9Q389.4 876.3 391.5 877.3L393.9 878.6Q396.1 879.6 398.2 881.2L400.6 883.1Q402.8 884.7 404.3 885.5L406 886.4Q407.5 887.2 408.5 889.4L409.7 891.8Q410.7 894 409.7 895.6L408.5 897.4Q407.5 898.9 405.5 897.3L403.2 895.5Q401.1 893.9 399.8 894.4L398.3 895Q396.9 895.6 396.1 897.7L395.2 900.1Q394.4 902.3 392.8 903.4L391 904.6Q389.4 905.6 387.2 904.6L384.8 903.4Q382.6 902.3 381.3 900.7L379.8 898.9Q378.5 897.3 379.8 895.1L381.3 892.7Q382.6 890.5 381.8 888.4L380.9 886Q380.1 883.8 378.8 880.6Z" fill="#f37028" stroke="none"/>
<path d="M377.5 873.2L379.4 872.6Q381 872.1 383.7 873.4M383.7 873.4L386.7 874.9Q389.4 876.3 391.5 877.3M391.5 877.3L393.9 878.6Q396.1 879.6 398.2 881.2M398.2 881.2L400.6 883.1Q402.8 884.7 404.3 885.5M404.3 885.5L406 886.4M405.5 897.3L403.2 895.5Q401.1 893.9 399.8 894.4M399.8 894.4L398.3 895Q396.9 895.6 396.1 897.7M396.1 897.7L395.2 900.1Q394.4 902.3 392.8 903.4M392.8 903.4L391 904.6Q389.4 905.6 387.2 904.6M387.2 904.6L384.8 903.4Q382.6 902.3 381.3 900.7M381.3 900.7L379.8 898.9Q378.5 897.3 379.8 895.1M379.8 895.1L381.3 892.7Q382.6 890.5 381.8 888.4M381.8 888.4L380.9 886Q380.1 883.8 378.8 880.6M378.8 880.6L377.3 877Q375.9 873.8 377.5 873.2" fill="none"/>
<path d="M382.9 879.8Q381.8 877.1 383.7 877.4L385.8 877.7Q387.7 878 389.8 879.3L392.3 880.8Q394.4 882.1 394.9 883.8L395.5 885.6Q396.1 887.2 394.5 888.3L392.7 889.5Q391 890.5 389.2 888.9L387 887.1Q385.2 885.5 384.1 882.8Z" fill="#ee3030"/>
<path d="M387.1 882Q386 879.6 387.6 880.2L389.4 880.8Q391 881.3 391.8 882.9L392.8 884.7Q393.6 886.3 392.2 886.6L390.7 886.9Q389.4 887.2 388.3 884.8Z" fill="#a3161b"/>
<path d="M391.9 914.6Q391.9 912.7 394.3 912.6L397 912.5Q399.4 912.4 399.4 914.3L399.4 916.5Q399.4 918.5 398.5 919.3L397.4 920.3Q396.5 921.1 395 920.3L393.3 919.3Q391.9 918.5 391.9 916.6Z" fill="#f37028" stroke="none"/>
<path d="M394.3 912.6L397 912.5Q399.4 912.4 399.4 914.3M399.4 914.3L399.4 916.5M391.9 916.6L391.9 914.6Q391.9 912.7 394.3 912.6" fill="none"/>
<path d="M351.3 815.8Q349.9 814.5 351.9 813.5L354.1 812.3Q356.1 811.3 358.7 812.3L361.6 813.5Q364.2 814.5 363.6 815.5L363 816.6Q362.5 817.5 359.8 817.9L356.8 818.3Q354.1 818.7 352.8 817.4Z" fill="#5eb95c" stroke="none"/>
<path d="M363.6 815.5L363 816.6Q362.5 817.5 359.8 817.9M359.8 817.9L356.8 818.3Q354.1 818.7 352.8 817.4M352.8 817.4L351.3 815.8" fill="none"/>
<path d="M349.8 834.2Q348.2 832.6 349.6 831.3L351.1 829.8Q352.4 828.4 354 830L355.9 831.9Q357.5 833.5 356.1 834.8L354.6 836.3Q353.3 837.7 351.7 836.1Z" fill="#5eb95c"/>
<path d="M303.2 834.7Q302.9 830.9 304 831.2L305.2 831.5Q306.3 831.8 306 835L305.7 838.6Q305.4 841.9 304.9 842.1L304.3 842.4Q303.8 842.7 303.5 838.9Z" fill="#5eb95c"/>
<path d="M375.1 851.5Q375.1 848.6 376.7 847.4L378.5 846.1Q380.1 844.9 382 846.1L384.1 847.4Q386 848.6 386.8 851.3L387.7 854.3Q388.5 857 387.2 859.1L385.7 861.5Q384.3 863.7 382.4 864L380.3 864.3Q378.5 864.5 377.4 862.4L376.2 860Q375.1 857.8 375.1 854.9Z" fill="#5eb95c"/>
<path d="M366.1 864.2Q365 862.8 366.9 863.1L369 863.4Q370.9 863.7 373 864L375.5 864.3Q377.6 864.5 379.5 865.9L381.6 867.4Q383.5 868.7 386.4 870.3L389.8 872.1Q392.7 873.8 392.2 874.6L391.6 875.5Q391 876.3 388.4 874.7L385.3 872.8Q382.6 871.2 380.5 869.9L378.1 868.4Q375.9 867 374.3 868.4L372.5 869.9Q370.9 871.2 370.1 869.9L369.2 868.4Q368.4 867 367.3 865.7Z" fill="#5eb95c"/>
<path d="M394.9 858.6Q392.7 857 394.6 855.9L396.7 854.7Q398.6 853.6 401.4 854.4L404.6 855.3Q407.5 856.1 408.2 857.4L409.1 858.9Q409.8 860.2 409.1 861L408.2 862Q407.5 862.8 404.9 862.6L402 862.3Q399.4 862 397.3 860.4Z" fill="#5eb95c" stroke="none"/>
<path d="M394.6 855.9L396.7 854.7Q398.6 853.6 401.4 854.4M401.4 854.4L404.6 855.3M404.9 862.6L402 862.3Q399.4 862 397.3 860.4M397.3 860.4L394.9 858.6Q392.7 857 394.6 855.9" fill="none"/>
<path d="M349.9 888.5Q349.9 887.2 350.7 885.6L351.6 883.8Q352.4 882.1 353.2 884.6L354.1 887.3Q355 889.7 354.1 891L353.2 892.6Q352.4 893.9 351.6 893.1L350.7 892.2Q349.9 891.4 349.9 890Z" fill="#5eb95c"/>
<path d="M304 898.4Q303.8 896.9 305 896.8L306.4 896.6Q307.6 896.4 307.7 897.9L307.8 899.6Q307.9 901.1 306.9 901.2L305.7 901.3Q304.6 901.5 304.3 900Z" fill="#5eb95c"/>
<path d="M470.7 816.3Q469.1 814.5 470.7 813.5L472.5 812.3Q474 811.3 476.2 812.3L478.7 813.5Q480.9 814.5 483 816.3L485.4 818.3Q487.6 820 490.3 820.6L493.3 821.2Q496 821.7 496.5 823.6L497.1 825.7Q497.6 827.6 495.5 827.3L493.1 827Q490.9 826.8 488.8 827.8L486.4 829Q484.2 830.1 482.6 828.5L480.8 826.7Q479.2 825.1 477.6 823.5L475.8 821.6Q474.1 820 472.5 818.3Z" fill="#5eb95c" stroke="none"/>
<path d="M483 816.3L485.4 818.3Q487.6 820 490.3 820.6M490.3 820.6L493.3 821.2Q496 821.7 496.5 823.6M496.5 823.6L497.1 825.7Q497.6 827.6 495.5 827.3M495.5 827.3L493.1 827Q490.9 826.8 488.8 827.8M488.8 827.8L486.4 829Q484.2 830.1 482.6 828.5M482.6 828.5L480.8 826.7Q479.2 825.1 477.6 823.5M477.6 823.5L475.8 821.6Q474.1 820 472.5 818.3M472.5 818.3L470.7 816.3" fill="none"/>
<path d="M414.2 816Q412 814.5 413.3 813.5L414.8 812.3Q416.1 811.3 418 812.3L420.2 813.5Q422.1 814.5 422.9 816.5L423.8 818.8Q424.6 820.9 422.7 820.3L420.6 819.7Q418.8 819.2 416.6 817.7Z" fill="#f37028" stroke="none"/>
<path d="M422.9 816.5L423.8 818.8Q424.6 820.9 422.7 820.3M422.7 820.3L420.6 819.7Q418.8 819.2 416.6 817.7M416.6 817.7L414.2 816" fill="none"/>
<path d="M450.6 816.3Q449 814.5 452.2 813.5L455.7 812.3Q458.9 811.3 462.7 812.3L467 813.5Q470.8 814.5 472.9 816.8L475.4 819.4Q477.5 821.7 480.2 823.9L483.2 826.3Q485.9 828.4 487 830.6L488.2 833Q489.3 835.1 487.6 836.2L485.8 837.4Q484.2 838.5 484.8 840.4L485.4 842.5Q485.9 844.4 484.3 844.9L482.5 845.5Q480.9 846.1 479.8 847.9L478.6 850.1Q477.5 851.9 478.6 855.2L479.8 858.8Q480.9 862 479.8 863.6L478.6 865.4Q477.5 867 478 868.7L478.6 870.5Q479.2 872.1 477.6 871.8L475.8 871.5Q474.1 871.2 472.5 869.4L470.7 867.2Q469.1 865.4 467.5 863.7L465.7 861.9Q464.1 860.3 462.5 858.2L460.7 855.8Q459 853.6 462.3 854.7L465.9 855.9Q469.1 857 470.2 855.1L471.4 853Q472.5 851.1 471.9 849.5L471.3 847.7Q470.8 846.1 468.1 845.5L465.1 844.9Q462.4 844.4 461.3 843L460.1 841.5Q459 840.2 460.1 837.5L461.3 834.5Q462.4 831.8 461.9 829.1L461.3 826.1Q460.7 823.4 458.6 822.3L456.2 821.1Q454 820 452.4 818.3Z" fill="#f37028" stroke="none"/>
<path d="M472.9 816.8L475.4 819.4Q477.5 821.7 480.2 823.9M480.2 823.9L483.2 826.3Q485.9 828.4 487 830.6M487 830.6L488.2 833Q489.3 835.1 487.6 836.2M487.6 836.2L485.8 837.4Q484.2 838.5 484.8 840.4M484.8 840.4L485.4 842.5Q485.9 844.4 484.3 844.9M484.3 844.9L482.5 845.5Q480.9 846.1 479.8 847.9M479.8 847.9L478.6 850.1Q477.5 851.9 478.6 855.2M478.6 855.2L479.8 858.8Q480.9 862 479.8 863.6M479.8 863.6L478.6 865.4Q477.5 867 478 868.7M478 868.7L478.6 870.5Q479.2 872.1 477.6 871.8M477.6 871.8L475.8 871.5Q474.1 871.2 472.5 869.4M472.5 869.4L470.7 867.2Q469.1 865.4 467.5 863.7M467.5 863.7L465.7 861.9Q464.1 860.3 462.5 858.2M462.5 858.2L460.7 855.8Q459 853.6 462.3 854.7M462.3 854.7L465.9 855.9Q469.1 857 470.2 855.1M470.2 855.1L471.4 853Q472.5 851.1 471.9 849.5M471.9 849.5L471.3 847.7Q470.8 846.1 468.1 845.5M468.1 845.5L465.1 844.9Q462.4 844.4 461.3 843M461.3 843L460.1 841.5Q459 840.2 460.1 837.5M460.1 837.5L461.3 834.5Q462.4 831.8 461.9 829.1M461.9 829.1L461.3 826.1Q460.7 823.4 458.6 822.3M458.6 822.3L456.2 821.1Q454 820 452.4 818.3M452.4 818.3L450.6 816.3" fill="none"/>
<path d="M452.6 816Q451.5 814.5 452.4 813.7L453.5 812.7Q454.5 811.9 455.9 812.7L457.6 813.7Q459 814.5 459.6 816.3L460.2 818.3Q460.7 820 458.8 819.8L456.7 819.5Q454.8 819.2 453.8 817.7Z" fill="#ee3030" stroke="none"/>
<path d="M459.6 816.3L460.2 818.3Q460.7 820 458.8 819.8M458.8 819.8L456.7 819.5Q454.8 819.2 453.8 817.7M453.8 817.7L452.6 816" fill="none"/>
<path d="M470.5 821.6Q470 820 471.3 820.3L472.8 820.6Q474.1 820.9 476.3 823L478.7 825.4Q480.9 827.6 479.3 827.9L477.4 828.2Q475.8 828.4 474.5 827.4L473 826.1Q471.6 825.1 471.1 823.5Z" fill="#ee3030"/>
<path d="M464.6 837Q464.1 834.3 466 834.6L468.1 834.9Q470 835.1 470.5 837.3L471.1 839.7Q471.6 841.9 469.7 842.1L467.6 842.4Q465.8 842.7 465.2 840Z" fill="#ee3030"/>
<path d="M487.5 832.5Q485.9 830.1 487.5 829.3L489.3 828.4Q490.9 827.6 493.4 828.7L496.1 829.9Q498.5 830.9 499.8 832.8L501.3 834.9Q502.7 836.8 501.3 837.9L499.8 839.1Q498.5 840.2 496.1 839.4L493.4 838.5Q490.9 837.7 489.3 835.2Z" fill="#a3161b"/>
<path d="M491.7 832.3Q490.9 830.9 492.8 831.2L494.9 831.5Q496.8 831.8 497.6 833.1L498.5 834.6Q499.3 836 497.4 835.7L495.3 835.4Q493.5 835.1 492.6 833.8Z" fill="#5f6364"/>
<path d="M477.5 856.1Q476.7 854.4 478 853.6L479.5 852.7Q480.9 851.9 484.1 853.8L487.7 855.9Q490.9 857.8 493.4 860.2L496.1 862.9Q498.5 865.4 498.8 866.7L499.1 868.2Q499.3 869.6 497.7 870.1L495.9 870.7Q494.3 871.2 491.6 869.4L488.6 867.2Q485.9 865.4 483.8 863.5L481.3 861.4Q479.2 859.5 478.4 857.9Z" fill="#a3161b"/>
<path d="M487.7 861.3Q485.1 858.6 486.1 858.8L487.3 858.9Q488.4 859 490.8 861.3L493.6 863.9Q496 866.2 495.2 866.5L494.3 866.8Q493.5 867 490.8 864.4Z" fill="#5f6364"/>
<path d="M496.5 822.2Q495.1 820 497 819.8L499.1 819.5Q501 819.2 503.4 821.1L506.1 823.2Q508.6 825.1 508.3 827.8L508 830.8Q507.7 833.5 506.4 835.9L504.9 838.6Q503.5 841 502.7 838.6L501.8 835.9Q501 833.5 500.5 831.3L499.9 828.9Q499.3 826.8 498 824.6Z" fill="#f37028"/>
<path d="M481.1 815.7Q480.9 814.5 481.7 813.7L482.7 812.9Q483.5 812.1 484.8 812.9L486.3 813.7Q487.6 814.5 487.5 815.6L487.3 816.9Q487.2 818 485.5 818.1L483.5 818.2Q481.7 818.4 481.4 817.1Z" fill="#f37028" stroke="none"/>
<path d="M487.5 815.6L487.3 816.9Q487.2 818 485.5 818.1M485.5 818.1L483.5 818.2Q481.7 818.4 481.4 817.1M481.4 817.1L481.1 815.7" fill="none"/>
<path d="M443.9 865Q442.3 862.8 444.4 862L446.8 861.1Q449 860.3 451.7 861.1L454.7 862Q457.4 862.8 458.7 864.7L460.2 866.8Q461.6 868.7 459.7 869.5L457.6 870.4Q455.7 871.2 453 870.7L450 870.1Q447.3 869.6 445.7 867.4Z" fill="#f37028"/>
<path d="M467.6 886.8Q465.8 884.7 467.4 885.2L469.2 885.8Q470.8 886.3 472.7 888L474.8 889.8Q476.7 891.4 476.4 892.5L476.1 893.7Q475.8 894.7 474.5 893.7L473 892.5Q471.6 891.4 469.7 889.2Z" fill="#f37028"/>
<path d="M405.5 891.8Q406.5 887.2 408.3 888.3L410.3 889.5Q412 890.5 414.2 892.4L416.6 894.5Q418.8 896.4 421.4 897.2L424.5 898.1Q427.1 898.9 430.4 898.7L434 898.4Q437.2 898.1 437.5 898.9L437.8 899.8Q438.1 900.6 435.1 901.2L431.8 901.8Q428.8 902.3 428.8 904.4L428.8 906.9Q428.8 909 427.7 912L426.5 915.5Q425.5 918.5 422.8 919.5L419.8 920.7Q417.2 921.7 413.8 920.7L409.9 919.5Q406.5 918.5 405.5 913.1L404.3 907Q403.3 901.6 404.3 897Z" fill="#f37028" stroke="none"/>
<path d="M408.3 888.3L410.3 889.5Q412 890.5 414.2 892.4M414.2 892.4L416.6 894.5Q418.8 896.4 421.4 897.2M421.4 897.2L424.5 898.1Q427.1 898.9 430.4 898.7M430.4 898.7L434 898.4Q437.2 898.1 437.5 898.9M437.5 898.9L437.8 899.8Q438.1 900.6 435.1 901.2M435.1 901.2L431.8 901.8Q428.8 902.3 428.8 904.4M428.8 904.4L428.8 906.9Q428.8 909 427.7 912M427.7 912L426.5 915.5" fill="none"/>
<path d="M451.2 910.9Q450.6 907.3 452 906.5L453.5 905.6Q454.8 904.8 456.2 906.2L457.7 907.7Q459 909 458.5 912L457.9 915.5Q457.4 918.5 456.7 919.1L456 919.7Q455.4 920.3 454.4 919.7L453.3 919.1Q452.3 918.5 451.8 914.9Z" fill="#f37028" stroke="none"/>
<path d="M452 906.5L453.5 905.6Q454.8 904.8 456.2 906.2M456.2 906.2L457.7 907.7Q459 909 458.5 912M458.5 912L457.9 915.5M451.8 914.9L451.2 910.9Q450.6 907.3 452 906.5" fill="none"/>
<path d="M487.5 908.9Q485.1 907.3 486.9 903.8L489.1 899.9Q490.9 896.4 493.1 897L495.5 897.6Q497.6 898.1 499 900L500.5 902.1Q501.8 904 502.7 905.6L503.6 907.4Q504.4 909 507.6 912L511.2 915.5Q514.4 918.5 512.6 919.5L510.5 920.7Q508.7 921.7 506.2 920.7L503.5 919.5Q501 918.5 498.3 916.5L495.3 914.3Q492.6 912.4 490.2 910.8Z" fill="#f37028" stroke="none"/>
<path d="M486.9 903.8L489.1 899.9Q490.9 896.4 493.1 897M493.1 897L495.5 897.6Q497.6 898.1 499 900M499 900L500.5 902.1Q501.8 904 502.7 905.6M502.7 905.6L503.6 907.4Q504.4 909 507.6 912M507.6 912L511.2 915.5M498.3 916.5L495.3 914.3Q492.6 912.4 490.2 910.8M490.2 910.8L487.5 908.9Q485.1 907.3 486.9 903.8" fill="none"/>
<path d="M511 875Q510.2 872.1 511.6 871.5L513.1 870.9Q514.4 870.4 515.8 873.4L517.3 876.7Q518.6 879.6 516.8 880.2L514.6 880.8Q512.8 881.3 512 878.4Z" fill="#f37028"/>
<path d="M500.1 884.6Q498.5 883 501.4 882.5L504.8 881.8Q507.7 881.3 506.4 883.5L504.9 885.9Q503.5 888 501.9 886.4Z" fill="#f37028"/>
<path d="M516.1 866.4Q515.3 865.4 516.6 862.7L518.1 859.7Q519.5 857 520.4 857L521.5 857Q522.5 857 523.5 859.4L524.7 862.2Q525.7 864.6 524.7 866.5L523.5 868.6Q522.5 870.4 521 869.9L519.3 869.3Q517.8 868.7 517 867.6Z" fill="#f37028" stroke="none"/>
<path d="M516.6 862.7L518.1 859.7Q519.5 857 520.4 857M520.4 857L521.5 857M521 869.9L519.3 869.3Q517.8 868.7 517 867.6M517 867.6L516.1 866.4Q515.3 865.4 516.6 862.7" fill="none"/>
<path d="M518.1 841.5Q517.8 838.5 519.3 838.5L521 838.5Q522.5 838.5 523.5 840.4L524.7 842.6Q525.7 844.5 524.7 845.8L523.5 847.3Q522.5 848.6 521.3 848.3L519.9 848Q518.6 847.7 518.4 844.8Z" fill="#f37028" stroke="none"/>
<path d="M519.3 838.5L521 838.5M521.3 848.3L519.9 848Q518.6 847.7 518.4 844.8M518.4 844.8L518.1 841.5Q517.8 838.5 519.3 838.5" fill="none"/>
<path d="M499 815.7Q497.6 814.5 499.2 813.5L501 812.3Q502.6 811.3 504.8 812.3L507.2 813.5Q509.4 814.5 508.9 816.8L508.3 819.4Q507.7 821.7 505.8 820.6L503.7 819.4Q501.8 818.4 500.5 817.1Z" fill="#5eb95c" stroke="none"/>
<path d="M508.9 816.8L508.3 819.4Q507.7 821.7 505.8 820.6M505.8 820.6L503.7 819.4Q501.8 818.4 500.5 817.1M500.5 817.1L499 815.7" fill="none"/>
<path d="M450.6 823Q450.6 820 452.3 819.8L454.1 819.5Q455.7 819.2 456.8 821.6L458 824.3Q459 826.8 458.5 829.7L457.9 833Q457.4 836 455.7 835.7L453.9 835.4Q452.3 835.1 449.6 834.6L446.6 834Q443.9 833.5 443.7 832.4L443.4 831.2Q443.1 830.1 445.5 829.8L448.2 829.5Q450.6 829.3 450.6 826.3Z" fill="#5eb95c"/>
<path d="M437.7 849.4Q435.5 848.6 438 847.8L440.7 846.9Q443.1 846.1 445.2 847.7L447.7 849.5Q449.8 851.1 447.4 851.1L444.7 851.1Q442.3 851.1 440.1 850.3Z" fill="#5eb95c"/>
<path d="M461.5 848.5Q460.7 846.9 462.9 846.9L465.3 846.9Q467.4 846.9 468 848.5L468.6 850.3Q469.1 851.9 467.2 851.9L465.1 851.9Q463.2 851.9 462.4 850.3Z" fill="#5eb95c"/>
<path d="M415.1 851.2Q414.6 847.7 416.2 847.5L418 847.2Q419.6 846.9 420.4 849L421.3 851.5Q422.1 853.6 421.3 855.2L420.4 857Q419.6 858.6 419.3 860.8L419 863.2Q418.8 865.4 417.9 863.2L417 860.8Q416.2 858.6 415.7 855.2Z" fill="#5eb95c"/>
<path d="M487.5 850.2Q485.9 849.4 488 848.9L490.5 848.3Q492.6 847.7 493.2 845.9L493.8 843.7Q494.3 841.9 496.4 842.4L498.9 843Q501 843.5 503.2 844.9L505.6 846.4Q507.7 847.7 509.6 846.7L511.7 845.5Q513.6 844.4 513.9 846.8L514.2 849.5Q514.4 851.9 513.4 854.1L512.2 856.5Q511.1 858.6 508.9 860.3L506.5 862.1Q504.4 863.7 503.3 862.6L502.1 861.4Q501 860.3 499.4 858.2L497.6 855.8Q496 853.6 494.4 853.1L492.5 852.5Q490.9 851.9 489.3 851.1Z" fill="#5eb95c"/>
<path d="M484.2 869.5Q483.4 867.9 485.3 868.1L487.4 868.4Q489.3 868.7 491.4 870.1L493.8 871.6Q496 872.9 497.6 872.4L499.4 871.8Q501 871.2 502.6 869.9L504.4 868.4Q506 867 507.1 869.2L508.3 871.6Q509.4 873.8 509.1 875.6L508.8 877.7Q508.6 879.6 506.1 879.6L503.4 879.6Q501 879.6 498.3 878.8L495.3 877.9Q492.6 877.1 490.5 875.8L488 874.3Q485.9 872.9 485.1 871.3Z" fill="#5eb95c"/>
<path d="M413.1 884.3Q411.2 883 412.8 882.2L414.6 881.3Q416.2 880.5 417.6 881.3L419.1 882.2Q420.4 883 419.4 884.3L418.1 885.8Q417.1 887.2 415.2 885.8Z" fill="#5eb95c"/>
<path d="M433.9 914.6Q433.9 912.7 436.5 912.6L439.6 912.5Q442.3 912.4 442.3 914.3L442.3 916.5Q442.3 918.5 441.2 919.4L440 920.5Q438.9 921.4 437.3 920.5L435.5 919.4Q433.9 918.5 433.9 916.6Z" fill="#5eb95c" stroke="none"/>
<path d="M436.5 912.6L439.6 912.5Q442.3 912.4 442.3 914.3M442.3 914.3L442.3 916.5M433.9 916.6L433.9 914.6Q433.9 912.7 436.5 912.6" fill="none"/>
</g>
<g stroke="#1a1a1a" stroke-width="1.5" fill="none">
<path d="M62.3 506.0 V915.6 H522.6"/>
<path d="M147.9 915.6 v-10.5" stroke-width="1.3"/>
<path d="M242.3 915.6 v-10.5" stroke-width="1.3"/>
<path d="M333.0 915.6 v-10.5" stroke-width="1.3"/>
<path d="M426.8 915.6 v-10.5" stroke-width="1.3"/>
<path d="M521.4 915.6 v-10.5" stroke-width="1.3"/>
<path d="M62.3 839.1 h11" stroke-width="1.3"/>
<path d="M62.3 757.2 h11" stroke-width="1.3"/>
<path d="M62.3 674.3 h11" stroke-width="1.3"/>
<path d="M62.3 593.5 h11" stroke-width="1.3"/>
<path d="M62.3 510.3 h11" stroke-width="1.3"/>
</g>
<rect x="558.2" y="17.50" width="66.3" height="23.35" fill="#000000"/>
<rect x="558.2" y="40.55" width="66.3" height="23.35" fill="#2255a4"/>
<rect x="558.2" y="63.60" width="66.3" height="23.35" fill="#2f67b1"/>
<rect x="558.2" y="86.65" width="66.3" height="23.35" fill="#5bc8d8"/>
<rect x="558.2" y="109.70" width="66.3" height="23.35" fill="#5eb95c"/>
<rect x="558.2" y="132.75" width="66.3" height="23.35" fill="#62bb46"/>
<rect x="558.2" y="155.80" width="66.3" height="23.35" fill="#f0e826"/>
<rect x="558.2" y="178.85" width="66.3" height="23.35" fill="#f37028"/>
<rect x="558.2" y="201.90" width="66.3" height="23.35" fill="#ee3030"/>
<rect x="558.2" y="224.95" width="66.3" height="23.35" fill="#5f6364"/>
<rect x="556.5" y="504.20" width="66.3" height="23.61" fill="#000000"/>
<rect x="556.5" y="527.51" width="66.3" height="23.61" fill="#2255a4"/>
<rect x="556.5" y="550.82" width="66.3" height="23.61" fill="#2f67b1"/>
<rect x="556.5" y="574.13" width="66.3" height="23.61" fill="#5bc8d8"/>
<rect x="556.5" y="597.44" width="66.3" height="23.61" fill="#5eb95c"/>
<rect x="556.5" y="620.75" width="66.3" height="23.61" fill="#62bb46"/>
<rect x="556.5" y="644.06" width="66.3" height="23.61" fill="#f0e826"/>
<rect x="556.5" y="667.37" width="66.3" height="23.61" fill="#f37028"/>
<rect x="556.5" y="690.68" width="66.3" height="23.61" fill="#ee3030"/>
<rect x="556.5" y="713.99" width="66.3" height="23.61" fill="#5f6364"/>
<g font-family="'Liberation Serif', 'DejaVu Serif', serif" fill="#1a1a1a">
<text transform="translate(62.4,25.3) scale(0.895,1)" font-size="31.5px" text-anchor="end">10</text>
<text transform="translate(62.4,106.6) scale(0.895,1)" font-size="31.5px" text-anchor="end">8</text>
<text transform="translate(62.4,189.0) scale(0.895,1)" font-size="31.5px" text-anchor="end">6</text>
<text transform="translate(62.4,270.3) scale(0.895,1)" font-size="31.5px" text-anchor="end">4</text>
<text transform="translate(62.4,352.8) scale(0.895,1)" font-size="31.5px" text-anchor="end">2</text>
<text transform="translate(154.4,450.6) scale(0.895,1)" font-size="31.5px" text-anchor="middle">2</text>
<text transform="translate(249.6,450.6) scale(0.895,1)" font-size="31.5px" text-anchor="middle">4</text>
<text transform="translate(336.8,450.6) scale(0.895,1)" font-size="31.5px" text-anchor="middle">6</text>
<text transform="translate(430.8,450.6) scale(0.895,1)" font-size="31.5px" text-anchor="middle">8</text>
<text transform="translate(528.4,450.6) scale(0.895,1)" font-size="31.5px" text-anchor="middle">10</text>
<text transform="translate(55.0,519.3) scale(0.895,1)" font-size="31.5px" text-anchor="end">10</text>
<text transform="translate(55.0,601.0) scale(0.895,1)" font-size="31.5px" text-anchor="end">8</text>
<text transform="translate(55.0,683.0) scale(0.895,1)" font-size="31.5px" text-anchor="end">6</text>
<text transform="translate(55.0,765.0) scale(0.895,1)" font-size="31.5px" text-anchor="end">4</text>
<text transform="translate(55.0,846.5) scale(0.895,1)" font-size="31.5px" text-anchor="end">2</text>
<text transform="translate(147.9,944.2) scale(0.895,1)" font-size="31.5px" text-anchor="middle">2</text>
<text transform="translate(243.0,944.2) scale(0.895,1)" font-size="31.5px" text-anchor="middle">4</text>
<text transform="translate(330.0,944.2) scale(0.895,1)" font-size="31.5px" text-anchor="middle">6</text>
<text transform="translate(423.8,944.2) scale(0.895,1)" font-size="31.5px" text-anchor="middle">8</text>
<text transform="translate(522.5,944.2) scale(0.895,1)" font-size="31.5px" text-anchor="middle">10</text>
<text transform="translate(259.5,477.5) scale(0.995,1)" font-size="32.4px" text-anchor="start"><tspan font-style="italic">X</tspan>, μm</text>
<text transform="translate(253.7,970.6) scale(0.995,1)" font-size="32.4px" text-anchor="start"><tspan font-style="italic">X</tspan>, μm</text>
<text transform="translate(28.0,241.7) rotate(-90) scale(0.995,1)" font-size="32.4px" text-anchor="start"><tspan font-style="italic">Y</tspan>, μm</text>
<text transform="translate(31.0,715.6) rotate(-90) scale(0.995,1)" font-size="32.4px" text-anchor="start"><tspan font-style="italic">Y</tspan>, μm</text>
<text transform="translate(549.6,299.8) scale(1.080,1)" font-size="30.9px" text-anchor="start">σ, MPa</text>
<text transform="translate(552.9,789.9) scale(1.080,1)" font-size="30.9px" text-anchor="start">σ, MPa</text>
<text transform="translate(633.6,40.1) scale(0.975,1)" font-size="25.0px" text-anchor="start">20</text>
<text transform="translate(633.6,87.7) scale(0.975,1)" font-size="25.0px" text-anchor="start">0</text>
<text transform="translate(632.7,140.5) scale(1.300,1)" font-size="25.0px" text-anchor="start">−</text><text transform="translate(651.6,138.2) scale(0.910,1)" font-size="25.0px" text-anchor="start">20</text>
<text transform="translate(632.7,193.8) scale(1.300,1)" font-size="25.0px" text-anchor="start">−</text><text transform="translate(651.6,191.5) scale(0.910,1)" font-size="25.0px" text-anchor="start">60</text>
<text transform="translate(632.7,246.8) scale(1.300,1)" font-size="25.0px" text-anchor="start">−</text><text transform="translate(652.0,244.5) scale(0.860,1)" font-size="25.0px" text-anchor="start">120</text>
<text transform="translate(632.6,526.3) scale(0.975,1)" font-size="25.0px" text-anchor="start">20</text>
<text transform="translate(632.6,574.5) scale(0.975,1)" font-size="25.0px" text-anchor="start">0</text>
<text transform="translate(631.7,626.9) scale(1.300,1)" font-size="25.0px" text-anchor="start">−</text><text transform="translate(650.6,624.6) scale(0.910,1)" font-size="25.0px" text-anchor="start">20</text>
<text transform="translate(631.7,679.7) scale(1.300,1)" font-size="25.0px" text-anchor="start">−</text><text transform="translate(650.6,677.4) scale(0.910,1)" font-size="25.0px" text-anchor="start">60</text>
<text transform="translate(631.7,732.7) scale(1.300,1)" font-size="25.0px" text-anchor="start">−</text><text transform="translate(651.0,730.4) scale(0.860,1)" font-size="25.0px" text-anchor="start">120</text>
</g>
</svg>
</body></html>
